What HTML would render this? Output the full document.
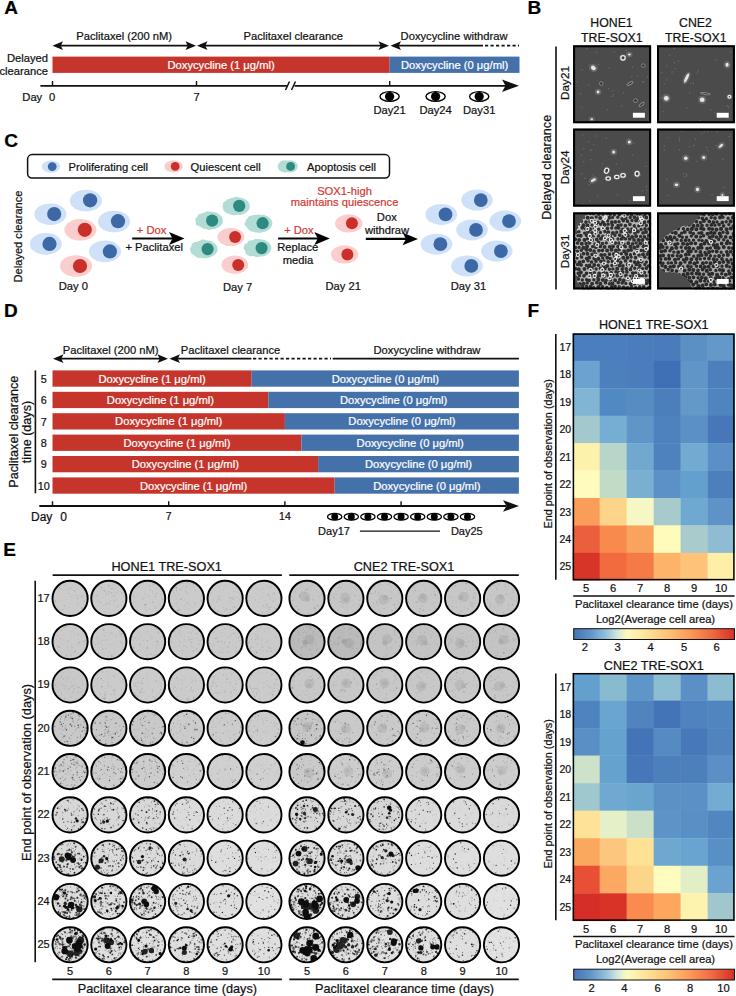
<!DOCTYPE html>
<html><head><meta charset="utf-8"><style>
html,body{margin:0;padding:0;background:#fff;}
svg{display:block;font-family:"Liberation Sans", sans-serif;}
</style></head><body>
<svg width="736" height="996" viewBox="0 0 736 996" font-family='"Liberation Sans", sans-serif'>
<rect width="736" height="996" fill="#fff"/>
<text x="4.30" y="13.60" font-size="19" text-anchor="start" fill="#000" stroke="#000" stroke-width="0.22" font-weight="bold">A</text>
<text x="527.40" y="13.90" font-size="19" text-anchor="start" fill="#000" stroke="#000" stroke-width="0.22" font-weight="bold">B</text>
<text x="4.20" y="146.60" font-size="19" text-anchor="start" fill="#000" stroke="#000" stroke-width="0.22" font-weight="bold">C</text>
<text x="4.10" y="317.00" font-size="19" text-anchor="start" fill="#000" stroke="#000" stroke-width="0.22" font-weight="bold">D</text>
<text x="3.30" y="555.70" font-size="19" text-anchor="start" fill="#000" stroke="#000" stroke-width="0.22" font-weight="bold">E</text>
<text x="527.40" y="317.20" font-size="19" text-anchor="start" fill="#000" stroke="#000" stroke-width="0.22" font-weight="bold">F</text>
<line x1="55.50" y1="45.70" x2="193.00" y2="45.70" stroke="#111" stroke-width="1.7"/>
<path d="M52.50,45.70 L63.00,41.30 L60.80,45.70 L63.00,50.10 Z" fill="#111"/>
<path d="M196.00,45.70 L185.50,41.30 L187.70,45.70 L185.50,50.10 Z" fill="#111"/>
<line x1="200.00" y1="45.70" x2="386.00" y2="45.70" stroke="#111" stroke-width="1.7"/>
<path d="M197.00,45.70 L207.50,41.30 L205.30,45.70 L207.50,50.10 Z" fill="#111"/>
<path d="M389.00,45.70 L378.50,41.30 L380.70,45.70 L378.50,50.10 Z" fill="#111"/>
<path d="M390.50,45.70 L401.00,41.30 L398.80,45.70 L401.00,50.10 Z" fill="#111"/>
<line x1="393.00" y1="45.70" x2="483.00" y2="45.70" stroke="#111" stroke-width="1.7"/>
<line x1="485.00" y1="45.70" x2="519.00" y2="45.70" stroke="#111" stroke-width="1.7" stroke-dasharray="3.2,2.3"/>
<text x="76.30" y="39.60" font-size="11.2" text-anchor="start" fill="#111" stroke="#111" stroke-width="0.22">Paclitaxel (200 nM)</text>
<text x="243.50" y="39.60" font-size="11.2" text-anchor="start" fill="#111" stroke="#111" stroke-width="0.22">Paclitaxel clearance</text>
<text x="400.60" y="39.60" font-size="11.2" text-anchor="start" fill="#111" stroke="#111" stroke-width="0.22">Doxycycline withdraw</text>
<rect x="52.50" y="56.60" width="337.20" height="16.30" fill="#c5352c"/>
<rect x="389.70" y="56.60" width="129.80" height="16.30" fill="#4571ab"/>
<text x="221.10" y="68.60" font-size="11.2" text-anchor="middle" fill="#fff" stroke="#fff" stroke-width="0.22">Doxycycline (1 μg/ml)</text>
<text x="454.60" y="68.60" font-size="11.2" text-anchor="middle" fill="#fff" stroke="#fff" stroke-width="0.22">Doxycycline (0 μg/ml)</text>
<text x="48.00" y="62.30" font-size="11.2" text-anchor="end" fill="#111" stroke="#111" stroke-width="0.22">Delayed</text>
<text x="48.00" y="74.80" font-size="11.2" text-anchor="end" fill="#111" stroke="#111" stroke-width="0.22">clearance</text>
<line x1="40.40" y1="85.80" x2="287.50" y2="85.80" stroke="#111" stroke-width="1.8"/>
<line x1="294.50" y1="85.80" x2="508.00" y2="85.80" stroke="#111" stroke-width="1.8"/>
<path d="M519,85.8 L502,79.6 L505.5,85.8 L502,92 Z" fill="#111"/>
<line x1="285.50" y1="90.00" x2="289.50" y2="81.50" stroke="#111" stroke-width="1.5"/>
<line x1="291.50" y1="90.00" x2="295.50" y2="81.50" stroke="#111" stroke-width="1.5"/>
<line x1="52.50" y1="81.00" x2="52.50" y2="85.80" stroke="#111" stroke-width="1.4"/>
<line x1="196.50" y1="81.00" x2="196.50" y2="85.80" stroke="#111" stroke-width="1.4"/>
<line x1="389.70" y1="81.00" x2="389.70" y2="85.80" stroke="#111" stroke-width="1.4"/>
<text x="22.30" y="100.60" font-size="11.2" text-anchor="start" fill="#111" stroke="#111" stroke-width="0.22">Day</text>
<text x="52.20" y="100.60" font-size="11.2" text-anchor="middle" fill="#111" stroke="#111" stroke-width="0.22">0</text>
<text x="196.50" y="100.60" font-size="11.2" text-anchor="middle" fill="#111" stroke="#111" stroke-width="0.22">7</text>
<ellipse cx="389.60" cy="96.50" rx="9.60" ry="4.90" fill="#fff" stroke="#000" stroke-width="1.4"/>
<circle cx="389.60" cy="96.50" r="4.60" fill="#000"/>
<text x="389.60" y="114.40" font-size="11.2" text-anchor="middle" fill="#111" stroke="#111" stroke-width="0.22">Day21</text>
<ellipse cx="435.60" cy="96.50" rx="9.60" ry="4.90" fill="#fff" stroke="#000" stroke-width="1.4"/>
<circle cx="435.60" cy="96.50" r="4.60" fill="#000"/>
<text x="435.60" y="114.40" font-size="11.2" text-anchor="middle" fill="#111" stroke="#111" stroke-width="0.22">Day24</text>
<ellipse cx="479.20" cy="96.50" rx="9.60" ry="4.90" fill="#fff" stroke="#000" stroke-width="1.4"/>
<circle cx="479.20" cy="96.50" r="4.60" fill="#000"/>
<text x="479.20" y="114.40" font-size="11.2" text-anchor="middle" fill="#111" stroke="#111" stroke-width="0.22">Day31</text>
<rect x="27.6" y="154.6" width="361.9" height="23.4" rx="4.5" fill="none" stroke="#111" stroke-width="1.5"/>
<ellipse cx="50.90" cy="166.60" rx="9.20" ry="6.10" fill="#cfe1f8"/>
<circle cx="52.20" cy="166.60" r="4.40" fill="#3c68a5"/>
<text x="68.50" y="170.70" font-size="11.2" text-anchor="start" fill="#111" stroke="#111" stroke-width="0.22">Proliferating cell</text>
<ellipse cx="173.60" cy="166.40" rx="9.20" ry="6.10" fill="#fbcdcd"/>
<circle cx="175.20" cy="166.40" r="4.40" fill="#c9302a"/>
<text x="190.50" y="170.70" font-size="11.2" text-anchor="start" fill="#111" stroke="#111" stroke-width="0.22">Quiescent cell</text>
<ellipse cx="285.2" cy="166.4" rx="7.5" ry="6.1" fill="#b2ddd5"/>
<ellipse cx="290.20" cy="166.40" rx="7.50" ry="6.10" fill="#b2ddd5"/>
<circle cx="290.60" cy="166.40" r="4.40" fill="#2e8a80"/>
<text x="307.00" y="170.70" font-size="11.2" text-anchor="start" fill="#111" stroke="#111" stroke-width="0.22">Apoptosis cell</text>
<text transform="translate(22.00,236.50) rotate(-90)" x="0" y="0" font-size="11.1" text-anchor="middle" fill="#111" stroke="#111" stroke-width="0.22">Delayed clearance</text>
<ellipse cx="85.90" cy="200.60" rx="16.00" ry="10.80" fill="#cfe1f8"/>
<circle cx="90.10" cy="200.30" r="7.10" fill="#3c68a5"/>
<ellipse cx="50.40" cy="214.20" rx="16.00" ry="10.80" fill="#cfe1f8"/>
<circle cx="54.20" cy="214.10" r="7.10" fill="#3c68a5"/>
<ellipse cx="114.00" cy="221.50" rx="16.00" ry="10.80" fill="#cfe1f8"/>
<circle cx="118.00" cy="221.20" r="7.10" fill="#3c68a5"/>
<ellipse cx="80.40" cy="229.80" rx="16.00" ry="10.80" fill="#fbcdcd"/>
<circle cx="84.80" cy="229.80" r="7.10" fill="#c9302a"/>
<ellipse cx="45.80" cy="243.90" rx="16.00" ry="10.80" fill="#cfe1f8"/>
<circle cx="49.50" cy="243.90" r="7.10" fill="#3c68a5"/>
<ellipse cx="105.00" cy="251.40" rx="16.00" ry="10.80" fill="#cfe1f8"/>
<circle cx="109.90" cy="251.40" r="7.10" fill="#3c68a5"/>
<ellipse cx="76.10" cy="266.00" rx="16.00" ry="10.80" fill="#fbcdcd"/>
<circle cx="80.00" cy="266.00" r="7.10" fill="#c9302a"/>
<text x="73.30" y="290.40" font-size="11.2" text-anchor="middle" fill="#111" stroke="#111" stroke-width="0.22">Day 0</text>
<path d="M249.8,206.3 L249.6,207.9 L249.0,209.4 L248.0,210.9 L246.6,212.2 L244.9,213.3 L242.9,214.3 L240.7,214.9 L238.3,214.8 L236.0,215.1 L233.5,215.6 L231.3,214.8 L229.3,214.0 L227.2,213.3 L225.2,212.3 L224.1,210.9 L223.2,209.4 L222.9,207.8 L222.5,206.3 L223.2,204.8 L222.8,203.1 L224.0,201.7 L226.0,200.7 L227.4,199.5 L229.4,198.7 L231.5,198.0 L233.7,197.5 L236.0,196.8 L238.4,197.2 L240.7,197.7 L242.9,198.3 L244.9,199.3 L246.6,200.4 L248.0,201.7 L249.0,203.2 L249.6,204.7Z" fill="#b2ddd5"/>
<circle cx="239.20" cy="205.90" r="6.10" fill="#2e8a80"/>
<path d="M222.9,220.6 L222.7,222.2 L222.1,223.7 L221.1,225.2 L219.7,226.5 L218.0,227.6 L216.0,228.6 L213.8,229.2 L211.4,229.2 L209.1,230.2 L206.8,229.3 L204.5,229.0 L202.5,228.2 L200.7,227.3 L199.2,226.2 L196.7,225.4 L195.8,223.8 L196.1,222.1 L195.2,220.6 L195.2,219.0 L196.5,217.5 L197.8,216.2 L198.1,214.4 L200.6,213.9 L202.6,213.1 L204.6,212.4 L206.6,211.2 L209.1,211.4 L211.4,211.8 L213.8,212.0 L216.0,212.6 L218.0,213.6 L219.7,214.7 L221.1,216.0 L222.1,217.5 L222.7,219.0Z" fill="#b2ddd5"/>
<circle cx="212.10" cy="220.60" r="6.10" fill="#2e8a80"/>
<path d="M272.4,223.4 L272.2,225.0 L271.6,226.5 L270.6,228.0 L269.2,229.3 L267.5,230.4 L265.5,231.4 L263.3,232.0 L261.1,232.7 L258.6,232.7 L256.2,232.6 L253.9,232.1 L251.6,231.4 L249.5,230.6 L248.3,229.2 L247.1,227.8 L246.3,226.4 L244.7,225.0 L244.4,223.4 L245.9,221.9 L245.5,220.2 L247.2,219.0 L247.8,217.4 L249.4,216.1 L251.7,215.4 L254.0,214.9 L256.3,214.8 L258.6,214.5 L260.9,214.9 L263.3,214.8 L265.5,215.4 L267.5,216.4 L269.2,217.5 L270.6,218.8 L271.6,220.3 L272.2,221.8Z" fill="#b2ddd5"/>
<circle cx="262.60" cy="223.20" r="6.10" fill="#2e8a80"/>
<ellipse cx="230.90" cy="236.90" rx="13.40" ry="9.20" fill="#fbcdcd"/>
<circle cx="235.10" cy="236.90" r="6.00" fill="#c9302a"/>
<path d="M217.6,249.1 L217.4,250.7 L216.8,252.2 L215.8,253.7 L214.4,255.0 L212.7,256.1 L210.7,257.1 L208.5,257.7 L206.2,258.2 L203.8,258.4 L201.5,257.7 L199.0,257.9 L196.8,257.2 L195.0,256.1 L193.5,254.8 L191.7,253.8 L190.8,252.3 L190.3,250.7 L189.9,249.1 L190.4,247.5 L191.6,246.1 L191.5,244.4 L192.9,243.0 L194.9,242.1 L197.4,241.7 L199.4,241.0 L201.3,239.7 L203.8,239.5 L206.1,240.3 L208.5,240.5 L210.7,241.1 L212.7,242.1 L214.4,243.2 L215.8,244.5 L216.8,246.0 L217.4,247.5Z" fill="#b2ddd5"/>
<circle cx="207.60" cy="249.10" r="6.10" fill="#2e8a80"/>
<path d="M271.4,248.0 L271.2,249.6 L270.6,251.1 L269.6,252.6 L268.2,253.9 L266.5,255.0 L264.5,256.0 L262.3,256.6 L259.9,256.6 L257.6,257.2 L255.3,256.7 L253.2,256.1 L250.5,256.2 L248.3,255.4 L246.6,254.2 L245.4,252.7 L245.3,251.0 L244.2,249.6 L243.5,248.0 L244.3,246.4 L244.1,244.7 L246.3,243.6 L247.7,242.5 L248.4,240.7 L251.1,240.4 L253.2,239.9 L255.2,239.0 L257.6,238.9 L259.9,239.3 L262.3,239.4 L264.5,240.0 L266.5,241.0 L268.2,242.1 L269.6,243.4 L270.6,244.9 L271.2,246.4Z" fill="#b2ddd5"/>
<circle cx="261.60" cy="248.10" r="6.10" fill="#2e8a80"/>
<ellipse cx="234.90" cy="264.80" rx="13.40" ry="9.20" fill="#fbcdcd"/>
<circle cx="238.20" cy="265.00" r="6.00" fill="#c9302a"/>
<text x="237.50" y="290.50" font-size="11.2" text-anchor="middle" fill="#111" stroke="#111" stroke-width="0.22">Day 7</text>
<line x1="132.20" y1="238.50" x2="174.50" y2="238.50" stroke="#000" stroke-width="2.2"/>
<path d="M184.50,238.50 L169.00,232.10 L172.50,238.50 L169.00,244.90 Z" fill="#000"/>
<text x="151.60" y="233.80" font-size="11.2" text-anchor="middle" fill="#d23b33" stroke="#d23b33" stroke-width="0.22">+ Dox</text>
<text x="154.20" y="251.10" font-size="11.2" text-anchor="middle" fill="#111" stroke="#111" stroke-width="0.22">+ Paclitaxel</text>
<line x1="278.10" y1="238.50" x2="319.80" y2="238.50" stroke="#000" stroke-width="2.2"/>
<path d="M329.80,238.50 L314.30,232.10 L317.80,238.50 L314.30,244.90 Z" fill="#000"/>
<text x="298.90" y="234.00" font-size="11.2" text-anchor="middle" fill="#d23b33" stroke="#d23b33" stroke-width="0.22">+ Dox</text>
<text x="297.70" y="251.30" font-size="11.2" text-anchor="middle" fill="#111" stroke="#111" stroke-width="0.22">Replace</text>
<text x="297.90" y="263.60" font-size="11.2" text-anchor="middle" fill="#111" stroke="#111" stroke-width="0.22">media</text>
<text x="344.50" y="195.30" font-size="11.2" text-anchor="middle" fill="#d23b33" stroke="#d23b33" stroke-width="0.22">SOX1-high</text>
<text x="344.60" y="206.10" font-size="11.2" text-anchor="middle" fill="#d23b33" stroke="#d23b33" stroke-width="0.22">maintains quiescence</text>
<ellipse cx="348.80" cy="223.40" rx="13.70" ry="9.20" fill="#fbcdcd"/>
<circle cx="351.90" cy="223.20" r="6.00" fill="#c9302a"/>
<ellipse cx="344.60" cy="254.40" rx="13.70" ry="9.20" fill="#fbcdcd"/>
<circle cx="347.40" cy="254.40" r="6.00" fill="#c9302a"/>
<text x="343.20" y="290.00" font-size="11.2" text-anchor="middle" fill="#111" stroke="#111" stroke-width="0.22">Day 21</text>
<line x1="365.80" y1="238.90" x2="408.00" y2="238.90" stroke="#000" stroke-width="2.2"/>
<path d="M418.00,238.90 L402.50,232.50 L406.00,238.90 L402.50,245.30 Z" fill="#000"/>
<text x="386.80" y="221.00" font-size="11.2" text-anchor="middle" fill="#111" stroke="#111" stroke-width="0.22">Dox</text>
<text x="387.00" y="233.60" font-size="11.2" text-anchor="middle" fill="#111" stroke="#111" stroke-width="0.22">withdraw</text>
<ellipse cx="477.00" cy="200.10" rx="15.80" ry="10.50" fill="#cfe1f8"/>
<circle cx="480.80" cy="200.10" r="6.90" fill="#3c68a5"/>
<ellipse cx="441.30" cy="214.40" rx="15.80" ry="10.50" fill="#cfe1f8"/>
<circle cx="445.50" cy="214.40" r="6.90" fill="#3c68a5"/>
<ellipse cx="505.30" cy="221.10" rx="15.80" ry="10.50" fill="#cfe1f8"/>
<circle cx="509.00" cy="221.10" r="6.90" fill="#3c68a5"/>
<ellipse cx="472.00" cy="229.90" rx="15.80" ry="10.50" fill="#cfe1f8"/>
<circle cx="476.00" cy="229.90" r="6.90" fill="#3c68a5"/>
<ellipse cx="436.50" cy="244.20" rx="15.80" ry="10.50" fill="#cfe1f8"/>
<circle cx="440.40" cy="244.20" r="6.90" fill="#3c68a5"/>
<ellipse cx="496.80" cy="251.10" rx="15.80" ry="10.50" fill="#cfe1f8"/>
<circle cx="500.90" cy="251.10" r="6.90" fill="#3c68a5"/>
<ellipse cx="467.00" cy="265.90" rx="15.80" ry="10.50" fill="#cfe1f8"/>
<circle cx="471.30" cy="265.90" r="6.90" fill="#3c68a5"/>
<text x="468.50" y="289.70" font-size="11.2" text-anchor="middle" fill="#111" stroke="#111" stroke-width="0.22">Day 31</text>
<line x1="56.00" y1="358.70" x2="165.00" y2="358.70" stroke="#111" stroke-width="1.7"/>
<path d="M53.00,358.70 L63.50,354.30 L61.30,358.70 L63.50,363.10 Z" fill="#111"/>
<path d="M168.00,358.70 L157.50,354.30 L159.70,358.70 L157.50,363.10 Z" fill="#111"/>
<path d="M169.50,358.70 L180.00,354.30 L177.80,358.70 L180.00,363.10 Z" fill="#111"/>
<line x1="172.00" y1="358.70" x2="251.40" y2="358.70" stroke="#111" stroke-width="1.7"/>
<line x1="253.00" y1="358.70" x2="331.00" y2="358.70" stroke="#111" stroke-width="1.7" stroke-dasharray="3.2,2.3"/>
<line x1="332.70" y1="358.70" x2="518.90" y2="358.70" stroke="#111" stroke-width="1.7"/>
<text x="62.80" y="354.10" font-size="11.2" text-anchor="start" fill="#111" stroke="#111" stroke-width="0.22">Paclitaxel (200 nM)</text>
<text x="180.80" y="353.90" font-size="11.2" text-anchor="start" fill="#111" stroke="#111" stroke-width="0.22">Paclitaxel clearance</text>
<text x="373.50" y="353.90" font-size="11.2" text-anchor="start" fill="#111" stroke="#111" stroke-width="0.22">Doxycycline withdraw</text>
<rect x="52.50" y="370.40" width="199.20" height="16.30" fill="#c5352c"/>
<rect x="251.70" y="370.40" width="267.20" height="16.30" fill="#4571ab"/>
<text x="152.10" y="382.50" font-size="11.2" text-anchor="middle" fill="#fff" stroke="#fff" stroke-width="0.22">Doxycycline (1 μg/ml)</text>
<text x="385.30" y="382.50" font-size="11.2" text-anchor="middle" fill="#fff" stroke="#fff" stroke-width="0.22">Doxycycline (0 μg/ml)</text>
<text x="43.70" y="382.80" font-size="10.8" text-anchor="middle" fill="#111" stroke="#111" stroke-width="0.22">5</text>
<rect x="52.50" y="391.80" width="215.80" height="16.30" fill="#c5352c"/>
<rect x="268.30" y="391.80" width="250.60" height="16.30" fill="#4571ab"/>
<text x="160.40" y="403.90" font-size="11.2" text-anchor="middle" fill="#fff" stroke="#fff" stroke-width="0.22">Doxycycline (1 μg/ml)</text>
<text x="393.60" y="403.90" font-size="11.2" text-anchor="middle" fill="#fff" stroke="#fff" stroke-width="0.22">Doxycycline (0 μg/ml)</text>
<text x="43.70" y="404.20" font-size="10.8" text-anchor="middle" fill="#111" stroke="#111" stroke-width="0.22">6</text>
<rect x="52.50" y="413.20" width="232.40" height="16.30" fill="#c5352c"/>
<rect x="284.90" y="413.20" width="234.00" height="16.30" fill="#4571ab"/>
<text x="168.70" y="425.30" font-size="11.2" text-anchor="middle" fill="#fff" stroke="#fff" stroke-width="0.22">Doxycycline (1 μg/ml)</text>
<text x="401.90" y="425.30" font-size="11.2" text-anchor="middle" fill="#fff" stroke="#fff" stroke-width="0.22">Doxycycline (0 μg/ml)</text>
<text x="43.70" y="425.60" font-size="10.8" text-anchor="middle" fill="#111" stroke="#111" stroke-width="0.22">7</text>
<rect x="52.50" y="434.60" width="249.00" height="16.30" fill="#c5352c"/>
<rect x="301.50" y="434.60" width="217.40" height="16.30" fill="#4571ab"/>
<text x="177.00" y="446.70" font-size="11.2" text-anchor="middle" fill="#fff" stroke="#fff" stroke-width="0.22">Doxycycline (1 μg/ml)</text>
<text x="410.20" y="446.70" font-size="11.2" text-anchor="middle" fill="#fff" stroke="#fff" stroke-width="0.22">Doxycycline (0 μg/ml)</text>
<text x="43.70" y="447.00" font-size="10.8" text-anchor="middle" fill="#111" stroke="#111" stroke-width="0.22">8</text>
<rect x="52.50" y="456.00" width="265.60" height="16.30" fill="#c5352c"/>
<rect x="318.10" y="456.00" width="200.80" height="16.30" fill="#4571ab"/>
<text x="185.30" y="468.10" font-size="11.2" text-anchor="middle" fill="#fff" stroke="#fff" stroke-width="0.22">Doxycycline (1 μg/ml)</text>
<text x="418.50" y="468.10" font-size="11.2" text-anchor="middle" fill="#fff" stroke="#fff" stroke-width="0.22">Doxycycline (0 μg/ml)</text>
<text x="43.70" y="468.40" font-size="10.8" text-anchor="middle" fill="#111" stroke="#111" stroke-width="0.22">9</text>
<rect x="52.50" y="477.40" width="282.20" height="16.30" fill="#c5352c"/>
<rect x="334.70" y="477.40" width="184.20" height="16.30" fill="#4571ab"/>
<text x="193.60" y="489.50" font-size="11.2" text-anchor="middle" fill="#fff" stroke="#fff" stroke-width="0.22">Doxycycline (1 μg/ml)</text>
<text x="426.80" y="489.50" font-size="11.2" text-anchor="middle" fill="#fff" stroke="#fff" stroke-width="0.22">Doxycycline (0 μg/ml)</text>
<text x="43.70" y="489.80" font-size="10.8" text-anchor="middle" fill="#111" stroke="#111" stroke-width="0.22">10</text>
<line x1="35.40" y1="370.40" x2="35.40" y2="493.30" stroke="#111" stroke-width="1.6"/>
<text transform="translate(18.20,431.70) rotate(-90)" x="0" y="0" font-size="12.6" text-anchor="middle" fill="#111" stroke="#111" stroke-width="0.22">Paclitaxel clearance</text>
<text transform="translate(30.90,432.00) rotate(-90)" x="0" y="0" font-size="12.6" text-anchor="middle" fill="#111" stroke="#111" stroke-width="0.22">time (days)</text>
<line x1="39.30" y1="506.00" x2="506.00" y2="506.00" stroke="#111" stroke-width="1.8"/>
<path d="M519,506 L503,500.3 L506.5,506 L503,511.7 Z" fill="#111"/>
<line x1="52.50" y1="501.20" x2="52.50" y2="506.00" stroke="#111" stroke-width="1.4"/>
<line x1="168.70" y1="501.20" x2="168.70" y2="506.00" stroke="#111" stroke-width="1.4"/>
<line x1="284.90" y1="501.20" x2="284.90" y2="506.00" stroke="#111" stroke-width="1.4"/>
<line x1="401.10" y1="501.20" x2="401.10" y2="506.00" stroke="#111" stroke-width="1.4"/>
<text x="31.00" y="521.30" font-size="12" text-anchor="start" fill="#111" stroke="#111" stroke-width="0.22">Day</text>
<text x="63.70" y="521.30" font-size="12" text-anchor="middle" fill="#111" stroke="#111" stroke-width="0.22">0</text>
<text x="168.70" y="520.40" font-size="10.5" text-anchor="middle" fill="#111" stroke="#111" stroke-width="0.22">7</text>
<text x="284.90" y="520.40" font-size="10.5" text-anchor="middle" fill="#111" stroke="#111" stroke-width="0.22">14</text>
<ellipse cx="334.70" cy="516.70" rx="7.15" ry="3.35" fill="#fff" stroke="#000" stroke-width="1.3"/>
<circle cx="334.70" cy="516.70" r="3.50" fill="#000"/>
<ellipse cx="351.30" cy="516.70" rx="7.15" ry="3.35" fill="#fff" stroke="#000" stroke-width="1.3"/>
<circle cx="351.30" cy="516.70" r="3.50" fill="#000"/>
<ellipse cx="367.90" cy="516.70" rx="7.15" ry="3.35" fill="#fff" stroke="#000" stroke-width="1.3"/>
<circle cx="367.90" cy="516.70" r="3.50" fill="#000"/>
<ellipse cx="384.50" cy="516.70" rx="7.15" ry="3.35" fill="#fff" stroke="#000" stroke-width="1.3"/>
<circle cx="384.50" cy="516.70" r="3.50" fill="#000"/>
<ellipse cx="401.10" cy="516.70" rx="7.15" ry="3.35" fill="#fff" stroke="#000" stroke-width="1.3"/>
<circle cx="401.10" cy="516.70" r="3.50" fill="#000"/>
<ellipse cx="417.70" cy="516.70" rx="7.15" ry="3.35" fill="#fff" stroke="#000" stroke-width="1.3"/>
<circle cx="417.70" cy="516.70" r="3.50" fill="#000"/>
<ellipse cx="434.30" cy="516.70" rx="7.15" ry="3.35" fill="#fff" stroke="#000" stroke-width="1.3"/>
<circle cx="434.30" cy="516.70" r="3.50" fill="#000"/>
<ellipse cx="450.90" cy="516.70" rx="7.15" ry="3.35" fill="#fff" stroke="#000" stroke-width="1.3"/>
<circle cx="450.90" cy="516.70" r="3.50" fill="#000"/>
<ellipse cx="467.50" cy="516.70" rx="7.15" ry="3.35" fill="#fff" stroke="#000" stroke-width="1.3"/>
<circle cx="467.50" cy="516.70" r="3.50" fill="#000"/>
<text x="334.00" y="534.80" font-size="11" text-anchor="middle" fill="#111" stroke="#111" stroke-width="0.22">Day17</text>
<text x="466.80" y="534.80" font-size="11" text-anchor="middle" fill="#111" stroke="#111" stroke-width="0.22">Day25</text>
<line x1="359.90" y1="531.10" x2="440.00" y2="531.10" stroke="#111" stroke-width="1.3"/>
<text x="611.50" y="27.40" font-size="12.3" text-anchor="middle" fill="#111" stroke="#111" stroke-width="0.22">HONE1</text>
<text x="611.80" y="41.50" font-size="12.3" text-anchor="middle" fill="#111" stroke="#111" stroke-width="0.22">TRE-SOX1</text>
<text x="695.50" y="27.40" font-size="12.3" text-anchor="middle" fill="#111" stroke="#111" stroke-width="0.22">CNE2</text>
<text x="695.80" y="41.50" font-size="12.3" text-anchor="middle" fill="#111" stroke="#111" stroke-width="0.22">TRE-SOX1</text>
<line x1="556.00" y1="46.40" x2="556.00" y2="289.40" stroke="#111" stroke-width="1.6"/>
<text transform="translate(550.60,167.30) rotate(-90)" x="0" y="0" font-size="12.7" text-anchor="middle" fill="#111" stroke="#111" stroke-width="0.22">Delayed clearance</text>
<text transform="translate(569.20,83.00) rotate(-90)" x="0" y="0" font-size="11.7" text-anchor="middle" fill="#111" stroke="#111" stroke-width="0.22">Day21</text>
<text transform="translate(569.20,167.30) rotate(-90)" x="0" y="0" font-size="11.7" text-anchor="middle" fill="#111" stroke="#111" stroke-width="0.22">Day24</text>
<text transform="translate(569.20,251.30) rotate(-90)" x="0" y="0" font-size="11.7" text-anchor="middle" fill="#111" stroke="#111" stroke-width="0.22">Day31</text>
<defs><filter id="soft" x="-5%" y="-5%" width="110%" height="110%"><feGaussianBlur stdDeviation="0.45"/></filter><filter id="soft2" x="-10%" y="-10%" width="120%" height="120%"><feGaussianBlur stdDeviation="0.3"/></filter></defs>
<g filter="url(#soft)">
<rect x="573.10" y="45.30" width="78.00" height="77.90" fill="#4b4b4b"/>
<path d="M608.6 88.7h0M643.5 81.7h0M612.7 90.7h0M588.8 85.1h0M621.7 105.9h0M582.1 69.7h0M581.8 107.1h0M626.4 50.4h0M647.8 118.6h0M623.5 92.8h0M586.8 48.4h0M614.2 51.7h0M589.2 65.2h0M577.3 81.6h0M607.7 109.6h0M613.5 94.6h0M612.1 96.3h0M608.9 67.9h0M648.9 120.9h0M637.3 99.6h0M598.4 64.3h0M596.5 52.5h0M631.8 76.9h0M637.7 75.9h0M646.0 109.9h0M575.1 62.8h0M642.5 82.0h0M647.6 76.7h0M580.5 93.8h0M632.7 67.2h0" stroke="#6e6e6e" stroke-width="1.4" stroke-linecap="round"/>
<ellipse cx="623.0" cy="57.8" rx="3.7" ry="3.7" transform="rotate(0 623.0 57.8)" fill="#6a6a6a" fill-opacity="0.6"/>
<ellipse cx="623.0" cy="57.8" rx="2.2" ry="2.2" transform="rotate(0 623.0 57.8)" fill="#3a3a3a" stroke="#eeeeee" stroke-width="1.3"/>
<ellipse cx="593.4" cy="67.9" rx="4.4" ry="3.8" transform="rotate(30 593.4 67.9)" fill="#787878" fill-opacity="0.6"/>
<ellipse cx="593.4" cy="67.9" rx="2.6" ry="2.0" transform="rotate(30 593.4 67.9)" fill="#e6e6e6"/>
<ellipse cx="630.0" cy="83.5" rx="3.2" ry="1.2" transform="rotate(-30 630.0 83.5)" fill="#333" stroke="#8a8a8a" stroke-width="1"/>
<ellipse cx="601.2" cy="83.5" rx="1.8" ry="1.8" transform="rotate(0 601.2 83.5)" fill="#333" stroke="#8a8a8a" stroke-width="1"/>
<ellipse cx="598.1" cy="92.0" rx="3.2" ry="3.2" transform="rotate(0 598.1 92.0)" fill="#787878" fill-opacity="0.6"/>
<ellipse cx="598.1" cy="92.0" rx="1.4" ry="1.4" transform="rotate(0 598.1 92.0)" fill="#e6e6e6"/>
<ellipse cx="635.5" cy="100.6" rx="2.0" ry="1.8" transform="rotate(0 635.5 100.6)" fill="#333" stroke="#8a8a8a" stroke-width="1"/>
<ellipse cx="641.7" cy="104.5" rx="3.0" ry="1.2" transform="rotate(-40 641.7 104.5)" fill="#333" stroke="#8a8a8a" stroke-width="1"/>
<ellipse cx="643.3" cy="65.6" rx="1.8" ry="1.8" transform="rotate(0 643.3 65.6)" fill="#333" stroke="#8a8a8a" stroke-width="1"/>
<ellipse cx="629.3" cy="54.6" rx="3.2" ry="2.8" transform="rotate(0 629.3 54.6)" fill="#787878" fill-opacity="0.6"/>
<ellipse cx="629.3" cy="54.6" rx="1.4" ry="1.0" transform="rotate(0 629.3 54.6)" fill="#e6e6e6"/>
<ellipse cx="591.8" cy="119.3" rx="3.0" ry="2.8" transform="rotate(0 591.8 119.3)" fill="#787878" fill-opacity="0.6"/>
<ellipse cx="591.8" cy="119.3" rx="1.2" ry="1.0" transform="rotate(0 591.8 119.3)" fill="#e6e6e6"/>
</g>
<rect x="574.10" y="46.30" width="76.00" height="75.90" fill="none" stroke="#000" stroke-width="2"/>
<rect x="632.90" y="112.80" width="12.0" height="4.9" fill="#fff"/>
<g filter="url(#soft)">
<rect x="573.10" y="128.60" width="78.00" height="78.00" fill="#4b4b4b"/>
<path d="M581.5 155.2h0M646.4 186.7h0M583.8 148.8h0M582.6 135.0h0M634.1 143.7h0M616.5 163.7h0M589.2 184.8h0M584.8 178.2h0M583.7 161.7h0M590.9 150.6h0M646.9 190.1h0M597.6 196.1h0M590.7 159.8h0M638.3 178.1h0M582.5 203.8h0M590.9 149.7h0M632.3 154.9h0M597.0 136.0h0M581.8 173.7h0M593.1 175.1h0M602.6 164.1h0M646.1 166.4h0M617.6 194.7h0M588.6 142.0h0M642.3 191.1h0M593.6 144.6h0M629.8 200.2h0M589.6 200.9h0M640.4 175.3h0M606.3 138.3h0" stroke="#6e6e6e" stroke-width="1.4" stroke-linecap="round"/>
<ellipse cx="613.7" cy="152.0" rx="3.3" ry="3.3" transform="rotate(0 613.7 152.0)" fill="#787878" fill-opacity="0.6"/>
<ellipse cx="613.7" cy="152.0" rx="1.5" ry="1.5" transform="rotate(0 613.7 152.0)" fill="#e6e6e6"/>
<ellipse cx="606.6" cy="170.7" rx="3.5" ry="4.1" transform="rotate(20 606.6 170.7)" fill="#6a6a6a" fill-opacity="0.6"/>
<ellipse cx="606.6" cy="170.7" rx="2.0" ry="2.6" transform="rotate(20 606.6 170.7)" fill="#3a3a3a" stroke="#eeeeee" stroke-width="1.3"/>
<ellipse cx="608.2" cy="178.5" rx="3.7" ry="3.1" transform="rotate(0 608.2 178.5)" fill="#6a6a6a" fill-opacity="0.6"/>
<ellipse cx="608.2" cy="178.5" rx="2.2" ry="1.6" transform="rotate(0 608.2 178.5)" fill="#3a3a3a" stroke="#eeeeee" stroke-width="1.3"/>
<ellipse cx="616.8" cy="177.0" rx="3.7" ry="3.1" transform="rotate(0 616.8 177.0)" fill="#6a6a6a" fill-opacity="0.6"/>
<ellipse cx="616.8" cy="177.0" rx="2.2" ry="1.6" transform="rotate(0 616.8 177.0)" fill="#3a3a3a" stroke="#eeeeee" stroke-width="1.3"/>
<ellipse cx="623.0" cy="175.4" rx="3.7" ry="3.3" transform="rotate(0 623.0 175.4)" fill="#6a6a6a" fill-opacity="0.6"/>
<ellipse cx="623.0" cy="175.4" rx="2.2" ry="1.8" transform="rotate(0 623.0 175.4)" fill="#3a3a3a" stroke="#eeeeee" stroke-width="1.3"/>
<ellipse cx="593.4" cy="180.1" rx="4.6" ry="3.2" transform="rotate(-30 593.4 180.1)" fill="#787878" fill-opacity="0.6"/>
<ellipse cx="593.4" cy="180.1" rx="2.8" ry="1.4" transform="rotate(-30 593.4 180.1)" fill="#e6e6e6"/>
<ellipse cx="637.1" cy="173.8" rx="3.5" ry="3.9" transform="rotate(0 637.1 173.8)" fill="#6a6a6a" fill-opacity="0.6"/>
<ellipse cx="637.1" cy="173.8" rx="2.0" ry="2.4" transform="rotate(0 637.1 173.8)" fill="#3a3a3a" stroke="#eeeeee" stroke-width="1.3"/>
<ellipse cx="629.3" cy="141.9" rx="3.3" ry="3.3" transform="rotate(0 629.3 141.9)" fill="#787878" fill-opacity="0.6"/>
<ellipse cx="629.3" cy="141.9" rx="1.5" ry="1.5" transform="rotate(0 629.3 141.9)" fill="#e6e6e6"/>
</g>
<rect x="574.10" y="129.60" width="76.00" height="76.00" fill="none" stroke="#000" stroke-width="2"/>
<rect x="632.90" y="196.20" width="12.0" height="4.9" fill="#fff"/>
<g filter="url(#soft)">
<rect x="573.10" y="212.40" width="78.00" height="77.00" fill="#4b4b4b"/>
<clipPath id="hcA"><path d="M587.1,212.4 L651.1,212.4 L651.1,289.4 L583.1,289.4 L577.1,281.7 L574.1,266.3 L574.1,239.35 L578.1,226.26 Z"/></clipPath>
<g clip-path="url(#hcA)"><rect x="573.1" y="212.4" width="78.0" height="77.0" fill="#b4b4b4"/>
<path d="M570.3 211.2h0M583.7 211.2h0M608.7 210.5h0M630.3 211.2h0M634.3 209.6h0M638.7 210.1h0M572.9 214.4h0M578.1 213.9h0M586.1 213.8h0M614.3 214.9h0M637.0 214.1h0M640.1 214.4h0M644.8 214.6h0M653.8 213.5h0M571.1 218.3h0M596.2 216.9h0M612.4 217.6h0M617.8 217.3h0M622.0 218.6h0M630.2 217.5h0M642.6 216.9h0M651.7 217.7h0M573.0 221.9h0M581.4 221.3h0M598.1 222.2h0M607.6 220.7h0M619.0 221.8h0M632.0 220.5h0M640.1 221.9h0M592.1 225.1h0M596.1 224.3h0M600.7 224.2h0M608.2 224.3h0M621.1 225.0h0M634.3 225.8h0M638.7 225.9h0M646.3 225.4h0M585.6 228.7h0M598.6 229.3h0M611.7 228.1h0M615.9 228.0h0M627.9 229.0h0M631.8 229.0h0M641.1 229.5h0M648.8 229.0h0M653.5 228.6h0M576.0 232.3h0M578.9 231.8h0M584.6 233.1h0M600.4 232.5h0M604.9 231.5h0M616.7 232.3h0M651.3 232.8h0M573.0 236.4h0M577.9 235.6h0M593.7 235.8h0M615.0 235.2h0M640.6 236.4h0M587.5 238.8h0M605.5 238.9h0M608.8 239.6h0M618.0 239.0h0M625.6 238.9h0M651.3 239.2h0M586.0 243.5h0M594.9 244.0h0M602.5 243.5h0M606.3 242.9h0M611.7 242.7h0M624.0 243.9h0M636.1 242.9h0M579.1 247.4h0M592.6 246.6h0M625.5 246.7h0M643.2 246.5h0M646.2 246.1h0M577.5 251.1h0M581.3 250.2h0M636.9 250.1h0M641.3 250.4h0M648.4 251.4h0M571.4 254.7h0M576.0 254.7h0M579.7 255.0h0M595.7 253.9h0M617.8 253.5h0M621.3 253.7h0M630.4 254.7h0M634.4 253.8h0M577.0 258.0h0M581.7 257.3h0M586.4 258.5h0M602.7 257.9h0M610.3 258.5h0M631.2 257.1h0M640.8 258.4h0M653.1 257.8h0M588.0 260.8h0M604.0 260.9h0M608.2 261.8h0M617.5 260.8h0M630.7 260.9h0M646.4 262.1h0M651.2 261.8h0M586.4 265.4h0M598.4 265.3h0M611.8 265.4h0M644.8 264.5h0M648.4 265.9h0M653.5 265.0h0M570.5 269.0h0M588.4 268.0h0M596.1 269.0h0M600.2 268.2h0M609.4 269.3h0M612.9 268.9h0M634.7 268.2h0M642.5 268.7h0M578.1 273.2h0M590.4 272.6h0M594.3 272.8h0M606.7 273.1h0M611.3 272.4h0M615.9 271.8h0M635.6 272.9h0M576.0 277.1h0M579.6 275.7h0M621.0 275.8h0M630.2 276.1h0M646.0 275.8h0M572.4 280.3h0M582.3 280.0h0M586.6 279.8h0M593.9 279.8h0M606.2 280.3h0M636.9 279.3h0M644.6 280.2h0M587.3 283.0h0M609.4 283.7h0M625.8 283.4h0M634.6 283.9h0M637.9 282.8h0M642.4 282.7h0M593.7 287.7h0M606.8 287.4h0M619.2 286.7h0M631.5 286.4h0M639.7 286.7h0M574.8 290.0h0M579.5 290.1h0M600.6 290.7h0M604.5 291.4h0M612.6 290.0h0M617.7 290.8h0M626.0 290.0h0M630.0 290.5h0M634.9 291.5h0" stroke="#2e2e2e" stroke-width="3.4" stroke-linecap="round"/>
<path d="M575.7 210.2h0M580.1 210.6h0M592.7 210.6h0M599.6 210.0h0M604.2 209.6h0M612.4 209.7h0M624.9 209.5h0M651.3 210.9h0M593.5 213.6h0M602.9 214.0h0M610.2 214.2h0M619.4 214.3h0M623.2 213.2h0M575.7 218.5h0M580.1 217.0h0M583.3 217.2h0M605.1 217.8h0M634.4 217.2h0M637.9 218.1h0M586.0 222.1h0M594.7 222.2h0M611.7 222.2h0M615.3 221.9h0M623.3 220.6h0M627.5 221.2h0M648.8 221.7h0M612.3 225.1h0M618.1 225.6h0M625.4 225.7h0M629.9 224.3h0M603.3 228.9h0M607.5 228.3h0M618.7 227.9h0M622.9 229.3h0M635.5 228.8h0M645.0 228.9h0M592.0 232.8h0M596.1 232.2h0M626.4 233.1h0M635.0 232.9h0M643.0 232.9h0M586.5 235.2h0M590.8 236.3h0M598.5 235.8h0M602.9 236.3h0M610.3 235.5h0M619.7 235.1h0M644.4 236.8h0M648.7 235.4h0M653.1 236.2h0M592.3 239.9h0M596.8 239.4h0M629.6 239.0h0M634.0 239.9h0M647.3 239.0h0M577.6 243.0h0M598.6 242.4h0M615.4 243.1h0M619.1 243.0h0M632.6 243.8h0M652.8 242.6h0M575.4 247.5h0M595.8 247.2h0M609.6 246.8h0M618.0 246.5h0M630.3 246.7h0M637.7 246.2h0M594.1 251.0h0M598.9 250.6h0M602.4 250.3h0M619.1 249.7h0M631.1 249.9h0M652.9 251.0h0M583.4 253.7h0M592.0 254.3h0M604.8 254.8h0M609.5 254.2h0M639.0 255.0h0M647.4 254.1h0M614.4 257.7h0M618.8 258.5h0M635.5 257.7h0M644.9 257.0h0M649.2 257.9h0M574.8 261.8h0M583.3 261.3h0M591.6 262.0h0M596.0 261.1h0M600.9 261.3h0M612.5 261.4h0M620.7 262.4h0M625.5 260.8h0M634.6 262.1h0M572.8 264.6h0M577.7 264.5h0M581.1 264.9h0M589.6 265.3h0M615.7 264.6h0M619.5 265.6h0M622.9 265.9h0M636.3 264.4h0M639.8 265.7h0M622.2 269.0h0M626.2 268.8h0M630.5 269.5h0M651.1 268.7h0M573.4 273.0h0M586.5 273.4h0M618.7 272.6h0M622.7 272.1h0M626.9 271.9h0M632.7 273.1h0M639.6 271.7h0M644.3 272.5h0M653.7 272.0h0M584.0 275.8h0M588.7 275.8h0M597.1 276.7h0M599.7 275.7h0M604.0 276.5h0M578.3 279.0h0M589.2 280.3h0M619.9 279.4h0M632.8 279.0h0M640.6 280.0h0M570.6 282.8h0M596.8 282.7h0M605.5 282.7h0M618.2 282.6h0M622.2 282.8h0M573.5 286.3h0M582.4 286.6h0M586.6 286.6h0M590.5 286.6h0M602.5 286.8h0M611.7 286.6h0M615.1 286.3h0M635.6 287.9h0M643.7 286.8h0M648.7 287.8h0M596.1 291.5h0M622.1 291.6h0M638.8 290.4h0M641.8 290.8h0M646.5 290.5h0M651.3 290.3h0" stroke="#2e2e2e" stroke-width="3.7" stroke-linecap="round"/>
<path d="M587.2 210.4h0M595.8 211.1h0M618.2 210.7h0M621.5 211.2h0M641.7 210.5h0M645.9 211.2h0M582.3 214.2h0M590.2 213.3h0M598.8 213.9h0M607.4 213.3h0M627.2 214.3h0M631.4 214.8h0M649.5 213.8h0M587.7 217.7h0M591.8 218.3h0M600.1 217.9h0M609.2 217.8h0M625.6 217.9h0M646.3 217.4h0M576.7 222.1h0M590.1 221.6h0M603.0 221.9h0M636.1 220.5h0M644.5 222.3h0M653.8 221.3h0M570.4 224.5h0M575.4 225.6h0M579.7 225.1h0M583.3 225.3h0M587.4 225.6h0M604.7 224.8h0M641.9 224.5h0M651.1 224.3h0M573.3 229.3h0M577.0 228.1h0M582.3 227.8h0M590.1 229.3h0M594.4 228.7h0M570.3 232.4h0M588.0 231.7h0M608.3 232.2h0M612.9 233.1h0M621.2 231.6h0M630.0 231.8h0M637.9 231.6h0M646.0 232.0h0M580.7 235.7h0M607.7 235.1h0M623.2 236.7h0M627.9 235.8h0M632.1 236.9h0M636.1 236.2h0M571.9 239.5h0M575.1 239.3h0M579.1 239.9h0M584.5 239.9h0M600.9 238.8h0M612.3 238.9h0M621.7 238.9h0M638.5 239.9h0M642.4 240.1h0M573.2 242.9h0M581.8 243.7h0M589.4 242.8h0M628.3 243.2h0M640.2 243.6h0M644.3 243.4h0M649.4 242.7h0M570.3 246.2h0M583.4 247.7h0M587.1 246.6h0M600.3 246.3h0M604.6 247.1h0M613.0 246.4h0M622.1 246.1h0M634.2 247.5h0M651.0 247.8h0M573.8 250.5h0M586.5 249.8h0M590.3 249.9h0M607.1 250.6h0M611.5 249.8h0M615.9 250.4h0M624.2 251.3h0M628.1 250.6h0M644.3 250.4h0M587.4 253.8h0M601.2 255.0h0M613.8 254.0h0M626.2 254.0h0M643.0 254.6h0M650.3 255.0h0M572.5 258.3h0M589.2 257.5h0M594.3 258.6h0M598.3 258.7h0M607.3 257.8h0M623.3 257.7h0M627.5 257.8h0M571.7 262.2h0M579.7 262.3h0M638.3 262.3h0M641.6 261.4h0M594.3 264.9h0M603.5 265.2h0M607.2 266.0h0M627.7 264.5h0M631.3 265.9h0M575.2 268.7h0M578.8 269.3h0M584.4 269.1h0M591.9 268.0h0M604.8 268.6h0M617.2 268.7h0M639.0 268.9h0M646.4 268.1h0M580.9 272.4h0M599.1 273.4h0M603.4 272.8h0M649.5 272.0h0M571.8 275.3h0M592.5 275.5h0M608.3 275.7h0M612.7 275.8h0M617.3 275.5h0M626.0 275.8h0M634.0 276.2h0M639.0 275.3h0M642.1 275.7h0M650.4 275.8h0M598.4 279.8h0M602.9 279.9h0M610.3 279.7h0M615.1 280.3h0M623.7 280.5h0M627.8 279.0h0M648.0 280.6h0M653.3 280.0h0M575.2 283.8h0M579.9 284.0h0M583.7 283.8h0M592.1 283.8h0M600.4 283.8h0M612.5 283.4h0M630.7 283.8h0M646.5 283.2h0M650.4 282.9h0M577.5 287.9h0M598.4 287.0h0M623.6 287.6h0M627.6 287.9h0M652.7 287.6h0M571.4 290.4h0M583.4 290.7h0M588.2 290.8h0M591.7 291.2h0M608.2 290.6h0" stroke="#2e2e2e" stroke-width="4.0" stroke-linecap="round"/>
<path d="M589.0 269.9a1.6 1.6 0 1 0 3.2 0a1.6 1.6 0 1 0 -3.2 0M639.8 272.5a1.6 1.6 0 1 0 3.2 0a1.6 1.6 0 1 0 -3.2 0M593.0 276.0a1.6 1.6 0 1 0 3.2 0a1.6 1.6 0 1 0 -3.2 0M640.3 279.5a1.6 1.6 0 1 0 3.2 0a1.6 1.6 0 1 0 -3.2 0M640.0 280.2a1.6 1.6 0 1 0 3.2 0a1.6 1.6 0 1 0 -3.2 0M601.7 275.5a1.6 1.6 0 1 0 3.2 0a1.6 1.6 0 1 0 -3.2 0M626.3 278.3a1.6 1.6 0 1 0 3.2 0a1.6 1.6 0 1 0 -3.2 0M620.7 242.7a1.6 1.6 0 1 0 3.2 0a1.6 1.6 0 1 0 -3.2 0M639.1 217.6a1.6 1.6 0 1 0 3.2 0a1.6 1.6 0 1 0 -3.2 0M590.1 220.8a1.6 1.6 0 1 0 3.2 0a1.6 1.6 0 1 0 -3.2 0M613.6 258.9a1.6 1.6 0 1 0 3.2 0a1.6 1.6 0 1 0 -3.2 0M644.1 242.7a1.6 1.6 0 1 0 3.2 0a1.6 1.6 0 1 0 -3.2 0M623.7 234.8a1.6 1.6 0 1 0 3.2 0a1.6 1.6 0 1 0 -3.2 0M593.9 233.7a1.6 1.6 0 1 0 3.2 0a1.6 1.6 0 1 0 -3.2 0M593.5 222.8a1.6 1.6 0 1 0 3.2 0a1.6 1.6 0 1 0 -3.2 0M632.5 230.2a1.6 1.6 0 1 0 3.2 0a1.6 1.6 0 1 0 -3.2 0M585.8 229.0a1.6 1.6 0 1 0 3.2 0a1.6 1.6 0 1 0 -3.2 0M595.6 244.9a1.6 1.6 0 1 0 3.2 0a1.6 1.6 0 1 0 -3.2 0M633.4 278.3a1.6 1.6 0 1 0 3.2 0a1.6 1.6 0 1 0 -3.2 0M635.6 251.8a1.6 1.6 0 1 0 3.2 0a1.6 1.6 0 1 0 -3.2 0M609.2 239.9a1.6 1.6 0 1 0 3.2 0a1.6 1.6 0 1 0 -3.2 0M627.7 264.7a1.6 1.6 0 1 0 3.2 0a1.6 1.6 0 1 0 -3.2 0M587.7 276.2a1.6 1.6 0 1 0 3.2 0a1.6 1.6 0 1 0 -3.2 0M593.9 226.8a1.6 1.6 0 1 0 3.2 0a1.6 1.6 0 1 0 -3.2 0M644.6 248.9a1.6 1.6 0 1 0 3.2 0a1.6 1.6 0 1 0 -3.2 0M631.4 281.3a1.6 1.6 0 1 0 3.2 0a1.6 1.6 0 1 0 -3.2 0M602.3 263.6a1.6 1.6 0 1 0 3.2 0a1.6 1.6 0 1 0 -3.2 0M634.5 276.1a1.6 1.6 0 1 0 3.2 0a1.6 1.6 0 1 0 -3.2 0M623.1 230.8a1.6 1.6 0 1 0 3.2 0a1.6 1.6 0 1 0 -3.2 0M594.0 255.8a1.6 1.6 0 1 0 3.2 0a1.6 1.6 0 1 0 -3.2 0M603.3 238.3a1.6 1.6 0 1 0 3.2 0a1.6 1.6 0 1 0 -3.2 0M622.8 215.7a1.6 1.6 0 1 0 3.2 0a1.6 1.6 0 1 0 -3.2 0M603.9 217.7a1.6 1.6 0 1 0 3.2 0a1.6 1.6 0 1 0 -3.2 0M614.8 255.0a1.6 1.6 0 1 0 3.2 0a1.6 1.6 0 1 0 -3.2 0M618.9 274.1a1.6 1.6 0 1 0 3.2 0a1.6 1.6 0 1 0 -3.2 0M588.1 236.0a1.6 1.6 0 1 0 3.2 0a1.6 1.6 0 1 0 -3.2 0M613.3 263.3a1.6 1.6 0 1 0 3.2 0a1.6 1.6 0 1 0 -3.2 0M576.2 254.9a1.6 1.6 0 1 0 3.2 0a1.6 1.6 0 1 0 -3.2 0M608.0 278.3a1.6 1.6 0 1 0 3.2 0a1.6 1.6 0 1 0 -3.2 0M600.7 269.8a1.6 1.6 0 1 0 3.2 0a1.6 1.6 0 1 0 -3.2 0M609.2 275.0a1.6 1.6 0 1 0 3.2 0a1.6 1.6 0 1 0 -3.2 0M639.2 259.7a1.6 1.6 0 1 0 3.2 0a1.6 1.6 0 1 0 -3.2 0M619.6 247.3a1.6 1.6 0 1 0 3.2 0a1.6 1.6 0 1 0 -3.2 0M593.6 230.6a1.6 1.6 0 1 0 3.2 0a1.6 1.6 0 1 0 -3.2 0M577.9 224.7a1.6 1.6 0 1 0 3.2 0a1.6 1.6 0 1 0 -3.2 0M589.3 240.1a1.6 1.6 0 1 0 3.2 0a1.6 1.6 0 1 0 -3.2 0M601.3 228.3a1.6 1.6 0 1 0 3.2 0a1.6 1.6 0 1 0 -3.2 0M603.3 219.1a1.6 1.6 0 1 0 3.2 0a1.6 1.6 0 1 0 -3.2 0M576.0 227.8a1.6 1.6 0 1 0 3.2 0a1.6 1.6 0 1 0 -3.2 0M616.9 256.5a1.6 1.6 0 1 0 3.2 0a1.6 1.6 0 1 0 -3.2 0M638.0 270.6a1.6 1.6 0 1 0 3.2 0a1.6 1.6 0 1 0 -3.2 0M640.1 219.3a1.6 1.6 0 1 0 3.2 0a1.6 1.6 0 1 0 -3.2 0M610.6 242.1a1.6 1.6 0 1 0 3.2 0a1.6 1.6 0 1 0 -3.2 0M607.0 235.6a1.6 1.6 0 1 0 3.2 0a1.6 1.6 0 1 0 -3.2 0M639.1 223.3a1.6 1.6 0 1 0 3.2 0a1.6 1.6 0 1 0 -3.2 0" fill="#3a3a3a" stroke="#f2f2f2" stroke-width="1.1"/>
</g>
</g>
<rect x="574.10" y="213.40" width="76.00" height="75.00" fill="none" stroke="#000" stroke-width="2"/>
<rect x="632.90" y="279.00" width="12.0" height="4.9" fill="#fff"/>
<g filter="url(#soft)">
<rect x="657.00" y="45.30" width="77.90" height="77.90" fill="#4b4b4b"/>
<path d="M727.3 105.7h0M669.5 55.8h0M666.7 65.9h0M678.3 61.0h0M661.8 72.6h0M697.3 73.1h0M674.3 48.4h0M690.5 83.4h0M730.1 64.9h0M666.9 79.9h0M714.9 112.1h0M664.3 84.0h0M663.1 111.6h0M730.9 52.2h0M728.6 107.3h0M672.2 72.0h0M727.6 117.9h0M675.2 68.6h0M689.7 92.7h0M661.3 97.7h0M693.4 83.4h0M665.5 95.3h0M698.3 70.7h0M729.7 119.0h0M700.4 120.8h0M687.0 107.6h0M710.7 109.7h0M728.9 95.9h0M674.4 62.8h0M715.6 60.0h0" stroke="#6e6e6e" stroke-width="1.4" stroke-linecap="round"/>
<ellipse cx="686.6" cy="78.0" rx="3.2" ry="6.8" transform="rotate(25 686.6 78.0)" fill="#787878" fill-opacity="0.6"/>
<ellipse cx="686.6" cy="78.0" rx="1.4" ry="5.0" transform="rotate(25 686.6 78.0)" fill="#e6e6e6"/>
<ellipse cx="727.1" cy="64.8" rx="3.4" ry="3.8" transform="rotate(0 727.1 64.8)" fill="#787878" fill-opacity="0.6"/>
<ellipse cx="727.1" cy="64.8" rx="1.6" ry="2.0" transform="rotate(0 727.1 64.8)" fill="#e6e6e6"/>
<ellipse cx="666.3" cy="98.3" rx="4.2" ry="4.2" transform="rotate(0 666.3 98.3)" fill="#787878" fill-opacity="0.6"/>
<ellipse cx="666.3" cy="98.3" rx="2.4" ry="2.4" transform="rotate(0 666.3 98.3)" fill="#e6e6e6"/>
<ellipse cx="702.2" cy="99.8" rx="4.2" ry="4.0" transform="rotate(0 702.2 99.8)" fill="#787878" fill-opacity="0.6"/>
<ellipse cx="702.2" cy="99.8" rx="2.4" ry="2.2" transform="rotate(0 702.2 99.8)" fill="#e6e6e6"/>
<ellipse cx="729.4" cy="96.7" rx="2.9" ry="2.9" transform="rotate(0 729.4 96.7)" fill="#6a6a6a" fill-opacity="0.6"/>
<ellipse cx="729.4" cy="96.7" rx="1.4" ry="1.4" transform="rotate(0 729.4 96.7)" fill="#3a3a3a" stroke="#eeeeee" stroke-width="1.3"/>
<ellipse cx="705.3" cy="93.6" rx="5.0" ry="0.8" transform="rotate(10 705.3 93.6)" fill="#333" stroke="#8a8a8a" stroke-width="1"/>
</g>
<rect x="658.00" y="46.30" width="75.90" height="75.90" fill="none" stroke="#000" stroke-width="2"/>
<rect x="716.70" y="112.80" width="12.0" height="4.9" fill="#fff"/>
<g filter="url(#soft)">
<rect x="657.00" y="128.60" width="77.90" height="78.00" fill="#4b4b4b"/>
<path d="M701.9 133.7h0M679.6 149.7h0M684.4 176.7h0M681.7 131.2h0M664.1 145.8h0M712.0 195.0h0M715.9 145.4h0M664.3 150.3h0M686.7 175.9h0M679.6 140.5h0M668.1 137.6h0M697.0 161.5h0M695.4 139.3h0M668.1 195.5h0M729.4 136.4h0M706.9 147.3h0M694.3 145.3h0M689.6 146.9h0M706.3 157.8h0M683.6 173.8h0M707.7 150.4h0M707.9 131.5h0M704.1 131.7h0M686.7 174.5h0M723.0 159.3h0M679.6 138.2h0M724.0 187.5h0M666.7 179.3h0M692.5 146.1h0M717.4 131.8h0" stroke="#6e6e6e" stroke-width="1.4" stroke-linecap="round"/>
<ellipse cx="720.9" cy="145.8" rx="3.0" ry="4.4" transform="rotate(50 720.9 145.8)" fill="#787878" fill-opacity="0.6"/>
<ellipse cx="720.9" cy="145.8" rx="1.2" ry="2.6" transform="rotate(50 720.9 145.8)" fill="#e6e6e6"/>
<ellipse cx="685.8" cy="158.2" rx="3.6" ry="3.6" transform="rotate(0 685.8 158.2)" fill="#787878" fill-opacity="0.6"/>
<ellipse cx="685.8" cy="158.2" rx="1.8" ry="1.8" transform="rotate(0 685.8 158.2)" fill="#e6e6e6"/>
<ellipse cx="703.7" cy="157.5" rx="3.3" ry="3.3" transform="rotate(0 703.7 157.5)" fill="#787878" fill-opacity="0.6"/>
<ellipse cx="703.7" cy="157.5" rx="1.5" ry="1.5" transform="rotate(0 703.7 157.5)" fill="#e6e6e6"/>
<ellipse cx="676.5" cy="184.8" rx="3.6" ry="3.2" transform="rotate(0 676.5 184.8)" fill="#787878" fill-opacity="0.6"/>
<ellipse cx="676.5" cy="184.8" rx="1.8" ry="1.4" transform="rotate(0 676.5 184.8)" fill="#e6e6e6"/>
<ellipse cx="697.5" cy="189.4" rx="3.4" ry="3.6" transform="rotate(0 697.5 189.4)" fill="#787878" fill-opacity="0.6"/>
<ellipse cx="697.5" cy="189.4" rx="1.6" ry="1.8" transform="rotate(0 697.5 189.4)" fill="#e6e6e6"/>
<ellipse cx="722.4" cy="194.9" rx="2.8" ry="2.8" transform="rotate(0 722.4 194.9)" fill="#787878" fill-opacity="0.6"/>
<ellipse cx="722.4" cy="194.9" rx="1.0" ry="1.0" transform="rotate(0 722.4 194.9)" fill="#e6e6e6"/>
</g>
<rect x="658.00" y="129.60" width="75.90" height="76.00" fill="none" stroke="#000" stroke-width="2"/>
<rect x="716.70" y="196.20" width="12.0" height="4.9" fill="#fff"/>
<g filter="url(#soft)">
<rect x="657.00" y="212.40" width="77.90" height="77.00" fill="#4b4b4b"/>
<clipPath id="hcB"><path d="M702.182,212.4 L734.9,212.4 L734.9,289.4 L692.8340000000001,289.4 L686.602,278.62 L675.696,272.46000000000004 L664.79,272.46000000000004 L658.0,267.84000000000003 L657.0,244.74 L666.348,235.5 L680.37,226.26 L692.0550000000001,224.72 Z"/></clipPath>
<g clip-path="url(#hcB)"><rect x="657.0" y="212.4" width="77.9" height="77.0" fill="#a8a8a8"/>
<path d="M654.2 210.6h0M680.7 209.9h0M690.3 210.7h0M694.5 210.4h0M705.7 211.2h0M731.7 210.2h0M660.7 213.7h0M669.8 213.7h0M696.1 215.0h0M716.6 213.8h0M734.2 214.1h0M663.4 217.5h0M698.0 217.4h0M720.1 217.4h0M733.0 217.4h0M687.5 220.8h0M703.9 220.9h0M730.6 221.4h0M668.7 224.8h0M673.0 225.4h0M693.5 225.9h0M661.5 228.5h0M678.1 228.6h0M691.9 228.9h0M696.4 229.3h0M709.1 228.7h0M716.5 229.6h0M721.0 228.9h0M726.6 229.3h0M730.8 228.5h0M734.9 229.3h0M663.5 232.6h0M675.7 232.9h0M684.7 232.0h0M701.5 233.0h0M707.5 233.7h0M711.0 232.7h0M719.7 233.6h0M727.3 232.8h0M670.2 237.1h0M679.4 235.8h0M696.2 236.6h0M720.8 236.4h0M658.7 240.6h0M711.6 240.4h0M656.6 243.4h0M661.0 244.7h0M675.2 244.5h0M683.1 243.7h0M687.3 244.2h0M691.1 243.3h0M701.0 244.9h0M726.8 243.2h0M659.8 247.8h0M671.9 248.4h0M676.3 247.8h0M698.3 248.0h0M715.6 247.5h0M723.8 247.1h0M736.3 247.9h0M661.4 251.5h0M665.1 250.7h0M678.2 252.3h0M690.9 251.2h0M709.1 252.1h0M716.7 251.5h0M680.9 256.1h0M685.9 254.8h0M698.3 255.8h0M706.2 254.7h0M719.1 256.1h0M727.8 254.9h0M669.2 258.8h0M675.0 259.7h0M686.6 258.9h0M691.4 259.3h0M660.2 262.8h0M680.6 263.2h0M690.0 262.7h0M694.4 263.5h0M702.9 263.2h0M710.5 263.3h0M714.8 262.2h0M728.3 262.0h0M737.0 263.1h0M665.4 266.9h0M673.8 266.2h0M679.1 266.6h0M704.6 267.1h0M708.6 266.7h0M717.5 266.1h0M726.8 265.9h0M734.1 266.6h0M655.8 269.9h0M684.7 270.6h0M689.2 269.7h0M693.3 270.0h0M706.8 270.9h0M723.0 270.4h0M661.3 274.6h0M669.6 273.5h0M683.5 274.7h0M687.7 273.9h0M699.4 274.0h0M709.2 274.3h0M712.2 273.7h0M717.1 274.9h0M725.8 274.7h0M729.7 273.6h0M654.9 277.4h0M675.9 277.0h0M680.8 277.4h0M685.6 277.6h0M705.8 278.3h0M715.9 278.3h0M691.0 281.4h0M696.4 282.4h0M700.4 280.6h0M725.2 280.6h0M735.0 282.2h0M663.8 285.4h0M681.1 284.4h0M684.7 286.0h0M688.6 284.8h0M693.2 284.8h0M698.4 286.1h0M702.6 285.6h0M710.9 285.0h0M723.6 286.0h0M728.8 284.6h0M731.5 285.5h0M657.1 288.1h0M683.7 288.5h0M712.9 288.7h0M734.2 288.6h0" stroke="#2c2c2c" stroke-width="4.1" stroke-linecap="round"/>
<path d="M659.0 211.1h0M663.9 209.8h0M672.2 210.7h0M685.5 211.3h0M697.5 210.2h0M702.3 209.7h0M728.9 211.1h0M736.8 209.7h0M656.8 214.2h0M674.2 213.3h0M678.8 213.5h0M682.9 214.8h0M687.8 214.1h0M701.0 214.0h0M704.0 214.7h0M709.2 214.5h0M721.9 214.8h0M725.8 213.8h0M655.9 218.0h0M659.4 217.9h0M668.1 217.4h0M676.8 217.6h0M680.0 218.5h0M689.2 217.4h0M706.4 218.7h0M711.2 217.6h0M723.0 217.3h0M728.1 218.3h0M657.4 221.4h0M661.1 221.9h0M669.7 221.3h0M674.9 221.9h0M692.0 221.8h0M700.5 222.5h0M717.0 222.0h0M726.2 221.7h0M735.4 221.7h0M654.3 225.0h0M680.1 225.8h0M685.6 225.0h0M707.0 225.2h0M714.9 225.2h0M728.8 224.6h0M736.5 224.7h0M674.9 228.4h0M683.4 228.8h0M672.3 232.6h0M681.6 233.1h0M693.4 233.5h0M698.8 233.1h0M723.1 232.2h0M733.2 233.6h0M656.6 236.2h0M662.3 237.4h0M666.4 237.4h0M682.3 237.3h0M686.6 237.3h0M691.4 236.0h0M700.6 236.9h0M703.6 235.8h0M676.9 239.8h0M681.3 240.4h0M688.9 240.2h0M693.5 240.1h0M698.9 240.1h0M702.2 240.6h0M714.4 241.2h0M718.7 239.5h0M723.7 239.7h0M727.6 241.0h0M733.2 240.0h0M736.1 240.7h0M665.7 243.8h0M670.8 243.4h0M677.8 243.7h0M730.1 243.3h0M733.7 243.9h0M667.0 247.5h0M681.2 247.2h0M693.4 248.6h0M710.4 248.0h0M669.9 250.8h0M673.9 252.1h0M682.2 251.3h0M695.9 251.3h0M705.0 252.4h0M712.6 251.2h0M721.2 252.3h0M735.3 251.8h0M668.8 255.5h0M677.2 255.8h0M689.1 254.4h0M693.7 256.2h0M710.5 255.8h0M714.9 256.1h0M723.4 255.2h0M733.3 254.5h0M660.9 259.2h0M678.5 258.9h0M683.5 259.8h0M700.3 258.9h0M704.5 258.5h0M716.9 259.6h0M726.8 259.8h0M731.1 259.7h0M655.4 262.7h0M663.1 263.3h0M668.2 263.0h0M671.5 262.9h0M675.7 262.7h0M685.0 262.1h0M697.3 262.4h0M706.4 262.6h0M662.1 265.7h0M682.7 266.9h0M691.1 266.7h0M696.5 266.2h0M722.0 266.3h0M729.9 266.9h0M668.2 269.5h0M680.7 269.4h0M710.4 269.7h0M715.9 270.5h0M728.7 270.9h0M736.4 270.9h0M657.8 274.4h0M679.2 274.7h0M703.6 274.3h0M721.7 273.8h0M733.9 274.3h0M658.4 277.3h0M672.4 277.3h0M698.1 277.8h0M723.1 277.7h0M728.8 278.6h0M662.3 280.7h0M678.8 281.6h0M704.7 281.0h0M708.3 281.1h0M713.9 281.6h0M718.2 280.9h0M722.2 281.9h0M729.6 280.9h0M736.8 284.7h0M662.1 288.1h0M674.8 288.2h0M678.0 288.4h0M687.0 288.2h0M690.9 288.7h0M696.0 288.5h0M699.6 288.3h0M703.7 289.0h0M721.3 289.8h0M725.4 288.7h0" stroke="#2c2c2c" stroke-width="3.4" stroke-linecap="round"/>
<path d="M667.7 210.3h0M677.3 211.3h0M711.1 210.8h0M715.5 211.2h0M720.0 209.7h0M723.2 210.2h0M665.0 214.2h0M692.4 214.2h0M712.7 214.4h0M729.8 213.4h0M672.1 217.8h0M684.5 217.7h0M694.1 217.0h0M702.3 218.3h0M715.0 218.1h0M736.3 218.4h0M665.6 221.1h0M679.5 221.6h0M683.2 221.7h0M696.4 221.6h0M709.2 221.4h0M713.4 222.2h0M722.3 222.4h0M659.9 224.7h0M663.6 224.5h0M677.0 225.4h0M689.1 224.8h0M697.8 225.5h0M702.0 225.5h0M711.3 224.9h0M719.1 224.6h0M723.6 225.8h0M733.3 226.1h0M657.6 228.4h0M665.5 228.5h0M669.7 228.5h0M687.7 229.3h0M701.0 228.4h0M703.6 229.2h0M712.4 229.1h0M654.6 232.0h0M659.6 232.9h0M667.4 233.1h0M690.2 232.3h0M714.6 232.9h0M736.0 232.5h0M674.5 237.3h0M709.6 237.2h0M712.8 236.1h0M716.5 237.1h0M725.7 236.9h0M730.5 237.4h0M734.0 236.0h0M654.9 239.8h0M663.2 240.4h0M668.0 239.5h0M671.7 240.0h0M685.4 240.3h0M706.3 240.9h0M695.4 243.3h0M704.5 243.5h0M709.0 243.4h0M713.6 244.9h0M717.1 245.0h0M721.6 243.5h0M655.8 247.0h0M662.8 247.0h0M685.8 248.0h0M689.3 248.0h0M701.7 247.8h0M707.1 248.6h0M718.8 248.1h0M728.9 247.8h0M732.7 248.1h0M657.3 250.8h0M688.1 251.5h0M700.4 251.9h0M726.8 251.8h0M730.8 251.7h0M655.9 254.7h0M660.2 256.0h0M663.2 255.5h0M672.6 255.6h0M701.7 255.2h0M737.4 255.4h0M657.6 259.1h0M665.6 258.8h0M696.6 259.0h0M709.0 258.5h0M713.6 259.2h0M722.0 259.0h0M734.6 258.1h0M719.4 262.7h0M723.3 261.9h0M732.4 263.5h0M658.0 267.0h0M670.3 266.8h0M687.9 266.2h0M700.6 266.4h0M713.4 266.2h0M659.8 270.2h0M663.2 270.8h0M672.1 270.3h0M676.6 271.1h0M698.0 270.3h0M702.6 269.6h0M719.9 269.8h0M732.6 270.0h0M665.4 274.0h0M674.0 274.3h0M691.9 273.5h0M696.5 273.5h0M663.1 277.4h0M667.0 277.5h0M689.4 277.6h0M693.5 277.3h0M701.9 277.4h0M710.8 277.8h0M719.4 277.5h0M731.6 277.3h0M736.8 277.8h0M656.3 281.1h0M664.9 280.8h0M670.4 281.9h0M674.5 282.3h0M683.1 280.9h0M687.7 281.0h0M655.8 284.9h0M660.0 285.7h0M667.1 285.3h0M672.9 285.5h0M676.9 284.7h0M706.3 284.3h0M714.8 284.5h0M720.4 285.0h0M665.5 288.5h0M670.3 289.4h0M708.2 289.0h0M717.4 288.8h0M730.1 289.5h0" stroke="#2c2c2c" stroke-width="3.8" stroke-linecap="round"/>
<path d="M667.9 242.6a1.6 1.6 0 1 0 3.2 0a1.6 1.6 0 1 0 -3.2 0M709.3 241.8a1.6 1.6 0 1 0 3.2 0a1.6 1.6 0 1 0 -3.2 0M709.2 279.9a1.6 1.6 0 1 0 3.2 0a1.6 1.6 0 1 0 -3.2 0M661.3 235.6a1.6 1.6 0 1 0 3.2 0a1.6 1.6 0 1 0 -3.2 0M679.5 268.7a1.6 1.6 0 1 0 3.2 0a1.6 1.6 0 1 0 -3.2 0M714.8 265.1a1.6 1.6 0 1 0 3.2 0a1.6 1.6 0 1 0 -3.2 0" fill="#3a3a3a" stroke="#f2f2f2" stroke-width="1.1"/>
</g>
</g>
<rect x="658.00" y="213.40" width="75.90" height="75.00" fill="none" stroke="#000" stroke-width="2"/>
<rect x="716.70" y="279.00" width="12.0" height="4.9" fill="#fff"/>
<text x="166.70" y="570.60" font-size="12.7" text-anchor="middle" fill="#111" stroke="#111" stroke-width="0.22">HONE1 TRE-SOX1</text>
<text x="404.00" y="570.60" font-size="12.7" text-anchor="middle" fill="#111" stroke="#111" stroke-width="0.22">CNE2 TRE-SOX1</text>
<line x1="52.60" y1="575.10" x2="281.90" y2="575.10" stroke="#111" stroke-width="1.6"/>
<line x1="289.30" y1="575.10" x2="518.80" y2="575.10" stroke="#111" stroke-width="1.6"/>
<line x1="52.20" y1="979.40" x2="281.90" y2="979.40" stroke="#111" stroke-width="1.6"/>
<line x1="289.30" y1="979.40" x2="518.80" y2="979.40" stroke="#111" stroke-width="1.6"/>
<text x="167.40" y="992.50" font-size="12.7" text-anchor="middle" fill="#111" stroke="#111" stroke-width="0.22">Paclitaxel clearance time (days)</text>
<text x="404.50" y="992.50" font-size="12.7" text-anchor="middle" fill="#111" stroke="#111" stroke-width="0.22">Paclitaxel clearance time (days)</text>
<line x1="35.20" y1="580.80" x2="35.20" y2="962.30" stroke="#111" stroke-width="1.6"/>
<text transform="translate(30.80,772.50) rotate(-90)" x="0" y="0" font-size="12.8" text-anchor="middle" fill="#111" stroke="#111" stroke-width="0.22">End point of observation (days)</text>
<defs><clipPath id="dc"><circle cx="0" cy="0" r="17.2"/></clipPath></defs>
<text x="43.60" y="601.80" font-size="11" text-anchor="middle" fill="#111" stroke="#111" stroke-width="0.22">17</text>
<g transform="translate(70.10,598.40)"><circle r="17.9" fill="rgb(203,203,203)"/><g clip-path="url(#dc)"><g filter="url(#soft2)"><path d="M8.0 -12.5h0M-3.9 3.7h0M0.5 0.5h0M2.4 -16.3h0M-3.0 9.6h0M4.6 10.6h0M-3.5 -12.8h0M15.9 3.7h0M-3.6 -8.6h0M-10.5 3.0h0M3.1 -9.2h0M8.7 6.9h0M9.4 -2.6h0" stroke="rgb(193,193,193)" stroke-width="1.0" stroke-linecap="round"/><path d="M-1.3 -10.7h0M8.1 12.6h0M6.9 15.0h0M-11.6 -8.0h0M-7.1 11.1h0M-2.3 13.9h0M12.5 -1.5h0" stroke="rgb(193,193,193)" stroke-width="1.4" stroke-linecap="round"/><path d="M4.6 -3.3h0M-11.0 10.8h0M-1.7 -9.2h0M5.1 -7.6h0M-9.0 1.2h0M-8.3 -8.5h0M13.8 5.8h0" stroke="rgb(185,185,185)" stroke-width="1.0" stroke-linecap="round"/><path d="M1.3 -1.9h0M0.6 -16.2h0M-15.8 -1.2h0M11.3 9.1h0M14.2 2.9h0M11.2 -1.7h0M-14.6 2.4h0" stroke="rgb(185,185,185)" stroke-width="1.4" stroke-linecap="round"/><path d="M-10.4 -10.1h0M-4.0 16.0h0M-0.8 9.6h0M11.6 9.9h0" stroke="rgb(177,177,177)" stroke-width="1.0" stroke-linecap="round"/><path d="M-5.7 7.3h0M-0.6 16.3h0M-0.9 -4.7h0M7.4 4.7h0M0.6 -10.1h0M4.4 -7.4h0M-14.8 3.5h0" stroke="rgb(177,177,177)" stroke-width="1.4" stroke-linecap="round"/><path d="M-7.9 11.1h0M6.2 -3.3h0M8.5 -14.1h0M-12.2 -11.0h0" stroke="rgb(170,170,170)" stroke-width="1.0" stroke-linecap="round"/><path d="M-5.2 -13.5h0" stroke="rgb(170,170,170)" stroke-width="0.7" stroke-linecap="round"/><path d="M-10.7 -10.5h0M7.5 -0.2h0" stroke="rgb(170,170,170)" stroke-width="1.4" stroke-linecap="round"/><path d="M11.8 -3.3h0" stroke="rgb(150,150,150)" stroke-width="0.7" stroke-linecap="round"/></g></g><circle r="17.6" fill="none" stroke="#000" stroke-width="1.9"/></g>
<g transform="translate(307.00,598.40)"><circle r="17.9" fill="rgb(199,199,199)"/><g clip-path="url(#dc)"><g filter="url(#soft2)"><path d="M8.0 13.7h0M-4.7 -11.5h0M-9.4 12.8h0M-8.8 -13.9h0M-12.5 1.6h0M-10.9 -9.4h0M9.5 -8.0h0M2.1 -3.8h0" stroke="rgb(189,189,189)" stroke-width="1.4" stroke-linecap="round"/><path d="M5.7 -2.7h0M7.3 3.4h0M14.7 4.7h0" stroke="rgb(189,189,189)" stroke-width="1.0" stroke-linecap="round"/><path d="M-2.6 -1.9h0" stroke="rgb(185,185,185)" stroke-width="10" stroke-linecap="round"/><path d="M-2.3 -2.5h0M-6.9 -4.4h0M-9.7 13.2h0M-14.0 1.8h0M6.0 1.5h0M1.7 -8.2h0M8.2 1.9h0M12.1 -2.1h0M7.7 10.6h0" stroke="rgb(181,181,181)" stroke-width="1.0" stroke-linecap="round"/><path d="M10.3 7.0h0M14.7 -3.9h0M5.2 -12.4h0M-15.0 7.1h0M-7.1 -4.8h0M-0.0 2.4h0M-1.6 -8.8h0M5.9 0.6h0M9.7 -12.0h0M-5.9 -13.0h0M-11.8 -6.7h0M-1.4 -6.0h0" stroke="rgb(181,181,181)" stroke-width="1.4" stroke-linecap="round"/><path d="M0.2 0.6h0" stroke="rgb(175,175,175)" stroke-width="5" stroke-linecap="round"/><path d="M-4.6 -6.4h0M11.4 -2.3h0M-8.6 5.0h0M15.9 -4.4h0M9.8 7.9h0M-15.5 -1.8h0M-8.1 11.2h0" stroke="rgb(173,173,173)" stroke-width="1.0" stroke-linecap="round"/><path d="M8.1 10.1h0M-7.2 14.0h0M1.9 -10.8h0M7.3 9.1h0M-1.4 -2.3h0M16.6 -2.2h0" stroke="rgb(173,173,173)" stroke-width="1.4" stroke-linecap="round"/><path d="M11.8 7.6h0" stroke="rgb(170,170,170)" stroke-width="1.0" stroke-linecap="round"/><path d="M-2.1 -6.2h0M1.4 15.4h0" stroke="rgb(170,170,170)" stroke-width="1.4" stroke-linecap="round"/><path d="M-0.3 -9.0h0M-7.6 -2.5h0" stroke="rgb(150,150,150)" stroke-width="1.4" stroke-linecap="round"/><path d="M-10.8 8.0h0" stroke="rgb(150,150,150)" stroke-width="1.0" stroke-linecap="round"/><path d="M-8.3 11.0h0" stroke="rgb(150,150,150)" stroke-width="0.7" stroke-linecap="round"/></g></g><circle r="17.6" fill="none" stroke="#000" stroke-width="1.9"/></g>
<g transform="translate(108.86,598.40)"><circle r="17.9" fill="rgb(203,203,203)"/><g clip-path="url(#dc)"><g filter="url(#soft2)"><path d="M-0.7 -10.5h0M-5.1 10.2h0M1.1 -6.9h0M-7.3 -9.3h0M11.6 -11.6h0M-4.5 -12.7h0M8.1 4.8h0M-6.0 -14.7h0" stroke="rgb(193,193,193)" stroke-width="1.0" stroke-linecap="round"/><path d="M7.4 1.6h0M0.0 -13.8h0M-16.1 2.9h0M13.2 -5.3h0M4.8 -6.1h0M-6.1 -0.9h0" stroke="rgb(193,193,193)" stroke-width="1.4" stroke-linecap="round"/><path d="M14.9 -2.4h0M1.1 15.7h0M-5.0 6.5h0M-9.0 -12.1h0M-2.6 -3.7h0M7.8 -6.0h0M-3.1 -6.5h0" stroke="rgb(185,185,185)" stroke-width="1.4" stroke-linecap="round"/><path d="M6.2 2.2h0M8.9 -7.5h0M4.9 6.9h0M15.3 6.8h0M-6.7 -8.7h0M-0.4 10.7h0" stroke="rgb(185,185,185)" stroke-width="1.0" stroke-linecap="round"/><path d="M-0.6 -7.1h0M-2.8 -4.1h0M-12.9 -1.4h0M-3.5 13.3h0M13.9 3.0h0M9.7 6.3h0M-15.6 -4.2h0" stroke="rgb(177,177,177)" stroke-width="1.0" stroke-linecap="round"/><path d="M5.0 3.2h0M9.5 7.7h0M-0.0 -4.9h0M2.7 -5.7h0M2.9 -9.9h0M-8.3 4.1h0M12.9 -5.3h0M-7.3 -11.0h0M-11.0 2.7h0M1.5 2.7h0M-11.4 -2.9h0" stroke="rgb(177,177,177)" stroke-width="1.4" stroke-linecap="round"/><path d="M7.6 9.0h0M0.1 14.3h0M3.4 -3.0h0" stroke="rgb(170,170,170)" stroke-width="1.0" stroke-linecap="round"/><path d="M0.2 4.9h0M-4.5 -7.7h0M0.2 -12.7h0" stroke="rgb(170,170,170)" stroke-width="1.4" stroke-linecap="round"/><path d="M-2.4 5.7h0M5.7 -2.3h0" stroke="rgb(150,150,150)" stroke-width="1.0" stroke-linecap="round"/></g></g><circle r="17.6" fill="none" stroke="#000" stroke-width="1.9"/></g>
<g transform="translate(345.90,598.40)"><circle r="17.9" fill="rgb(199,199,199)"/><g clip-path="url(#dc)"><g filter="url(#soft2)"><path d="M8.6 10.9h0M-9.6 0.1h0M-13.9 -3.8h0M-5.7 -4.0h0M-7.8 -7.2h0M5.8 -10.2h0M3.2 -9.8h0M-5.1 0.5h0M4.4 -14.3h0M9.6 5.0h0" stroke="rgb(189,189,189)" stroke-width="1.0" stroke-linecap="round"/><path d="M-4.0 8.4h0M7.0 6.4h0M1.9 8.6h0M-9.3 -3.8h0M-12.8 -0.9h0M0.1 -12.2h0" stroke="rgb(189,189,189)" stroke-width="1.4" stroke-linecap="round"/><path d="M-0.5 -0.9h0" stroke="rgb(185,185,185)" stroke-width="10" stroke-linecap="round"/><path d="M-2.6 -8.3h0M1.3 10.9h0M12.1 9.2h0M-14.6 -3.4h0M-5.7 15.2h0M13.5 -2.7h0" stroke="rgb(181,181,181)" stroke-width="1.0" stroke-linecap="round"/><path d="M11.9 11.4h0M-4.3 -4.7h0M-15.7 1.8h0M6.1 -4.4h0M-5.2 -11.0h0M4.4 2.3h0M-8.1 12.5h0M0.0 5.3h0" stroke="rgb(181,181,181)" stroke-width="1.4" stroke-linecap="round"/><path d="M0.1 1.6h0" stroke="rgb(175,175,175)" stroke-width="5" stroke-linecap="round"/><path d="M10.4 -12.6h0M-0.9 1.6h0M-0.8 -5.1h0M-16.2 -3.4h0M0.1 0.5h0M-5.0 6.7h0M-6.4 -14.2h0M-14.2 4.6h0M11.1 -8.4h0" stroke="rgb(173,173,173)" stroke-width="1.0" stroke-linecap="round"/><path d="M2.6 4.6h0M13.7 1.9h0M-11.9 -1.0h0M13.1 6.4h0M-4.2 3.6h0M-7.1 -10.5h0" stroke="rgb(173,173,173)" stroke-width="1.4" stroke-linecap="round"/><path d="M-2.9 8.5h0M-12.0 -4.3h0M-12.1 10.7h0" stroke="rgb(170,170,170)" stroke-width="0.7" stroke-linecap="round"/><path d="M-5.8 3.1h0M-2.5 4.8h0M9.2 -2.5h0" stroke="rgb(170,170,170)" stroke-width="1.4" stroke-linecap="round"/><path d="M14.7 7.6h0" stroke="rgb(150,150,150)" stroke-width="1.4" stroke-linecap="round"/></g></g><circle r="17.6" fill="none" stroke="#000" stroke-width="1.9"/></g>
<g transform="translate(147.62,598.40)"><circle r="17.9" fill="rgb(203,203,203)"/><g clip-path="url(#dc)"><g filter="url(#soft2)"><path d="M13.8 0.1h0M-1.3 -15.1h0M-10.0 11.3h0M-9.2 -11.5h0M15.1 -4.2h0" stroke="rgb(193,193,193)" stroke-width="1.0" stroke-linecap="round"/><path d="M-5.2 8.7h0M-2.8 9.3h0M10.4 3.4h0M-10.4 -3.6h0M3.3 3.5h0M15.1 1.4h0M-3.0 -5.1h0M12.3 6.5h0M5.6 -4.9h0M12.6 -3.2h0M15.1 1.4h0" stroke="rgb(193,193,193)" stroke-width="1.4" stroke-linecap="round"/><path d="M0.4 16.3h0M9.0 -5.1h0M5.1 -6.6h0M-4.8 0.9h0M-3.9 -0.2h0M5.8 -14.1h0M-1.1 5.3h0" stroke="rgb(185,185,185)" stroke-width="1.4" stroke-linecap="round"/><path d="M16.6 0.6h0M-4.8 -10.8h0M15.0 1.5h0M-2.3 -3.9h0M7.3 -1.3h0M8.9 11.9h0M7.8 -0.3h0M-1.5 11.4h0M9.2 10.0h0M14.7 0.8h0M-13.1 -0.3h0" stroke="rgb(185,185,185)" stroke-width="1.0" stroke-linecap="round"/><path d="M-3.1 6.2h0M10.4 -12.5h0M1.4 16.1h0M7.0 9.9h0M8.1 -1.8h0M7.8 8.7h0" stroke="rgb(177,177,177)" stroke-width="1.0" stroke-linecap="round"/><path d="M-16.2 1.0h0M0.9 -2.3h0M2.3 10.7h0M-5.3 15.1h0M-1.0 12.4h0" stroke="rgb(177,177,177)" stroke-width="1.4" stroke-linecap="round"/><path d="M2.8 -7.8h0M2.1 -12.5h0M-14.1 -2.7h0M8.3 -4.2h0" stroke="rgb(170,170,170)" stroke-width="1.0" stroke-linecap="round"/><path d="M4.8 3.6h0" stroke="rgb(170,170,170)" stroke-width="1.4" stroke-linecap="round"/><path d="M-13.8 4.6h0M6.5 7.7h0" stroke="rgb(170,170,170)" stroke-width="0.7" stroke-linecap="round"/><path d="M-2.2 6.6h0" stroke="rgb(150,150,150)" stroke-width="1.4" stroke-linecap="round"/></g></g><circle r="17.6" fill="none" stroke="#000" stroke-width="1.9"/></g>
<g transform="translate(384.80,598.40)"><circle r="17.9" fill="rgb(199,199,199)"/><g clip-path="url(#dc)"><g filter="url(#soft2)"><path d="M-6.2 -12.0h0M-6.5 1.4h0M5.3 15.2h0M-8.1 5.2h0M8.6 6.6h0M-9.9 9.0h0" stroke="rgb(189,189,189)" stroke-width="1.4" stroke-linecap="round"/><path d="M9.1 -3.9h0M4.7 -7.8h0M-14.1 1.2h0M-2.1 -5.2h0M8.5 3.5h0M-5.3 1.1h0M10.8 -1.9h0M10.4 -9.6h0" stroke="rgb(189,189,189)" stroke-width="1.0" stroke-linecap="round"/><path d="M-1.2 1.3h0" stroke="rgb(185,185,185)" stroke-width="10" stroke-linecap="round"/><path d="M-7.0 -3.1h0M4.6 1.8h0M6.3 -11.7h0M-14.6 -6.4h0M13.7 3.8h0M13.3 -3.7h0M-5.2 12.1h0M-11.2 4.6h0M15.8 5.1h0M-9.4 -10.8h0M12.4 2.1h0M-4.0 -8.7h0" stroke="rgb(181,181,181)" stroke-width="1.0" stroke-linecap="round"/><path d="M-6.9 7.0h0M3.0 -14.1h0M-5.7 -6.0h0M-7.7 5.2h0M-4.8 15.0h0M-12.9 -4.7h0M13.1 5.6h0" stroke="rgb(181,181,181)" stroke-width="1.4" stroke-linecap="round"/><path d="M0.6 -0.8h0" stroke="rgb(175,175,175)" stroke-width="5" stroke-linecap="round"/><path d="M13.2 -7.8h0M-6.0 -5.1h0M-3.9 -13.7h0M-11.5 5.1h0M6.2 -6.5h0" stroke="rgb(173,173,173)" stroke-width="1.0" stroke-linecap="round"/><path d="M3.5 0.2h0M10.6 9.6h0M9.8 13.6h0M-0.6 10.0h0M14.0 -5.2h0M-3.9 -3.4h0M-8.1 3.4h0" stroke="rgb(173,173,173)" stroke-width="1.4" stroke-linecap="round"/><path d="M-14.4 -5.0h0M6.8 11.6h0" stroke="rgb(170,170,170)" stroke-width="1.0" stroke-linecap="round"/><path d="M9.6 6.1h0" stroke="rgb(170,170,170)" stroke-width="1.4" stroke-linecap="round"/><path d="M-11.8 8.1h0" stroke="rgb(150,150,150)" stroke-width="0.7" stroke-linecap="round"/><path d="M-9.5 -6.5h0M7.4 12.1h0" stroke="rgb(150,150,150)" stroke-width="1.0" stroke-linecap="round"/><path d="M6.2 -0.1h0" stroke="rgb(150,150,150)" stroke-width="1.4" stroke-linecap="round"/></g></g><circle r="17.6" fill="none" stroke="#000" stroke-width="1.9"/></g>
<g transform="translate(186.38,598.40)"><circle r="17.9" fill="rgb(203,203,203)"/><g clip-path="url(#dc)"><g filter="url(#soft2)"><path d="M-12.1 -3.3h0M-3.1 -12.8h0M2.1 -15.2h0M-11.3 -2.6h0M6.7 -3.7h0M2.4 3.2h0M13.7 -2.8h0M-15.5 -3.4h0M-3.3 -15.3h0M5.3 -12.2h0M-13.6 -3.9h0" stroke="rgb(193,193,193)" stroke-width="1.0" stroke-linecap="round"/><path d="M-5.4 -9.2h0M-2.4 1.9h0M7.2 -14.9h0M-10.2 0.8h0" stroke="rgb(193,193,193)" stroke-width="1.4" stroke-linecap="round"/><path d="M-7.4 -4.1h0M-3.2 -2.5h0M-9.0 -1.4h0M3.1 -14.0h0M9.3 -6.8h0M6.0 14.5h0M0.8 -5.6h0M2.2 10.4h0M-2.3 1.5h0M-3.5 -10.9h0" stroke="rgb(185,185,185)" stroke-width="1.0" stroke-linecap="round"/><path d="M16.3 0.1h0M-0.5 -11.9h0M0.6 -5.4h0M1.3 -15.6h0M-9.5 -10.5h0" stroke="rgb(185,185,185)" stroke-width="1.4" stroke-linecap="round"/><path d="M-6.7 11.1h0M8.6 -8.6h0M-5.8 -9.3h0M-7.7 12.1h0M-12.0 -6.3h0M-13.6 7.7h0M0.9 5.1h0M14.8 2.3h0M-5.4 -14.6h0M7.1 -14.2h0M-0.8 -7.5h0" stroke="rgb(177,177,177)" stroke-width="1.4" stroke-linecap="round"/><path d="M-1.8 7.2h0M3.4 6.1h0M6.7 -11.3h0M15.7 2.0h0" stroke="rgb(177,177,177)" stroke-width="1.0" stroke-linecap="round"/><path d="M0.5 -11.7h0" stroke="rgb(170,170,170)" stroke-width="1.0" stroke-linecap="round"/><path d="M-4.9 0.5h0" stroke="rgb(170,170,170)" stroke-width="0.7" stroke-linecap="round"/><path d="M-9.7 -7.8h0M8.5 4.7h0M-8.8 12.0h0" stroke="rgb(150,150,150)" stroke-width="1.0" stroke-linecap="round"/><path d="M-10.1 5.0h0" stroke="rgb(150,150,150)" stroke-width="0.7" stroke-linecap="round"/><path d="M-5.6 0.7h0M-10.3 -10.9h0" stroke="rgb(150,150,150)" stroke-width="1.4" stroke-linecap="round"/></g></g><circle r="17.6" fill="none" stroke="#000" stroke-width="1.9"/></g>
<g transform="translate(423.70,598.40)"><circle r="17.9" fill="rgb(199,199,199)"/><g clip-path="url(#dc)"><g filter="url(#soft2)"><path d="M9.6 -10.1h0M-10.3 -7.8h0M-13.6 4.8h0M-11.9 -7.5h0M7.2 -11.1h0M10.4 -13.1h0M7.6 7.0h0M-7.0 11.2h0M5.7 1.2h0M9.3 -0.9h0" stroke="rgb(189,189,189)" stroke-width="1.0" stroke-linecap="round"/><path d="M-15.7 1.3h0M5.4 -2.4h0M-3.5 -0.6h0M1.7 -8.3h0M-3.6 9.9h0" stroke="rgb(189,189,189)" stroke-width="1.4" stroke-linecap="round"/><path d="M-0.7 -0.1h0" stroke="rgb(185,185,185)" stroke-width="10" stroke-linecap="round"/><path d="M9.2 4.6h0M7.1 11.2h0M15.6 -1.2h0M-1.2 6.9h0M9.7 -4.4h0M-4.5 -7.0h0M12.0 -8.6h0M1.9 -7.7h0M7.8 -12.5h0" stroke="rgb(181,181,181)" stroke-width="1.0" stroke-linecap="round"/><path d="M-5.1 1.3h0M-13.1 -8.9h0M-1.4 2.9h0M8.1 -4.3h0M-7.4 3.4h0M12.1 10.2h0M15.2 -5.7h0M-0.2 -14.3h0M11.4 3.3h0" stroke="rgb(181,181,181)" stroke-width="1.4" stroke-linecap="round"/><path d="M-0.9 -1.9h0" stroke="rgb(175,175,175)" stroke-width="5" stroke-linecap="round"/><path d="M-3.6 10.3h0M11.2 -10.4h0M-15.3 3.9h0M-5.1 -0.4h0M-6.4 3.9h0M-4.0 13.4h0M-8.1 -7.6h0M-9.8 -11.0h0" stroke="rgb(173,173,173)" stroke-width="1.4" stroke-linecap="round"/><path d="M-14.9 -7.3h0M16.1 3.6h0M-11.1 12.5h0M8.5 -11.6h0" stroke="rgb(173,173,173)" stroke-width="1.0" stroke-linecap="round"/><path d="M7.4 4.1h0" stroke="rgb(170,170,170)" stroke-width="0.7" stroke-linecap="round"/><path d="M11.6 -4.1h0M-0.9 7.8h0" stroke="rgb(170,170,170)" stroke-width="1.0" stroke-linecap="round"/><path d="M-0.7 11.5h0M11.4 -3.2h0" stroke="rgb(150,150,150)" stroke-width="1.4" stroke-linecap="round"/><path d="M0.9 1.3h0M10.8 -6.8h0" stroke="rgb(150,150,150)" stroke-width="0.7" stroke-linecap="round"/></g></g><circle r="17.6" fill="none" stroke="#000" stroke-width="1.9"/></g>
<g transform="translate(225.14,598.40)"><circle r="17.9" fill="rgb(203,203,203)"/><g clip-path="url(#dc)"><g filter="url(#soft2)"><path d="M-2.8 14.1h0M-6.0 -7.2h0M-6.7 2.6h0M-8.7 3.7h0M13.2 3.7h0" stroke="rgb(193,193,193)" stroke-width="1.0" stroke-linecap="round"/><path d="M15.7 -5.7h0M6.8 0.6h0M-0.7 -13.1h0M5.2 11.3h0M-15.4 2.0h0M14.5 -3.9h0M1.6 -12.8h0M1.1 10.8h0" stroke="rgb(193,193,193)" stroke-width="1.4" stroke-linecap="round"/><path d="M2.0 11.0h0M8.0 1.0h0M-8.0 3.0h0M4.5 14.1h0M-3.4 16.3h0M4.7 -1.3h0M-3.7 -16.1h0M-4.1 1.5h0" stroke="rgb(185,185,185)" stroke-width="1.4" stroke-linecap="round"/><path d="M6.4 3.5h0M-1.8 -8.7h0M3.9 -1.6h0M-7.0 -0.1h0M9.1 -13.0h0M-5.8 13.5h0" stroke="rgb(185,185,185)" stroke-width="1.0" stroke-linecap="round"/><path d="M0.9 10.4h0M7.5 8.4h0M12.6 -6.4h0M-13.6 -6.0h0M-11.7 1.4h0M9.5 -0.5h0M-14.5 -3.7h0M14.0 1.2h0M-1.6 9.0h0M-13.6 5.5h0" stroke="rgb(177,177,177)" stroke-width="1.0" stroke-linecap="round"/><path d="M9.5 8.8h0M-6.0 -12.0h0M-11.1 10.6h0M-6.5 0.6h0M-7.4 12.8h0M7.6 -0.5h0M5.4 -0.2h0M-0.2 12.2h0" stroke="rgb(177,177,177)" stroke-width="1.4" stroke-linecap="round"/><path d="M-1.0 16.9h0" stroke="rgb(170,170,170)" stroke-width="1.3" stroke-linecap="round"/><path d="M4.5 2.8h0M12.6 -1.0h0" stroke="rgb(170,170,170)" stroke-width="1.0" stroke-linecap="round"/><path d="M-6.8 15.1h0M-5.9 -2.3h0" stroke="rgb(150,150,150)" stroke-width="1.0" stroke-linecap="round"/><path d="M8.8 -6.8h0" stroke="rgb(150,150,150)" stroke-width="0.7" stroke-linecap="round"/></g></g><circle r="17.6" fill="none" stroke="#000" stroke-width="1.9"/></g>
<g transform="translate(462.60,598.40)"><circle r="17.9" fill="rgb(199,199,199)"/><g clip-path="url(#dc)"><g filter="url(#soft2)"><path d="M-5.3 13.9h0M2.1 7.9h0M11.6 -7.5h0M-10.3 10.8h0M0.2 -16.2h0M3.8 -3.5h0M-6.7 3.2h0M-6.9 0.3h0M4.9 -1.1h0M-5.8 3.3h0M-4.6 -14.0h0" stroke="rgb(189,189,189)" stroke-width="1.4" stroke-linecap="round"/><path d="M-10.1 -1.4h0M12.6 -5.3h0M3.5 -13.7h0M13.0 -4.9h0" stroke="rgb(189,189,189)" stroke-width="1.0" stroke-linecap="round"/><path d="M1.3 -1.4h0" stroke="rgb(185,185,185)" stroke-width="10" stroke-linecap="round"/><path d="M-9.0 2.7h0M13.1 2.0h0M12.8 -9.6h0M1.7 11.6h0M-14.0 -6.9h0M0.2 -13.2h0M2.4 2.1h0" stroke="rgb(181,181,181)" stroke-width="1.0" stroke-linecap="round"/><path d="M7.7 -8.7h0M-10.2 -1.0h0M-6.3 8.8h0M-2.3 4.4h0M-16.1 2.7h0M-1.6 -6.1h0M10.6 -0.2h0" stroke="rgb(181,181,181)" stroke-width="1.4" stroke-linecap="round"/><path d="M-1.9 -0.9h0" stroke="rgb(175,175,175)" stroke-width="5" stroke-linecap="round"/><path d="M9.5 5.4h0M11.1 -2.8h0M-13.7 6.9h0M8.5 -13.9h0M-13.9 8.6h0M-11.7 -0.2h0M12.0 -5.6h0" stroke="rgb(173,173,173)" stroke-width="1.0" stroke-linecap="round"/><path d="M9.9 8.2h0M-13.6 -2.0h0M-1.3 13.1h0M11.0 -0.9h0M4.7 10.2h0M10.3 5.0h0M8.0 3.9h0M-7.4 -12.6h0M-3.7 15.4h0" stroke="rgb(173,173,173)" stroke-width="1.4" stroke-linecap="round"/><path d="M11.9 -1.0h0M-10.2 1.9h0M13.5 -4.7h0" stroke="rgb(170,170,170)" stroke-width="0.7" stroke-linecap="round"/><path d="M-10.5 8.0h0M8.6 6.6h0" stroke="rgb(150,150,150)" stroke-width="1.0" stroke-linecap="round"/><path d="M3.3 -14.8h0M9.7 -13.9h0" stroke="rgb(150,150,150)" stroke-width="1.4" stroke-linecap="round"/></g></g><circle r="17.6" fill="none" stroke="#000" stroke-width="1.9"/></g>
<g transform="translate(263.90,598.40)"><circle r="17.9" fill="rgb(203,203,203)"/><g clip-path="url(#dc)"><g filter="url(#soft2)"><path d="M-9.1 -9.2h0M-4.6 4.0h0M-11.8 -0.3h0M9.8 9.8h0M2.5 12.9h0M11.1 0.8h0M-14.0 -5.9h0M-15.7 2.6h0M-4.0 4.0h0M-6.9 -4.3h0" stroke="rgb(193,193,193)" stroke-width="1.0" stroke-linecap="round"/><path d="M9.4 -6.0h0M-14.2 -8.8h0M2.0 2.3h0M-6.5 -9.8h0M0.3 -9.9h0M6.1 15.7h0M4.4 10.1h0M0.0 9.7h0M15.0 -0.4h0M5.8 -1.1h0M-0.7 -10.1h0" stroke="rgb(193,193,193)" stroke-width="1.4" stroke-linecap="round"/><path d="M3.6 -2.5h0M9.8 -0.6h0" stroke="rgb(185,185,185)" stroke-width="1.0" stroke-linecap="round"/><path d="M7.5 9.0h0M6.2 0.7h0M14.2 7.0h0M7.6 -11.6h0M-8.6 1.6h0M-1.5 -1.5h0M6.1 -2.7h0" stroke="rgb(185,185,185)" stroke-width="1.4" stroke-linecap="round"/><path d="M-0.1 -5.3h0M10.4 9.8h0M-4.5 0.2h0M-4.3 -8.4h0M3.1 -12.4h0M-12.0 -9.8h0" stroke="rgb(177,177,177)" stroke-width="1.0" stroke-linecap="round"/><path d="M4.8 8.8h0M4.9 -10.5h0M5.3 14.1h0M8.8 -3.8h0M-1.4 14.3h0M4.4 -4.0h0M2.2 7.6h0M5.7 10.9h0M-0.6 7.5h0" stroke="rgb(177,177,177)" stroke-width="1.4" stroke-linecap="round"/><path d="M3.1 6.1h0M12.3 10.3h0" stroke="rgb(170,170,170)" stroke-width="1.3" stroke-linecap="round"/><path d="M10.7 -9.5h0" stroke="rgb(170,170,170)" stroke-width="0.7" stroke-linecap="round"/><path d="M15.4 -5.5h0" stroke="rgb(150,150,150)" stroke-width="1.3" stroke-linecap="round"/><path d="M10.5 -5.0h0M9.5 2.8h0" stroke="rgb(150,150,150)" stroke-width="1.0" stroke-linecap="round"/></g></g><circle r="17.6" fill="none" stroke="#000" stroke-width="1.9"/></g>
<g transform="translate(501.50,598.40)"><circle r="17.9" fill="rgb(199,199,199)"/><g clip-path="url(#dc)"><g filter="url(#soft2)"><path d="M-11.3 9.5h0M6.3 -11.2h0M5.5 15.6h0M6.6 11.5h0M4.9 -9.2h0M11.8 1.3h0M9.1 0.1h0M-11.8 3.9h0" stroke="rgb(189,189,189)" stroke-width="1.4" stroke-linecap="round"/><path d="M16.4 -0.4h0M9.0 11.4h0M0.5 16.5h0M3.1 12.4h0M0.3 8.3h0M5.9 -2.6h0M-3.0 7.8h0" stroke="rgb(189,189,189)" stroke-width="1.0" stroke-linecap="round"/><path d="M-1.5 1.0h0" stroke="rgb(185,185,185)" stroke-width="10" stroke-linecap="round"/><path d="M14.9 -0.1h0M-7.1 8.4h0M-2.2 -14.2h0M6.6 6.1h0M-0.7 6.7h0M11.6 -8.3h0M-10.9 -11.9h0M-10.6 5.0h0M15.2 2.8h0" stroke="rgb(181,181,181)" stroke-width="1.4" stroke-linecap="round"/><path d="M-1.6 -4.4h0M11.9 10.3h0M-8.7 -3.0h0M-0.8 11.7h0M4.7 -5.2h0M2.9 -13.9h0M5.7 2.9h0M-4.5 -10.0h0" stroke="rgb(181,181,181)" stroke-width="1.0" stroke-linecap="round"/><path d="M-0.4 -1.3h0" stroke="rgb(175,175,175)" stroke-width="5" stroke-linecap="round"/><path d="M12.8 -10.3h0M13.4 2.4h0M10.7 -1.3h0M-11.8 -11.7h0M7.6 8.2h0M-2.5 -3.4h0M11.5 -6.3h0" stroke="rgb(173,173,173)" stroke-width="1.0" stroke-linecap="round"/><path d="M-7.6 -13.2h0M-3.9 7.2h0M-11.1 7.4h0M4.9 -4.2h0M1.6 14.6h0M10.8 6.3h0" stroke="rgb(173,173,173)" stroke-width="1.4" stroke-linecap="round"/><path d="M-13.9 0.7h0M-5.0 -9.2h0" stroke="rgb(170,170,170)" stroke-width="1.3" stroke-linecap="round"/><path d="M-12.1 -3.4h0M-10.8 12.9h0" stroke="rgb(170,170,170)" stroke-width="0.7" stroke-linecap="round"/><path d="M-16.3 -3.5h0" stroke="rgb(170,170,170)" stroke-width="1.0" stroke-linecap="round"/><path d="M4.2 -12.2h0" stroke="rgb(150,150,150)" stroke-width="0.7" stroke-linecap="round"/></g></g><circle r="17.6" fill="none" stroke="#000" stroke-width="1.9"/></g>
<text x="43.60" y="645.10" font-size="11" text-anchor="middle" fill="#111" stroke="#111" stroke-width="0.22">18</text>
<g transform="translate(70.10,641.70)"><circle r="17.9" fill="rgb(202,202,202)"/><g clip-path="url(#dc)"><g filter="url(#soft2)"><path d="M4.1 -8.2h0M-12.3 5.9h0M-10.4 -1.1h0M4.8 -5.1h0M-0.1 -14.6h0M-4.6 12.7h0M-2.2 -14.1h0M-8.7 0.5h0M-2.2 1.5h0" stroke="rgb(192,192,192)" stroke-width="1.0" stroke-linecap="round"/><path d="M-15.7 5.7h0M-12.0 -4.7h0" stroke="rgb(192,192,192)" stroke-width="1.4" stroke-linecap="round"/><path d="M-2.8 5.2h0M-7.7 -1.6h0M13.3 -0.5h0M8.2 3.1h0M-8.6 -11.2h0" stroke="rgb(184,184,184)" stroke-width="1.4" stroke-linecap="round"/><path d="M1.6 -9.6h0M0.3 9.3h0M-2.3 14.5h0M-4.3 -13.9h0M-1.9 9.2h0M-12.8 9.6h0M9.6 -13.1h0M14.8 -5.5h0M7.7 -2.5h0M2.8 10.7h0" stroke="rgb(184,184,184)" stroke-width="1.0" stroke-linecap="round"/><path d="M-13.4 -2.3h0M7.5 -8.0h0M-12.9 -6.3h0M3.0 -11.5h0M3.0 15.9h0M-3.0 -0.5h0M7.1 11.6h0M-8.1 2.1h0M0.5 -6.3h0" stroke="rgb(176,176,176)" stroke-width="1.0" stroke-linecap="round"/><path d="M5.3 -13.1h0M9.7 1.1h0M-12.9 3.9h0M5.2 9.0h0M1.9 6.0h0M0.7 13.4h0M14.8 -0.5h0M-5.8 -14.5h0M4.8 10.2h0M8.9 0.6h0" stroke="rgb(176,176,176)" stroke-width="1.4" stroke-linecap="round"/><path d="M-9.6 -2.9h0M-1.4 -0.4h0" stroke="rgb(170,170,170)" stroke-width="1.0" stroke-linecap="round"/><path d="M-8.1 10.5h0" stroke="rgb(170,170,170)" stroke-width="0.7" stroke-linecap="round"/><path d="M-3.9 13.9h0M0.8 3.5h0M-16.0 -0.4h0M8.6 -6.9h0" stroke="rgb(150,150,150)" stroke-width="0.7" stroke-linecap="round"/><path d="M16.6 2.3h0M-3.8 -15.2h0" stroke="rgb(150,150,150)" stroke-width="1.0" stroke-linecap="round"/><path d="M-10.9 5.2h0" stroke="rgb(150,150,150)" stroke-width="1.4" stroke-linecap="round"/></g></g><circle r="17.6" fill="none" stroke="#000" stroke-width="1.9"/></g>
<g transform="translate(307.00,641.70)"><circle r="17.9" fill="rgb(187,187,187)"/><g clip-path="url(#dc)"><g filter="url(#soft2)"><path d="M1.2 -14.9h0M6.2 -7.4h0M2.3 6.4h0M-1.8 -10.5h0M0.6 -4.2h0M-3.5 -3.4h0M9.9 7.9h0M11.6 -5.1h0" stroke="rgb(177,177,177)" stroke-width="1.4" stroke-linecap="round"/><path d="M10.1 7.1h0M-9.9 -0.4h0M-9.1 3.7h0M-14.1 -7.9h0M-14.1 3.7h0" stroke="rgb(177,177,177)" stroke-width="1.0" stroke-linecap="round"/><path d="M2.4 -2.1h0" stroke="rgb(173,173,173)" stroke-width="10" stroke-linecap="round"/><path d="M3.3 -0.5h0" stroke="rgb(170,170,170)" stroke-width="0.7" stroke-linecap="round"/><path d="M7.1 -7.2h0" stroke="rgb(170,170,170)" stroke-width="1.4" stroke-linecap="round"/><path d="M-14.4 -4.5h0M-3.8 -13.1h0M8.4 -12.5h0M11.4 9.6h0M6.8 -2.9h0M-9.6 9.0h0" stroke="rgb(169,169,169)" stroke-width="1.0" stroke-linecap="round"/><path d="M-8.5 -0.6h0M-7.9 -7.3h0M4.7 12.6h0M10.6 -7.3h0M-6.2 12.9h0M-1.0 -9.0h0M13.3 -5.2h0M4.8 3.9h0M3.7 8.0h0" stroke="rgb(169,169,169)" stroke-width="1.4" stroke-linecap="round"/><path d="M-1.7 0.8h0" stroke="rgb(163,163,163)" stroke-width="5" stroke-linecap="round"/><path d="M-8.2 -14.0h0M-15.1 -0.8h0M-8.6 -3.1h0M2.1 7.9h0M-3.4 -9.1h0M-13.5 -2.3h0M5.5 -9.5h0M9.6 8.5h0M2.0 -11.3h0" stroke="rgb(161,161,161)" stroke-width="1.0" stroke-linecap="round"/><path d="M-8.6 -9.7h0M3.5 -13.5h0M8.5 2.4h0M-2.6 -0.9h0M-0.3 -15.3h0M6.6 -10.1h0M-5.8 13.3h0M2.8 -14.4h0" stroke="rgb(161,161,161)" stroke-width="1.4" stroke-linecap="round"/><path d="M-1.4 4.5h0M-5.3 6.1h0" stroke="rgb(150,150,150)" stroke-width="1.4" stroke-linecap="round"/><path d="M-4.7 -0.8h0M-3.8 4.2h0" stroke="rgb(150,150,150)" stroke-width="1.0" stroke-linecap="round"/><path d="M-14.2 -8.3h0M2.3 -16.4h0" stroke="rgb(150,150,150)" stroke-width="0.7" stroke-linecap="round"/></g></g><circle r="17.6" fill="none" stroke="#000" stroke-width="1.9"/></g>
<g transform="translate(108.86,641.70)"><circle r="17.9" fill="rgb(202,202,202)"/><g clip-path="url(#dc)"><g filter="url(#soft2)"><path d="M3.2 3.6h0M0.8 -8.4h0M-11.6 -3.6h0M-13.9 7.8h0M2.0 -3.1h0M1.1 9.4h0M-1.2 16.7h0M-7.4 6.4h0" stroke="rgb(192,192,192)" stroke-width="1.4" stroke-linecap="round"/><path d="M-14.3 5.1h0M-2.5 2.1h0M-7.3 3.9h0M9.7 13.1h0M-0.4 14.2h0M10.3 5.8h0" stroke="rgb(192,192,192)" stroke-width="1.0" stroke-linecap="round"/><path d="M-4.4 -5.4h0M10.2 -7.1h0M3.0 15.2h0M6.8 -6.6h0M3.0 -9.2h0M-5.8 2.5h0" stroke="rgb(184,184,184)" stroke-width="1.0" stroke-linecap="round"/><path d="M-8.2 0.2h0M-1.0 15.0h0M11.5 -7.7h0M10.7 -10.2h0M-2.9 6.5h0M1.4 11.4h0" stroke="rgb(184,184,184)" stroke-width="1.4" stroke-linecap="round"/><path d="M-12.1 -4.3h0M-6.2 -1.3h0M-3.0 -9.3h0M1.7 2.9h0M5.4 11.8h0M16.3 1.7h0M13.0 5.0h0M3.0 -8.5h0M-6.4 -13.0h0M7.0 -4.9h0M-3.5 -1.6h0M-1.1 -1.8h0M12.6 -5.0h0" stroke="rgb(176,176,176)" stroke-width="1.0" stroke-linecap="round"/><path d="M11.4 -0.5h0M-10.5 11.3h0M12.9 -7.7h0M-5.2 -11.5h0M-6.1 7.5h0M-10.4 1.7h0" stroke="rgb(176,176,176)" stroke-width="1.4" stroke-linecap="round"/><path d="M-4.8 -12.2h0M8.2 4.4h0M-10.6 -1.5h0" stroke="rgb(170,170,170)" stroke-width="0.7" stroke-linecap="round"/><path d="M13.2 1.2h0M13.6 8.2h0" stroke="rgb(150,150,150)" stroke-width="1.0" stroke-linecap="round"/><path d="M-13.2 2.9h0M7.5 -14.1h0" stroke="rgb(150,150,150)" stroke-width="0.7" stroke-linecap="round"/><path d="M2.9 14.3h0" stroke="rgb(150,150,150)" stroke-width="1.4" stroke-linecap="round"/></g></g><circle r="17.6" fill="none" stroke="#000" stroke-width="1.9"/></g>
<g transform="translate(345.90,641.70)"><circle r="17.9" fill="rgb(187,187,187)"/><g clip-path="url(#dc)"><g filter="url(#soft2)"><path d="M8.9 9.7h0M-11.3 8.7h0M-13.1 -5.0h0M-2.2 -12.1h0M-2.6 -7.8h0M-5.6 -12.4h0M-11.6 3.0h0M12.9 -8.5h0" stroke="rgb(177,177,177)" stroke-width="1.4" stroke-linecap="round"/><path d="M1.1 -1.3h0M-1.8 0.1h0M15.1 4.5h0M4.6 6.3h0M-9.2 0.9h0" stroke="rgb(177,177,177)" stroke-width="1.0" stroke-linecap="round"/><path d="M2.9 1.4h0" stroke="rgb(173,173,173)" stroke-width="10" stroke-linecap="round"/><path d="M-10.2 -9.1h0" stroke="rgb(170,170,170)" stroke-width="0.7" stroke-linecap="round"/><path d="M-15.9 -0.6h0M12.6 10.0h0M14.5 3.6h0M15.1 -1.9h0M6.5 13.7h0" stroke="rgb(169,169,169)" stroke-width="1.4" stroke-linecap="round"/><path d="M-4.6 8.5h0M-8.4 1.8h0M-7.2 -11.0h0M-10.3 3.0h0M-2.2 -15.8h0M4.3 -7.3h0M4.6 8.8h0M-14.1 6.7h0M-7.5 0.1h0M5.1 -13.2h0" stroke="rgb(169,169,169)" stroke-width="1.0" stroke-linecap="round"/><path d="M-1.8 -0.3h0" stroke="rgb(163,163,163)" stroke-width="5" stroke-linecap="round"/><path d="M14.8 1.0h0M11.7 -5.2h0M-3.9 -9.6h0M2.8 -12.2h0M-5.6 -5.0h0M-6.9 -3.2h0M10.9 6.7h0M9.7 -6.8h0M6.3 6.6h0M15.1 2.9h0" stroke="rgb(161,161,161)" stroke-width="1.4" stroke-linecap="round"/><path d="M4.3 -8.4h0M7.7 7.4h0M16.2 -1.0h0M-8.6 -4.4h0M8.5 1.2h0M-14.1 3.1h0M-6.3 1.0h0" stroke="rgb(161,161,161)" stroke-width="1.0" stroke-linecap="round"/><path d="M8.4 12.1h0M3.7 3.2h0" stroke="rgb(150,150,150)" stroke-width="1.0" stroke-linecap="round"/><path d="M-1.5 -13.4h0M-15.0 -0.5h0M-11.0 0.9h0" stroke="rgb(150,150,150)" stroke-width="0.7" stroke-linecap="round"/><path d="M-7.9 2.8h0M4.7 -13.5h0" stroke="rgb(150,150,150)" stroke-width="1.4" stroke-linecap="round"/></g></g><circle r="17.6" fill="none" stroke="#000" stroke-width="1.9"/></g>
<g transform="translate(147.62,641.70)"><circle r="17.9" fill="rgb(202,202,202)"/><g clip-path="url(#dc)"><g filter="url(#soft2)"><path d="M-6.9 2.5h0M-4.0 -11.3h0M-6.6 -6.4h0M-0.2 16.3h0M4.4 -12.3h0M-5.3 6.3h0M-9.0 -9.1h0" stroke="rgb(192,192,192)" stroke-width="1.4" stroke-linecap="round"/><path d="M13.7 6.6h0M-1.1 3.3h0M-0.2 -13.0h0M-15.2 -4.5h0M10.8 2.4h0M5.3 -12.2h0M-10.5 -6.5h0M-5.8 -3.8h0M-0.8 10.6h0" stroke="rgb(192,192,192)" stroke-width="1.0" stroke-linecap="round"/><path d="M-9.7 8.8h0M-8.4 -2.0h0M14.4 -3.7h0M-2.0 9.5h0M9.9 1.5h0M-9.7 -13.4h0" stroke="rgb(184,184,184)" stroke-width="1.0" stroke-linecap="round"/><path d="M8.9 12.8h0M6.8 13.5h0M8.8 -0.1h0M3.8 12.6h0M2.2 11.9h0M15.6 3.1h0" stroke="rgb(184,184,184)" stroke-width="1.4" stroke-linecap="round"/><path d="M-0.6 15.8h0M11.1 3.2h0M8.7 -13.1h0M-7.6 3.1h0M7.4 -14.4h0M4.2 -4.0h0M-11.9 10.6h0M9.2 6.4h0" stroke="rgb(176,176,176)" stroke-width="1.4" stroke-linecap="round"/><path d="M8.1 4.2h0M-0.6 13.3h0M2.7 -6.4h0M7.7 9.5h0M10.3 -1.0h0M-12.2 -3.5h0M10.1 -10.5h0M-4.3 -1.1h0M-0.2 -10.1h0" stroke="rgb(176,176,176)" stroke-width="1.0" stroke-linecap="round"/><path d="M-6.3 9.0h0" stroke="rgb(170,170,170)" stroke-width="0.7" stroke-linecap="round"/><path d="M-0.4 6.2h0M-13.8 6.2h0" stroke="rgb(150,150,150)" stroke-width="1.4" stroke-linecap="round"/><path d="M10.9 -8.8h0M9.7 -0.1h0M15.6 -5.5h0M-0.2 -0.9h0" stroke="rgb(150,150,150)" stroke-width="1.0" stroke-linecap="round"/></g></g><circle r="17.6" fill="none" stroke="#000" stroke-width="1.9"/></g>
<g transform="translate(384.80,641.70)"><circle r="17.9" fill="rgb(196,196,196)"/><g clip-path="url(#dc)"><g filter="url(#soft2)"><path d="M14.2 -0.6h0M1.5 4.5h0M-15.2 7.2h0M7.4 -3.0h0M13.7 8.8h0M1.2 -8.2h0M11.1 -0.9h0" stroke="rgb(186,186,186)" stroke-width="1.4" stroke-linecap="round"/><path d="M3.5 -7.6h0M0.3 0.0h0M13.4 -4.2h0M-15.2 4.1h0M1.4 14.8h0M11.5 -6.1h0M-9.3 -10.8h0M9.4 -6.7h0M6.6 12.6h0M0.2 -12.2h0M-3.8 -6.0h0" stroke="rgb(186,186,186)" stroke-width="1.0" stroke-linecap="round"/><path d="M2.4 -2.4h0" stroke="rgb(182,182,182)" stroke-width="10" stroke-linecap="round"/><path d="M-12.6 0.8h0M-0.4 -2.9h0M1.2 4.6h0M-2.0 -12.3h0M-6.4 -3.1h0M-8.8 -11.1h0M1.9 -9.7h0" stroke="rgb(178,178,178)" stroke-width="1.0" stroke-linecap="round"/><path d="M9.6 -10.7h0M-10.2 -1.2h0M1.7 6.3h0M-1.0 15.2h0M1.3 12.3h0M11.1 0.6h0M3.6 14.4h0M1.4 13.4h0" stroke="rgb(178,178,178)" stroke-width="1.4" stroke-linecap="round"/><path d="M0.1 1.4h0" stroke="rgb(172,172,172)" stroke-width="5" stroke-linecap="round"/><path d="M9.8 -9.5h0M2.4 8.2h0M14.0 -4.1h0M-9.4 -8.1h0M1.4 -1.9h0M-12.4 -5.2h0M10.0 12.0h0M5.8 -0.1h0" stroke="rgb(170,170,170)" stroke-width="1.0" stroke-linecap="round"/><path d="M14.7 4.5h0M-15.6 -3.5h0M15.5 -5.4h0M10.2 -7.1h0M-13.8 -8.1h0M-5.9 -14.6h0" stroke="rgb(170,170,170)" stroke-width="1.4" stroke-linecap="round"/><path d="M15.6 5.3h0" stroke="rgb(170,170,170)" stroke-width="0.7" stroke-linecap="round"/><path d="M6.2 6.2h0" stroke="rgb(150,150,150)" stroke-width="1.0" stroke-linecap="round"/><path d="M9.7 -11.0h0M-3.9 -15.3h0M-1.0 -3.1h0" stroke="rgb(150,150,150)" stroke-width="0.7" stroke-linecap="round"/></g></g><circle r="17.6" fill="none" stroke="#000" stroke-width="1.9"/></g>
<g transform="translate(186.38,641.70)"><circle r="17.9" fill="rgb(202,202,202)"/><g clip-path="url(#dc)"><g filter="url(#soft2)"><path d="M-2.0 -5.7h0M-11.3 -10.5h0M0.7 16.1h0M6.1 -10.4h0" stroke="rgb(192,192,192)" stroke-width="1.4" stroke-linecap="round"/><path d="M-16.5 -0.4h0M-7.3 -7.3h0M-5.1 15.7h0M-15.4 2.5h0M6.0 -0.2h0M2.0 7.9h0M11.5 9.8h0" stroke="rgb(192,192,192)" stroke-width="1.0" stroke-linecap="round"/><path d="M14.0 -1.3h0M4.9 12.2h0M2.3 -9.1h0M7.0 5.8h0M-3.2 4.0h0M-0.5 3.9h0" stroke="rgb(184,184,184)" stroke-width="1.0" stroke-linecap="round"/><path d="M0.4 5.6h0M-5.7 -7.3h0M13.4 9.3h0M8.1 -13.7h0M10.4 -4.0h0M-7.8 -8.8h0M11.6 -1.0h0M5.5 4.7h0" stroke="rgb(184,184,184)" stroke-width="1.4" stroke-linecap="round"/><path d="M-4.7 -5.7h0M-4.7 -14.2h0M-2.1 -1.9h0M-6.8 3.4h0M2.5 -4.1h0M-7.0 -0.6h0M0.0 14.8h0M-2.3 4.3h0M-5.8 0.8h0M-15.0 -5.7h0" stroke="rgb(176,176,176)" stroke-width="1.0" stroke-linecap="round"/><path d="M4.8 0.8h0M12.5 2.2h0M9.9 7.1h0M13.0 -10.4h0M5.1 -8.5h0M2.8 -1.9h0M-15.2 -5.1h0M10.6 -8.2h0M5.5 -2.2h0M-14.7 0.3h0" stroke="rgb(176,176,176)" stroke-width="1.4" stroke-linecap="round"/><path d="M-4.0 9.0h0" stroke="rgb(170,170,170)" stroke-width="1.3" stroke-linecap="round"/><path d="M-0.2 -14.3h0M-7.2 -11.2h0" stroke="rgb(170,170,170)" stroke-width="1.0" stroke-linecap="round"/><path d="M-3.6 -9.7h0" stroke="rgb(170,170,170)" stroke-width="0.7" stroke-linecap="round"/><path d="M-15.7 -4.3h0" stroke="rgb(150,150,150)" stroke-width="0.7" stroke-linecap="round"/><path d="M6.7 9.2h0" stroke="rgb(150,150,150)" stroke-width="1.0" stroke-linecap="round"/></g></g><circle r="17.6" fill="none" stroke="#000" stroke-width="1.9"/></g>
<g transform="translate(423.70,641.70)"><circle r="17.9" fill="rgb(196,196,196)"/><g clip-path="url(#dc)"><g filter="url(#soft2)"><path d="M-16.2 -3.4h0M1.0 16.0h0M-13.1 -4.9h0M13.2 1.8h0M0.2 -14.0h0M5.7 -7.5h0M-14.0 -7.5h0" stroke="rgb(186,186,186)" stroke-width="1.4" stroke-linecap="round"/><path d="M-6.4 6.1h0M11.7 9.0h0M-12.2 2.9h0M-2.7 -9.2h0M8.3 -4.6h0M5.2 -11.2h0M-5.8 2.9h0M-3.3 -11.7h0M-0.9 -10.9h0" stroke="rgb(186,186,186)" stroke-width="1.0" stroke-linecap="round"/><path d="M-1.5 -1.9h0" stroke="rgb(182,182,182)" stroke-width="10" stroke-linecap="round"/><path d="M-5.8 -4.9h0M-3.9 11.8h0M-6.5 1.7h0M-4.1 -13.7h0M-11.0 1.6h0M2.2 -1.8h0M-13.0 8.2h0M4.6 6.6h0M-7.5 2.7h0" stroke="rgb(178,178,178)" stroke-width="1.4" stroke-linecap="round"/><path d="M-5.6 -13.0h0M-13.3 -0.1h0M-7.4 -0.8h0M14.7 -6.9h0M6.0 9.4h0M9.2 13.7h0M-15.0 -1.9h0M-9.6 -4.5h0M8.6 -9.9h0M7.7 -6.8h0" stroke="rgb(178,178,178)" stroke-width="1.0" stroke-linecap="round"/><path d="M1.6 1.2h0" stroke="rgb(172,172,172)" stroke-width="5" stroke-linecap="round"/><path d="M-7.8 -12.5h0M2.8 -13.0h0M6.0 3.0h0M1.0 15.3h0M-3.4 -9.4h0M3.6 14.3h0M1.0 -16.0h0M-9.8 -6.8h0M-11.2 -9.4h0" stroke="rgb(170,170,170)" stroke-width="1.0" stroke-linecap="round"/><path d="M0.9 -9.4h0M-9.0 -0.8h0M-1.9 3.6h0" stroke="rgb(170,170,170)" stroke-width="1.4" stroke-linecap="round"/><path d="M-12.0 -4.2h0M-7.3 3.3h0" stroke="rgb(170,170,170)" stroke-width="0.7" stroke-linecap="round"/><path d="M-7.5 0.4h0M-1.7 -1.1h0" stroke="rgb(150,150,150)" stroke-width="0.7" stroke-linecap="round"/><path d="M7.2 -4.9h0" stroke="rgb(150,150,150)" stroke-width="1.0" stroke-linecap="round"/></g></g><circle r="17.6" fill="none" stroke="#000" stroke-width="1.9"/></g>
<g transform="translate(225.14,641.70)"><circle r="17.9" fill="rgb(202,202,202)"/><g clip-path="url(#dc)"><g filter="url(#soft2)"><path d="M0.5 -12.5h0M11.7 -9.7h0M-0.9 2.5h0M3.5 3.6h0" stroke="rgb(192,192,192)" stroke-width="1.4" stroke-linecap="round"/><path d="M-12.5 3.8h0M12.3 -7.7h0" stroke="rgb(192,192,192)" stroke-width="1.0" stroke-linecap="round"/><path d="M9.9 10.0h0M-3.2 8.6h0M-4.6 6.0h0M-1.4 8.3h0M12.2 -4.6h0M-0.3 -13.0h0M4.3 10.9h0M-13.5 7.8h0M7.8 3.5h0M-3.4 -0.3h0" stroke="rgb(184,184,184)" stroke-width="1.0" stroke-linecap="round"/><path d="M1.9 5.2h0M-10.8 -10.3h0M2.8 -4.5h0M-12.6 5.1h0M-12.9 8.6h0" stroke="rgb(184,184,184)" stroke-width="1.4" stroke-linecap="round"/><path d="M-3.3 -9.1h0M-11.1 2.7h0M13.4 -3.4h0M-9.4 10.0h0M11.2 9.5h0M-6.0 -0.0h0M-11.8 -9.3h0M-11.2 3.7h0M9.8 -8.3h0M-12.6 9.7h0M6.4 -6.0h0M-7.6 0.5h0" stroke="rgb(176,176,176)" stroke-width="1.0" stroke-linecap="round"/><path d="M8.3 -8.5h0M5.4 -14.8h0M-5.1 10.7h0M-2.4 11.0h0M-16.1 4.5h0M-8.3 -3.7h0M4.5 0.8h0M3.3 5.2h0M-14.9 1.9h0M-0.7 0.7h0M6.1 -15.0h0M-6.9 -0.3h0" stroke="rgb(176,176,176)" stroke-width="1.4" stroke-linecap="round"/><path d="M-9.5 -3.1h0M10.8 5.3h0M14.5 -0.9h0" stroke="rgb(170,170,170)" stroke-width="1.0" stroke-linecap="round"/><path d="M-3.7 -0.7h0" stroke="rgb(170,170,170)" stroke-width="0.7" stroke-linecap="round"/><path d="M15.0 -5.0h0" stroke="rgb(170,170,170)" stroke-width="1.3" stroke-linecap="round"/><path d="M2.4 9.9h0" stroke="rgb(150,150,150)" stroke-width="0.7" stroke-linecap="round"/></g></g><circle r="17.6" fill="none" stroke="#000" stroke-width="1.9"/></g>
<g transform="translate(462.60,641.70)"><circle r="17.9" fill="rgb(196,196,196)"/><g clip-path="url(#dc)"><g filter="url(#soft2)"><path d="M3.3 0.2h0M-9.7 -11.5h0M-5.5 4.1h0M-11.2 -12.2h0M1.1 8.2h0M4.6 1.2h0M3.8 -6.6h0" stroke="rgb(186,186,186)" stroke-width="1.0" stroke-linecap="round"/><path d="M-3.6 5.6h0M-3.8 -4.9h0M-4.4 -3.1h0M-5.9 2.9h0M-10.5 -1.9h0M-13.9 -3.3h0" stroke="rgb(186,186,186)" stroke-width="1.4" stroke-linecap="round"/><path d="M-2.6 1.5h0" stroke="rgb(182,182,182)" stroke-width="10" stroke-linecap="round"/><path d="M-4.6 -14.6h0M-14.7 -7.5h0M-15.8 -4.8h0M8.3 -5.1h0M14.1 -1.0h0M14.4 -7.9h0M13.4 5.5h0M9.8 -0.4h0" stroke="rgb(178,178,178)" stroke-width="1.4" stroke-linecap="round"/><path d="M13.4 5.6h0M5.7 11.0h0M11.0 7.1h0M4.8 1.0h0M4.8 -14.3h0M14.7 1.5h0" stroke="rgb(178,178,178)" stroke-width="1.0" stroke-linecap="round"/><path d="M-0.8 1.3h0" stroke="rgb(172,172,172)" stroke-width="5" stroke-linecap="round"/><path d="M10.7 -12.3h0M-6.3 6.8h0M10.4 3.3h0M-11.7 -2.9h0M-7.4 8.2h0M1.1 -4.6h0M16.1 2.3h0M13.3 7.6h0M-1.1 2.6h0M-6.2 -3.8h0M4.5 -3.3h0M-12.0 -2.8h0M-3.3 -2.5h0" stroke="rgb(170,170,170)" stroke-width="1.0" stroke-linecap="round"/><path d="M-11.7 0.4h0M-2.5 6.1h0M-13.8 2.1h0M6.0 -0.3h0M3.0 15.8h0M2.5 16.7h0" stroke="rgb(170,170,170)" stroke-width="1.4" stroke-linecap="round"/><path d="M-0.4 5.0h0M6.8 -11.1h0" stroke="rgb(170,170,170)" stroke-width="0.7" stroke-linecap="round"/><path d="M-11.6 -0.6h0" stroke="rgb(150,150,150)" stroke-width="0.7" stroke-linecap="round"/><path d="M-0.3 -8.2h0" stroke="rgb(150,150,150)" stroke-width="1.0" stroke-linecap="round"/><path d="M-6.6 15.3h0M3.9 4.5h0" stroke="rgb(150,150,150)" stroke-width="1.4" stroke-linecap="round"/></g></g><circle r="17.6" fill="none" stroke="#000" stroke-width="1.9"/></g>
<g transform="translate(263.90,641.70)"><circle r="17.9" fill="rgb(202,202,202)"/><g clip-path="url(#dc)"><g filter="url(#soft2)"><path d="M-0.9 10.0h0M-7.2 -2.2h0M-12.6 -2.6h0M-1.0 14.7h0M11.5 9.2h0M-10.9 -0.0h0M6.9 12.4h0" stroke="rgb(192,192,192)" stroke-width="1.0" stroke-linecap="round"/><path d="M-10.4 6.0h0M11.8 -4.8h0M-5.9 -13.4h0" stroke="rgb(192,192,192)" stroke-width="1.4" stroke-linecap="round"/><path d="M-12.5 -2.2h0M-7.0 2.5h0M3.9 5.0h0M-8.5 -2.0h0M-9.2 12.5h0M-2.6 2.1h0M-5.7 -6.5h0M2.4 0.7h0M-7.1 -4.8h0M4.0 -0.4h0" stroke="rgb(184,184,184)" stroke-width="1.4" stroke-linecap="round"/><path d="M5.5 -9.2h0M-14.8 -7.2h0M-14.0 -8.8h0M-13.5 5.5h0M-8.0 9.7h0M7.0 -1.8h0M1.5 14.9h0M-0.2 8.6h0M9.8 10.4h0M-3.7 -13.8h0" stroke="rgb(184,184,184)" stroke-width="1.0" stroke-linecap="round"/><path d="M-12.8 5.0h0M-14.6 0.5h0M6.7 6.4h0M-2.3 -1.8h0M-14.2 7.2h0" stroke="rgb(176,176,176)" stroke-width="1.4" stroke-linecap="round"/><path d="M5.9 6.9h0M-7.1 -14.2h0M-16.2 4.2h0M-3.6 7.8h0M5.0 5.7h0M-13.3 9.3h0M1.0 -10.1h0M-8.1 -7.1h0M5.1 -13.1h0M-13.5 6.5h0" stroke="rgb(176,176,176)" stroke-width="1.0" stroke-linecap="round"/><path d="M-15.3 1.7h0" stroke="rgb(170,170,170)" stroke-width="0.7" stroke-linecap="round"/><path d="M3.2 9.3h0M-5.9 -3.3h0M7.3 9.7h0" stroke="rgb(170,170,170)" stroke-width="1.3" stroke-linecap="round"/><path d="M-7.4 10.8h0" stroke="rgb(150,150,150)" stroke-width="1.3" stroke-linecap="round"/><path d="M-1.4 5.3h0" stroke="rgb(150,150,150)" stroke-width="1.0" stroke-linecap="round"/></g></g><circle r="17.6" fill="none" stroke="#000" stroke-width="1.9"/></g>
<g transform="translate(501.50,641.70)"><circle r="17.9" fill="rgb(196,196,196)"/><g clip-path="url(#dc)"><g filter="url(#soft2)"><path d="M-9.7 -4.3h0M-10.2 -7.6h0M-1.3 -7.5h0M-2.2 -6.6h0M-7.7 -8.9h0M-14.1 7.9h0M-10.8 6.2h0M3.6 6.5h0M2.5 -10.4h0M1.6 6.8h0" stroke="rgb(186,186,186)" stroke-width="1.4" stroke-linecap="round"/><path d="M-6.9 -6.4h0M14.2 -2.6h0M12.8 -0.3h0M7.4 15.1h0M13.9 -7.6h0" stroke="rgb(186,186,186)" stroke-width="1.0" stroke-linecap="round"/><path d="M2.2 -1.9h0" stroke="rgb(182,182,182)" stroke-width="10" stroke-linecap="round"/><path d="M-8.0 5.0h0M-9.1 -0.6h0M-11.9 0.1h0M13.2 -1.5h0M-8.7 0.2h0" stroke="rgb(178,178,178)" stroke-width="1.0" stroke-linecap="round"/><path d="M14.8 -2.7h0M-4.9 -8.7h0M-14.5 7.3h0M12.2 -1.4h0M7.0 -0.5h0M11.5 -3.1h0" stroke="rgb(178,178,178)" stroke-width="1.4" stroke-linecap="round"/><path d="M-0.6 -0.5h0" stroke="rgb(172,172,172)" stroke-width="5" stroke-linecap="round"/><path d="M5.4 -8.4h0M1.9 11.2h0M-11.8 -9.2h0M-5.5 13.9h0M-3.7 10.7h0M1.6 -12.3h0M6.2 15.3h0M8.0 8.9h0M-7.0 -14.1h0M9.8 13.6h0M4.2 -4.4h0M-2.4 16.4h0M-4.0 13.4h0M-5.7 -3.3h0M-0.8 2.5h0" stroke="rgb(170,170,170)" stroke-width="1.0" stroke-linecap="round"/><path d="M6.2 -5.3h0M11.2 7.2h0M-0.9 14.7h0M9.9 11.2h0M1.6 -13.4h0M-16.6 -0.1h0M-6.0 -10.9h0M3.1 11.3h0" stroke="rgb(170,170,170)" stroke-width="1.4" stroke-linecap="round"/><path d="M5.6 9.3h0" stroke="rgb(170,170,170)" stroke-width="0.7" stroke-linecap="round"/><path d="M2.1 11.1h0" stroke="rgb(150,150,150)" stroke-width="1.4" stroke-linecap="round"/><path d="M-10.2 10.4h0" stroke="rgb(150,150,150)" stroke-width="0.7" stroke-linecap="round"/></g></g><circle r="17.6" fill="none" stroke="#000" stroke-width="1.9"/></g>
<text x="43.60" y="688.40" font-size="11" text-anchor="middle" fill="#111" stroke="#111" stroke-width="0.22">19</text>
<g transform="translate(70.10,685.00)"><circle r="17.9" fill="rgb(200,200,200)"/><g clip-path="url(#dc)"><g filter="url(#soft2)"><path d="M-7.2 -14.2h0M-7.4 -14.5h0M11.9 9.9h0M-2.6 -5.6h0M-10.5 10.6h0M1.0 11.5h0M11.5 -10.0h0M4.4 -2.4h0" stroke="rgb(190,190,190)" stroke-width="1.0" stroke-linecap="round"/><path d="M1.3 -2.5h0M-15.6 -4.0h0M-13.3 2.8h0M-15.3 3.8h0M-5.7 14.8h0M-8.6 -8.8h0" stroke="rgb(190,190,190)" stroke-width="1.4" stroke-linecap="round"/><path d="M6.4 8.9h0M16.2 -1.5h0M-3.6 2.7h0M12.3 -4.1h0M8.1 -14.4h0" stroke="rgb(182,182,182)" stroke-width="1.0" stroke-linecap="round"/><path d="M-2.2 -7.7h0M-5.1 3.8h0M12.2 4.7h0M-7.7 -0.8h0M8.2 7.9h0M-11.3 -2.4h0M10.9 7.5h0M6.2 13.8h0" stroke="rgb(182,182,182)" stroke-width="1.4" stroke-linecap="round"/><path d="M12.1 9.9h0M-4.9 -15.8h0M-14.2 7.9h0M2.1 1.0h0M-9.2 13.3h0M3.0 6.8h0M-1.4 3.7h0M4.1 4.0h0" stroke="rgb(174,174,174)" stroke-width="1.4" stroke-linecap="round"/><path d="M-8.2 0.3h0M3.9 0.5h0M7.2 1.9h0M-8.6 9.0h0M-12.0 5.2h0M10.7 3.6h0M-5.6 13.3h0M14.5 6.9h0M3.7 -5.4h0M-3.4 -3.9h0" stroke="rgb(174,174,174)" stroke-width="1.0" stroke-linecap="round"/><path d="M-8.5 -10.3h0M8.3 6.3h0M-4.4 -6.8h0" stroke="rgb(170,170,170)" stroke-width="0.7" stroke-linecap="round"/><path d="M8.7 2.4h0M-14.4 0.1h0" stroke="rgb(170,170,170)" stroke-width="1.5" stroke-linecap="round"/><path d="M-8.8 -7.8h0M0.4 12.3h0M12.8 -0.8h0M1.1 1.8h0" stroke="rgb(170,170,170)" stroke-width="1.0" stroke-linecap="round"/><path d="M15.7 6.1h0" stroke="rgb(150,150,150)" stroke-width="1.5" stroke-linecap="round"/><path d="M-6.7 -5.8h0" stroke="rgb(150,150,150)" stroke-width="0.7" stroke-linecap="round"/><path d="M-6.0 1.0h0" stroke="rgb(150,150,150)" stroke-width="1.0" stroke-linecap="round"/></g></g><circle r="17.6" fill="none" stroke="#000" stroke-width="1.9"/></g>
<g transform="translate(307.00,685.00)"><circle r="17.9" fill="rgb(200,200,200)"/><g clip-path="url(#dc)"><g filter="url(#soft2)"><path d="M-4.3 -0.3h0M-13.2 -3.5h0M1.0 -9.4h0M-16.1 -3.2h0M1.6 1.4h0M0.2 0.2h0M12.5 8.3h0" stroke="rgb(190,190,190)" stroke-width="1.0" stroke-linecap="round"/><path d="M0.6 -1.3h0M11.3 -6.6h0M1.0 -7.4h0M3.7 13.0h0M8.9 9.0h0M-13.0 -4.1h0M-5.3 12.3h0M1.2 6.6h0" stroke="rgb(190,190,190)" stroke-width="1.4" stroke-linecap="round"/><path d="M2.2 -1.3h0" stroke="rgb(186,186,186)" stroke-width="10" stroke-linecap="round"/><path d="M4.0 -15.6h0M-13.0 -6.1h0M-4.5 6.3h0M12.2 -11.5h0M-15.4 2.7h0M5.9 -4.3h0M-7.6 -10.7h0M-7.7 -11.1h0M-0.4 10.6h0" stroke="rgb(182,182,182)" stroke-width="1.0" stroke-linecap="round"/><path d="M-15.2 3.5h0M-0.8 5.8h0M-9.2 11.5h0M-14.8 -3.4h0M6.1 4.1h0M-0.9 1.6h0M7.6 -3.9h0M6.2 15.0h0" stroke="rgb(182,182,182)" stroke-width="1.4" stroke-linecap="round"/><path d="M1.8 0.4h0" stroke="rgb(176,176,176)" stroke-width="5" stroke-linecap="round"/><path d="M7.5 8.6h0M12.9 -8.4h0M-14.8 -5.2h0M13.6 2.1h0M-1.9 9.9h0M2.0 12.5h0M-7.7 10.2h0M-13.5 0.3h0M-7.3 0.3h0" stroke="rgb(174,174,174)" stroke-width="1.0" stroke-linecap="round"/><path d="M-8.2 -10.9h0M11.2 -6.6h0M7.3 13.6h0M-5.0 -14.3h0" stroke="rgb(174,174,174)" stroke-width="1.4" stroke-linecap="round"/><path d="M4.0 -8.6h0M16.9 0.5h0" stroke="rgb(170,170,170)" stroke-width="1.4" stroke-linecap="round"/><path d="M-14.4 2.7h0M-13.0 -9.0h0" stroke="rgb(150,150,150)" stroke-width="1.4" stroke-linecap="round"/><path d="M11.8 -11.2h0" stroke="rgb(150,150,150)" stroke-width="0.7" stroke-linecap="round"/><path d="M5.5 -5.8h0M3.9 -4.6h0" stroke="rgb(150,150,150)" stroke-width="1.0" stroke-linecap="round"/></g></g><circle r="17.6" fill="none" stroke="#000" stroke-width="1.9"/></g>
<g transform="translate(108.86,685.00)"><circle r="17.9" fill="rgb(203,203,203)"/><g clip-path="url(#dc)"><g filter="url(#soft2)"><path d="M10.4 2.8h0M-11.4 0.1h0M-12.0 -1.0h0M2.5 -3.6h0M5.3 -1.8h0M-0.2 16.5h0M4.4 7.8h0M12.5 4.3h0M4.9 -0.7h0" stroke="rgb(193,193,193)" stroke-width="1.0" stroke-linecap="round"/><path d="M-11.5 -6.0h0M-11.9 -10.3h0M-2.0 -13.9h0M-8.9 -14.1h0M-0.8 -7.5h0M-8.4 14.4h0" stroke="rgb(193,193,193)" stroke-width="1.4" stroke-linecap="round"/><path d="M-6.3 12.0h0M-12.0 11.4h0M-4.1 7.6h0M0.8 15.3h0M-5.7 -13.3h0M-10.6 -6.7h0M14.7 -3.0h0M4.1 6.1h0M2.2 1.7h0" stroke="rgb(185,185,185)" stroke-width="1.4" stroke-linecap="round"/><path d="M13.0 5.8h0M-1.7 -3.0h0M5.0 4.0h0M11.1 -11.2h0M6.3 -10.2h0" stroke="rgb(185,185,185)" stroke-width="1.0" stroke-linecap="round"/><path d="M-0.6 -10.7h0M-5.7 13.6h0M12.6 -3.9h0M-13.9 7.1h0M0.1 -2.2h0M-8.5 9.3h0M-3.2 3.6h0M13.5 -6.0h0M6.9 5.5h0M7.0 13.2h0" stroke="rgb(177,177,177)" stroke-width="1.0" stroke-linecap="round"/><path d="M5.8 9.2h0M-3.5 12.7h0M12.7 4.1h0M-4.3 10.9h0M13.5 -5.4h0M5.0 -8.9h0" stroke="rgb(177,177,177)" stroke-width="1.4" stroke-linecap="round"/><path d="M-10.3 12.9h0M2.4 9.4h0" stroke="rgb(170,170,170)" stroke-width="1.0" stroke-linecap="round"/><path d="M5.8 4.2h0" stroke="rgb(170,170,170)" stroke-width="0.7" stroke-linecap="round"/><path d="M-3.4 9.2h0M-0.8 0.8h0" stroke="rgb(170,170,170)" stroke-width="1.4" stroke-linecap="round"/><path d="M-7.0 1.8h0M-4.6 13.8h0M-7.7 -6.3h0" stroke="rgb(150,150,150)" stroke-width="1.4" stroke-linecap="round"/><path d="M-5.5 -4.3h0M5.0 5.5h0" stroke="rgb(150,150,150)" stroke-width="0.7" stroke-linecap="round"/></g></g><circle r="17.6" fill="none" stroke="#000" stroke-width="1.9"/></g>
<g transform="translate(345.90,685.00)"><circle r="17.9" fill="rgb(200,200,200)"/><g clip-path="url(#dc)"><g filter="url(#soft2)"><path d="M2.1 16.5h0M-8.7 -4.8h0M3.3 -3.9h0M-2.8 11.2h0M-4.9 -13.2h0M-12.0 -10.0h0" stroke="rgb(190,190,190)" stroke-width="1.4" stroke-linecap="round"/><path d="M-2.2 5.2h0M9.6 -11.4h0M-5.1 -0.2h0M5.7 11.0h0M-7.9 5.7h0M-15.7 -1.5h0M2.5 -11.2h0M5.9 1.7h0M-6.8 7.3h0" stroke="rgb(190,190,190)" stroke-width="1.0" stroke-linecap="round"/><path d="M0.3 -1.7h0" stroke="rgb(186,186,186)" stroke-width="10" stroke-linecap="round"/><path d="M8.6 11.1h0M-5.0 4.6h0M15.4 -6.6h0M-11.6 -3.3h0M-10.2 -12.5h0M8.2 -13.3h0M-12.3 0.9h0" stroke="rgb(182,182,182)" stroke-width="1.4" stroke-linecap="round"/><path d="M5.2 -3.1h0M-3.9 2.9h0M-7.0 -6.1h0M-4.0 -0.1h0M-0.5 16.7h0M3.5 10.5h0" stroke="rgb(182,182,182)" stroke-width="1.0" stroke-linecap="round"/><path d="M-0.3 -2.0h0" stroke="rgb(176,176,176)" stroke-width="5" stroke-linecap="round"/><path d="M-0.3 -4.6h0M8.5 -6.0h0M4.0 1.9h0M4.4 -14.7h0M-2.3 4.6h0M-5.4 14.7h0M-3.1 5.1h0M-5.4 5.2h0" stroke="rgb(174,174,174)" stroke-width="1.4" stroke-linecap="round"/><path d="M-12.4 -7.4h0M-1.5 4.7h0M1.4 -9.4h0M-6.0 7.4h0M5.0 -2.8h0M-12.3 -0.3h0M-8.5 -8.5h0M10.9 -3.8h0M11.0 0.5h0" stroke="rgb(174,174,174)" stroke-width="1.0" stroke-linecap="round"/><path d="M12.1 -1.7h0M-10.0 -0.1h0M-0.8 5.9h0" stroke="rgb(170,170,170)" stroke-width="1.4" stroke-linecap="round"/><path d="M-0.7 6.3h0M-4.5 5.7h0" stroke="rgb(150,150,150)" stroke-width="1.0" stroke-linecap="round"/><path d="M5.5 -15.5h0" stroke="rgb(150,150,150)" stroke-width="0.7" stroke-linecap="round"/><path d="M5.5 -2.4h0" stroke="rgb(150,150,150)" stroke-width="1.4" stroke-linecap="round"/></g></g><circle r="17.6" fill="none" stroke="#000" stroke-width="1.9"/></g>
<g transform="translate(147.62,685.00)"><circle r="17.9" fill="rgb(203,203,203)"/><g clip-path="url(#dc)"><g filter="url(#soft2)"><path d="M11.6 7.0h0M-1.4 -4.5h0M9.5 10.8h0M-10.9 10.9h0M-10.3 13.1h0M7.6 -8.3h0M-14.0 4.4h0M-12.0 9.8h0M12.8 -3.0h0" stroke="rgb(193,193,193)" stroke-width="1.0" stroke-linecap="round"/><path d="M11.5 -1.2h0M1.2 0.9h0M13.7 2.0h0M9.5 -3.2h0" stroke="rgb(193,193,193)" stroke-width="1.4" stroke-linecap="round"/><path d="M-7.4 4.2h0M-12.7 9.6h0M5.0 4.1h0M-1.0 -5.0h0M-8.0 11.7h0" stroke="rgb(185,185,185)" stroke-width="1.0" stroke-linecap="round"/><path d="M-5.8 3.2h0M14.8 -5.2h0M14.0 -7.9h0M-0.6 -9.5h0M14.4 -6.7h0M-15.6 2.3h0M1.0 11.1h0M-5.2 4.2h0M-12.2 8.4h0M-6.1 -4.4h0M-14.2 -1.1h0M-13.7 7.5h0" stroke="rgb(185,185,185)" stroke-width="1.4" stroke-linecap="round"/><path d="M9.7 13.7h0M-9.8 4.7h0M-1.2 14.2h0M-10.8 1.8h0M11.4 8.9h0M9.3 12.2h0" stroke="rgb(177,177,177)" stroke-width="1.0" stroke-linecap="round"/><path d="M-4.4 -6.5h0M12.9 4.6h0M-8.1 8.3h0M-6.0 -2.0h0M-12.5 10.8h0M4.9 6.2h0M5.4 11.5h0M-11.8 -1.7h0M-7.1 14.7h0" stroke="rgb(177,177,177)" stroke-width="1.4" stroke-linecap="round"/><path d="M-3.6 7.6h0M-5.2 -1.4h0M8.5 -4.1h0M-12.6 0.7h0" stroke="rgb(170,170,170)" stroke-width="1.4" stroke-linecap="round"/><path d="M-9.0 -2.5h0M7.2 13.0h0M-9.8 11.1h0" stroke="rgb(150,150,150)" stroke-width="1.0" stroke-linecap="round"/><path d="M-6.6 6.8h0" stroke="rgb(150,150,150)" stroke-width="1.4" stroke-linecap="round"/></g></g><circle r="17.6" fill="none" stroke="#000" stroke-width="1.9"/></g>
<g transform="translate(384.80,685.00)"><circle r="17.9" fill="rgb(200,200,200)"/><g clip-path="url(#dc)"><g filter="url(#soft2)"><path d="M7.7 -1.2h0M-5.7 -7.9h0M7.1 13.0h0M9.1 10.6h0M8.4 1.0h0M-12.8 -5.9h0M-2.6 -1.2h0M-8.5 -1.5h0M-15.9 -2.5h0" stroke="rgb(190,190,190)" stroke-width="1.0" stroke-linecap="round"/><path d="M12.3 -6.1h0M10.4 -12.9h0M-4.2 6.4h0M5.6 -2.3h0M-4.9 -15.2h0M-6.4 8.3h0M-11.1 -0.3h0M14.9 4.9h0M-3.7 -0.6h0" stroke="rgb(190,190,190)" stroke-width="1.4" stroke-linecap="round"/><path d="M-0.3 -1.9h0" stroke="rgb(186,186,186)" stroke-width="10" stroke-linecap="round"/><path d="M9.1 -4.0h0M-7.9 -11.9h0M-10.1 -9.2h0M10.9 -6.2h0M11.8 2.5h0M1.7 13.5h0M-12.8 -9.8h0" stroke="rgb(182,182,182)" stroke-width="1.4" stroke-linecap="round"/><path d="M-6.8 12.5h0M9.8 -0.8h0M12.2 -10.3h0M-3.3 -8.7h0M10.6 8.7h0M8.9 -2.2h0M-8.0 -9.8h0M3.3 15.5h0" stroke="rgb(182,182,182)" stroke-width="1.0" stroke-linecap="round"/><path d="M0.1 -1.8h0" stroke="rgb(176,176,176)" stroke-width="5" stroke-linecap="round"/><path d="M6.6 -14.0h0M1.4 9.5h0M-4.0 -3.7h0M-1.6 3.3h0" stroke="rgb(174,174,174)" stroke-width="1.4" stroke-linecap="round"/><path d="M-11.0 -9.8h0M5.9 5.0h0M-0.7 13.4h0M-11.0 -6.3h0M-6.2 4.2h0M10.1 -11.3h0M-7.6 3.5h0M9.5 12.8h0" stroke="rgb(174,174,174)" stroke-width="1.0" stroke-linecap="round"/><path d="M-2.4 -13.8h0M9.2 5.6h0" stroke="rgb(170,170,170)" stroke-width="1.4" stroke-linecap="round"/><path d="M0.1 2.9h0" stroke="rgb(170,170,170)" stroke-width="0.7" stroke-linecap="round"/><path d="M-16.3 2.8h0" stroke="rgb(170,170,170)" stroke-width="1.0" stroke-linecap="round"/><path d="M11.7 3.3h0M-8.0 -0.7h0" stroke="rgb(150,150,150)" stroke-width="1.4" stroke-linecap="round"/><path d="M10.2 -8.7h0" stroke="rgb(150,150,150)" stroke-width="1.0" stroke-linecap="round"/></g></g><circle r="17.6" fill="none" stroke="#000" stroke-width="1.9"/></g>
<g transform="translate(186.38,685.00)"><circle r="17.9" fill="rgb(203,203,203)"/><g clip-path="url(#dc)"><g filter="url(#soft2)"><path d="M-14.6 -5.1h0M5.7 -6.8h0M2.8 6.3h0M-8.8 -0.9h0M-2.4 -8.2h0M0.3 16.5h0M-2.1 -5.3h0M4.7 -7.6h0M0.2 15.1h0M-13.5 -7.0h0M-10.2 12.6h0M4.1 5.7h0M12.3 -10.5h0" stroke="rgb(193,193,193)" stroke-width="1.4" stroke-linecap="round"/><path d="M2.6 0.1h0M-1.5 4.7h0M6.5 6.7h0M9.2 -5.4h0M9.4 12.5h0M0.2 -14.8h0M-3.7 -5.5h0M-4.6 14.9h0" stroke="rgb(193,193,193)" stroke-width="1.0" stroke-linecap="round"/><path d="M-4.8 14.3h0M-5.7 4.0h0M16.3 -1.8h0M-12.3 11.2h0M-13.2 3.3h0M2.6 14.2h0" stroke="rgb(185,185,185)" stroke-width="1.4" stroke-linecap="round"/><path d="M-14.6 -0.9h0M-1.7 10.0h0M10.8 4.1h0M-8.8 11.5h0" stroke="rgb(185,185,185)" stroke-width="1.0" stroke-linecap="round"/><path d="M-4.7 -4.1h0M13.6 -3.6h0M-6.2 -5.8h0M0.3 2.2h0M-3.9 -0.8h0M6.9 6.0h0" stroke="rgb(177,177,177)" stroke-width="1.0" stroke-linecap="round"/><path d="M0.3 13.7h0M10.0 -4.4h0M1.7 14.6h0M7.4 12.7h0M4.7 4.2h0M1.7 15.5h0M5.3 -2.9h0M7.3 14.3h0" stroke="rgb(177,177,177)" stroke-width="1.4" stroke-linecap="round"/><path d="M-9.4 4.2h0M-11.8 -6.5h0" stroke="rgb(170,170,170)" stroke-width="0.7" stroke-linecap="round"/><path d="M5.1 2.3h0" stroke="rgb(170,170,170)" stroke-width="1.0" stroke-linecap="round"/><path d="M7.6 12.1h0" stroke="rgb(170,170,170)" stroke-width="1.4" stroke-linecap="round"/><path d="M-11.2 2.1h0M-9.6 -7.1h0" stroke="rgb(150,150,150)" stroke-width="1.0" stroke-linecap="round"/><path d="M6.6 -4.2h0" stroke="rgb(150,150,150)" stroke-width="0.7" stroke-linecap="round"/></g></g><circle r="17.6" fill="none" stroke="#000" stroke-width="1.9"/></g>
<g transform="translate(423.70,685.00)"><circle r="17.9" fill="rgb(200,200,200)"/><g clip-path="url(#dc)"><g filter="url(#soft2)"><path d="M4.4 -6.7h0M-3.2 13.8h0M-0.6 15.6h0M-16.3 2.5h0M8.0 13.0h0M-15.4 0.3h0M0.7 -10.8h0M-7.6 4.0h0M15.9 4.4h0M-2.4 -5.3h0" stroke="rgb(190,190,190)" stroke-width="1.4" stroke-linecap="round"/><path d="M8.2 -5.9h0M-1.0 -4.6h0M8.6 -11.0h0" stroke="rgb(190,190,190)" stroke-width="1.0" stroke-linecap="round"/><path d="M-2.3 1.2h0" stroke="rgb(186,186,186)" stroke-width="10" stroke-linecap="round"/><path d="M7.5 -9.9h0M-2.0 0.4h0M3.2 5.3h0M-0.2 12.5h0M-3.3 -6.9h0M-1.7 9.0h0M-13.1 -3.8h0M-13.5 -6.3h0M-3.3 -12.7h0M-2.6 1.4h0M4.0 -8.2h0" stroke="rgb(182,182,182)" stroke-width="1.0" stroke-linecap="round"/><path d="M9.4 1.2h0M-4.5 6.7h0M5.9 -13.9h0M-8.5 13.1h0M2.2 -0.9h0M2.2 15.9h0M-4.7 -7.2h0" stroke="rgb(182,182,182)" stroke-width="1.4" stroke-linecap="round"/><path d="M-1.0 0.9h0" stroke="rgb(176,176,176)" stroke-width="5" stroke-linecap="round"/><path d="M4.0 -1.6h0M14.5 7.9h0M-5.4 7.6h0M10.8 6.8h0M10.2 -4.9h0M6.2 2.2h0M-4.5 4.5h0M-11.3 0.1h0" stroke="rgb(174,174,174)" stroke-width="1.0" stroke-linecap="round"/><path d="M8.4 13.4h0M-3.2 5.9h0M16.1 1.6h0M-6.5 -9.1h0M-2.1 -13.2h0M3.2 -11.6h0" stroke="rgb(174,174,174)" stroke-width="1.4" stroke-linecap="round"/><path d="M-6.0 14.4h0M-11.8 -5.3h0" stroke="rgb(170,170,170)" stroke-width="0.7" stroke-linecap="round"/><path d="M16.4 -2.7h0M4.1 -14.9h0" stroke="rgb(170,170,170)" stroke-width="1.0" stroke-linecap="round"/><path d="M-7.1 8.3h0M-7.2 1.1h0M0.9 -15.1h0" stroke="rgb(150,150,150)" stroke-width="0.7" stroke-linecap="round"/></g></g><circle r="17.6" fill="none" stroke="#000" stroke-width="1.9"/></g>
<g transform="translate(225.14,685.00)"><circle r="17.9" fill="rgb(203,203,203)"/><g clip-path="url(#dc)"><g filter="url(#soft2)"><path d="M-12.1 -2.8h0M8.9 2.2h0M-13.8 -8.7h0M-2.7 -2.4h0M0.4 8.2h0" stroke="rgb(193,193,193)" stroke-width="1.0" stroke-linecap="round"/><path d="M-3.8 -15.5h0M6.8 -9.8h0M5.9 -11.3h0M0.7 -3.6h0M-0.6 5.3h0M-11.5 -0.9h0M-4.5 2.6h0" stroke="rgb(193,193,193)" stroke-width="1.4" stroke-linecap="round"/><path d="M10.8 5.6h0M-5.1 -13.0h0M-8.3 0.7h0" stroke="rgb(185,185,185)" stroke-width="1.0" stroke-linecap="round"/><path d="M5.1 -2.7h0M-9.5 -1.9h0M-9.1 13.7h0M-13.8 4.3h0M6.2 7.3h0M1.8 -15.6h0M11.1 -4.2h0" stroke="rgb(185,185,185)" stroke-width="1.4" stroke-linecap="round"/><path d="M-10.7 -6.0h0M8.0 -12.4h0M-12.6 -1.5h0M5.0 -0.1h0M-11.3 8.5h0M1.8 -2.5h0M-12.7 -1.9h0M7.6 1.8h0M6.1 11.7h0M-10.0 -9.0h0M-7.5 -6.3h0M1.6 -9.8h0M2.5 -6.0h0M12.1 9.7h0" stroke="rgb(177,177,177)" stroke-width="1.0" stroke-linecap="round"/><path d="M-12.0 -3.5h0M-1.5 -10.2h0M9.3 4.4h0M-0.2 6.5h0M-11.5 -8.2h0M-8.1 7.8h0M-8.3 1.4h0M11.0 -1.3h0M14.1 -6.0h0" stroke="rgb(177,177,177)" stroke-width="1.4" stroke-linecap="round"/><path d="M-14.1 1.4h0" stroke="rgb(170,170,170)" stroke-width="1.3" stroke-linecap="round"/><path d="M6.1 6.8h0" stroke="rgb(170,170,170)" stroke-width="0.7" stroke-linecap="round"/><path d="M1.7 -5.8h0M-5.8 7.8h0M-0.9 15.8h0" stroke="rgb(150,150,150)" stroke-width="1.0" stroke-linecap="round"/><path d="M-0.7 -16.0h0" stroke="rgb(150,150,150)" stroke-width="1.3" stroke-linecap="round"/></g></g><circle r="17.6" fill="none" stroke="#000" stroke-width="1.9"/></g>
<g transform="translate(462.60,685.00)"><circle r="17.9" fill="rgb(200,200,200)"/><g clip-path="url(#dc)"><g filter="url(#soft2)"><path d="M4.3 7.1h0M9.0 3.4h0M-9.4 8.4h0M-2.7 -2.0h0M10.3 -7.8h0M-7.3 -0.8h0M-8.6 4.9h0" stroke="rgb(190,190,190)" stroke-width="1.0" stroke-linecap="round"/><path d="M14.6 0.8h0M-14.3 6.2h0M0.4 -11.3h0M4.7 4.2h0M-3.6 0.7h0M4.0 -0.3h0M9.8 0.4h0M-8.6 -2.1h0M6.7 -11.9h0" stroke="rgb(190,190,190)" stroke-width="1.4" stroke-linecap="round"/><path d="M-2.7 -0.3h0" stroke="rgb(186,186,186)" stroke-width="10" stroke-linecap="round"/><path d="M3.2 2.4h0M11.9 -7.8h0M2.8 -14.7h0M-0.5 -3.0h0M-10.0 5.7h0M-5.6 3.9h0M-5.4 -8.4h0M-11.5 -5.3h0M-9.3 12.3h0" stroke="rgb(182,182,182)" stroke-width="1.4" stroke-linecap="round"/><path d="M-15.5 -4.7h0M6.6 1.2h0M2.7 15.4h0M-5.5 12.9h0M14.9 7.5h0M-7.4 4.5h0M-8.7 7.2h0" stroke="rgb(182,182,182)" stroke-width="1.0" stroke-linecap="round"/><path d="M0.9 0.8h0" stroke="rgb(176,176,176)" stroke-width="5" stroke-linecap="round"/><path d="M-6.7 -0.4h0M14.8 0.6h0M-6.7 -5.9h0M6.9 -2.4h0M-5.6 -15.3h0M-12.6 6.0h0M-2.4 -6.7h0" stroke="rgb(174,174,174)" stroke-width="1.4" stroke-linecap="round"/><path d="M11.2 -4.3h0M2.5 7.0h0M-11.6 -5.4h0M-15.3 -2.3h0M1.9 6.9h0M13.7 2.5h0" stroke="rgb(174,174,174)" stroke-width="1.0" stroke-linecap="round"/><path d="M1.1 -13.1h0M7.4 8.4h0M-7.3 11.8h0" stroke="rgb(170,170,170)" stroke-width="1.0" stroke-linecap="round"/><path d="M4.3 -1.3h0M-3.5 4.8h0M-5.7 -12.3h0" stroke="rgb(150,150,150)" stroke-width="1.4" stroke-linecap="round"/><path d="M1.1 6.8h0" stroke="rgb(150,150,150)" stroke-width="1.0" stroke-linecap="round"/></g></g><circle r="17.6" fill="none" stroke="#000" stroke-width="1.9"/></g>
<g transform="translate(263.90,685.00)"><circle r="17.9" fill="rgb(203,203,203)"/><g clip-path="url(#dc)"><g filter="url(#soft2)"><path d="M9.2 3.5h0M2.4 -4.3h0M-5.9 -12.9h0M14.3 -8.6h0M-1.0 -11.0h0M-7.8 10.4h0" stroke="rgb(193,193,193)" stroke-width="1.0" stroke-linecap="round"/><path d="M6.1 1.6h0M12.0 -1.4h0M14.4 0.8h0M12.0 -4.6h0" stroke="rgb(193,193,193)" stroke-width="1.4" stroke-linecap="round"/><path d="M-12.0 -10.6h0M10.6 -0.1h0M-7.9 3.4h0M12.2 -5.9h0M-4.3 6.8h0M-9.8 3.1h0M-11.8 -9.4h0" stroke="rgb(185,185,185)" stroke-width="1.4" stroke-linecap="round"/><path d="M4.1 -4.9h0M4.1 1.9h0M-10.5 10.7h0M7.2 -9.0h0" stroke="rgb(185,185,185)" stroke-width="1.0" stroke-linecap="round"/><path d="M-5.1 -2.4h0M3.8 8.8h0M-6.8 3.2h0M-2.5 -12.2h0M-13.2 2.8h0M-6.7 0.5h0M-0.1 2.9h0M1.0 16.5h0M2.7 -12.7h0" stroke="rgb(177,177,177)" stroke-width="1.0" stroke-linecap="round"/><path d="M13.1 -5.5h0M10.5 -1.2h0M-6.0 4.2h0M-11.7 3.5h0M-13.8 0.9h0M-8.1 14.6h0M6.2 2.7h0M-9.2 11.6h0M-10.8 6.6h0M11.0 3.3h0M-4.3 13.8h0M-4.2 16.2h0M7.0 8.2h0M9.2 6.3h0M7.9 -10.3h0" stroke="rgb(177,177,177)" stroke-width="1.4" stroke-linecap="round"/><path d="M2.9 0.0h0M-8.8 3.7h0M0.1 -2.0h0" stroke="rgb(170,170,170)" stroke-width="0.7" stroke-linecap="round"/><path d="M14.5 5.3h0" stroke="rgb(150,150,150)" stroke-width="0.7" stroke-linecap="round"/><path d="M-7.5 8.4h0" stroke="rgb(150,150,150)" stroke-width="1.0" stroke-linecap="round"/><path d="M8.8 9.7h0" stroke="rgb(150,150,150)" stroke-width="1.3" stroke-linecap="round"/></g></g><circle r="17.6" fill="none" stroke="#000" stroke-width="1.9"/></g>
<g transform="translate(501.50,685.00)"><circle r="17.9" fill="rgb(200,200,200)"/><g clip-path="url(#dc)"><g filter="url(#soft2)"><path d="M-1.1 5.0h0M-5.7 -5.0h0M2.6 -15.5h0M3.2 5.6h0M-0.0 -12.6h0M-9.3 -0.2h0M-3.1 10.0h0M8.7 14.0h0" stroke="rgb(190,190,190)" stroke-width="1.4" stroke-linecap="round"/><path d="M-1.5 9.5h0M13.6 -9.1h0M0.7 6.6h0" stroke="rgb(190,190,190)" stroke-width="1.0" stroke-linecap="round"/><path d="M-2.7 1.3h0" stroke="rgb(186,186,186)" stroke-width="10" stroke-linecap="round"/><path d="M-8.1 3.3h0M-2.8 -8.9h0M14.4 -1.7h0M5.6 4.4h0M9.7 0.9h0M1.9 10.7h0M-10.5 -7.0h0M5.6 9.8h0" stroke="rgb(182,182,182)" stroke-width="1.4" stroke-linecap="round"/><path d="M-13.4 -2.3h0M-11.5 2.4h0M6.1 10.8h0M-9.6 -8.4h0M4.9 9.4h0" stroke="rgb(182,182,182)" stroke-width="1.0" stroke-linecap="round"/><path d="M1.2 0.2h0" stroke="rgb(176,176,176)" stroke-width="5" stroke-linecap="round"/><path d="M9.7 8.4h0M-3.6 -14.3h0M12.0 -6.7h0M11.8 2.1h0M-0.3 1.5h0M-5.3 -7.5h0M1.6 3.7h0M8.5 10.7h0M13.8 -8.5h0M-7.6 3.5h0M-13.2 -5.6h0" stroke="rgb(174,174,174)" stroke-width="1.0" stroke-linecap="round"/><path d="M4.9 2.4h0M-5.7 5.0h0M-7.0 11.9h0M-9.5 4.6h0M15.5 -4.2h0M-6.8 -5.6h0M1.4 -2.8h0M-10.8 -9.0h0M-6.2 10.4h0M-10.5 -4.2h0" stroke="rgb(174,174,174)" stroke-width="1.4" stroke-linecap="round"/><path d="M0.5 14.9h0M7.2 10.1h0" stroke="rgb(170,170,170)" stroke-width="0.7" stroke-linecap="round"/><path d="M15.9 3.8h0" stroke="rgb(150,150,150)" stroke-width="0.7" stroke-linecap="round"/><path d="M-1.6 -15.5h0M-6.4 12.9h0M-10.7 12.3h0" stroke="rgb(150,150,150)" stroke-width="1.3" stroke-linecap="round"/></g></g><circle r="17.6" fill="none" stroke="#000" stroke-width="1.9"/></g>
<text x="43.60" y="731.70" font-size="11" text-anchor="middle" fill="#111" stroke="#111" stroke-width="0.22">20</text>
<g transform="translate(70.10,728.30)"><circle r="17.9" fill="rgb(201,201,201)"/><g clip-path="url(#dc)"><g filter="url(#soft2)"><path d="M16.2 2.5h0M-1.3 6.5h0M-0.2 -15.4h0M-3.4 -7.6h0M7.5 -8.1h0M-0.1 -3.1h0M14.1 -3.7h0M2.0 4.7h0" stroke="rgb(191,191,191)" stroke-width="1.0" stroke-linecap="round"/><path d="M7.7 11.8h0M-9.2 -0.4h0M8.1 -3.5h0M-8.9 1.9h0M-10.4 -8.2h0M5.9 2.0h0M3.1 -14.3h0M-7.8 10.4h0M1.3 10.9h0M-10.0 6.1h0" stroke="rgb(191,191,191)" stroke-width="1.4" stroke-linecap="round"/><path d="M-7.6 -0.4h0M-6.1 15.6h0M6.7 -13.1h0M-10.6 -4.1h0" stroke="rgb(183,183,183)" stroke-width="1.0" stroke-linecap="round"/><path d="M8.4 -8.9h0M-15.4 2.6h0M3.5 -5.4h0M-10.6 0.2h0M-1.5 -9.2h0M0.8 15.5h0M6.8 0.5h0" stroke="rgb(183,183,183)" stroke-width="1.4" stroke-linecap="round"/><path d="M3.1 5.0h0M-5.2 -9.8h0M5.9 0.9h0M-8.7 5.3h0M-10.3 -6.1h0M6.8 -6.2h0M-3.7 -12.9h0" stroke="rgb(175,175,175)" stroke-width="1.4" stroke-linecap="round"/><path d="M-8.6 12.0h0M4.9 -5.0h0M6.1 8.8h0M15.0 6.4h0M9.2 3.4h0M-16.6 1.4h0M-0.5 1.1h0M-3.3 5.4h0M9.7 -8.7h0" stroke="rgb(175,175,175)" stroke-width="1.0" stroke-linecap="round"/><path d="M10.5 8.7h0M-2.5 13.2h0M4.7 -2.1h0M1.7 -9.8h0M-15.3 -2.1h0M7.5 9.2h0M14.0 -6.6h0M-5.1 7.4h0M-7.6 -2.0h0M-5.5 13.4h0M-0.7 9.8h0M2.9 -6.9h0" stroke="rgb(150,150,150)" stroke-width="1.6" stroke-linecap="round"/><path d="M11.1 -3.2h0M-5.4 -8.2h0M14.3 1.7h0M15.2 4.8h0M-4.2 -2.4h0M0.3 13.2h0M6.7 14.2h0" stroke="rgb(150,150,150)" stroke-width="1.0" stroke-linecap="round"/><path d="M-16.3 -1.1h0M1.8 -12.0h0M5.4 2.9h0M8.6 -9.2h0M7.1 12.9h0" stroke="rgb(150,150,150)" stroke-width="0.7" stroke-linecap="round"/><path d="M9.4 -11.6h0M-9.5 -9.3h0M0.3 -14.5h0M10.2 6.7h0M-1.8 -12.7h0M-8.5 -11.5h0" stroke="rgb(120,120,120)" stroke-width="1.0" stroke-linecap="round"/><path d="M-3.1 13.3h0M-9.7 -6.3h0M12.1 3.0h0M15.6 5.9h0" stroke="rgb(120,120,120)" stroke-width="1.6" stroke-linecap="round"/><path d="M-6.9 1.9h0M-4.3 -13.4h0M7.9 -7.9h0M1.6 -14.2h0" stroke="rgb(120,120,120)" stroke-width="0.7" stroke-linecap="round"/><path d="M1.0 7.1h0M9.7 13.6h0M8.0 -0.8h0M-7.4 9.3h0M15.0 2.5h0M10.1 -3.3h0M-1.8 16.0h0" stroke="rgb(90,90,90)" stroke-width="0.7" stroke-linecap="round"/><path d="M0.3 -3.9h0M3.1 -15.7h0M-8.8 -3.8h0M-4.3 -11.3h0M16.2 -0.2h0M-6.1 7.9h0M-3.7 1.6h0M8.8 -13.6h0M1.6 -2.3h0M13.4 -1.0h0M2.4 -9.7h0M8.1 -2.9h0" stroke="rgb(90,90,90)" stroke-width="1.6" stroke-linecap="round"/><path d="M-6.9 -4.8h0M8.7 -0.5h0M-1.7 -13.3h0M0.6 -10.9h0M15.4 5.3h0M-4.9 -0.1h0" stroke="rgb(90,90,90)" stroke-width="1.0" stroke-linecap="round"/></g></g><circle r="17.6" fill="none" stroke="#000" stroke-width="1.9"/></g>
<g transform="translate(307.00,728.30)"><circle r="17.9" fill="rgb(199,199,199)"/><g clip-path="url(#dc)"><g filter="url(#soft2)"><path d="M-11.0 -1.6h0M10.0 0.8h0M9.9 8.9h0M6.5 -2.0h0M-14.1 -1.8h0M8.3 9.2h0M5.4 -12.5h0M-1.3 -8.2h0M2.9 9.9h0M13.6 -9.8h0M3.1 4.4h0M7.7 -14.7h0M9.1 -6.7h0" stroke="rgb(189,189,189)" stroke-width="1.0" stroke-linecap="round"/><path d="M13.3 6.6h0M4.0 -10.1h0" stroke="rgb(189,189,189)" stroke-width="1.4" stroke-linecap="round"/><path d="M0.2 -1.2h0" stroke="rgb(185,185,185)" stroke-width="10" stroke-linecap="round"/><path d="M2.4 15.4h0M-8.1 6.0h0M-0.6 -8.9h0M15.0 -7.1h0" stroke="rgb(181,181,181)" stroke-width="1.0" stroke-linecap="round"/><path d="M-5.0 15.0h0M-3.5 3.8h0M-4.6 -7.2h0M1.4 12.4h0M1.0 15.3h0M-4.0 14.1h0M-8.7 5.0h0" stroke="rgb(181,181,181)" stroke-width="1.4" stroke-linecap="round"/><path d="M0.5 -1.6h0" stroke="rgb(175,175,175)" stroke-width="5" stroke-linecap="round"/><path d="M-2.2 12.6h0M-8.6 -3.9h0M11.4 -7.0h0M8.6 -3.6h0M3.6 -5.8h0M11.2 1.5h0M5.8 -5.3h0" stroke="rgb(173,173,173)" stroke-width="1.4" stroke-linecap="round"/><path d="M9.2 -8.8h0M-4.2 7.4h0M13.7 -6.8h0M11.2 -8.4h0M-1.2 7.7h0M7.7 6.6h0M12.2 -11.4h0M13.5 7.2h0M-15.0 0.8h0M-1.9 -8.5h0M2.5 13.9h0M0.8 9.7h0" stroke="rgb(173,173,173)" stroke-width="1.0" stroke-linecap="round"/><path d="M-3.7 -2.9h0M-13.0 -7.5h0M-0.4 13.0h0M-1.7 10.1h0M-10.7 -3.8h0" stroke="rgb(150,150,150)" stroke-width="1.5" stroke-linecap="round"/><path d="M5.1 -5.2h0M-7.9 5.2h0M-7.7 11.5h0M-9.4 -13.7h0M14.7 0.5h0" stroke="rgb(150,150,150)" stroke-width="1.0" stroke-linecap="round"/><path d="M-8.7 10.4h0M-0.7 2.1h0M-2.9 -2.8h0M-5.6 -6.4h0M-4.7 4.7h0M1.2 -10.2h0M5.4 -14.5h0" stroke="rgb(150,150,150)" stroke-width="0.7" stroke-linecap="round"/><path d="M-1.2 6.6h0M-5.3 -8.5h0M-16.3 -3.8h0M-13.4 -4.3h0M-11.9 8.9h0M-2.2 -2.6h0M4.6 -3.6h0M-3.4 -16.5h0M-7.7 8.2h0M-7.9 2.3h0" stroke="rgb(120,120,120)" stroke-width="0.7" stroke-linecap="round"/><path d="M-5.8 -4.4h0M-1.1 -9.7h0M0.6 -14.1h0" stroke="rgb(120,120,120)" stroke-width="1.5" stroke-linecap="round"/><path d="M8.3 10.6h0M3.2 -1.8h0M12.8 -10.9h0M5.9 -8.7h0" stroke="rgb(120,120,120)" stroke-width="1.0" stroke-linecap="round"/><path d="M-1.2 15.5h0M-9.2 -9.5h0M-9.9 10.4h0M9.7 -3.5h0M9.5 0.4h0M4.4 6.6h0M13.1 7.7h0M-16.9 0.2h0" stroke="rgb(90,90,90)" stroke-width="1.5" stroke-linecap="round"/><path d="M0.5 2.6h0M2.4 0.3h0M7.1 14.9h0M7.9 2.5h0M-11.5 -7.0h0M16.7 -0.2h0M10.0 9.6h0M4.3 7.5h0" stroke="rgb(90,90,90)" stroke-width="0.7" stroke-linecap="round"/><path d="M-4.4 10.3h0M10.6 -3.6h0M-6.2 12.8h0M-9.4 7.2h0M-9.0 -14.3h0" stroke="rgb(90,90,90)" stroke-width="1.0" stroke-linecap="round"/><path d="M-4.5 14.3h0" stroke="rgb(10,10,10)" stroke-width="4.6" stroke-linecap="round"/></g></g><circle r="17.6" fill="none" stroke="#000" stroke-width="1.9"/></g>
<g transform="translate(108.86,728.30)"><circle r="17.9" fill="rgb(201,201,201)"/><g clip-path="url(#dc)"><g filter="url(#soft2)"><path d="M3.7 -11.9h0M-10.6 9.9h0M-10.3 -0.8h0M-11.7 2.4h0M-5.2 14.4h0M6.5 14.8h0" stroke="rgb(191,191,191)" stroke-width="1.0" stroke-linecap="round"/><path d="M-9.7 2.2h0M-7.6 -7.1h0M12.6 8.8h0M-3.8 1.3h0M-0.9 3.5h0M-3.1 -9.3h0M-0.8 10.2h0" stroke="rgb(191,191,191)" stroke-width="1.4" stroke-linecap="round"/><path d="M-6.8 -1.8h0M2.8 10.6h0M-3.5 -7.9h0M13.6 -2.5h0M-3.4 -10.3h0M4.1 -15.3h0M6.8 -0.7h0M2.2 16.2h0M-3.2 12.6h0M10.3 -2.4h0M5.3 3.5h0M2.3 13.7h0M-8.0 6.6h0" stroke="rgb(183,183,183)" stroke-width="1.4" stroke-linecap="round"/><path d="M6.8 8.4h0M-8.9 11.4h0M1.3 -4.5h0M2.6 11.8h0M1.7 -14.6h0M2.1 6.6h0M-9.1 -5.7h0M6.0 10.8h0M3.9 11.3h0M4.4 8.5h0" stroke="rgb(183,183,183)" stroke-width="1.0" stroke-linecap="round"/><path d="M-4.1 2.8h0M-9.1 6.4h0M-10.5 11.3h0M-10.6 -11.4h0" stroke="rgb(175,175,175)" stroke-width="1.0" stroke-linecap="round"/><path d="M-2.9 -0.6h0M-8.8 -12.5h0M11.5 -9.8h0M-1.3 -8.1h0M-4.2 4.7h0" stroke="rgb(175,175,175)" stroke-width="1.4" stroke-linecap="round"/><path d="M11.6 5.7h0M1.4 3.6h0M-1.1 -11.4h0M9.7 8.2h0M0.1 7.4h0M2.7 10.7h0M10.5 7.7h0" stroke="rgb(150,150,150)" stroke-width="1.0" stroke-linecap="round"/><path d="M10.0 11.8h0M1.4 6.3h0M-2.3 -8.1h0M8.2 1.9h0M13.0 0.7h0M10.9 -2.3h0M-13.2 7.0h0M-11.8 6.3h0" stroke="rgb(150,150,150)" stroke-width="0.7" stroke-linecap="round"/><path d="M8.2 4.0h0M-3.8 5.2h0" stroke="rgb(150,150,150)" stroke-width="1.5" stroke-linecap="round"/><path d="M-5.0 8.4h0M4.5 9.5h0M11.8 2.1h0M3.3 14.3h0M9.0 14.2h0M-0.5 1.8h0M-3.5 15.5h0M-3.2 1.3h0" stroke="rgb(120,120,120)" stroke-width="1.0" stroke-linecap="round"/><path d="M4.2 -10.1h0M-4.0 -16.4h0M4.3 5.3h0" stroke="rgb(120,120,120)" stroke-width="0.7" stroke-linecap="round"/><path d="M-2.8 -11.5h0M-16.7 1.0h0M-8.7 -5.0h0M-3.8 -5.6h0" stroke="rgb(120,120,120)" stroke-width="1.5" stroke-linecap="round"/><path d="M-3.0 15.2h0M-12.7 8.5h0M6.3 6.2h0M-3.4 -4.6h0M-2.7 -1.8h0M-9.7 7.2h0M2.2 -8.6h0M15.4 -4.8h0M-3.9 7.4h0" stroke="rgb(90,90,90)" stroke-width="0.7" stroke-linecap="round"/><path d="M2.8 8.9h0M14.9 -1.6h0M-1.0 4.7h0M-3.5 -2.1h0M-0.0 -1.5h0M-0.8 3.1h0M-12.5 1.5h0" stroke="rgb(90,90,90)" stroke-width="1.0" stroke-linecap="round"/><path d="M-7.3 6.3h0M-2.1 -1.0h0M-8.9 12.0h0M-13.8 -5.3h0M3.7 9.2h0M6.5 5.2h0M7.1 -5.0h0" stroke="rgb(90,90,90)" stroke-width="1.5" stroke-linecap="round"/></g></g><circle r="17.6" fill="none" stroke="#000" stroke-width="1.9"/></g>
<g transform="translate(345.90,728.30)"><circle r="17.9" fill="rgb(202,202,202)"/><g clip-path="url(#dc)"><g filter="url(#soft2)"><path d="M2.4 2.3h0M2.9 -1.2h0M6.4 4.4h0M11.5 -10.7h0M-9.5 -8.4h0M-12.2 -6.8h0M-7.1 -13.1h0M5.6 1.0h0M11.9 -9.9h0M3.5 -9.8h0M4.1 11.7h0" stroke="rgb(192,192,192)" stroke-width="1.4" stroke-linecap="round"/><path d="M-8.5 13.9h0M12.4 0.3h0M-8.6 10.2h0M-7.8 -10.8h0M0.5 3.7h0M-8.9 5.9h0M9.7 7.8h0" stroke="rgb(192,192,192)" stroke-width="1.0" stroke-linecap="round"/><path d="M0.1 0.2h0" stroke="rgb(188,188,188)" stroke-width="10" stroke-linecap="round"/><path d="M-3.2 13.6h0M11.2 11.6h0M-15.4 1.8h0M10.5 -3.4h0M10.1 -7.4h0M-6.8 9.5h0M4.7 12.1h0M-4.2 -0.0h0" stroke="rgb(184,184,184)" stroke-width="1.4" stroke-linecap="round"/><path d="M-11.6 1.8h0M-8.9 -8.8h0M-0.4 13.7h0M-8.8 5.5h0M3.8 3.3h0" stroke="rgb(184,184,184)" stroke-width="1.0" stroke-linecap="round"/><path d="M-1.8 1.4h0" stroke="rgb(178,178,178)" stroke-width="5" stroke-linecap="round"/><path d="M-1.9 5.5h0M-7.7 -8.3h0M7.3 -2.9h0M-12.4 -6.5h0M3.8 5.5h0M-9.2 11.0h0M0.0 16.2h0M-5.0 10.9h0M-9.7 -11.7h0M-10.3 2.9h0" stroke="rgb(176,176,176)" stroke-width="1.0" stroke-linecap="round"/><path d="M-1.2 11.5h0M-15.9 -5.0h0M-7.4 3.1h0M5.6 13.1h0" stroke="rgb(176,176,176)" stroke-width="1.4" stroke-linecap="round"/><path d="M-10.5 -6.6h0M15.9 -5.0h0" stroke="rgb(150,150,150)" stroke-width="1.4" stroke-linecap="round"/><path d="M-3.3 12.8h0M-7.0 12.1h0M0.2 10.1h0M-1.8 3.4h0M-0.7 -2.9h0" stroke="rgb(150,150,150)" stroke-width="1.0" stroke-linecap="round"/><path d="M-1.5 -5.3h0" stroke="rgb(150,150,150)" stroke-width="0.7" stroke-linecap="round"/><path d="M-0.6 -5.0h0M3.2 13.7h0M-5.1 5.3h0" stroke="rgb(120,120,120)" stroke-width="1.4" stroke-linecap="round"/><path d="M-8.4 11.9h0M-13.1 9.8h0M1.3 9.6h0M6.7 4.3h0M-5.0 -5.3h0M2.8 16.7h0" stroke="rgb(120,120,120)" stroke-width="0.7" stroke-linecap="round"/><path d="M2.8 -3.9h0" stroke="rgb(120,120,120)" stroke-width="1.0" stroke-linecap="round"/><path d="M-3.0 16.1h0" stroke="rgb(90,90,90)" stroke-width="1.0" stroke-linecap="round"/><path d="M-0.9 -0.7h0M3.8 10.4h0" stroke="rgb(90,90,90)" stroke-width="0.7" stroke-linecap="round"/></g></g><circle r="17.6" fill="none" stroke="#000" stroke-width="1.9"/></g>
<g transform="translate(147.62,728.30)"><circle r="17.9" fill="rgb(201,201,201)"/><g clip-path="url(#dc)"><g filter="url(#soft2)"><path d="M-2.0 7.2h0M-9.7 1.8h0M-6.6 -2.5h0M10.6 2.4h0M-12.2 7.7h0M-12.2 10.0h0M-7.7 0.1h0M12.6 -6.4h0M9.6 -12.3h0" stroke="rgb(191,191,191)" stroke-width="1.0" stroke-linecap="round"/><path d="M5.1 -14.1h0M5.9 -4.8h0M4.6 0.7h0M4.2 -0.7h0M-7.1 -5.5h0" stroke="rgb(191,191,191)" stroke-width="1.4" stroke-linecap="round"/><path d="M-0.0 7.9h0M-10.5 9.4h0M-10.5 0.9h0M-6.1 -10.5h0M1.8 14.8h0M14.1 -1.3h0M-14.0 -7.0h0M-13.5 3.3h0" stroke="rgb(183,183,183)" stroke-width="1.0" stroke-linecap="round"/><path d="M8.2 -4.4h0M1.7 7.4h0M-9.4 -13.2h0M5.2 15.5h0M-1.7 3.4h0M-6.2 -4.2h0M8.6 13.9h0" stroke="rgb(183,183,183)" stroke-width="1.4" stroke-linecap="round"/><path d="M-0.5 -15.4h0M0.3 5.0h0M-10.5 11.4h0M12.0 -1.3h0M1.4 1.4h0M-2.5 13.2h0M-7.3 -7.5h0" stroke="rgb(175,175,175)" stroke-width="1.0" stroke-linecap="round"/><path d="M6.3 10.3h0M-16.3 3.6h0M0.9 -16.0h0M-7.2 -5.2h0M-3.5 15.5h0M-3.6 -2.9h0M-8.3 12.1h0M-6.0 9.9h0M1.3 -7.9h0" stroke="rgb(175,175,175)" stroke-width="1.4" stroke-linecap="round"/><path d="M12.0 5.5h0M-14.3 -6.7h0M0.4 2.7h0" stroke="rgb(150,150,150)" stroke-width="1.0" stroke-linecap="round"/><path d="M14.5 -0.9h0M-0.2 8.8h0M13.1 4.7h0M-13.0 1.3h0M-5.3 -13.5h0M-9.6 -13.3h0" stroke="rgb(150,150,150)" stroke-width="0.7" stroke-linecap="round"/><path d="M-7.1 -8.7h0M4.8 13.8h0M-5.0 13.8h0" stroke="rgb(150,150,150)" stroke-width="1.5" stroke-linecap="round"/><path d="M4.6 5.2h0M-5.2 -2.7h0M-14.6 -6.7h0M-15.0 -3.6h0" stroke="rgb(120,120,120)" stroke-width="1.5" stroke-linecap="round"/><path d="M6.2 0.1h0M6.3 9.7h0M0.6 -5.5h0M-1.7 0.8h0M-2.7 -6.9h0" stroke="rgb(120,120,120)" stroke-width="1.0" stroke-linecap="round"/><path d="M-6.6 10.0h0M-9.8 11.7h0M-2.5 8.6h0M8.1 -14.1h0" stroke="rgb(120,120,120)" stroke-width="0.7" stroke-linecap="round"/><path d="M1.7 -5.7h0M-4.0 -9.9h0M-13.5 10.1h0M-2.6 -11.5h0M2.7 14.6h0" stroke="rgb(90,90,90)" stroke-width="1.0" stroke-linecap="round"/><path d="M15.5 -1.9h0M13.4 4.3h0M-5.4 5.0h0M-6.0 12.0h0M14.1 5.7h0" stroke="rgb(90,90,90)" stroke-width="1.5" stroke-linecap="round"/><path d="M-3.5 5.7h0M7.0 -13.3h0M-13.6 8.3h0" stroke="rgb(90,90,90)" stroke-width="0.7" stroke-linecap="round"/></g></g><circle r="17.6" fill="none" stroke="#000" stroke-width="1.9"/></g>
<g transform="translate(384.80,728.30)"><circle r="17.9" fill="rgb(202,202,202)"/><g clip-path="url(#dc)"><g filter="url(#soft2)"><path d="M5.2 8.7h0M13.5 -0.3h0M-7.2 -5.5h0M7.4 -11.1h0M-8.5 9.4h0M6.1 1.3h0M-10.5 -2.8h0M10.9 -4.9h0M-4.9 13.4h0" stroke="rgb(192,192,192)" stroke-width="1.0" stroke-linecap="round"/><path d="M-11.6 -12.0h0M5.0 -15.8h0M-4.9 -8.7h0M9.6 -13.5h0M-12.7 0.1h0" stroke="rgb(192,192,192)" stroke-width="1.4" stroke-linecap="round"/><path d="M-2.4 -0.1h0" stroke="rgb(188,188,188)" stroke-width="10" stroke-linecap="round"/><path d="M-2.0 -1.7h0M-16.7 -2.1h0M-9.7 4.2h0M-4.9 9.7h0" stroke="rgb(184,184,184)" stroke-width="1.4" stroke-linecap="round"/><path d="M-13.2 -2.9h0M16.1 -4.3h0M-0.3 -6.4h0M-8.6 -9.2h0M-13.4 -9.6h0M5.3 -6.0h0M-3.8 -7.2h0M8.8 -11.8h0M-8.1 6.9h0M4.1 10.5h0M-2.1 11.7h0" stroke="rgb(184,184,184)" stroke-width="1.0" stroke-linecap="round"/><path d="M-0.5 -1.3h0" stroke="rgb(178,178,178)" stroke-width="5" stroke-linecap="round"/><path d="M-14.9 -2.4h0M6.2 13.0h0M-12.9 -1.3h0M2.4 -10.9h0M2.1 11.0h0M7.5 6.9h0M3.5 -12.7h0M5.5 1.9h0M-11.0 11.4h0M14.1 -6.1h0" stroke="rgb(176,176,176)" stroke-width="1.4" stroke-linecap="round"/><path d="M6.8 -0.4h0M8.0 8.5h0M-4.5 7.5h0M14.0 -7.4h0M8.7 -5.0h0M0.2 -5.1h0" stroke="rgb(176,176,176)" stroke-width="1.0" stroke-linecap="round"/><path d="M2.3 -7.6h0M-10.1 -6.7h0M7.9 12.6h0M-8.3 6.4h0M3.0 15.7h0M6.6 -13.8h0" stroke="rgb(150,150,150)" stroke-width="1.4" stroke-linecap="round"/><path d="M-5.3 15.7h0M-2.8 -12.5h0" stroke="rgb(150,150,150)" stroke-width="1.0" stroke-linecap="round"/><path d="M13.3 3.0h0M14.7 4.9h0M-3.1 -3.2h0" stroke="rgb(120,120,120)" stroke-width="1.0" stroke-linecap="round"/><path d="M13.5 -6.9h0M12.6 3.2h0M-4.7 2.8h0M-3.1 -12.1h0" stroke="rgb(120,120,120)" stroke-width="0.7" stroke-linecap="round"/><path d="M-10.3 -3.8h0" stroke="rgb(120,120,120)" stroke-width="1.4" stroke-linecap="round"/><path d="M-9.4 -6.1h0M11.1 7.7h0" stroke="rgb(90,90,90)" stroke-width="1.0" stroke-linecap="round"/><path d="M-5.7 -15.7h0M7.8 0.6h0M9.1 6.9h0" stroke="rgb(90,90,90)" stroke-width="1.4" stroke-linecap="round"/></g></g><circle r="17.6" fill="none" stroke="#000" stroke-width="1.9"/></g>
<g transform="translate(186.38,728.30)"><circle r="17.9" fill="rgb(204,204,204)"/><g clip-path="url(#dc)"><g filter="url(#soft2)"><path d="M-4.5 15.3h0M-5.6 7.0h0M0.6 15.3h0M-0.8 16.6h0M-2.5 -13.1h0M6.4 0.1h0M3.0 -15.3h0" stroke="rgb(194,194,194)" stroke-width="1.0" stroke-linecap="round"/><path d="M4.0 -9.9h0M-7.5 8.9h0M8.2 8.8h0M-10.1 4.9h0" stroke="rgb(194,194,194)" stroke-width="1.4" stroke-linecap="round"/><path d="M-9.1 -6.3h0M-4.5 0.2h0M-0.1 -3.6h0M1.1 10.1h0M-5.8 -3.0h0M-0.5 8.1h0M-10.4 3.6h0M-12.4 7.6h0" stroke="rgb(186,186,186)" stroke-width="1.0" stroke-linecap="round"/><path d="M-9.3 -12.7h0M-6.3 -0.8h0M-2.1 15.6h0M3.5 -2.7h0M-6.7 3.3h0M-6.0 14.8h0M1.3 2.1h0M-0.6 0.5h0" stroke="rgb(186,186,186)" stroke-width="1.4" stroke-linecap="round"/><path d="M7.8 -1.3h0M-2.9 6.8h0M-8.8 -4.8h0M-0.9 -4.0h0M-12.8 -0.4h0M1.4 -1.3h0M-7.3 -7.9h0M0.0 -14.8h0M-8.5 5.6h0M-9.5 4.4h0" stroke="rgb(178,178,178)" stroke-width="1.0" stroke-linecap="round"/><path d="M5.6 8.1h0M1.6 -10.7h0M-3.1 -2.4h0M1.4 -15.2h0M4.6 9.4h0M-12.8 6.3h0M13.9 3.2h0M7.1 3.2h0" stroke="rgb(178,178,178)" stroke-width="1.4" stroke-linecap="round"/><path d="M-14.9 1.6h0M-2.2 -12.4h0M7.0 -7.6h0M7.3 13.0h0" stroke="rgb(150,150,150)" stroke-width="1.4" stroke-linecap="round"/><path d="M-8.6 -12.4h0M-3.9 12.2h0M-11.9 -2.2h0" stroke="rgb(150,150,150)" stroke-width="0.7" stroke-linecap="round"/><path d="M0.4 -5.0h0M0.2 13.1h0M-5.7 -3.9h0" stroke="rgb(150,150,150)" stroke-width="1.0" stroke-linecap="round"/><path d="M8.6 0.7h0M-13.0 -4.9h0" stroke="rgb(120,120,120)" stroke-width="1.0" stroke-linecap="round"/><path d="M0.8 14.2h0M9.6 1.6h0M2.7 -4.4h0M8.4 1.4h0" stroke="rgb(120,120,120)" stroke-width="1.4" stroke-linecap="round"/><path d="M-6.0 2.5h0M-11.0 -12.6h0" stroke="rgb(120,120,120)" stroke-width="0.7" stroke-linecap="round"/><path d="M0.3 -13.9h0M9.0 -5.5h0M-1.5 0.0h0M10.7 1.2h0M2.4 -3.7h0M7.4 -14.4h0M7.4 10.2h0" stroke="rgb(90,90,90)" stroke-width="1.4" stroke-linecap="round"/><path d="M5.2 9.2h0M-4.2 14.5h0M-1.4 -1.6h0" stroke="rgb(90,90,90)" stroke-width="1.0" stroke-linecap="round"/><path d="M9.1 -4.5h0" stroke="rgb(90,90,90)" stroke-width="0.7" stroke-linecap="round"/></g></g><circle r="17.6" fill="none" stroke="#000" stroke-width="1.9"/></g>
<g transform="translate(423.70,728.30)"><circle r="17.9" fill="rgb(202,202,202)"/><g clip-path="url(#dc)"><g filter="url(#soft2)"><path d="M-14.5 -4.1h0M-15.1 -6.9h0M-6.4 -7.2h0M-5.5 -15.1h0M-3.7 0.1h0" stroke="rgb(192,192,192)" stroke-width="1.4" stroke-linecap="round"/><path d="M5.5 -10.3h0M-16.0 -0.7h0M-1.4 -1.3h0M-0.6 4.3h0M-8.7 -0.2h0M-9.9 -10.9h0" stroke="rgb(192,192,192)" stroke-width="1.0" stroke-linecap="round"/><path d="M0.9 -0.8h0" stroke="rgb(188,188,188)" stroke-width="10" stroke-linecap="round"/><path d="M8.8 9.5h0M-7.8 -1.8h0M-15.6 -4.4h0M-5.3 -8.5h0M8.1 -14.2h0M12.6 8.8h0M-5.0 -0.9h0" stroke="rgb(184,184,184)" stroke-width="1.0" stroke-linecap="round"/><path d="M-9.9 1.0h0M-11.6 -9.3h0M1.6 3.6h0M9.9 -9.1h0" stroke="rgb(184,184,184)" stroke-width="1.4" stroke-linecap="round"/><path d="M-1.7 1.4h0" stroke="rgb(178,178,178)" stroke-width="5" stroke-linecap="round"/><path d="M2.8 -0.5h0M-3.8 -15.8h0M-4.4 3.4h0M7.5 0.6h0M13.6 -2.1h0M2.5 -13.9h0M-6.6 -7.5h0M-6.2 9.7h0M4.7 -2.6h0M7.2 3.3h0M-0.7 -6.1h0" stroke="rgb(176,176,176)" stroke-width="1.4" stroke-linecap="round"/><path d="M10.7 5.9h0M3.1 -11.9h0M-4.8 -7.9h0M10.9 -5.2h0M9.9 -6.5h0M1.1 9.0h0M4.4 -14.2h0M-3.8 5.1h0M-5.7 -7.2h0M-3.8 11.5h0M-10.9 6.0h0M7.2 10.3h0" stroke="rgb(176,176,176)" stroke-width="1.0" stroke-linecap="round"/><path d="M10.5 5.2h0M12.3 -4.6h0M3.8 0.5h0M6.9 15.3h0M0.9 -6.8h0" stroke="rgb(150,150,150)" stroke-width="1.0" stroke-linecap="round"/><path d="M-2.3 15.2h0M-8.4 11.0h0" stroke="rgb(150,150,150)" stroke-width="0.7" stroke-linecap="round"/><path d="M-4.9 -15.1h0" stroke="rgb(150,150,150)" stroke-width="1.4" stroke-linecap="round"/><path d="M14.0 0.0h0" stroke="rgb(120,120,120)" stroke-width="1.0" stroke-linecap="round"/><path d="M-3.7 -0.1h0" stroke="rgb(120,120,120)" stroke-width="0.7" stroke-linecap="round"/><path d="M-6.7 -1.9h0M12.4 0.1h0M13.4 -8.8h0" stroke="rgb(120,120,120)" stroke-width="1.4" stroke-linecap="round"/><path d="M-7.5 9.4h0" stroke="rgb(90,90,90)" stroke-width="0.7" stroke-linecap="round"/><path d="M-6.1 5.8h0M9.0 -14.3h0M-3.6 -7.5h0M-10.6 -4.9h0M2.8 -13.1h0" stroke="rgb(90,90,90)" stroke-width="1.4" stroke-linecap="round"/><path d="M-2.9 12.4h0M8.9 -0.2h0" stroke="rgb(90,90,90)" stroke-width="1.0" stroke-linecap="round"/></g></g><circle r="17.6" fill="none" stroke="#000" stroke-width="1.9"/></g>
<g transform="translate(225.14,728.30)"><circle r="17.9" fill="rgb(204,204,204)"/><g clip-path="url(#dc)"><g filter="url(#soft2)"><path d="M4.8 2.1h0M-8.4 8.9h0M-5.5 4.5h0M9.8 13.4h0M1.1 5.2h0M-12.3 -8.3h0M-10.7 -4.2h0M-8.2 -3.0h0M3.6 -6.0h0" stroke="rgb(194,194,194)" stroke-width="1.0" stroke-linecap="round"/><path d="M-6.8 -13.6h0M14.0 3.9h0M15.3 -1.7h0M-1.1 -15.7h0M3.3 2.9h0M13.5 -5.3h0M3.4 -4.5h0M5.8 13.5h0" stroke="rgb(194,194,194)" stroke-width="1.4" stroke-linecap="round"/><path d="M-1.6 -2.1h0M1.7 2.2h0M-10.1 11.4h0M9.2 1.9h0M8.1 -13.5h0M2.9 -15.1h0M1.3 -2.4h0M6.2 -8.0h0" stroke="rgb(186,186,186)" stroke-width="1.0" stroke-linecap="round"/><path d="M7.4 -3.4h0M5.5 13.0h0M5.1 10.1h0M-9.3 -1.1h0M-4.4 11.4h0M-13.2 -6.5h0M14.5 3.4h0M-14.8 1.1h0M6.5 -11.5h0" stroke="rgb(186,186,186)" stroke-width="1.4" stroke-linecap="round"/><path d="M3.1 -15.0h0M-6.4 -5.4h0M2.3 -6.0h0M14.7 2.7h0M-8.1 -9.7h0" stroke="rgb(178,178,178)" stroke-width="1.4" stroke-linecap="round"/><path d="M-3.6 -3.6h0M-4.7 -7.6h0M9.4 6.9h0M4.4 9.8h0M11.5 5.1h0M-12.1 -0.6h0" stroke="rgb(178,178,178)" stroke-width="1.0" stroke-linecap="round"/><path d="M0.5 -15.0h0" stroke="rgb(150,150,150)" stroke-width="1.4" stroke-linecap="round"/><path d="M9.3 11.5h0M15.6 -1.0h0M-15.8 -5.5h0" stroke="rgb(150,150,150)" stroke-width="1.0" stroke-linecap="round"/><path d="M8.8 6.0h0M9.2 -7.3h0M-4.0 13.2h0" stroke="rgb(150,150,150)" stroke-width="0.7" stroke-linecap="round"/><path d="M-3.4 -10.5h0M-12.0 6.9h0M14.4 4.3h0" stroke="rgb(120,120,120)" stroke-width="1.0" stroke-linecap="round"/><path d="M-2.1 5.0h0" stroke="rgb(120,120,120)" stroke-width="0.7" stroke-linecap="round"/><path d="M-12.0 6.1h0M7.1 -4.2h0" stroke="rgb(90,90,90)" stroke-width="1.0" stroke-linecap="round"/><path d="M10.3 -7.7h0M-0.9 -3.5h0" stroke="rgb(90,90,90)" stroke-width="1.4" stroke-linecap="round"/><path d="M-2.5 -16.3h0M-9.1 4.1h0" stroke="rgb(90,90,90)" stroke-width="0.7" stroke-linecap="round"/></g></g><circle r="17.6" fill="none" stroke="#000" stroke-width="1.9"/></g>
<g transform="translate(462.60,728.30)"><circle r="17.9" fill="rgb(202,202,202)"/><g clip-path="url(#dc)"><g filter="url(#soft2)"><path d="M15.3 3.1h0M-5.1 -8.3h0M-4.2 13.2h0M0.6 -7.8h0M-3.5 -7.5h0M-7.9 -14.5h0M16.1 -3.0h0M-4.2 -13.4h0M2.9 1.7h0" stroke="rgb(192,192,192)" stroke-width="1.0" stroke-linecap="round"/><path d="M12.5 9.6h0M4.0 4.5h0M5.6 -8.3h0M-3.6 -7.8h0M10.1 0.6h0M-13.4 -7.4h0M7.9 -12.8h0M-7.5 -0.3h0M-6.8 15.0h0" stroke="rgb(192,192,192)" stroke-width="1.4" stroke-linecap="round"/><path d="M-2.7 1.0h0" stroke="rgb(188,188,188)" stroke-width="10" stroke-linecap="round"/><path d="M0.7 11.8h0M-5.9 5.2h0M7.6 -5.8h0M-0.2 16.7h0M8.9 -12.4h0M-5.3 9.3h0M2.6 -6.2h0M5.8 14.4h0M3.8 -3.1h0" stroke="rgb(184,184,184)" stroke-width="1.0" stroke-linecap="round"/><path d="M1.1 10.3h0M-8.0 -4.1h0M5.9 -2.7h0M-3.7 9.8h0M6.7 7.8h0" stroke="rgb(184,184,184)" stroke-width="1.4" stroke-linecap="round"/><path d="M0.4 -0.8h0" stroke="rgb(178,178,178)" stroke-width="5" stroke-linecap="round"/><path d="M3.5 -6.1h0M4.2 -10.1h0M12.7 10.5h0M-1.5 4.7h0M7.7 -9.4h0M-14.0 8.4h0M11.0 -8.0h0M-6.5 -10.6h0" stroke="rgb(176,176,176)" stroke-width="1.4" stroke-linecap="round"/><path d="M-2.7 -12.1h0M5.2 -12.9h0M6.5 6.3h0M-12.4 7.5h0M-3.5 -13.3h0" stroke="rgb(176,176,176)" stroke-width="1.0" stroke-linecap="round"/><path d="M13.1 10.6h0M-5.8 1.2h0M12.1 11.1h0M-4.0 11.8h0" stroke="rgb(150,150,150)" stroke-width="1.4" stroke-linecap="round"/><path d="M-7.1 -4.0h0" stroke="rgb(150,150,150)" stroke-width="0.7" stroke-linecap="round"/><path d="M-14.2 3.2h0M8.5 -10.7h0" stroke="rgb(150,150,150)" stroke-width="1.0" stroke-linecap="round"/><path d="M1.2 -12.9h0M-5.1 6.2h0M-7.1 12.2h0M-1.2 -10.8h0" stroke="rgb(120,120,120)" stroke-width="1.0" stroke-linecap="round"/><path d="M4.4 8.1h0M-6.0 -0.9h0M-12.6 8.5h0" stroke="rgb(120,120,120)" stroke-width="0.7" stroke-linecap="round"/><path d="M0.9 9.5h0M-5.5 -9.0h0M-6.1 -5.0h0M0.4 8.0h0M4.4 2.7h0" stroke="rgb(90,90,90)" stroke-width="1.0" stroke-linecap="round"/><path d="M-8.5 11.8h0" stroke="rgb(90,90,90)" stroke-width="1.4" stroke-linecap="round"/><path d="M-5.4 14.8h0" stroke="rgb(90,90,90)" stroke-width="0.7" stroke-linecap="round"/></g></g><circle r="17.6" fill="none" stroke="#000" stroke-width="1.9"/></g>
<g transform="translate(263.90,728.30)"><circle r="17.9" fill="rgb(204,204,204)"/><g clip-path="url(#dc)"><g filter="url(#soft2)"><path d="M-7.2 -6.8h0M-11.6 3.2h0" stroke="rgb(194,194,194)" stroke-width="1.0" stroke-linecap="round"/><path d="M2.8 12.2h0M4.2 14.4h0M-2.2 10.4h0M-0.2 -4.4h0" stroke="rgb(194,194,194)" stroke-width="1.4" stroke-linecap="round"/><path d="M-6.4 -15.1h0M-7.6 12.2h0M6.9 -5.3h0M-7.0 7.0h0M4.2 4.8h0M-15.7 -1.1h0M5.3 -2.0h0M12.6 -4.8h0M11.0 -9.5h0" stroke="rgb(186,186,186)" stroke-width="1.0" stroke-linecap="round"/><path d="M6.7 -13.9h0M8.0 -11.3h0M-13.9 0.7h0M-0.4 -4.8h0M-5.8 -9.1h0M-13.1 -8.3h0M-0.7 -7.0h0M13.6 7.8h0M-14.9 7.1h0M4.6 -15.7h0M8.6 12.8h0" stroke="rgb(186,186,186)" stroke-width="1.4" stroke-linecap="round"/><path d="M0.1 3.7h0M-12.5 7.6h0M13.4 5.4h0M-15.9 -1.5h0M-15.1 2.7h0M-8.1 2.4h0M11.0 -2.3h0M-8.3 -13.8h0M12.8 -4.6h0M14.6 4.7h0M6.1 -14.7h0M10.0 -5.1h0M-12.9 -7.4h0" stroke="rgb(178,178,178)" stroke-width="1.4" stroke-linecap="round"/><path d="M1.9 -10.9h0M3.3 -7.8h0M-15.0 3.3h0M7.1 -6.0h0M-3.7 12.3h0M-1.3 -9.5h0" stroke="rgb(178,178,178)" stroke-width="1.0" stroke-linecap="round"/><path d="M-12.1 9.7h0M2.5 -7.9h0M7.7 12.2h0" stroke="rgb(150,150,150)" stroke-width="0.7" stroke-linecap="round"/><path d="M-6.5 1.4h0" stroke="rgb(150,150,150)" stroke-width="1.3" stroke-linecap="round"/><path d="M-8.7 -11.1h0" stroke="rgb(150,150,150)" stroke-width="1.0" stroke-linecap="round"/><path d="M-10.0 3.9h0M14.3 1.0h0M-9.7 -1.7h0" stroke="rgb(120,120,120)" stroke-width="0.7" stroke-linecap="round"/><path d="M-6.4 2.9h0" stroke="rgb(120,120,120)" stroke-width="1.0" stroke-linecap="round"/><path d="M11.5 8.1h0" stroke="rgb(120,120,120)" stroke-width="1.3" stroke-linecap="round"/><path d="M-11.3 -11.8h0M-5.3 -12.8h0" stroke="rgb(90,90,90)" stroke-width="0.7" stroke-linecap="round"/></g></g><circle r="17.6" fill="none" stroke="#000" stroke-width="1.9"/></g>
<g transform="translate(501.50,728.30)"><circle r="17.9" fill="rgb(202,202,202)"/><g clip-path="url(#dc)"><g filter="url(#soft2)"><path d="M-13.5 2.4h0M-1.2 -5.2h0M4.5 -14.7h0M-7.2 -12.0h0M-1.0 -9.6h0M-8.6 -1.4h0" stroke="rgb(192,192,192)" stroke-width="1.4" stroke-linecap="round"/><path d="M-9.8 7.1h0M-2.1 -7.9h0M3.5 14.7h0M4.9 -5.0h0M-11.3 -8.9h0M-6.5 -3.1h0" stroke="rgb(192,192,192)" stroke-width="1.0" stroke-linecap="round"/><path d="M-0.8 -0.1h0" stroke="rgb(188,188,188)" stroke-width="10" stroke-linecap="round"/><path d="M-5.8 12.7h0M-6.0 3.5h0M7.0 -0.1h0M-11.1 -12.2h0M-1.1 3.3h0M-9.7 6.9h0M-6.9 -13.3h0M-2.1 8.4h0M10.3 2.7h0" stroke="rgb(184,184,184)" stroke-width="1.0" stroke-linecap="round"/><path d="M6.0 10.0h0M-7.0 -13.5h0" stroke="rgb(184,184,184)" stroke-width="1.4" stroke-linecap="round"/><path d="M-0.5 -0.1h0" stroke="rgb(178,178,178)" stroke-width="5" stroke-linecap="round"/><path d="M-4.9 -6.9h0M1.1 9.4h0M10.0 -12.9h0M-0.0 3.0h0M-4.0 5.8h0M-2.2 -2.7h0M6.9 -8.3h0M-7.1 -5.8h0M12.1 -5.2h0M-13.4 -9.5h0M10.3 -8.4h0M-1.2 8.4h0M13.3 9.7h0" stroke="rgb(176,176,176)" stroke-width="1.4" stroke-linecap="round"/><path d="M-14.3 -0.4h0M-11.9 -2.6h0M6.4 -9.1h0M6.9 10.8h0M-2.7 -7.8h0M-5.4 -7.5h0M-1.3 6.8h0M-12.0 9.1h0M-0.5 9.9h0" stroke="rgb(176,176,176)" stroke-width="1.0" stroke-linecap="round"/><path d="M3.3 15.2h0M14.1 6.8h0M-14.8 -7.2h0" stroke="rgb(150,150,150)" stroke-width="1.0" stroke-linecap="round"/><path d="M3.6 -10.6h0M-4.6 -12.2h0" stroke="rgb(150,150,150)" stroke-width="1.4" stroke-linecap="round"/><path d="M8.0 -3.8h0M-2.7 -1.2h0" stroke="rgb(120,120,120)" stroke-width="1.0" stroke-linecap="round"/><path d="M7.6 4.4h0M6.0 5.7h0M1.9 3.8h0" stroke="rgb(120,120,120)" stroke-width="1.4" stroke-linecap="round"/><path d="M-10.4 2.8h0" stroke="rgb(90,90,90)" stroke-width="1.0" stroke-linecap="round"/><path d="M12.5 8.0h0M-2.7 11.9h0M-14.0 0.2h0" stroke="rgb(90,90,90)" stroke-width="0.7" stroke-linecap="round"/><path d="M-6.8 15.2h0M6.2 -11.9h0M-10.8 1.3h0" stroke="rgb(90,90,90)" stroke-width="1.4" stroke-linecap="round"/></g></g><circle r="17.6" fill="none" stroke="#000" stroke-width="1.9"/></g>
<text x="43.60" y="775.00" font-size="11" text-anchor="middle" fill="#111" stroke="#111" stroke-width="0.22">21</text>
<g transform="translate(70.10,771.60)"><circle r="17.9" fill="rgb(205,205,205)"/><g clip-path="url(#dc)"><g filter="url(#soft2)"><path d="M8.4 -9.6h0M7.7 -0.9h0M-0.4 6.6h0M8.2 8.7h0M-1.0 13.3h0M7.4 -3.9h0M6.2 -8.8h0M-0.2 -16.4h0M4.9 -12.5h0" stroke="rgb(195,195,195)" stroke-width="1.0" stroke-linecap="round"/><path d="M9.6 4.8h0M14.5 -3.9h0M-7.8 -6.3h0M3.2 -8.9h0M0.4 14.2h0M11.4 -2.3h0M-11.3 6.5h0" stroke="rgb(195,195,195)" stroke-width="1.4" stroke-linecap="round"/><path d="M6.2 -2.0h0M5.4 -2.9h0M-9.1 -6.0h0M3.7 -14.4h0M4.6 -10.0h0M-5.8 -2.2h0" stroke="rgb(187,187,187)" stroke-width="1.4" stroke-linecap="round"/><path d="M-8.9 0.2h0M-11.8 -7.7h0M15.4 -1.1h0M-6.4 4.4h0M4.0 -6.6h0M-13.8 -3.9h0M-6.9 12.1h0M-2.4 -0.7h0M-14.7 -6.0h0" stroke="rgb(187,187,187)" stroke-width="1.0" stroke-linecap="round"/><path d="M1.9 14.7h0M3.0 -6.8h0M-8.8 9.8h0M14.0 -8.5h0M4.2 8.7h0M4.6 -10.3h0M-14.0 0.8h0M0.8 -13.6h0" stroke="rgb(179,179,179)" stroke-width="1.0" stroke-linecap="round"/><path d="M3.4 6.0h0M6.9 10.6h0M-2.4 -6.1h0M2.3 15.5h0M12.7 -6.4h0M4.0 -9.2h0" stroke="rgb(179,179,179)" stroke-width="1.4" stroke-linecap="round"/><path d="M-7.0 8.9h0M0.5 -4.2h0M10.6 9.0h0M-11.4 0.7h0M12.0 1.1h0M-1.5 0.6h0M3.2 2.8h0" stroke="rgb(150,150,150)" stroke-width="1.0" stroke-linecap="round"/><path d="M12.1 -4.9h0M6.2 -8.9h0M-7.0 -9.6h0M15.4 -3.4h0M4.5 13.6h0M0.1 -4.7h0M2.8 7.8h0M12.6 -11.1h0" stroke="rgb(150,150,150)" stroke-width="1.7" stroke-linecap="round"/><path d="M-1.0 3.1h0M-10.6 -5.0h0M-12.2 -7.0h0M-8.6 12.0h0M2.5 3.6h0M-8.1 -5.4h0M-9.8 6.9h0" stroke="rgb(150,150,150)" stroke-width="0.7" stroke-linecap="round"/><path d="M4.8 -6.8h0M-9.9 -0.3h0M-3.0 13.7h0M13.4 -0.5h0M9.8 -6.0h0M1.7 13.3h0M-4.8 7.3h0M7.0 -9.1h0" stroke="rgb(120,120,120)" stroke-width="1.0" stroke-linecap="round"/><path d="M-14.9 -3.3h0M3.0 15.8h0M5.8 -14.9h0M0.7 -11.1h0M-2.1 -3.0h0M7.2 0.8h0M-9.7 11.8h0M-15.7 0.0h0M-9.0 -6.8h0" stroke="rgb(120,120,120)" stroke-width="1.7" stroke-linecap="round"/><path d="M-14.9 4.4h0M-3.4 -14.9h0M4.7 9.0h0M-15.2 -1.1h0M0.9 -1.0h0M7.1 -10.5h0M-13.1 -0.0h0M6.3 -4.2h0M-12.6 -10.1h0M-5.4 8.1h0M-10.9 -5.5h0M2.4 15.8h0M7.9 -6.2h0M13.3 -0.2h0" stroke="rgb(120,120,120)" stroke-width="0.7" stroke-linecap="round"/><path d="M10.1 8.5h0M7.0 3.3h0M1.4 -7.9h0M-9.9 6.8h0M-6.0 -12.0h0M-10.1 -1.6h0M-6.2 -8.4h0M11.7 4.9h0M-14.9 -4.2h0M7.7 -7.9h0M9.1 5.8h0M3.1 -7.4h0M-3.1 -14.0h0" stroke="rgb(90,90,90)" stroke-width="1.0" stroke-linecap="round"/><path d="M2.2 -16.8h0M-4.1 2.5h0M4.1 -12.2h0M-5.2 -1.8h0M-13.9 9.3h0M-13.9 3.2h0M-7.9 5.4h0M-6.3 -5.5h0M4.5 -6.7h0M3.3 3.5h0" stroke="rgb(90,90,90)" stroke-width="0.7" stroke-linecap="round"/><path d="M3.0 -12.0h0M-6.7 -0.6h0M2.2 6.0h0M14.7 0.7h0" stroke="rgb(90,90,90)" stroke-width="1.7" stroke-linecap="round"/></g></g><circle r="17.6" fill="none" stroke="#000" stroke-width="1.9"/></g>
<g transform="translate(307.00,771.60)"><circle r="17.9" fill="rgb(202,202,202)"/><g clip-path="url(#dc)"><g filter="url(#soft2)"><path d="M-5.5 14.3h0M8.0 -13.4h0M-10.3 6.6h0M-10.3 -9.5h0M2.8 0.3h0M4.1 -11.2h0M-9.4 -13.9h0" stroke="rgb(192,192,192)" stroke-width="1.4" stroke-linecap="round"/><path d="M14.0 -4.4h0M2.7 1.2h0M-6.6 15.1h0M-5.6 9.9h0M-11.5 0.3h0M1.8 11.0h0" stroke="rgb(192,192,192)" stroke-width="1.0" stroke-linecap="round"/><path d="M2.1 1.4h0" stroke="rgb(188,188,188)" stroke-width="10" stroke-linecap="round"/><path d="M3.6 13.5h0M7.3 2.6h0M-2.0 -11.9h0M-10.2 3.4h0M-12.9 -8.2h0M4.1 3.0h0M11.1 4.4h0M2.9 4.3h0M-13.1 -8.5h0M-3.7 -9.8h0" stroke="rgb(184,184,184)" stroke-width="1.0" stroke-linecap="round"/><path d="M-14.2 -6.1h0M-6.5 -9.8h0M11.6 11.3h0M11.9 -5.3h0M-5.2 -2.3h0" stroke="rgb(184,184,184)" stroke-width="1.4" stroke-linecap="round"/><path d="M-0.4 -0.3h0" stroke="rgb(178,178,178)" stroke-width="5" stroke-linecap="round"/><path d="M10.9 0.1h0M-6.6 -1.5h0M-9.9 7.9h0M11.0 0.8h0M3.2 -0.2h0M-5.2 -13.3h0M1.9 -11.3h0M1.2 2.2h0M-12.9 -9.2h0M11.1 -11.1h0" stroke="rgb(176,176,176)" stroke-width="1.0" stroke-linecap="round"/><path d="M4.0 -14.8h0M0.8 10.9h0M2.7 -7.7h0M9.4 -13.2h0M0.3 -2.0h0M6.9 -4.7h0M9.7 2.7h0" stroke="rgb(176,176,176)" stroke-width="1.4" stroke-linecap="round"/><path d="M1.1 -0.3h0M-10.4 -2.0h0M-15.0 -7.6h0M13.5 -7.6h0M-9.3 2.8h0M-3.5 -6.6h0" stroke="rgb(150,150,150)" stroke-width="1.5" stroke-linecap="round"/><path d="M-2.1 8.5h0M6.5 -2.9h0" stroke="rgb(150,150,150)" stroke-width="0.7" stroke-linecap="round"/><path d="M3.9 6.8h0M-1.0 -15.5h0M13.2 6.4h0M3.8 9.0h0M14.8 -3.2h0M0.6 10.1h0" stroke="rgb(150,150,150)" stroke-width="1.0" stroke-linecap="round"/><path d="M-5.8 8.8h0M0.2 -0.3h0M-7.7 -5.5h0M-3.4 16.1h0M6.4 2.8h0" stroke="rgb(120,120,120)" stroke-width="1.0" stroke-linecap="round"/><path d="M9.0 2.2h0" stroke="rgb(120,120,120)" stroke-width="0.7" stroke-linecap="round"/><path d="M-13.2 9.9h0M-9.9 -6.8h0M6.2 -1.0h0M-2.2 4.4h0M-8.6 -3.3h0" stroke="rgb(120,120,120)" stroke-width="1.5" stroke-linecap="round"/><path d="M2.1 5.2h0M16.4 -0.7h0M-5.3 -4.4h0M10.8 8.1h0" stroke="rgb(90,90,90)" stroke-width="0.7" stroke-linecap="round"/><path d="M-8.2 11.6h0M-9.4 -13.9h0M-13.5 6.1h0M-6.1 -14.7h0M-5.2 -12.1h0M6.0 15.8h0" stroke="rgb(90,90,90)" stroke-width="1.0" stroke-linecap="round"/><path d="M12.3 -9.2h0M11.0 7.5h0M9.7 1.6h0" stroke="rgb(90,90,90)" stroke-width="1.5" stroke-linecap="round"/></g></g><circle r="17.6" fill="none" stroke="#000" stroke-width="1.9"/></g>
<g transform="translate(108.86,771.60)"><circle r="17.9" fill="rgb(205,205,205)"/><g clip-path="url(#dc)"><g filter="url(#soft2)"><path d="M9.1 8.0h0M1.1 3.1h0M12.2 -1.0h0M13.0 4.8h0" stroke="rgb(195,195,195)" stroke-width="1.4" stroke-linecap="round"/><path d="M-7.1 -6.5h0M-0.7 15.1h0M4.2 -2.8h0M14.5 3.8h0M-3.2 6.1h0M-10.5 -7.7h0M7.7 2.5h0M11.3 -8.7h0" stroke="rgb(195,195,195)" stroke-width="1.0" stroke-linecap="round"/><path d="M13.8 -4.2h0M-8.3 14.4h0M-16.6 -2.4h0M7.4 2.1h0M2.9 -2.9h0M-4.9 -0.6h0M2.6 -10.9h0M3.7 -5.1h0M-12.9 8.0h0M-4.8 -5.9h0" stroke="rgb(187,187,187)" stroke-width="1.4" stroke-linecap="round"/><path d="M10.7 -0.4h0M5.1 1.7h0M-4.6 14.4h0M-13.0 2.8h0M0.2 10.2h0M-8.3 -2.7h0M14.0 -9.0h0M-2.1 -13.1h0" stroke="rgb(187,187,187)" stroke-width="1.0" stroke-linecap="round"/><path d="M-2.1 3.5h0M14.3 7.9h0M-0.2 -4.8h0M13.4 -6.7h0M-13.1 -7.4h0M-9.8 4.2h0M-0.9 -1.4h0M0.6 7.1h0" stroke="rgb(179,179,179)" stroke-width="1.4" stroke-linecap="round"/><path d="M13.1 4.4h0M15.1 -4.9h0M-9.8 4.4h0M-3.7 6.2h0M14.6 6.2h0M-6.1 6.9h0M5.7 15.4h0" stroke="rgb(179,179,179)" stroke-width="1.0" stroke-linecap="round"/><path d="M-4.8 -10.2h0M-14.5 -3.5h0M4.2 13.2h0M13.0 -2.0h0M-9.5 7.1h0M9.2 -2.1h0M4.7 4.5h0M0.6 -0.9h0" stroke="rgb(150,150,150)" stroke-width="0.7" stroke-linecap="round"/><path d="M14.8 -4.9h0M13.8 6.6h0M-9.3 7.2h0M-6.6 -14.5h0M3.9 -7.3h0" stroke="rgb(150,150,150)" stroke-width="1.0" stroke-linecap="round"/><path d="M-9.4 8.0h0M5.3 -4.8h0M9.4 -2.5h0M14.2 5.8h0M4.9 -2.4h0M-10.0 -10.1h0" stroke="rgb(150,150,150)" stroke-width="1.5" stroke-linecap="round"/><path d="M-8.2 -1.1h0M3.1 -13.8h0M-6.4 2.8h0M-4.4 1.6h0" stroke="rgb(120,120,120)" stroke-width="0.7" stroke-linecap="round"/><path d="M-16.9 -1.1h0M-3.7 15.4h0M5.2 13.8h0M11.8 0.5h0M-0.6 -16.8h0M-9.9 13.1h0M5.0 0.8h0M8.4 -11.9h0" stroke="rgb(120,120,120)" stroke-width="1.5" stroke-linecap="round"/><path d="M-11.1 6.6h0M-15.1 -6.3h0M13.7 0.9h0M-8.9 6.7h0" stroke="rgb(120,120,120)" stroke-width="1.0" stroke-linecap="round"/><path d="M-12.5 -5.6h0M-8.4 -8.6h0M-15.2 1.4h0M-4.3 -5.9h0M1.1 4.9h0M-1.2 -4.7h0M2.6 -3.5h0" stroke="rgb(90,90,90)" stroke-width="0.7" stroke-linecap="round"/><path d="M11.9 10.3h0M4.0 -16.0h0M0.6 8.8h0M11.3 -11.6h0M12.0 6.9h0M-1.4 -1.8h0" stroke="rgb(90,90,90)" stroke-width="1.5" stroke-linecap="round"/><path d="M-0.3 -4.2h0M6.5 2.1h0M11.1 7.5h0M-7.5 -2.1h0M-12.8 1.3h0M12.7 -3.0h0M-4.3 -14.2h0" stroke="rgb(90,90,90)" stroke-width="1.0" stroke-linecap="round"/></g></g><circle r="17.6" fill="none" stroke="#000" stroke-width="1.9"/></g>
<g transform="translate(345.90,771.60)"><circle r="17.9" fill="rgb(205,205,205)"/><g clip-path="url(#dc)"><g filter="url(#soft2)"><path d="M-2.2 12.6h0M6.8 -14.8h0M8.0 -8.1h0M13.3 -3.0h0M15.6 1.9h0M-15.2 4.2h0M15.6 1.2h0M11.3 5.1h0M-0.1 -3.6h0" stroke="rgb(195,195,195)" stroke-width="1.0" stroke-linecap="round"/><path d="M-3.8 -12.8h0M12.7 -8.2h0M-1.0 -2.1h0M-5.5 -11.4h0M-15.5 1.0h0M9.3 -11.8h0M-2.4 7.4h0M4.5 9.5h0M-1.2 3.2h0M-13.4 -1.8h0M-6.1 3.0h0M-3.0 -7.8h0" stroke="rgb(195,195,195)" stroke-width="1.4" stroke-linecap="round"/><path d="M2.3 -0.1h0" stroke="rgb(191,191,191)" stroke-width="10" stroke-linecap="round"/><path d="M-9.2 5.8h0M3.0 -5.6h0M-7.2 2.7h0M-4.9 -13.6h0M-9.1 12.0h0M-4.6 12.8h0M-9.7 -10.8h0" stroke="rgb(187,187,187)" stroke-width="1.0" stroke-linecap="round"/><path d="M7.0 15.2h0M12.1 5.7h0M5.2 9.4h0M-3.2 13.0h0M-9.4 -5.3h0M-3.3 4.2h0M-3.7 -5.2h0" stroke="rgb(187,187,187)" stroke-width="1.4" stroke-linecap="round"/><path d="M1.2 -0.8h0" stroke="rgb(181,181,181)" stroke-width="5" stroke-linecap="round"/><path d="M6.6 -12.8h0M3.3 -5.5h0M-2.5 -12.8h0M-0.1 11.0h0" stroke="rgb(179,179,179)" stroke-width="1.0" stroke-linecap="round"/><path d="M12.4 -7.8h0M5.8 -14.5h0M1.8 -8.1h0M-4.9 12.9h0M9.1 -0.5h0M-7.3 11.6h0" stroke="rgb(179,179,179)" stroke-width="1.4" stroke-linecap="round"/><path d="M4.2 15.8h0M-4.6 0.4h0M12.7 -9.6h0" stroke="rgb(150,150,150)" stroke-width="1.4" stroke-linecap="round"/><path d="M15.9 -3.3h0M-11.4 2.7h0M-8.3 2.8h0" stroke="rgb(150,150,150)" stroke-width="0.7" stroke-linecap="round"/><path d="M9.4 9.9h0M-16.8 1.8h0M3.8 -5.5h0M6.0 -2.8h0" stroke="rgb(150,150,150)" stroke-width="1.0" stroke-linecap="round"/><path d="M-3.5 -7.3h0M-3.0 12.5h0M6.1 5.2h0M-5.7 -15.5h0" stroke="rgb(120,120,120)" stroke-width="1.4" stroke-linecap="round"/><path d="M6.1 -15.6h0M-7.6 7.1h0" stroke="rgb(120,120,120)" stroke-width="0.7" stroke-linecap="round"/><path d="M-4.7 -9.3h0M8.9 -11.5h0M2.0 13.4h0M12.6 3.2h0M11.9 -3.0h0" stroke="rgb(120,120,120)" stroke-width="1.0" stroke-linecap="round"/><path d="M2.2 13.3h0M14.1 2.6h0M0.6 4.4h0M16.1 4.2h0" stroke="rgb(90,90,90)" stroke-width="0.7" stroke-linecap="round"/><path d="M-5.8 6.4h0M4.8 -15.2h0" stroke="rgb(90,90,90)" stroke-width="1.0" stroke-linecap="round"/><path d="M-10.8 4.7h0M3.8 -11.9h0" stroke="rgb(90,90,90)" stroke-width="1.4" stroke-linecap="round"/></g></g><circle r="17.6" fill="none" stroke="#000" stroke-width="1.9"/></g>
<g transform="translate(147.62,771.60)"><circle r="17.9" fill="rgb(205,205,205)"/><g clip-path="url(#dc)"><g filter="url(#soft2)"><path d="M8.1 -5.9h0M-3.4 -13.8h0M-7.3 -6.2h0M-3.2 -12.6h0M5.4 -2.3h0M-2.1 -4.0h0" stroke="rgb(195,195,195)" stroke-width="1.0" stroke-linecap="round"/><path d="M-1.6 -15.1h0M-3.8 12.8h0M-8.3 2.8h0M-16.0 4.6h0M-2.1 4.7h0M-16.2 4.1h0M-9.6 1.8h0M-15.2 -2.7h0" stroke="rgb(195,195,195)" stroke-width="1.4" stroke-linecap="round"/><path d="M-9.1 -10.1h0M-4.9 14.2h0M3.0 14.3h0M2.1 6.9h0M8.9 -0.6h0M8.4 9.5h0M1.7 -2.8h0M11.0 5.7h0M-3.3 -8.4h0" stroke="rgb(187,187,187)" stroke-width="1.0" stroke-linecap="round"/><path d="M3.4 -5.3h0M-10.8 -10.7h0M-2.8 0.7h0M-4.2 -6.8h0M-2.5 -3.5h0M2.5 -2.8h0M15.8 3.1h0" stroke="rgb(187,187,187)" stroke-width="1.4" stroke-linecap="round"/><path d="M10.3 13.1h0M8.5 11.0h0M12.0 -9.1h0M-4.3 -6.2h0M-15.4 0.9h0M-4.4 -15.2h0" stroke="rgb(179,179,179)" stroke-width="1.0" stroke-linecap="round"/><path d="M8.1 -1.5h0M15.2 -3.1h0M-2.6 -2.1h0M-10.7 4.4h0M-6.1 -2.7h0M5.5 -14.6h0M-11.8 -11.2h0M6.8 -12.4h0M-2.5 -0.0h0" stroke="rgb(179,179,179)" stroke-width="1.4" stroke-linecap="round"/><path d="M0.4 15.2h0M-1.2 2.2h0M-10.0 -9.3h0M3.0 -10.5h0" stroke="rgb(150,150,150)" stroke-width="1.0" stroke-linecap="round"/><path d="M7.6 -10.4h0M9.1 -8.8h0M9.5 -5.5h0M-11.4 0.5h0M12.3 -1.7h0" stroke="rgb(150,150,150)" stroke-width="1.5" stroke-linecap="round"/><path d="M2.0 -6.5h0M15.9 -1.0h0" stroke="rgb(150,150,150)" stroke-width="0.7" stroke-linecap="round"/><path d="M10.2 11.9h0M15.0 2.2h0M9.7 0.2h0M15.2 -5.8h0" stroke="rgb(120,120,120)" stroke-width="1.0" stroke-linecap="round"/><path d="M4.0 -3.5h0M2.9 1.9h0M7.0 3.5h0" stroke="rgb(120,120,120)" stroke-width="0.7" stroke-linecap="round"/><path d="M-3.9 -10.0h0M10.3 0.6h0M6.6 10.8h0M3.3 1.5h0M-13.2 -8.6h0M-11.8 7.4h0M-10.9 -8.6h0" stroke="rgb(120,120,120)" stroke-width="1.5" stroke-linecap="round"/><path d="M1.8 5.1h0M-5.4 -3.1h0M-9.0 4.4h0M10.0 -3.3h0M2.0 -11.7h0M11.6 -5.0h0M-15.3 -2.0h0" stroke="rgb(90,90,90)" stroke-width="1.5" stroke-linecap="round"/><path d="M-10.9 12.7h0M-2.3 6.2h0" stroke="rgb(90,90,90)" stroke-width="0.7" stroke-linecap="round"/><path d="M4.4 -10.3h0M-3.7 -4.2h0M-3.1 8.4h0M-15.6 0.6h0" stroke="rgb(90,90,90)" stroke-width="1.0" stroke-linecap="round"/></g></g><circle r="17.6" fill="none" stroke="#000" stroke-width="1.9"/></g>
<g transform="translate(384.80,771.60)"><circle r="17.9" fill="rgb(205,205,205)"/><g clip-path="url(#dc)"><g filter="url(#soft2)"><path d="M-5.8 10.0h0M8.6 1.7h0M-5.9 -4.7h0" stroke="rgb(195,195,195)" stroke-width="1.0" stroke-linecap="round"/><path d="M-4.1 -12.3h0M3.2 -2.5h0M6.9 -4.5h0M6.7 -13.9h0M7.3 -4.9h0M5.9 12.2h0M7.3 -0.8h0M-1.2 -2.5h0M-7.9 2.8h0" stroke="rgb(195,195,195)" stroke-width="1.4" stroke-linecap="round"/><path d="M2.3 1.9h0" stroke="rgb(191,191,191)" stroke-width="10" stroke-linecap="round"/><path d="M-1.4 -3.6h0M-4.0 10.9h0M-2.0 -3.0h0M5.5 -13.4h0M1.8 -6.1h0M-9.0 -6.7h0M-0.4 2.4h0" stroke="rgb(187,187,187)" stroke-width="1.0" stroke-linecap="round"/><path d="M-13.6 2.5h0M-0.8 -3.2h0M-2.0 7.3h0M-7.5 -2.0h0M-9.2 -4.5h0M-9.2 -6.4h0M-2.5 7.2h0M3.3 -6.0h0M-5.7 8.4h0" stroke="rgb(187,187,187)" stroke-width="1.4" stroke-linecap="round"/><path d="M0.6 0.2h0" stroke="rgb(181,181,181)" stroke-width="5" stroke-linecap="round"/><path d="M0.6 -7.2h0M4.5 10.3h0M1.9 5.8h0M-10.7 4.0h0M-2.4 2.0h0M-2.9 8.6h0M8.1 9.7h0M13.5 -3.8h0M5.4 2.8h0M-4.5 12.2h0" stroke="rgb(179,179,179)" stroke-width="1.4" stroke-linecap="round"/><path d="M2.8 -9.0h0M-4.9 -7.1h0M-8.9 -6.1h0M-0.3 -4.6h0M12.8 7.6h0M3.9 14.6h0M-0.3 -11.8h0" stroke="rgb(179,179,179)" stroke-width="1.0" stroke-linecap="round"/><path d="M-1.4 -3.1h0M-9.1 -13.1h0M6.1 4.7h0M3.3 -1.6h0" stroke="rgb(150,150,150)" stroke-width="0.7" stroke-linecap="round"/><path d="M6.2 -11.2h0M-8.3 -11.5h0" stroke="rgb(150,150,150)" stroke-width="1.0" stroke-linecap="round"/><path d="M4.6 -10.4h0M-9.7 3.8h0M-5.8 -2.0h0" stroke="rgb(150,150,150)" stroke-width="1.4" stroke-linecap="round"/><path d="M-0.8 -6.8h0M-10.4 1.5h0M-2.2 13.2h0M-5.9 0.1h0M-3.2 -9.3h0" stroke="rgb(120,120,120)" stroke-width="1.4" stroke-linecap="round"/><path d="M-7.6 -8.0h0M-1.4 10.7h0M0.5 5.7h0M-7.6 -8.9h0" stroke="rgb(120,120,120)" stroke-width="0.7" stroke-linecap="round"/><path d="M8.7 -0.4h0" stroke="rgb(120,120,120)" stroke-width="1.0" stroke-linecap="round"/><path d="M-8.3 11.2h0M-3.4 9.4h0M-13.8 -1.0h0" stroke="rgb(90,90,90)" stroke-width="0.7" stroke-linecap="round"/><path d="M2.4 4.3h0M-7.7 1.4h0M-0.7 -1.7h0M-10.9 2.9h0" stroke="rgb(90,90,90)" stroke-width="1.4" stroke-linecap="round"/><path d="M-7.6 0.8h0M3.8 -3.1h0M-5.5 3.4h0" stroke="rgb(90,90,90)" stroke-width="1.0" stroke-linecap="round"/></g></g><circle r="17.6" fill="none" stroke="#000" stroke-width="1.9"/></g>
<g transform="translate(186.38,771.60)"><circle r="17.9" fill="rgb(208,208,208)"/><g clip-path="url(#dc)"><g filter="url(#soft2)"><path d="M-12.2 4.6h0M-14.1 -9.0h0M10.0 -8.3h0M-3.9 -5.3h0M14.9 5.5h0M-5.4 -2.0h0M-5.2 10.9h0M3.4 0.7h0M4.8 5.5h0M4.6 0.7h0" stroke="rgb(198,198,198)" stroke-width="1.0" stroke-linecap="round"/><path d="M-12.2 -5.3h0M6.6 -0.4h0M-4.4 -13.4h0M-4.9 15.7h0M1.2 10.9h0M9.9 -1.3h0M15.2 2.1h0" stroke="rgb(198,198,198)" stroke-width="1.4" stroke-linecap="round"/><path d="M-11.3 -11.1h0M9.8 4.7h0M11.8 -6.4h0M1.5 -15.0h0M-1.9 -1.1h0M3.9 -12.9h0M13.2 7.3h0M1.7 -10.0h0M14.5 -0.3h0M-13.1 1.7h0M8.1 2.8h0" stroke="rgb(190,190,190)" stroke-width="1.4" stroke-linecap="round"/><path d="M-2.3 12.2h0M2.7 15.3h0M-0.2 -6.8h0M-8.1 -1.0h0M5.1 11.9h0" stroke="rgb(190,190,190)" stroke-width="1.0" stroke-linecap="round"/><path d="M-1.6 11.5h0M9.4 -5.5h0M9.9 7.5h0M-0.0 6.3h0M-1.5 5.7h0" stroke="rgb(182,182,182)" stroke-width="1.0" stroke-linecap="round"/><path d="M0.9 -4.7h0M3.1 3.6h0M6.7 2.5h0M7.1 -2.3h0M16.3 -1.6h0M-9.8 10.9h0M14.8 7.4h0" stroke="rgb(182,182,182)" stroke-width="1.4" stroke-linecap="round"/><path d="M12.8 3.0h0M1.1 10.3h0M8.7 -10.5h0" stroke="rgb(150,150,150)" stroke-width="0.7" stroke-linecap="round"/><path d="M-8.9 -9.9h0M-13.6 -6.2h0M-9.5 -12.6h0M9.9 7.8h0" stroke="rgb(150,150,150)" stroke-width="1.4" stroke-linecap="round"/><path d="M3.5 -10.0h0" stroke="rgb(150,150,150)" stroke-width="1.0" stroke-linecap="round"/><path d="M1.3 10.3h0M13.5 9.2h0" stroke="rgb(120,120,120)" stroke-width="1.0" stroke-linecap="round"/><path d="M10.1 12.1h0M-16.2 3.5h0M1.4 -1.9h0" stroke="rgb(120,120,120)" stroke-width="0.7" stroke-linecap="round"/><path d="M-5.6 5.2h0M-4.6 -10.7h0" stroke="rgb(120,120,120)" stroke-width="1.4" stroke-linecap="round"/><path d="M13.8 -0.8h0M-13.5 5.8h0M-3.6 -8.2h0M-4.1 6.1h0" stroke="rgb(90,90,90)" stroke-width="1.4" stroke-linecap="round"/><path d="M12.8 -7.6h0M-2.6 -3.2h0" stroke="rgb(90,90,90)" stroke-width="1.0" stroke-linecap="round"/></g></g><circle r="17.6" fill="none" stroke="#000" stroke-width="1.9"/></g>
<g transform="translate(423.70,771.60)"><circle r="17.9" fill="rgb(205,205,205)"/><g clip-path="url(#dc)"><g filter="url(#soft2)"><path d="M5.7 5.2h0M-2.0 -13.2h0M8.5 13.5h0M7.8 -1.6h0M4.7 -1.7h0M-11.7 7.9h0M-4.4 -11.0h0M8.9 -13.5h0M-5.2 -5.5h0M0.8 -14.2h0" stroke="rgb(195,195,195)" stroke-width="1.4" stroke-linecap="round"/><path d="M10.9 -10.0h0M10.1 -10.2h0M-4.1 10.9h0M-5.3 13.1h0" stroke="rgb(195,195,195)" stroke-width="1.0" stroke-linecap="round"/><path d="M1.1 -0.3h0" stroke="rgb(191,191,191)" stroke-width="10" stroke-linecap="round"/><path d="M-6.4 -12.1h0M15.2 2.1h0M8.8 3.6h0M-8.5 11.1h0M1.2 -6.7h0M-9.6 -7.2h0M13.0 -4.2h0M0.7 -2.5h0M3.2 -1.4h0M4.6 -8.2h0" stroke="rgb(187,187,187)" stroke-width="1.4" stroke-linecap="round"/><path d="M-4.0 10.5h0M-4.0 -14.9h0M-12.4 3.8h0M1.7 -7.7h0M-12.9 -6.9h0M12.6 7.6h0M-0.5 -10.1h0M16.0 1.0h0M3.9 -8.9h0" stroke="rgb(187,187,187)" stroke-width="1.0" stroke-linecap="round"/><path d="M1.2 -0.6h0" stroke="rgb(181,181,181)" stroke-width="5" stroke-linecap="round"/><path d="M6.8 14.6h0M-5.6 0.3h0M7.4 -8.6h0M-10.2 -7.8h0M6.2 -8.1h0M14.1 4.1h0M6.8 10.2h0M0.8 4.4h0" stroke="rgb(179,179,179)" stroke-width="1.4" stroke-linecap="round"/><path d="M1.1 -15.6h0M8.5 6.8h0M-2.5 -4.1h0M4.7 0.8h0" stroke="rgb(179,179,179)" stroke-width="1.0" stroke-linecap="round"/><path d="M-7.5 5.1h0M13.1 4.6h0M-7.1 1.4h0M-6.7 -11.1h0M14.2 3.1h0" stroke="rgb(150,150,150)" stroke-width="0.7" stroke-linecap="round"/><path d="M-12.0 9.7h0M16.3 0.0h0M8.8 -9.8h0" stroke="rgb(150,150,150)" stroke-width="1.0" stroke-linecap="round"/><path d="M7.5 -15.2h0" stroke="rgb(150,150,150)" stroke-width="1.4" stroke-linecap="round"/><path d="M-2.6 7.3h0M-11.1 4.2h0" stroke="rgb(120,120,120)" stroke-width="0.7" stroke-linecap="round"/><path d="M2.4 -16.6h0M-11.4 -4.5h0M7.0 -11.7h0" stroke="rgb(120,120,120)" stroke-width="1.4" stroke-linecap="round"/><path d="M14.2 -4.3h0M12.7 2.4h0" stroke="rgb(90,90,90)" stroke-width="0.7" stroke-linecap="round"/><path d="M3.8 4.2h0M2.3 15.7h0M-9.3 13.7h0M-0.9 8.9h0" stroke="rgb(90,90,90)" stroke-width="1.0" stroke-linecap="round"/><path d="M7.5 -10.7h0" stroke="rgb(90,90,90)" stroke-width="1.4" stroke-linecap="round"/></g></g><circle r="17.6" fill="none" stroke="#000" stroke-width="1.9"/></g>
<g transform="translate(225.14,771.60)"><circle r="17.9" fill="rgb(208,208,208)"/><g clip-path="url(#dc)"><g filter="url(#soft2)"><path d="M-14.3 -6.6h0M-13.8 3.8h0M-6.8 -1.7h0M-12.6 -3.0h0M7.6 -2.2h0M2.0 15.3h0M3.8 -4.6h0" stroke="rgb(198,198,198)" stroke-width="1.4" stroke-linecap="round"/><path d="M-12.9 2.1h0M9.8 -12.2h0M-15.5 0.4h0M2.9 2.2h0M-1.7 10.8h0M3.0 12.4h0M8.3 -0.0h0" stroke="rgb(198,198,198)" stroke-width="1.0" stroke-linecap="round"/><path d="M-15.1 3.6h0M-10.0 -4.8h0M7.9 -1.3h0M-7.1 2.4h0M-6.1 7.9h0M6.9 14.7h0M-1.6 7.8h0M-7.9 13.4h0M1.8 0.1h0M6.1 15.6h0M-6.8 7.9h0M2.4 -6.0h0M7.2 2.7h0M15.2 -2.5h0M4.6 -11.3h0M4.0 -16.0h0M-13.6 -2.1h0M7.9 -5.6h0M-15.8 3.3h0" stroke="rgb(190,190,190)" stroke-width="1.0" stroke-linecap="round"/><path d="M13.8 1.6h0M5.6 7.2h0M-5.4 -2.0h0" stroke="rgb(190,190,190)" stroke-width="1.4" stroke-linecap="round"/><path d="M-3.8 6.1h0M3.8 4.4h0M-8.9 -6.4h0M3.5 -11.5h0M-5.1 0.1h0" stroke="rgb(182,182,182)" stroke-width="1.0" stroke-linecap="round"/><path d="M0.0 -3.0h0M0.8 -2.5h0M-7.6 7.0h0M2.5 15.7h0" stroke="rgb(182,182,182)" stroke-width="1.4" stroke-linecap="round"/><path d="M6.8 8.9h0" stroke="rgb(150,150,150)" stroke-width="1.0" stroke-linecap="round"/><path d="M-7.8 2.0h0" stroke="rgb(150,150,150)" stroke-width="1.3" stroke-linecap="round"/><path d="M4.6 -13.7h0M7.5 10.9h0M8.7 9.9h0" stroke="rgb(120,120,120)" stroke-width="1.0" stroke-linecap="round"/><path d="M11.7 -4.4h0" stroke="rgb(120,120,120)" stroke-width="0.7" stroke-linecap="round"/><path d="M7.5 15.1h0M5.5 -2.6h0" stroke="rgb(90,90,90)" stroke-width="1.3" stroke-linecap="round"/><path d="M10.1 8.5h0M-2.6 -15.7h0M-5.9 15.2h0" stroke="rgb(90,90,90)" stroke-width="1.0" stroke-linecap="round"/><path d="M-0.3 -1.7h0" stroke="rgb(90,90,90)" stroke-width="0.7" stroke-linecap="round"/></g></g><circle r="17.6" fill="none" stroke="#000" stroke-width="1.9"/></g>
<g transform="translate(462.60,771.60)"><circle r="17.9" fill="rgb(205,205,205)"/><g clip-path="url(#dc)"><g filter="url(#soft2)"><path d="M9.2 8.0h0M10.3 -2.6h0M9.3 -2.3h0M-4.3 8.6h0M-0.6 8.4h0M-8.9 12.1h0" stroke="rgb(195,195,195)" stroke-width="1.0" stroke-linecap="round"/><path d="M-7.8 -5.0h0M9.6 -3.5h0M-16.7 -1.1h0M9.8 -12.7h0M7.6 14.6h0M-8.9 -3.8h0" stroke="rgb(195,195,195)" stroke-width="1.4" stroke-linecap="round"/><path d="M-2.5 -2.3h0" stroke="rgb(191,191,191)" stroke-width="10" stroke-linecap="round"/><path d="M14.5 -3.8h0M-13.0 -1.6h0M2.2 1.1h0M-0.8 -16.4h0M-14.2 5.5h0M-8.6 -6.5h0M3.4 6.3h0M-6.2 3.5h0M1.7 5.7h0M-8.2 10.7h0" stroke="rgb(187,187,187)" stroke-width="1.0" stroke-linecap="round"/><path d="M-10.6 -6.3h0M11.7 -9.4h0M3.6 -3.8h0M11.6 -3.4h0M3.6 -14.5h0M-8.2 -3.1h0M-0.7 4.5h0M7.8 1.0h0M-7.8 8.9h0M-5.6 -8.6h0M-8.0 -9.3h0" stroke="rgb(187,187,187)" stroke-width="1.4" stroke-linecap="round"/><path d="M-0.5 -1.6h0" stroke="rgb(181,181,181)" stroke-width="5" stroke-linecap="round"/><path d="M-2.7 -16.4h0M-2.0 5.1h0M13.7 -9.0h0M5.7 -10.5h0" stroke="rgb(179,179,179)" stroke-width="1.4" stroke-linecap="round"/><path d="M-15.1 3.9h0M-10.6 -6.7h0M11.1 1.5h0M3.3 -6.6h0M-2.7 -3.8h0M4.6 -12.9h0M-11.8 -9.4h0M4.3 -9.5h0" stroke="rgb(179,179,179)" stroke-width="1.0" stroke-linecap="round"/><path d="M-4.5 16.1h0M-3.6 -8.3h0" stroke="rgb(150,150,150)" stroke-width="1.3" stroke-linecap="round"/><path d="M-8.5 -10.5h0" stroke="rgb(150,150,150)" stroke-width="0.7" stroke-linecap="round"/><path d="M-4.6 -3.8h0M-3.6 -0.8h0M15.4 6.6h0" stroke="rgb(120,120,120)" stroke-width="1.0" stroke-linecap="round"/><path d="M-12.4 6.6h0M-10.3 -5.7h0" stroke="rgb(120,120,120)" stroke-width="1.3" stroke-linecap="round"/><path d="M9.9 2.8h0" stroke="rgb(120,120,120)" stroke-width="0.7" stroke-linecap="round"/><path d="M-0.9 -13.3h0M-16.4 4.3h0" stroke="rgb(90,90,90)" stroke-width="1.0" stroke-linecap="round"/><path d="M1.6 5.2h0" stroke="rgb(90,90,90)" stroke-width="1.3" stroke-linecap="round"/></g></g><circle r="17.6" fill="none" stroke="#000" stroke-width="1.9"/></g>
<g transform="translate(263.90,771.60)"><circle r="17.9" fill="rgb(208,208,208)"/><g clip-path="url(#dc)"><g filter="url(#soft2)"><path d="M-5.7 14.0h0M-9.0 -3.6h0M-0.1 -13.3h0M2.3 -5.8h0" stroke="rgb(198,198,198)" stroke-width="1.0" stroke-linecap="round"/><path d="M-11.1 0.8h0M-13.4 1.2h0M10.1 8.5h0M6.3 -12.1h0M14.9 2.4h0M10.2 -7.8h0M-0.4 0.3h0" stroke="rgb(198,198,198)" stroke-width="1.4" stroke-linecap="round"/><path d="M15.3 3.4h0M7.2 -7.2h0M-13.3 9.8h0M12.0 1.1h0M-0.4 -8.5h0M-12.2 7.4h0M-11.1 10.9h0M1.5 -2.0h0M-0.5 0.7h0" stroke="rgb(190,190,190)" stroke-width="1.4" stroke-linecap="round"/><path d="M4.8 -2.7h0M-1.5 -6.0h0M-5.6 -6.1h0M-2.4 -6.1h0M-2.1 -3.2h0M3.5 6.7h0M14.5 -1.9h0M2.5 -10.4h0" stroke="rgb(190,190,190)" stroke-width="1.0" stroke-linecap="round"/><path d="M2.9 -3.5h0M14.9 5.6h0M12.8 -10.5h0M-7.7 -6.2h0M13.5 -1.2h0M-4.4 -8.3h0M5.8 -2.8h0M16.5 3.2h0M-2.5 6.9h0M-7.8 2.7h0M10.9 4.4h0M4.3 13.6h0M7.1 -2.4h0" stroke="rgb(182,182,182)" stroke-width="1.0" stroke-linecap="round"/><path d="M-3.3 -16.4h0M-6.6 2.4h0M11.4 -8.3h0M7.7 -6.2h0" stroke="rgb(182,182,182)" stroke-width="1.4" stroke-linecap="round"/><path d="M3.5 2.1h0" stroke="rgb(150,150,150)" stroke-width="0.7" stroke-linecap="round"/><path d="M0.5 -1.0h0" stroke="rgb(150,150,150)" stroke-width="1.0" stroke-linecap="round"/><path d="M-13.6 -1.5h0" stroke="rgb(150,150,150)" stroke-width="1.3" stroke-linecap="round"/><path d="M-11.7 11.0h0M-5.1 14.5h0" stroke="rgb(120,120,120)" stroke-width="1.0" stroke-linecap="round"/><path d="M-12.4 7.1h0" stroke="rgb(120,120,120)" stroke-width="0.7" stroke-linecap="round"/><path d="M-6.8 2.5h0" stroke="rgb(120,120,120)" stroke-width="1.3" stroke-linecap="round"/><path d="M-0.7 6.9h0" stroke="rgb(90,90,90)" stroke-width="0.7" stroke-linecap="round"/><path d="M-3.5 7.9h0" stroke="rgb(90,90,90)" stroke-width="1.0" stroke-linecap="round"/></g></g><circle r="17.6" fill="none" stroke="#000" stroke-width="1.9"/></g>
<g transform="translate(501.50,771.60)"><circle r="17.9" fill="rgb(205,205,205)"/><g clip-path="url(#dc)"><g filter="url(#soft2)"><path d="M-6.7 -1.8h0M-9.1 -3.3h0M-4.9 -6.2h0M11.3 7.9h0M1.8 -2.4h0M-14.2 -4.1h0" stroke="rgb(195,195,195)" stroke-width="1.4" stroke-linecap="round"/><path d="M-11.3 10.5h0M-1.7 9.1h0M3.3 16.4h0" stroke="rgb(195,195,195)" stroke-width="1.0" stroke-linecap="round"/><path d="M0.4 -1.1h0" stroke="rgb(191,191,191)" stroke-width="10" stroke-linecap="round"/><path d="M3.2 -9.4h0M12.4 3.3h0M-1.2 3.5h0M15.5 4.9h0M-11.5 -5.6h0M-1.5 13.4h0M5.1 -4.2h0M8.7 -5.4h0M3.0 11.2h0M-11.6 6.7h0M5.7 -10.1h0" stroke="rgb(187,187,187)" stroke-width="1.4" stroke-linecap="round"/><path d="M-14.4 -0.9h0M-2.4 9.2h0M10.6 10.8h0M-1.4 -0.4h0M-2.2 14.1h0M-12.5 -9.0h0M2.4 10.2h0" stroke="rgb(187,187,187)" stroke-width="1.0" stroke-linecap="round"/><path d="M-0.6 0.2h0" stroke="rgb(181,181,181)" stroke-width="5" stroke-linecap="round"/><path d="M5.5 -8.8h0M-1.5 11.7h0M1.7 -11.0h0M-12.7 -1.5h0M7.2 13.2h0M6.4 -3.7h0M12.5 -9.8h0" stroke="rgb(179,179,179)" stroke-width="1.4" stroke-linecap="round"/><path d="M9.7 -8.7h0M-4.4 -10.5h0M-9.5 0.8h0M-2.1 -16.0h0M10.0 -0.1h0M-9.8 11.0h0M0.9 -10.1h0M-8.6 -0.1h0M-14.1 -1.4h0M-10.9 -2.7h0M2.7 -8.0h0" stroke="rgb(179,179,179)" stroke-width="1.0" stroke-linecap="round"/><path d="M-4.1 -4.2h0M5.2 -5.8h0M13.2 -9.9h0" stroke="rgb(150,150,150)" stroke-width="1.0" stroke-linecap="round"/><path d="M6.6 -13.7h0" stroke="rgb(150,150,150)" stroke-width="1.3" stroke-linecap="round"/><path d="M7.9 12.9h0" stroke="rgb(150,150,150)" stroke-width="0.7" stroke-linecap="round"/><path d="M-7.2 4.4h0" stroke="rgb(120,120,120)" stroke-width="1.3" stroke-linecap="round"/><path d="M-13.8 8.2h0" stroke="rgb(120,120,120)" stroke-width="1.0" stroke-linecap="round"/><path d="M-5.5 -5.3h0M9.9 -11.2h0" stroke="rgb(120,120,120)" stroke-width="0.7" stroke-linecap="round"/><path d="M-7.8 -11.4h0M-8.9 -1.6h0M-1.2 13.2h0" stroke="rgb(90,90,90)" stroke-width="1.0" stroke-linecap="round"/></g></g><circle r="17.6" fill="none" stroke="#000" stroke-width="1.9"/></g>
<text x="43.60" y="818.30" font-size="11" text-anchor="middle" fill="#111" stroke="#111" stroke-width="0.22">22</text>
<g transform="translate(70.10,814.90)"><circle r="17.9" fill="rgb(216,216,216)"/><g clip-path="url(#dc)"><g filter="url(#soft2)"><path d="M14.9 7.0h0M-8.3 -3.8h0M3.5 15.8h0M4.0 6.4h0M3.5 14.7h0M8.1 10.6h0M-6.3 -5.2h0M12.9 5.0h0" stroke="rgb(206,206,206)" stroke-width="1.0" stroke-linecap="round"/><path d="M2.1 -10.0h0M11.8 -0.0h0M-5.9 -2.8h0M-13.6 -3.4h0M-13.1 7.6h0M5.9 0.6h0M-4.7 -6.2h0" stroke="rgb(206,206,206)" stroke-width="1.4" stroke-linecap="round"/><path d="M8.0 -5.3h0M-12.3 -11.1h0M-10.0 2.9h0M8.6 -2.7h0M-0.9 -5.7h0M3.3 10.5h0" stroke="rgb(198,198,198)" stroke-width="1.4" stroke-linecap="round"/><path d="M12.0 -7.5h0M12.1 -10.8h0M-6.6 1.4h0M7.7 -6.6h0M-10.7 9.8h0M10.5 3.1h0M10.8 12.0h0M12.8 3.3h0" stroke="rgb(198,198,198)" stroke-width="1.0" stroke-linecap="round"/><path d="M-1.2 -16.6h0M4.1 15.2h0M12.2 0.8h0M-2.4 -3.3h0M4.4 7.1h0M8.0 -9.0h0M11.5 -6.5h0M6.9 -6.4h0M10.0 10.0h0" stroke="rgb(190,190,190)" stroke-width="1.0" stroke-linecap="round"/><path d="M1.3 5.6h0M-14.9 0.5h0M-7.9 0.3h0M3.7 -7.8h0M-9.9 -6.8h0M13.9 -1.2h0M-5.5 7.3h0" stroke="rgb(190,190,190)" stroke-width="1.4" stroke-linecap="round"/><path d="M9.5 -8.6h0M-6.5 4.1h0M-12.0 -7.8h0M-1.8 -6.7h0M14.3 8.2h0M-1.7 -14.5h0M7.8 -14.7h0" stroke="rgb(110,110,110)" stroke-width="1.0" stroke-linecap="round"/><path d="M7.8 -6.9h0M-2.3 6.5h0M-1.3 15.4h0M7.9 -9.9h0M12.8 7.9h0" stroke="rgb(110,110,110)" stroke-width="0.7" stroke-linecap="round"/><path d="M11.7 4.6h0M-16.9 0.1h0M-4.5 -3.9h0M4.1 10.9h0M1.2 -1.6h0M1.3 7.5h0M10.5 11.9h0" stroke="rgb(110,110,110)" stroke-width="1.6" stroke-linecap="round"/><path d="M2.2 12.1h0M-11.0 -6.1h0M-4.7 11.1h0M8.2 0.9h0M12.5 7.7h0M6.6 -5.0h0M-3.5 14.7h0M0.6 -12.0h0M-2.1 -14.3h0M-2.2 13.2h0M-8.9 -8.6h0M-4.8 -3.5h0" stroke="rgb(70,70,70)" stroke-width="0.7" stroke-linecap="round"/><path d="M10.7 -12.9h0M3.1 -15.1h0M13.0 -4.6h0M-13.0 -1.7h0M11.2 7.9h0M3.0 0.0h0M-2.1 6.7h0M-7.7 4.4h0M0.8 -16.3h0M-2.6 13.5h0M13.6 2.9h0" stroke="rgb(70,70,70)" stroke-width="1.0" stroke-linecap="round"/><path d="M4.2 7.4h0M13.1 -4.5h0M-14.1 -0.0h0M-13.1 -2.4h0M-2.7 -14.4h0M-3.0 -4.6h0M1.4 0.1h0M12.8 7.0h0M8.4 13.8h0" stroke="rgb(70,70,70)" stroke-width="1.6" stroke-linecap="round"/><path d="M-1.6 -13.1h0M-7.6 3.7h0M11.2 6.1h0M-7.4 -2.3h0" stroke="rgb(40,40,40)" stroke-width="0.7" stroke-linecap="round"/><path d="M1.5 15.0h0M11.8 -6.2h0M16.1 3.7h0M13.2 7.4h0M-12.5 -6.7h0" stroke="rgb(40,40,40)" stroke-width="1.6" stroke-linecap="round"/><path d="M-6.4 7.4h0M3.9 -3.0h0M9.4 -4.1h0" stroke="rgb(40,40,40)" stroke-width="1.0" stroke-linecap="round"/><path d="M5.9 3.6h0" stroke="rgb(35,35,35)" stroke-width="2.5" stroke-linecap="round"/><path d="M-5.2 -5.2h0" stroke="rgb(35,35,35)" stroke-width="1.8" stroke-linecap="round"/><path d="M7.1 5.9h0" stroke="rgb(15,15,15)" stroke-width="3.2" stroke-linecap="round"/></g></g><circle r="17.6" fill="none" stroke="#000" stroke-width="1.9"/></g>
<g transform="translate(307.00,814.90)"><circle r="17.9" fill="rgb(215,215,215)"/><g clip-path="url(#dc)"><g filter="url(#soft2)"><path d="M-11.5 4.5h0M-3.7 12.4h0M-4.3 1.7h0M11.2 -0.5h0M-9.9 6.5h0" stroke="rgb(205,205,205)" stroke-width="1.4" stroke-linecap="round"/><path d="M-1.6 5.3h0M-4.5 -0.3h0M11.5 7.4h0M16.2 4.0h0M-4.2 -10.9h0M10.0 -3.3h0M4.0 3.5h0M2.4 -10.8h0" stroke="rgb(205,205,205)" stroke-width="1.0" stroke-linecap="round"/><path d="M4.9 5.2h0M-4.8 -4.1h0M13.4 -3.4h0M8.0 8.5h0M-2.4 -0.1h0M5.0 2.6h0M10.8 11.3h0M-10.9 -10.9h0M-0.7 0.1h0" stroke="rgb(197,197,197)" stroke-width="1.4" stroke-linecap="round"/><path d="M2.7 -7.3h0M-3.5 -4.4h0M-10.4 -7.6h0M13.3 1.7h0M-4.0 -5.5h0M5.2 6.5h0M0.3 -1.1h0M12.9 -1.2h0" stroke="rgb(197,197,197)" stroke-width="1.0" stroke-linecap="round"/><path d="M8.4 2.2h0M7.0 -7.2h0M14.7 -5.7h0M2.1 13.3h0M-1.1 -0.7h0M0.5 -1.3h0M-13.3 -10.0h0" stroke="rgb(189,189,189)" stroke-width="1.0" stroke-linecap="round"/><path d="M9.4 -7.1h0M-0.6 -2.7h0M7.0 15.1h0M-9.3 13.3h0M-3.3 6.6h0M-4.5 2.8h0M-5.5 9.3h0M-10.4 11.1h0" stroke="rgb(189,189,189)" stroke-width="1.4" stroke-linecap="round"/><path d="M-10.3 -0.2h0M4.6 -12.9h0M10.6 -4.1h0M-6.7 -10.6h0M6.5 -6.6h0M12.1 -2.8h0M-0.7 15.2h0M-3.0 3.3h0M-2.1 2.4h0M-9.2 14.1h0" stroke="rgb(110,110,110)" stroke-width="0.7" stroke-linecap="round"/><path d="M3.7 -5.4h0M1.0 1.8h0M-11.1 7.8h0M-9.9 2.6h0M-5.7 -7.5h0M-3.5 6.6h0M-1.2 2.5h0M11.2 -3.9h0M12.6 -1.1h0M-11.7 4.8h0" stroke="rgb(110,110,110)" stroke-width="1.7" stroke-linecap="round"/><path d="M12.6 -10.9h0M3.9 -14.2h0M-2.4 7.2h0M-1.8 -4.5h0" stroke="rgb(110,110,110)" stroke-width="1.0" stroke-linecap="round"/><path d="M-7.9 10.9h0M-9.8 -1.9h0M-3.1 -6.3h0M5.0 -6.7h0M-1.4 -5.8h0M9.7 3.6h0M-2.0 6.2h0M-2.2 -3.0h0M6.0 -13.5h0M-2.7 13.5h0" stroke="rgb(70,70,70)" stroke-width="1.0" stroke-linecap="round"/><path d="M-3.9 -13.7h0M5.7 -7.2h0M-5.2 1.1h0M-1.7 0.0h0M15.8 -1.2h0M-10.2 0.7h0M9.4 13.3h0M9.9 -1.6h0M-5.1 -2.0h0" stroke="rgb(70,70,70)" stroke-width="1.7" stroke-linecap="round"/><path d="M-10.4 -1.2h0M-4.5 -3.4h0M11.3 -7.0h0M11.4 -9.9h0M8.1 11.2h0M-15.1 -6.5h0M-5.5 0.7h0M12.9 0.8h0M7.3 5.3h0M-6.8 13.4h0M1.1 -8.3h0M16.3 -2.8h0" stroke="rgb(70,70,70)" stroke-width="0.7" stroke-linecap="round"/><path d="M7.5 -2.7h0M-2.5 -11.3h0M4.0 -3.1h0M8.8 2.8h0M-1.0 6.3h0M-10.6 5.7h0M-6.7 5.5h0M16.7 -2.0h0M-9.1 -12.1h0M13.4 8.3h0M8.5 -2.5h0M3.6 -16.1h0M-3.9 15.6h0M-6.7 0.4h0" stroke="rgb(40,40,40)" stroke-width="0.7" stroke-linecap="round"/><path d="M-11.0 -7.1h0M-0.7 -14.7h0M-14.4 3.7h0M-9.5 -5.6h0M0.4 -9.3h0M0.4 13.0h0M-9.4 -9.5h0M-10.9 -1.2h0" stroke="rgb(40,40,40)" stroke-width="1.7" stroke-linecap="round"/><path d="M-11.6 -6.7h0M11.8 12.2h0M-4.2 -6.5h0M-10.2 3.7h0M6.8 -1.5h0M-5.2 -5.2h0M-2.8 3.1h0M-2.2 12.6h0M10.6 6.8h0M3.9 2.2h0M16.6 0.5h0M5.6 -9.2h0" stroke="rgb(40,40,40)" stroke-width="1.0" stroke-linecap="round"/><path d="M-6.8 4.1h0M-3.0 -8.9h0" stroke="rgb(35,35,35)" stroke-width="2.5" stroke-linecap="round"/><path d="M-2.6 -1.5h0" stroke="rgb(35,35,35)" stroke-width="3.2" stroke-linecap="round"/><path d="M8.3 -5.3h0" stroke="rgb(35,35,35)" stroke-width="5.0" stroke-linecap="round"/><path d="M-1.9 3.4h0" stroke="rgb(15,15,15)" stroke-width="1.8" stroke-linecap="round"/><path d="M-10.4 -0.6h0" stroke="rgb(15,15,15)" stroke-width="3.2" stroke-linecap="round"/></g></g><circle r="17.6" fill="none" stroke="#000" stroke-width="1.9"/></g>
<g transform="translate(108.86,814.90)"><circle r="17.9" fill="rgb(216,216,216)"/><g clip-path="url(#dc)"><g filter="url(#soft2)"><path d="M14.3 0.1h0M10.3 -6.5h0M-5.4 -13.3h0M-11.0 11.1h0M-16.2 3.7h0M13.6 5.3h0M-14.8 -3.6h0M-10.5 -12.7h0M5.8 -8.3h0M-5.5 3.1h0M6.2 1.9h0M-13.9 4.5h0" stroke="rgb(206,206,206)" stroke-width="1.0" stroke-linecap="round"/><path d="M5.0 -1.0h0M8.1 2.2h0M10.3 3.0h0M-9.7 0.0h0M10.3 -3.7h0M-14.0 1.2h0M-15.5 6.5h0M-6.3 7.5h0M-13.3 -7.5h0" stroke="rgb(206,206,206)" stroke-width="1.4" stroke-linecap="round"/><path d="M9.2 2.5h0M-8.2 -10.5h0M9.4 13.0h0M-4.6 -3.9h0M-6.8 9.4h0M-5.9 7.2h0" stroke="rgb(198,198,198)" stroke-width="1.0" stroke-linecap="round"/><path d="M3.9 -12.3h0M4.2 11.5h0M-6.4 14.0h0M4.4 12.7h0M1.4 -8.6h0M8.4 -5.8h0M-1.7 -6.7h0" stroke="rgb(198,198,198)" stroke-width="1.4" stroke-linecap="round"/><path d="M8.7 -7.4h0M0.5 -8.4h0M-9.3 -5.1h0M1.9 -16.1h0M-12.2 -10.1h0M-8.4 -0.9h0M8.8 10.5h0M13.7 -5.2h0" stroke="rgb(190,190,190)" stroke-width="1.0" stroke-linecap="round"/><path d="M-0.5 -11.2h0M0.1 -9.2h0M8.9 2.5h0" stroke="rgb(190,190,190)" stroke-width="1.4" stroke-linecap="round"/><path d="M5.4 -13.3h0M0.4 4.8h0M-3.9 -5.3h0M7.1 -14.8h0M-5.8 0.7h0M7.0 -13.5h0M9.4 2.0h0M4.9 -11.3h0" stroke="rgb(110,110,110)" stroke-width="0.7" stroke-linecap="round"/><path d="M1.4 -6.8h0M9.3 -0.9h0M-3.8 13.6h0M-9.6 -6.5h0M8.1 5.0h0M7.9 -5.1h0M-12.5 4.4h0M9.7 9.9h0M8.6 -6.9h0M-4.7 -9.5h0" stroke="rgb(110,110,110)" stroke-width="1.0" stroke-linecap="round"/><path d="M3.1 -5.1h0M-2.9 -14.5h0M14.5 -6.5h0M4.5 -10.6h0M-13.8 3.2h0M-7.7 -6.7h0M15.9 -2.5h0M10.4 1.3h0" stroke="rgb(110,110,110)" stroke-width="1.6" stroke-linecap="round"/><path d="M-4.9 -8.2h0M8.4 -2.6h0M12.9 -7.1h0M0.3 9.2h0M-2.8 -8.4h0" stroke="rgb(70,70,70)" stroke-width="0.7" stroke-linecap="round"/><path d="M-14.6 -5.9h0M14.2 5.6h0M-10.3 -3.9h0M-6.9 13.7h0M-5.7 5.3h0M-0.8 5.2h0M-4.9 -0.3h0M-9.6 -5.1h0" stroke="rgb(70,70,70)" stroke-width="1.6" stroke-linecap="round"/><path d="M-4.2 14.0h0M-8.4 5.4h0M1.8 -12.4h0M-4.4 4.1h0M-8.0 7.3h0M-10.3 -5.0h0M-1.9 2.6h0" stroke="rgb(70,70,70)" stroke-width="1.0" stroke-linecap="round"/><path d="M9.8 2.8h0M10.1 3.1h0M-16.4 -2.8h0M0.9 4.3h0M-14.9 -0.5h0" stroke="rgb(40,40,40)" stroke-width="1.0" stroke-linecap="round"/><path d="M-10.6 -0.6h0M2.1 -11.3h0M-7.9 8.6h0M-3.9 -8.6h0M2.2 12.7h0" stroke="rgb(40,40,40)" stroke-width="1.6" stroke-linecap="round"/><path d="M-6.7 -11.0h0M-7.6 -11.9h0M9.5 9.2h0M-1.5 -3.7h0M4.3 10.5h0M16.1 -4.6h0M-1.6 3.8h0" stroke="rgb(40,40,40)" stroke-width="0.7" stroke-linecap="round"/><path d="M4.6 -5.2h0" stroke="rgb(35,35,35)" stroke-width="1.8" stroke-linecap="round"/><path d="M-5.2 7.2h0" stroke="rgb(35,35,35)" stroke-width="3.2" stroke-linecap="round"/><path d="M-1.6 6.3h0" stroke="rgb(15,15,15)" stroke-width="3.2" stroke-linecap="round"/></g></g><circle r="17.6" fill="none" stroke="#000" stroke-width="1.9"/></g>
<g transform="translate(345.90,814.90)"><circle r="17.9" fill="rgb(215,215,215)"/><g clip-path="url(#dc)"><g filter="url(#soft2)"><path d="M13.6 -1.8h0M-4.3 1.7h0M-13.0 -4.3h0M-15.0 -5.3h0M4.2 8.0h0M10.0 -6.0h0M4.4 4.5h0M2.3 -1.1h0M-12.9 -6.0h0" stroke="rgb(205,205,205)" stroke-width="1.4" stroke-linecap="round"/><path d="M2.1 -7.9h0M-5.5 6.1h0M2.2 -0.8h0M-12.1 10.0h0M2.8 -9.5h0M13.6 -0.7h0M5.4 -1.0h0M-2.3 14.2h0" stroke="rgb(205,205,205)" stroke-width="1.0" stroke-linecap="round"/><path d="M-4.9 -8.6h0M0.7 -3.2h0M-1.1 -15.2h0M11.6 8.0h0M-9.7 -6.0h0M0.7 -9.3h0M13.5 -5.9h0M9.2 5.5h0" stroke="rgb(197,197,197)" stroke-width="1.4" stroke-linecap="round"/><path d="M3.5 -12.5h0M-15.2 -3.5h0M11.2 6.8h0M5.9 -12.2h0M9.0 7.4h0M4.7 -4.0h0M1.4 -1.9h0M-13.4 4.2h0M-12.0 11.0h0" stroke="rgb(197,197,197)" stroke-width="1.0" stroke-linecap="round"/><path d="M1.7 0.4h0M7.8 2.7h0M6.0 -0.8h0M8.5 -2.1h0M-6.8 9.0h0M-11.6 9.5h0" stroke="rgb(189,189,189)" stroke-width="1.0" stroke-linecap="round"/><path d="M-11.3 12.0h0M7.5 -0.2h0M-2.5 12.8h0M-8.0 4.6h0M-11.4 -4.7h0" stroke="rgb(189,189,189)" stroke-width="1.4" stroke-linecap="round"/><path d="M-5.7 -3.8h0M14.6 3.3h0M9.1 9.0h0M-0.7 15.5h0M0.4 3.6h0M-5.3 -13.3h0M4.7 -9.4h0M0.6 10.5h0M-5.9 -2.1h0" stroke="rgb(110,110,110)" stroke-width="0.7" stroke-linecap="round"/><path d="M-4.0 -13.5h0M3.9 -13.7h0M5.0 8.5h0M4.8 10.3h0M-1.6 11.7h0M-4.9 -7.0h0M-8.7 4.5h0" stroke="rgb(110,110,110)" stroke-width="1.0" stroke-linecap="round"/><path d="M-6.4 15.1h0M-16.4 1.9h0M6.4 -4.1h0M5.6 -6.4h0M-0.5 12.5h0M0.1 -5.4h0M-0.3 -14.0h0" stroke="rgb(110,110,110)" stroke-width="1.6" stroke-linecap="round"/><path d="M0.6 12.2h0M-5.6 3.9h0M-15.9 -0.6h0M-12.7 -0.4h0M1.1 4.7h0M-13.3 5.6h0M5.6 -1.0h0M1.1 -12.9h0M10.1 7.4h0M-12.1 -2.6h0M7.3 -12.6h0" stroke="rgb(70,70,70)" stroke-width="0.7" stroke-linecap="round"/><path d="M14.0 1.7h0M-7.0 -6.7h0M-0.4 -10.9h0M-1.1 -14.2h0M14.5 4.7h0M3.1 -5.8h0M12.0 3.0h0M-1.7 -16.2h0" stroke="rgb(70,70,70)" stroke-width="1.6" stroke-linecap="round"/><path d="M2.9 -0.5h0M-15.8 -0.8h0M12.2 11.7h0M3.4 -15.3h0M-2.9 -13.3h0M-14.8 -2.8h0" stroke="rgb(70,70,70)" stroke-width="1.0" stroke-linecap="round"/><path d="M-1.8 -15.9h0M1.0 -3.5h0M13.0 -9.2h0M-11.7 -6.6h0M-10.8 -6.5h0M-12.2 6.2h0M-15.4 -3.9h0M2.6 -0.5h0M-14.2 -6.4h0" stroke="rgb(40,40,40)" stroke-width="1.6" stroke-linecap="round"/><path d="M-4.0 -8.4h0M-7.2 2.3h0M-4.2 11.5h0M9.9 -8.3h0M1.5 6.5h0M10.7 8.2h0M13.2 10.7h0M3.6 5.0h0" stroke="rgb(40,40,40)" stroke-width="0.7" stroke-linecap="round"/><path d="M1.9 -4.2h0M3.1 8.1h0M14.4 -8.1h0M-7.1 -4.4h0M-2.6 1.4h0M13.1 7.1h0M-1.4 -13.5h0" stroke="rgb(40,40,40)" stroke-width="1.0" stroke-linecap="round"/><path d="M-6.5 13.8h0" stroke="rgb(35,35,35)" stroke-width="2.5" stroke-linecap="round"/><path d="M6.8 -0.4h0" stroke="rgb(35,35,35)" stroke-width="3.2" stroke-linecap="round"/><path d="M9.2 -8.9h0" stroke="rgb(15,15,15)" stroke-width="1.8" stroke-linecap="round"/><path d="M0.2 -2.6h0" stroke="rgb(15,15,15)" stroke-width="2.5" stroke-linecap="round"/></g></g><circle r="17.6" fill="none" stroke="#000" stroke-width="1.9"/></g>
<g transform="translate(147.62,814.90)"><circle r="17.9" fill="rgb(216,216,216)"/><g clip-path="url(#dc)"><g filter="url(#soft2)"><path d="M5.1 3.8h0M4.1 -8.1h0M8.8 -2.8h0M-8.2 -4.1h0M-5.2 -3.3h0M-11.5 2.7h0M-13.9 -1.3h0M-13.6 -1.0h0M6.0 -0.3h0M-1.1 -15.5h0" stroke="rgb(206,206,206)" stroke-width="1.4" stroke-linecap="round"/><path d="M-7.3 8.5h0M-6.0 -3.7h0M8.8 8.0h0M4.0 -10.4h0M13.5 6.6h0M13.9 -7.8h0M-13.3 3.4h0M14.0 -6.8h0M-0.6 -4.2h0M7.1 14.9h0" stroke="rgb(206,206,206)" stroke-width="1.0" stroke-linecap="round"/><path d="M5.0 -14.0h0M5.7 -13.1h0M-1.3 9.5h0M-11.4 3.5h0M15.9 -2.0h0M-15.5 2.1h0" stroke="rgb(198,198,198)" stroke-width="1.4" stroke-linecap="round"/><path d="M9.0 -9.4h0M-1.9 -10.1h0M8.4 3.3h0M-0.8 -6.9h0M6.2 -8.0h0" stroke="rgb(198,198,198)" stroke-width="1.0" stroke-linecap="round"/><path d="M10.0 -4.8h0M-13.7 5.0h0M1.9 3.3h0M-14.7 0.9h0M-2.2 -10.7h0M-12.8 8.5h0M2.4 3.1h0" stroke="rgb(190,190,190)" stroke-width="1.0" stroke-linecap="round"/><path d="M7.2 8.3h0M6.1 12.8h0M4.3 12.4h0M6.1 5.4h0M7.8 8.1h0M-1.9 3.9h0M-8.4 6.6h0" stroke="rgb(190,190,190)" stroke-width="1.4" stroke-linecap="round"/><path d="M-3.3 -14.2h0M-6.3 2.7h0M0.1 -16.5h0M4.0 -12.6h0M8.9 -0.7h0" stroke="rgb(110,110,110)" stroke-width="1.0" stroke-linecap="round"/><path d="M3.9 14.8h0M-11.9 -1.1h0M10.3 3.1h0M-4.6 -15.2h0" stroke="rgb(110,110,110)" stroke-width="1.5" stroke-linecap="round"/><path d="M8.8 13.4h0M-9.1 -4.0h0M-3.1 -7.8h0M0.3 -9.6h0M-10.1 -8.4h0M4.7 -1.8h0" stroke="rgb(110,110,110)" stroke-width="0.7" stroke-linecap="round"/><path d="M8.2 -8.0h0M4.8 -4.9h0M12.4 -0.7h0M-9.6 5.1h0M0.5 15.7h0M5.2 3.9h0" stroke="rgb(70,70,70)" stroke-width="0.7" stroke-linecap="round"/><path d="M0.6 3.1h0M6.2 3.4h0M7.8 -10.3h0M-0.5 8.9h0M12.6 -2.8h0M-0.7 8.5h0M10.5 -10.6h0M-9.6 0.1h0" stroke="rgb(70,70,70)" stroke-width="1.5" stroke-linecap="round"/><path d="M1.6 1.7h0M-15.6 4.9h0M4.9 -6.2h0M7.3 -3.8h0M9.1 1.4h0M-0.9 -2.5h0" stroke="rgb(70,70,70)" stroke-width="1.0" stroke-linecap="round"/><path d="M-8.5 -12.6h0M-4.9 13.1h0M9.0 -3.8h0M-1.3 14.5h0M1.4 -4.8h0M-14.0 4.0h0M-8.9 7.8h0M-1.0 7.5h0M-5.8 -4.3h0" stroke="rgb(40,40,40)" stroke-width="1.5" stroke-linecap="round"/><path d="M9.6 -11.9h0M10.5 -13.0h0M1.2 -16.5h0M-16.4 -4.2h0M2.4 13.7h0M6.3 13.3h0" stroke="rgb(40,40,40)" stroke-width="1.0" stroke-linecap="round"/><path d="M-2.1 2.4h0M-2.8 5.3h0M-8.9 7.4h0M2.1 -8.8h0M12.2 8.9h0" stroke="rgb(40,40,40)" stroke-width="0.7" stroke-linecap="round"/><path d="M6.9 -13.8h0" stroke="rgb(35,35,35)" stroke-width="1.8" stroke-linecap="round"/><path d="M-1.1 -2.8h0" stroke="rgb(15,15,15)" stroke-width="1.8" stroke-linecap="round"/></g></g><circle r="17.6" fill="none" stroke="#000" stroke-width="1.9"/></g>
<g transform="translate(384.80,814.90)"><circle r="17.9" fill="rgb(215,215,215)"/><g clip-path="url(#dc)"><g filter="url(#soft2)"><path d="M-11.4 -4.4h0M-3.7 5.4h0M7.3 -5.9h0M4.1 -5.5h0M-0.6 11.5h0M-1.2 3.0h0M4.4 9.1h0M-16.0 4.5h0" stroke="rgb(205,205,205)" stroke-width="1.4" stroke-linecap="round"/><path d="M4.6 1.5h0M9.1 -0.1h0M-0.2 -13.1h0M16.2 3.3h0M-10.3 11.0h0" stroke="rgb(205,205,205)" stroke-width="1.0" stroke-linecap="round"/><path d="M-5.6 -1.5h0M-4.3 4.5h0M9.4 -6.3h0M-14.5 5.8h0M6.0 13.2h0M0.4 6.3h0M-7.7 0.5h0M-12.7 6.4h0M12.0 -9.5h0M8.7 -3.1h0M-12.7 6.7h0M0.3 -8.2h0" stroke="rgb(197,197,197)" stroke-width="1.4" stroke-linecap="round"/><path d="M-1.9 8.3h0M4.1 -15.4h0M-1.3 13.9h0M-6.1 -11.9h0M-0.2 3.7h0M-6.1 -9.0h0M-13.5 0.4h0" stroke="rgb(197,197,197)" stroke-width="1.0" stroke-linecap="round"/><path d="M3.5 -8.8h0M9.5 7.4h0M10.0 8.6h0M13.0 6.6h0M-13.2 -6.9h0M-6.5 -2.6h0M-2.9 2.5h0" stroke="rgb(189,189,189)" stroke-width="1.0" stroke-linecap="round"/><path d="M5.7 -12.5h0M-11.5 -11.9h0M6.1 5.6h0M2.6 -13.1h0M0.2 1.5h0M6.8 -13.9h0" stroke="rgb(189,189,189)" stroke-width="1.4" stroke-linecap="round"/><path d="M-7.5 -14.3h0M7.1 3.0h0M0.4 14.6h0M-0.4 -13.8h0M12.8 -1.9h0M-6.3 -6.1h0M5.4 -11.8h0M-8.9 4.7h0M-3.3 -3.1h0M6.9 13.4h0M-11.6 -2.8h0" stroke="rgb(110,110,110)" stroke-width="0.7" stroke-linecap="round"/><path d="M-1.0 14.9h0M4.7 4.0h0M12.5 -0.8h0M13.0 -3.4h0M-4.7 11.3h0M-3.7 15.1h0M14.7 -5.3h0M-2.9 7.8h0M13.8 -6.7h0M-3.6 -13.4h0" stroke="rgb(110,110,110)" stroke-width="1.0" stroke-linecap="round"/><path d="M-1.8 9.9h0M-14.7 6.6h0M-11.1 -5.9h0M5.8 -10.8h0M-5.5 1.8h0M11.1 4.0h0M4.1 1.3h0M-1.8 14.1h0M13.8 -2.6h0M-16.6 -1.6h0M-10.3 -12.7h0" stroke="rgb(110,110,110)" stroke-width="1.6" stroke-linecap="round"/><path d="M-14.9 4.9h0M-2.5 -0.5h0M-9.6 -5.9h0M-4.3 8.4h0M-9.2 -6.9h0M15.0 7.9h0M-5.5 14.3h0" stroke="rgb(70,70,70)" stroke-width="1.6" stroke-linecap="round"/><path d="M1.5 -10.4h0M9.2 12.1h0M-6.5 -13.3h0M1.8 13.0h0M-7.6 -12.1h0M-6.4 -1.5h0M6.9 14.4h0M5.8 -1.3h0M6.3 12.9h0" stroke="rgb(70,70,70)" stroke-width="1.0" stroke-linecap="round"/><path d="M5.0 15.7h0M5.9 -5.2h0M11.4 -8.3h0M7.1 7.6h0M1.9 8.6h0M14.6 -0.1h0M-11.6 0.3h0" stroke="rgb(70,70,70)" stroke-width="0.7" stroke-linecap="round"/><path d="M13.2 -7.6h0M3.0 10.8h0M-13.8 -1.0h0M-5.5 8.9h0M-5.6 11.1h0M1.7 9.6h0" stroke="rgb(40,40,40)" stroke-width="1.0" stroke-linecap="round"/><path d="M5.3 1.6h0M14.0 2.6h0M9.5 5.5h0M-0.7 -15.5h0M-0.7 11.2h0M-0.7 -8.0h0M-12.0 1.4h0M-13.7 -0.7h0" stroke="rgb(40,40,40)" stroke-width="1.6" stroke-linecap="round"/><path d="M-13.6 -4.8h0M-12.0 2.1h0M9.1 -3.7h0" stroke="rgb(40,40,40)" stroke-width="0.7" stroke-linecap="round"/><path d="M2.3 2.8h0" stroke="rgb(35,35,35)" stroke-width="2.5" stroke-linecap="round"/><path d="M4.4 -1.7h0" stroke="rgb(15,15,15)" stroke-width="2.5" stroke-linecap="round"/><path d="M5.7 -4.7h0" stroke="rgb(15,15,15)" stroke-width="3.2" stroke-linecap="round"/><path d="M4.4 -7.1h0" stroke="rgb(15,15,15)" stroke-width="4.6" stroke-linecap="round"/></g></g><circle r="17.6" fill="none" stroke="#000" stroke-width="1.9"/></g>
<g transform="translate(186.38,814.90)"><circle r="17.9" fill="rgb(219,219,219)"/><g clip-path="url(#dc)"><g filter="url(#soft2)"><path d="M-7.5 5.4h0M2.5 -0.8h0M13.5 4.5h0M15.8 -3.2h0M-0.5 -4.6h0M6.0 -11.7h0M-12.2 -4.6h0M-0.5 -10.9h0M-4.6 -3.0h0M3.7 -14.6h0M11.2 1.7h0" stroke="rgb(209,209,209)" stroke-width="1.4" stroke-linecap="round"/><path d="M10.6 5.3h0M10.5 11.3h0M-0.6 -13.8h0M12.4 4.0h0M7.4 -3.1h0" stroke="rgb(209,209,209)" stroke-width="1.0" stroke-linecap="round"/><path d="M14.0 -7.5h0M5.6 11.3h0M-15.0 -5.7h0M-1.1 4.3h0M14.8 -1.1h0M3.6 -8.2h0M-0.3 5.8h0M-12.7 -6.2h0M-9.2 9.7h0M0.7 -3.9h0M-9.7 3.0h0M-14.4 -5.1h0" stroke="rgb(201,201,201)" stroke-width="1.4" stroke-linecap="round"/><path d="M-12.3 5.2h0M-9.6 4.3h0M-1.2 -16.7h0M1.1 15.0h0M-7.7 2.1h0" stroke="rgb(201,201,201)" stroke-width="1.0" stroke-linecap="round"/><path d="M-6.4 5.8h0M-5.9 -2.4h0M-6.5 -14.2h0M6.4 11.0h0" stroke="rgb(193,193,193)" stroke-width="1.0" stroke-linecap="round"/><path d="M3.2 -9.5h0M12.7 6.6h0M13.8 0.5h0M9.6 -2.5h0M5.1 -6.7h0M-1.6 -5.5h0M6.4 10.9h0M-13.3 -0.9h0" stroke="rgb(193,193,193)" stroke-width="1.4" stroke-linecap="round"/><path d="M1.6 10.2h0M-8.8 -4.9h0M-2.9 13.1h0" stroke="rgb(110,110,110)" stroke-width="1.0" stroke-linecap="round"/><path d="M3.9 -14.9h0M-4.6 11.4h0M0.5 2.3h0" stroke="rgb(110,110,110)" stroke-width="0.7" stroke-linecap="round"/><path d="M-9.4 -11.4h0M0.4 -11.7h0M-12.8 -2.9h0" stroke="rgb(110,110,110)" stroke-width="1.4" stroke-linecap="round"/><path d="M-12.9 -0.7h0" stroke="rgb(70,70,70)" stroke-width="1.0" stroke-linecap="round"/><path d="M0.1 -14.8h0M1.7 -13.0h0M-3.9 -10.7h0M5.7 13.7h0" stroke="rgb(70,70,70)" stroke-width="1.4" stroke-linecap="round"/><path d="M3.0 -7.4h0M7.5 -1.8h0" stroke="rgb(70,70,70)" stroke-width="0.7" stroke-linecap="round"/><path d="M-9.9 -13.3h0M0.4 2.5h0M1.9 -2.4h0M-1.5 -15.8h0" stroke="rgb(40,40,40)" stroke-width="0.7" stroke-linecap="round"/><path d="M10.9 -2.4h0M-16.2 -4.9h0M-14.1 -0.8h0M2.6 -0.0h0M-11.0 -9.7h0M7.6 0.6h0" stroke="rgb(40,40,40)" stroke-width="1.0" stroke-linecap="round"/><path d="M9.8 -3.0h0M-11.7 3.2h0M3.5 4.9h0" stroke="rgb(40,40,40)" stroke-width="1.4" stroke-linecap="round"/></g></g><circle r="17.6" fill="none" stroke="#000" stroke-width="1.9"/></g>
<g transform="translate(423.70,814.90)"><circle r="17.9" fill="rgb(218,218,218)"/><g clip-path="url(#dc)"><g filter="url(#soft2)"><path d="M-4.8 10.4h0M-10.0 9.7h0M-1.7 14.2h0M0.5 4.1h0M-6.7 14.9h0" stroke="rgb(208,208,208)" stroke-width="1.4" stroke-linecap="round"/><path d="M-7.0 13.8h0M13.3 7.2h0M13.2 2.0h0M15.1 -4.2h0M9.8 -3.8h0M-6.4 6.5h0M-8.8 2.2h0M-14.9 -0.4h0M11.6 -4.4h0M-4.6 15.8h0M13.1 -0.9h0M-10.8 6.1h0" stroke="rgb(208,208,208)" stroke-width="1.0" stroke-linecap="round"/><path d="M-1.6 13.5h0M-16.3 1.5h0M-1.1 8.3h0M6.5 -7.9h0M15.4 -4.0h0M-11.0 -3.7h0M-7.6 3.7h0" stroke="rgb(200,200,200)" stroke-width="1.0" stroke-linecap="round"/><path d="M9.0 0.6h0M1.8 -2.9h0M16.4 -2.7h0M8.9 -6.0h0M-5.3 -8.5h0M-8.1 0.5h0M3.3 7.1h0M-0.6 6.4h0M3.7 -15.9h0M-5.0 7.7h0" stroke="rgb(200,200,200)" stroke-width="1.4" stroke-linecap="round"/><path d="M-11.1 -3.1h0M5.4 -6.7h0M-1.5 -13.9h0M10.4 -8.1h0M10.4 5.8h0" stroke="rgb(192,192,192)" stroke-width="1.0" stroke-linecap="round"/><path d="M-7.4 -9.6h0M8.3 -4.7h0M-15.8 -4.0h0M-2.2 8.7h0M3.1 -10.0h0M11.3 -0.6h0" stroke="rgb(192,192,192)" stroke-width="1.4" stroke-linecap="round"/><path d="M-6.3 -11.8h0M-14.6 5.2h0M-0.3 -16.5h0" stroke="rgb(110,110,110)" stroke-width="0.7" stroke-linecap="round"/><path d="M-4.3 -14.2h0M1.6 14.0h0M4.0 -3.3h0M2.8 -12.3h0" stroke="rgb(110,110,110)" stroke-width="1.0" stroke-linecap="round"/><path d="M4.9 -10.7h0" stroke="rgb(110,110,110)" stroke-width="1.4" stroke-linecap="round"/><path d="M4.0 -3.2h0M6.4 -3.0h0M-4.8 -14.2h0M-0.5 -4.6h0" stroke="rgb(70,70,70)" stroke-width="1.4" stroke-linecap="round"/><path d="M-7.8 4.0h0M-8.6 -5.1h0M-8.2 8.1h0" stroke="rgb(70,70,70)" stroke-width="1.0" stroke-linecap="round"/><path d="M11.2 11.5h0M-5.5 -0.2h0M10.1 -12.2h0M-2.9 -9.3h0M-12.2 -3.6h0M1.6 8.4h0" stroke="rgb(70,70,70)" stroke-width="0.7" stroke-linecap="round"/><path d="M-3.1 -12.6h0M2.2 15.6h0M-11.8 4.8h0" stroke="rgb(40,40,40)" stroke-width="0.7" stroke-linecap="round"/><path d="M-3.7 11.3h0M-12.5 6.8h0" stroke="rgb(40,40,40)" stroke-width="1.4" stroke-linecap="round"/><path d="M4.5 -12.5h0M-4.3 -0.8h0M-15.5 4.4h0" stroke="rgb(40,40,40)" stroke-width="1.0" stroke-linecap="round"/></g></g><circle r="17.6" fill="none" stroke="#000" stroke-width="1.9"/></g>
<g transform="translate(225.14,814.90)"><circle r="17.9" fill="rgb(219,219,219)"/><g clip-path="url(#dc)"><g filter="url(#soft2)"><path d="M12.9 -6.2h0M-9.9 11.9h0M7.8 -11.3h0M-12.4 -6.6h0M-13.8 2.9h0M-8.3 1.8h0M-0.3 8.6h0M8.0 3.0h0" stroke="rgb(209,209,209)" stroke-width="1.0" stroke-linecap="round"/><path d="M14.7 -5.3h0M2.6 4.3h0M16.7 0.4h0M-7.7 -11.9h0M-10.8 -12.8h0M2.3 3.2h0M8.4 -12.6h0M6.7 11.8h0M0.3 -10.1h0" stroke="rgb(209,209,209)" stroke-width="1.4" stroke-linecap="round"/><path d="M3.1 -3.1h0M6.8 2.7h0M-8.0 12.5h0M-9.5 -11.5h0M-6.3 14.4h0M-1.2 15.6h0M-5.5 1.8h0" stroke="rgb(201,201,201)" stroke-width="1.0" stroke-linecap="round"/><path d="M-5.3 14.5h0M3.5 -10.3h0M13.1 7.1h0M-4.6 0.1h0M-3.6 -0.4h0M-6.2 14.7h0M13.7 -4.3h0" stroke="rgb(201,201,201)" stroke-width="1.4" stroke-linecap="round"/><path d="M12.4 -2.0h0M9.5 11.2h0M-11.3 -9.7h0M5.6 13.7h0M-0.0 6.3h0M-11.0 -1.8h0M-2.6 11.4h0" stroke="rgb(193,193,193)" stroke-width="1.0" stroke-linecap="round"/><path d="M7.1 -5.3h0M9.1 13.2h0M-6.9 10.0h0M-1.5 -13.7h0M1.0 7.8h0M2.6 -11.4h0M2.9 12.7h0" stroke="rgb(193,193,193)" stroke-width="1.4" stroke-linecap="round"/><path d="M-8.9 -8.4h0M8.0 8.7h0M-1.6 9.4h0" stroke="rgb(110,110,110)" stroke-width="0.7" stroke-linecap="round"/><path d="M10.7 9.8h0" stroke="rgb(110,110,110)" stroke-width="1.4" stroke-linecap="round"/><path d="M-0.7 -1.4h0M7.1 0.4h0M5.0 3.9h0" stroke="rgb(110,110,110)" stroke-width="1.0" stroke-linecap="round"/><path d="M0.9 -16.8h0M4.7 -7.3h0M2.7 -4.5h0M7.1 -5.0h0M14.5 -6.6h0M2.3 3.1h0" stroke="rgb(70,70,70)" stroke-width="1.4" stroke-linecap="round"/><path d="M-6.7 3.4h0M2.8 5.8h0" stroke="rgb(70,70,70)" stroke-width="1.0" stroke-linecap="round"/><path d="M-6.8 3.8h0M-2.7 14.1h0M-5.5 -8.7h0M-12.5 4.8h0" stroke="rgb(70,70,70)" stroke-width="0.7" stroke-linecap="round"/><path d="M7.6 -13.1h0M3.0 16.0h0" stroke="rgb(40,40,40)" stroke-width="1.0" stroke-linecap="round"/><path d="M-1.0 -6.8h0M-15.1 1.6h0" stroke="rgb(40,40,40)" stroke-width="1.4" stroke-linecap="round"/><path d="M-16.0 -3.4h0" stroke="rgb(40,40,40)" stroke-width="0.7" stroke-linecap="round"/></g></g><circle r="17.6" fill="none" stroke="#000" stroke-width="1.9"/></g>
<g transform="translate(462.60,814.90)"><circle r="17.9" fill="rgb(218,218,218)"/><g clip-path="url(#dc)"><g filter="url(#soft2)"><path d="M-7.4 2.9h0M7.3 12.9h0M8.8 0.6h0M7.5 6.6h0M1.4 15.3h0M2.1 4.7h0M-5.7 5.1h0M16.7 -0.0h0" stroke="rgb(208,208,208)" stroke-width="1.0" stroke-linecap="round"/><path d="M9.6 13.8h0M-15.8 -3.6h0M-3.9 -4.2h0M-10.7 -6.7h0M-8.4 -7.1h0M-9.9 0.9h0M2.4 -12.1h0" stroke="rgb(208,208,208)" stroke-width="1.4" stroke-linecap="round"/><path d="M-2.8 7.8h0M-2.8 11.7h0M4.4 3.7h0M10.2 -2.5h0M2.5 -10.4h0M-7.2 -4.4h0M-16.1 -2.6h0M-9.5 -6.0h0" stroke="rgb(200,200,200)" stroke-width="1.4" stroke-linecap="round"/><path d="M-7.7 0.4h0M-2.1 -8.6h0M-8.3 0.1h0M3.8 1.0h0M14.1 -5.9h0M-7.8 -1.9h0M-1.5 -11.0h0M6.9 15.2h0M-11.7 -11.8h0" stroke="rgb(200,200,200)" stroke-width="1.0" stroke-linecap="round"/><path d="M6.3 2.1h0M6.5 -5.1h0M-2.3 -6.2h0M11.8 -5.5h0" stroke="rgb(192,192,192)" stroke-width="1.0" stroke-linecap="round"/><path d="M13.4 8.8h0M13.5 -9.0h0M1.8 11.2h0M11.6 -9.2h0M9.7 7.4h0M-3.4 6.6h0M6.0 -7.7h0M2.9 -11.5h0M8.1 -1.7h0" stroke="rgb(192,192,192)" stroke-width="1.4" stroke-linecap="round"/><path d="M-0.3 8.8h0M-8.9 -12.8h0" stroke="rgb(110,110,110)" stroke-width="1.4" stroke-linecap="round"/><path d="M-0.5 9.2h0" stroke="rgb(110,110,110)" stroke-width="0.7" stroke-linecap="round"/><path d="M13.0 8.8h0M-3.3 7.3h0" stroke="rgb(110,110,110)" stroke-width="1.0" stroke-linecap="round"/><path d="M5.9 15.1h0M10.2 8.5h0M15.3 -6.3h0M2.6 0.1h0M8.1 -9.5h0" stroke="rgb(70,70,70)" stroke-width="0.7" stroke-linecap="round"/><path d="M-3.6 3.5h0M-7.8 -1.6h0M6.7 -6.2h0" stroke="rgb(70,70,70)" stroke-width="1.4" stroke-linecap="round"/><path d="M1.4 -13.8h0" stroke="rgb(70,70,70)" stroke-width="1.0" stroke-linecap="round"/><path d="M4.0 -10.6h0M4.3 9.2h0M-0.2 11.5h0M-16.7 0.3h0M3.0 -12.9h0" stroke="rgb(40,40,40)" stroke-width="1.0" stroke-linecap="round"/><path d="M-9.2 -13.3h0" stroke="rgb(40,40,40)" stroke-width="0.7" stroke-linecap="round"/><path d="M-12.8 8.4h0" stroke="rgb(40,40,40)" stroke-width="1.4" stroke-linecap="round"/></g></g><circle r="17.6" fill="none" stroke="#000" stroke-width="1.9"/></g>
<g transform="translate(263.90,814.90)"><circle r="17.9" fill="rgb(219,219,219)"/><g clip-path="url(#dc)"><g filter="url(#soft2)"><path d="M4.6 -8.9h0M13.8 -9.5h0M3.7 -15.9h0M-10.0 6.9h0M2.6 4.0h0M-3.0 -2.2h0M-11.1 -3.0h0M14.7 5.8h0" stroke="rgb(209,209,209)" stroke-width="1.0" stroke-linecap="round"/><path d="M-8.8 7.9h0M-1.0 1.9h0M-9.6 -3.5h0M-9.6 4.6h0" stroke="rgb(209,209,209)" stroke-width="1.4" stroke-linecap="round"/><path d="M-0.8 -11.3h0M-2.9 -0.6h0M12.8 7.1h0M-12.7 -9.3h0M-6.4 -15.2h0M12.4 -8.0h0M-4.3 -12.8h0M-2.3 10.5h0M11.6 0.3h0M-2.5 7.7h0M13.8 -0.7h0M-7.2 -5.4h0" stroke="rgb(201,201,201)" stroke-width="1.4" stroke-linecap="round"/><path d="M5.2 0.5h0M-7.3 -4.6h0M-8.3 11.8h0M-3.7 -11.4h0M-8.7 -2.4h0" stroke="rgb(201,201,201)" stroke-width="1.0" stroke-linecap="round"/><path d="M-13.4 -3.5h0M-5.6 -15.1h0M-11.2 12.3h0M-2.8 -6.9h0M-8.7 3.6h0M-3.6 -6.3h0M-0.4 -4.7h0" stroke="rgb(193,193,193)" stroke-width="1.4" stroke-linecap="round"/><path d="M3.8 10.7h0M2.9 -2.2h0M-3.8 -14.6h0M4.9 -11.5h0M3.4 11.1h0M4.8 10.1h0M-9.3 4.8h0M-10.8 10.0h0M6.2 6.0h0" stroke="rgb(193,193,193)" stroke-width="1.0" stroke-linecap="round"/><path d="M7.1 5.2h0M-1.7 8.4h0M-0.1 -16.3h0M-3.8 -11.8h0" stroke="rgb(110,110,110)" stroke-width="1.0" stroke-linecap="round"/><path d="M-0.4 6.6h0" stroke="rgb(110,110,110)" stroke-width="1.3" stroke-linecap="round"/><path d="M-6.9 8.8h0" stroke="rgb(110,110,110)" stroke-width="0.7" stroke-linecap="round"/><path d="M-7.7 8.3h0" stroke="rgb(70,70,70)" stroke-width="1.0" stroke-linecap="round"/><path d="M-8.9 -8.9h0M-16.2 -0.1h0" stroke="rgb(70,70,70)" stroke-width="0.7" stroke-linecap="round"/><path d="M-7.7 8.9h0" stroke="rgb(40,40,40)" stroke-width="0.7" stroke-linecap="round"/><path d="M4.4 -8.0h0M-6.9 -13.5h0" stroke="rgb(40,40,40)" stroke-width="1.0" stroke-linecap="round"/></g></g><circle r="17.6" fill="none" stroke="#000" stroke-width="1.9"/></g>
<g transform="translate(501.50,814.90)"><circle r="17.9" fill="rgb(218,218,218)"/><g clip-path="url(#dc)"><g filter="url(#soft2)"><path d="M-0.2 -0.6h0M5.3 15.8h0M0.0 10.8h0M1.6 -0.8h0M-13.0 0.5h0M2.7 15.0h0M-8.4 -0.9h0M0.8 11.9h0" stroke="rgb(208,208,208)" stroke-width="1.4" stroke-linecap="round"/><path d="M-1.2 -12.6h0M-9.3 -8.3h0M8.3 14.6h0M-7.5 6.7h0" stroke="rgb(208,208,208)" stroke-width="1.0" stroke-linecap="round"/><path d="M9.1 11.3h0M3.3 -8.8h0M-12.8 -5.5h0M3.4 -1.9h0M-8.7 10.1h0M6.7 8.7h0M-3.7 8.7h0M-2.2 0.9h0M3.0 0.8h0M-3.7 -3.4h0" stroke="rgb(200,200,200)" stroke-width="1.4" stroke-linecap="round"/><path d="M-2.6 3.1h0M0.7 -5.7h0M-4.3 15.0h0M5.9 -3.6h0M10.4 -8.5h0" stroke="rgb(200,200,200)" stroke-width="1.0" stroke-linecap="round"/><path d="M6.8 9.6h0M8.9 14.2h0M-12.2 11.0h0M-10.5 9.2h0M8.5 6.8h0M-4.5 12.4h0M1.6 0.3h0M-4.1 15.4h0M-1.7 -4.5h0M-1.9 -15.1h0M4.5 -13.6h0" stroke="rgb(192,192,192)" stroke-width="1.0" stroke-linecap="round"/><path d="M10.7 -8.3h0M-5.3 -14.8h0M16.1 3.0h0M0.5 -9.1h0M-13.4 -6.1h0M8.6 9.5h0M11.4 -6.5h0" stroke="rgb(192,192,192)" stroke-width="1.4" stroke-linecap="round"/><path d="M7.0 -10.0h0M-10.6 -0.2h0" stroke="rgb(110,110,110)" stroke-width="1.0" stroke-linecap="round"/><path d="M-1.9 -1.5h0" stroke="rgb(110,110,110)" stroke-width="1.3" stroke-linecap="round"/><path d="M-6.0 15.6h0" stroke="rgb(70,70,70)" stroke-width="0.7" stroke-linecap="round"/><path d="M-3.4 11.6h0" stroke="rgb(70,70,70)" stroke-width="1.0" stroke-linecap="round"/><path d="M-15.3 -0.3h0M-8.4 -11.2h0" stroke="rgb(70,70,70)" stroke-width="1.3" stroke-linecap="round"/><path d="M-2.9 -15.3h0M4.6 -6.0h0" stroke="rgb(40,40,40)" stroke-width="1.3" stroke-linecap="round"/><path d="M-8.8 -1.9h0M11.9 10.2h0" stroke="rgb(40,40,40)" stroke-width="1.0" stroke-linecap="round"/><path d="M6.3 -0.6h0" stroke="rgb(40,40,40)" stroke-width="0.7" stroke-linecap="round"/></g></g><circle r="17.6" fill="none" stroke="#000" stroke-width="1.9"/></g>
<text x="43.60" y="861.60" font-size="11" text-anchor="middle" fill="#111" stroke="#111" stroke-width="0.22">23</text>
<g transform="translate(70.10,858.20)"><circle r="17.9" fill="rgb(219,219,219)"/><g clip-path="url(#dc)"><g filter="url(#soft2)"><path d="M-0.0 4.8h0M-13.6 9.2h0M-7.2 -4.2h0M-7.3 -8.1h0M-10.1 0.5h0M6.3 -12.7h0M-0.0 -11.6h0" stroke="rgb(209,209,209)" stroke-width="1.4" stroke-linecap="round"/><path d="M-5.3 13.0h0M-0.9 -9.1h0M-2.7 8.0h0" stroke="rgb(209,209,209)" stroke-width="1.0" stroke-linecap="round"/><path d="M11.4 -11.5h0M-1.6 -1.7h0M16.5 -2.8h0M-6.6 12.9h0M-9.3 -0.5h0M-14.7 -0.4h0M5.1 10.1h0M-3.4 14.0h0M-3.5 -13.1h0M11.7 -11.6h0M13.8 -0.3h0M11.7 11.9h0M3.1 -12.4h0" stroke="rgb(201,201,201)" stroke-width="1.4" stroke-linecap="round"/><path d="M-15.6 -5.3h0M-14.1 -2.6h0M12.8 -1.6h0M-5.0 -0.8h0M14.1 8.2h0" stroke="rgb(201,201,201)" stroke-width="1.0" stroke-linecap="round"/><path d="M2.9 -3.2h0M-9.0 -1.9h0M10.9 -3.7h0M-14.0 -2.0h0M13.1 -10.4h0M12.1 4.1h0" stroke="rgb(193,193,193)" stroke-width="1.0" stroke-linecap="round"/><path d="M-0.8 -1.8h0M10.2 1.1h0M12.2 8.6h0M-1.1 -9.8h0M7.6 1.4h0M-8.8 -2.4h0M4.0 11.1h0M6.7 11.7h0M-10.7 -1.8h0M-2.6 -13.3h0M8.8 1.5h0" stroke="rgb(193,193,193)" stroke-width="1.4" stroke-linecap="round"/><path d="M6.6 8.1h0M-9.7 7.0h0M2.0 -6.2h0M-7.4 -4.3h0M-6.0 2.0h0M4.4 -0.4h0M-0.4 -3.3h0M5.5 -8.7h0M-0.3 -3.8h0M-2.1 -5.1h0M-3.8 -0.2h0M0.5 13.3h0" stroke="rgb(110,110,110)" stroke-width="1.0" stroke-linecap="round"/><path d="M12.4 9.6h0M5.2 -2.9h0M0.1 10.5h0M-2.0 -7.9h0M-15.6 0.9h0M-7.5 -14.0h0M-4.2 -1.4h0M-9.2 -13.4h0M-5.4 1.0h0M-9.1 11.2h0M-10.6 13.1h0M-10.8 -4.1h0M-14.0 -8.8h0M-16.1 1.1h0" stroke="rgb(110,110,110)" stroke-width="1.9" stroke-linecap="round"/><path d="M0.2 13.6h0M-0.7 -0.5h0M-2.9 -12.2h0M9.1 -6.3h0M-5.4 15.3h0M-15.8 -2.8h0M15.5 -2.7h0M1.6 7.7h0M-1.7 -14.5h0M-10.6 3.4h0M3.4 1.2h0M1.5 -10.1h0M-2.1 -13.4h0" stroke="rgb(110,110,110)" stroke-width="0.7" stroke-linecap="round"/><path d="M0.3 -14.2h0M6.0 8.1h0M5.1 -5.0h0M9.5 -0.0h0M6.2 5.1h0M-5.4 11.9h0M5.5 9.2h0M-4.0 -16.5h0M-6.3 7.7h0M11.1 -2.8h0M-10.6 -0.6h0M-2.8 1.8h0M-11.8 1.9h0M2.3 -2.7h0M-12.3 9.3h0M-5.0 -3.1h0M-2.4 -1.2h0M13.5 -7.5h0" stroke="rgb(70,70,70)" stroke-width="0.7" stroke-linecap="round"/><path d="M-11.4 -4.4h0M-13.8 4.0h0M-2.2 5.7h0M-12.7 9.6h0M7.8 -4.6h0M10.7 7.8h0M-8.6 -3.4h0M5.5 -11.4h0M-8.3 13.3h0M-3.1 16.2h0M8.9 6.0h0M-1.5 16.0h0M-3.8 2.3h0M9.3 -4.4h0M13.0 -10.2h0M-3.1 8.8h0" stroke="rgb(70,70,70)" stroke-width="1.9" stroke-linecap="round"/><path d="M-8.3 9.5h0M4.7 -3.9h0M4.8 -1.2h0M-3.6 -7.4h0M11.2 7.4h0M11.1 0.0h0M-3.3 -2.3h0" stroke="rgb(70,70,70)" stroke-width="1.0" stroke-linecap="round"/><path d="M-12.5 -3.9h0M4.0 -15.0h0M0.0 -2.4h0M1.8 -5.7h0M13.7 -1.6h0M4.4 14.5h0M-16.3 -1.0h0M2.8 10.9h0M-0.5 -8.5h0M9.3 9.1h0M-6.1 8.4h0M-9.9 8.9h0M8.0 4.9h0M4.9 1.5h0M2.6 -1.4h0M15.6 4.6h0M-2.7 6.3h0M-12.0 6.4h0M11.5 10.4h0" stroke="rgb(40,40,40)" stroke-width="1.9" stroke-linecap="round"/><path d="M13.3 -1.8h0M-8.4 0.1h0M-3.0 -0.4h0M12.1 1.1h0M4.8 1.8h0M4.4 6.0h0M3.9 -7.0h0M-0.8 -16.8h0" stroke="rgb(40,40,40)" stroke-width="1.0" stroke-linecap="round"/><path d="M-15.2 1.0h0M1.1 -6.6h0M-12.4 9.6h0M0.7 -1.3h0M-3.9 -4.1h0M1.1 -7.7h0M8.0 7.9h0M12.7 -8.4h0M2.9 -9.8h0M13.3 4.4h0M10.5 5.1h0M-15.7 -1.5h0M15.1 -6.5h0M1.4 -8.1h0M-8.6 -9.5h0" stroke="rgb(40,40,40)" stroke-width="0.7" stroke-linecap="round"/><path d="M5.0 1.2h0M-7.6 3.5h0M3.7 -1.5h0" stroke="rgb(35,35,35)" stroke-width="1.8" stroke-linecap="round"/><path d="M1.6 0.6h0" stroke="rgb(35,35,35)" stroke-width="3.2" stroke-linecap="round"/><path d="M-3.6 -2.3h0" stroke="rgb(35,35,35)" stroke-width="2.5" stroke-linecap="round"/><path d="M-8.4 0.9h0" stroke="rgb(35,35,35)" stroke-width="5.7" stroke-linecap="round"/><path d="M-10.4 7.3h0M11.4 1.8h0" stroke="rgb(15,15,15)" stroke-width="1.8" stroke-linecap="round"/><path d="M2.9 1.9h0M-1.3 -0.8h0M-2.6 -2.8h0" stroke="rgb(15,15,15)" stroke-width="5.7" stroke-linecap="round"/><path d="M0.2 -3.4h0" stroke="rgb(15,15,15)" stroke-width="3.2" stroke-linecap="round"/></g></g><circle r="17.6" fill="none" stroke="#000" stroke-width="1.9"/></g>
<g transform="translate(307.00,858.20)"><circle r="17.9" fill="rgb(219,219,219)"/><g clip-path="url(#dc)"><g filter="url(#soft2)"><path d="M-3.3 -12.6h0M2.9 -13.5h0M-11.3 7.6h0M-0.4 2.6h0M10.7 -10.5h0M6.0 6.8h0M-11.9 2.8h0M5.6 -13.5h0M9.7 4.6h0" stroke="rgb(209,209,209)" stroke-width="1.0" stroke-linecap="round"/><path d="M16.5 0.6h0M13.3 5.3h0M-3.4 -2.5h0M-11.8 11.3h0M-6.5 -3.2h0M-0.1 -10.7h0M-1.1 -12.3h0M-12.2 -0.8h0M12.5 -11.3h0M3.3 9.4h0" stroke="rgb(209,209,209)" stroke-width="1.4" stroke-linecap="round"/><path d="M-8.6 8.8h0M0.3 -2.9h0M-7.3 2.6h0M-9.5 0.8h0M2.4 3.6h0M-4.6 -8.0h0M-7.6 13.1h0M-12.6 2.2h0" stroke="rgb(201,201,201)" stroke-width="1.4" stroke-linecap="round"/><path d="M6.8 10.6h0M11.9 3.8h0M-6.3 -11.7h0M-8.0 10.2h0M3.5 -13.4h0M13.9 -2.1h0" stroke="rgb(201,201,201)" stroke-width="1.0" stroke-linecap="round"/><path d="M-8.2 6.8h0M-7.5 -14.9h0M-11.6 -2.3h0M-1.3 -0.1h0M-3.5 4.5h0" stroke="rgb(193,193,193)" stroke-width="1.0" stroke-linecap="round"/><path d="M-12.4 7.6h0M-5.5 -13.5h0M-10.0 -11.1h0M5.1 0.8h0M5.6 -14.8h0M-1.6 13.9h0M-0.4 3.4h0" stroke="rgb(193,193,193)" stroke-width="1.4" stroke-linecap="round"/><path d="M4.2 -2.1h0M2.6 2.2h0M-13.9 7.2h0M-8.3 -0.0h0M0.1 -6.6h0M-5.8 1.2h0M-10.7 2.4h0M-0.2 -16.2h0M15.5 3.8h0M10.1 -12.8h0M-1.8 -8.9h0M2.9 -1.3h0M-4.8 -1.9h0" stroke="rgb(110,110,110)" stroke-width="0.7" stroke-linecap="round"/><path d="M-9.0 2.4h0M10.7 -2.5h0M10.3 2.8h0M-9.8 12.7h0M10.1 3.2h0M-12.5 -4.2h0M3.9 4.8h0M-4.1 7.2h0M0.7 -10.4h0M8.7 -2.8h0M3.2 13.6h0M10.2 -5.4h0M3.4 -4.9h0M-1.8 1.6h0M13.6 -4.1h0M-9.0 1.4h0" stroke="rgb(110,110,110)" stroke-width="1.0" stroke-linecap="round"/><path d="M9.5 -9.5h0M-10.1 4.6h0M-7.2 -5.0h0M0.8 11.5h0M-7.9 8.6h0M-10.0 11.1h0M2.1 -5.0h0M11.0 -9.6h0M-8.8 13.5h0M0.9 14.8h0" stroke="rgb(110,110,110)" stroke-width="1.9" stroke-linecap="round"/><path d="M3.9 -6.8h0M10.9 -7.2h0M1.8 -6.6h0M7.5 3.1h0M9.4 -1.1h0M-1.8 -8.5h0M1.8 10.7h0M10.8 13.0h0M-1.1 2.6h0M-4.1 13.6h0M-2.4 -13.7h0M-8.1 13.4h0M10.4 8.6h0M-11.3 -7.3h0" stroke="rgb(70,70,70)" stroke-width="0.7" stroke-linecap="round"/><path d="M-9.5 -13.7h0M6.5 12.7h0M9.1 -9.0h0M-13.9 9.4h0M9.0 -12.7h0M10.3 8.2h0M-0.6 -12.1h0M-0.7 -3.3h0M7.0 14.6h0M8.5 0.6h0M14.5 -6.7h0M-8.0 5.0h0M3.8 -2.0h0M2.0 7.1h0M-1.9 -2.5h0M6.1 2.6h0M1.7 13.7h0M-1.7 9.0h0M-2.8 -2.8h0M-3.1 -10.0h0" stroke="rgb(70,70,70)" stroke-width="1.0" stroke-linecap="round"/><path d="M0.8 5.1h0M0.3 12.7h0M4.8 -6.1h0M0.4 -2.3h0M-1.7 7.1h0M14.7 -6.2h0M-6.5 -5.1h0M-1.6 6.4h0M-7.6 -3.0h0M-7.8 1.4h0M3.2 13.2h0M7.2 -10.2h0M-0.1 3.8h0M-3.8 0.2h0M11.7 8.9h0" stroke="rgb(70,70,70)" stroke-width="1.9" stroke-linecap="round"/><path d="M-2.3 16.3h0M-8.2 -14.8h0M-3.5 1.3h0M-7.7 -9.3h0M10.9 7.0h0M-15.0 5.0h0M-8.0 4.6h0M-16.1 -1.7h0M-14.8 -1.9h0M-1.8 -9.5h0M-11.1 12.6h0M-12.7 -1.1h0" stroke="rgb(40,40,40)" stroke-width="1.0" stroke-linecap="round"/><path d="M4.1 7.9h0M-5.2 1.8h0M-11.1 -8.4h0M7.7 11.4h0M7.5 13.1h0M-13.8 -2.9h0M-7.5 14.5h0M-1.8 6.5h0M-6.0 -12.0h0M7.6 4.8h0M-2.7 15.2h0" stroke="rgb(40,40,40)" stroke-width="1.9" stroke-linecap="round"/><path d="M10.6 11.0h0M12.6 3.3h0M7.2 -10.6h0M-9.2 -5.5h0M-2.6 3.7h0M-8.1 12.9h0M10.3 -13.1h0M-6.2 -15.3h0M1.6 3.8h0M-1.1 1.4h0M8.8 0.2h0" stroke="rgb(40,40,40)" stroke-width="0.7" stroke-linecap="round"/><path d="M1.4 -10.6h0M3.2 -4.9h0M2.9 4.0h0" stroke="rgb(35,35,35)" stroke-width="1.8" stroke-linecap="round"/><path d="M-2.4 -9.3h0M-11.4 5.4h0M3.0 3.0h0" stroke="rgb(35,35,35)" stroke-width="5.7" stroke-linecap="round"/><path d="M0.2 0.9h0" stroke="rgb(35,35,35)" stroke-width="3.2" stroke-linecap="round"/><path d="M14.3 -4.0h0M8.7 4.1h0M-4.1 -9.3h0" stroke="rgb(15,15,15)" stroke-width="3.2" stroke-linecap="round"/><path d="M-8.5 -4.7h0" stroke="rgb(15,15,15)" stroke-width="5.7" stroke-linecap="round"/><path d="M8.1 8.8h0" stroke="rgb(15,15,15)" stroke-width="2.5" stroke-linecap="round"/></g></g><circle r="17.6" fill="none" stroke="#000" stroke-width="1.9"/></g>
<g transform="translate(108.86,858.20)"><circle r="17.9" fill="rgb(219,219,219)"/><g clip-path="url(#dc)"><g filter="url(#soft2)"><path d="M-4.1 11.4h0M8.5 5.6h0M2.4 10.2h0M1.9 3.5h0M-14.7 3.6h0M0.8 -8.1h0M6.7 -3.3h0M11.0 10.7h0" stroke="rgb(209,209,209)" stroke-width="1.4" stroke-linecap="round"/><path d="M13.8 1.5h0M8.0 1.2h0M7.6 9.4h0M7.6 10.1h0M-1.6 -11.8h0M-3.7 -10.3h0" stroke="rgb(209,209,209)" stroke-width="1.0" stroke-linecap="round"/><path d="M-13.0 5.1h0M9.5 -11.6h0M-1.4 -9.8h0M4.2 12.4h0M3.8 -7.5h0M0.8 -5.2h0M-13.6 3.6h0M11.4 -6.5h0M0.4 -5.4h0M-5.0 2.8h0M6.7 -13.8h0M-4.4 -7.4h0" stroke="rgb(201,201,201)" stroke-width="1.0" stroke-linecap="round"/><path d="M7.1 12.4h0M-2.0 16.4h0M4.9 4.9h0M12.6 6.4h0M15.6 -2.1h0M-7.5 12.9h0M-3.3 13.8h0M-7.9 8.7h0" stroke="rgb(201,201,201)" stroke-width="1.4" stroke-linecap="round"/><path d="M-10.4 12.4h0M-5.9 13.6h0M8.1 6.4h0M8.9 0.0h0M-9.4 -2.3h0M8.1 9.9h0M-12.2 -2.7h0M2.5 -0.4h0" stroke="rgb(193,193,193)" stroke-width="1.0" stroke-linecap="round"/><path d="M10.9 -0.5h0M-4.8 -8.6h0M-2.0 3.3h0" stroke="rgb(193,193,193)" stroke-width="1.4" stroke-linecap="round"/><path d="M14.2 -6.7h0M-0.9 2.4h0M-16.4 -2.1h0M7.8 -3.4h0M5.3 3.1h0M-14.4 -5.3h0M3.8 -8.3h0M-0.3 7.8h0M3.8 7.7h0M9.8 -9.5h0M-11.3 -9.0h0M3.1 12.5h0M-6.6 -13.2h0M-5.5 1.5h0" stroke="rgb(110,110,110)" stroke-width="1.7" stroke-linecap="round"/><path d="M-16.4 0.4h0M-0.4 -9.7h0M-11.4 9.1h0M-1.9 4.5h0M-1.5 11.6h0" stroke="rgb(110,110,110)" stroke-width="0.7" stroke-linecap="round"/><path d="M-4.3 -6.1h0M5.8 -3.0h0M-2.7 16.0h0M-16.1 4.6h0M6.7 5.8h0M-14.1 -1.3h0M-5.3 12.1h0M2.3 -8.6h0M-14.3 -7.6h0M13.3 7.2h0" stroke="rgb(110,110,110)" stroke-width="1.0" stroke-linecap="round"/><path d="M-6.9 -0.4h0M9.5 4.9h0M5.2 -12.6h0M11.9 1.9h0M-7.8 9.8h0M9.8 8.3h0M1.3 7.6h0" stroke="rgb(70,70,70)" stroke-width="1.7" stroke-linecap="round"/><path d="M-0.4 14.1h0M-4.9 -11.4h0M4.7 -5.0h0M-2.1 12.1h0M-0.2 16.4h0M-0.1 3.7h0M-9.6 8.6h0M8.0 11.6h0M10.5 4.8h0M3.5 2.9h0M11.8 -3.4h0M-4.3 14.1h0M-0.4 -1.4h0" stroke="rgb(70,70,70)" stroke-width="0.7" stroke-linecap="round"/><path d="M12.9 6.3h0M3.5 -11.8h0M0.7 -7.8h0M-1.0 3.6h0M-11.1 -12.4h0M-9.3 3.1h0M-6.1 -8.5h0M4.0 8.6h0M9.4 5.5h0M-5.4 -6.6h0M5.6 -10.5h0" stroke="rgb(70,70,70)" stroke-width="1.0" stroke-linecap="round"/><path d="M13.5 -2.1h0M14.6 0.5h0M-1.8 15.9h0M7.7 2.4h0M-7.7 12.9h0M-2.1 1.0h0M-1.6 15.5h0M3.6 -6.2h0M-6.6 -6.9h0M-13.8 -6.0h0M14.7 -2.9h0" stroke="rgb(40,40,40)" stroke-width="1.0" stroke-linecap="round"/><path d="M-3.6 4.8h0M7.8 -8.9h0M-9.5 4.2h0M13.1 -7.2h0M0.7 -14.2h0M-5.6 -13.1h0M12.5 -10.1h0" stroke="rgb(40,40,40)" stroke-width="1.7" stroke-linecap="round"/><path d="M-6.7 14.6h0M4.0 8.0h0M-6.0 -15.5h0M-0.5 -3.3h0M-14.3 7.6h0M10.5 -11.9h0M4.0 -14.0h0M3.8 11.5h0M-7.0 15.2h0M13.0 -0.2h0M13.5 -1.0h0" stroke="rgb(40,40,40)" stroke-width="0.7" stroke-linecap="round"/><path d="M-2.4 -0.2h0" stroke="rgb(35,35,35)" stroke-width="1.8" stroke-linecap="round"/><path d="M-11.9 7.8h0" stroke="rgb(35,35,35)" stroke-width="3.2" stroke-linecap="round"/><path d="M-4.8 -1.9h0" stroke="rgb(35,35,35)" stroke-width="2.5" stroke-linecap="round"/><path d="M-11.3 9.0h0M-7.8 2.6h0" stroke="rgb(35,35,35)" stroke-width="5.0" stroke-linecap="round"/><path d="M-2.1 0.5h0" stroke="rgb(15,15,15)" stroke-width="3.2" stroke-linecap="round"/></g></g><circle r="17.6" fill="none" stroke="#000" stroke-width="1.9"/></g>
<g transform="translate(345.90,858.20)"><circle r="17.9" fill="rgb(219,219,219)"/><g clip-path="url(#dc)"><g filter="url(#soft2)"><path d="M4.6 -0.5h0M12.1 -11.4h0M0.3 -0.4h0M-4.9 0.0h0" stroke="rgb(209,209,209)" stroke-width="1.0" stroke-linecap="round"/><path d="M-0.5 15.1h0M-2.5 16.6h0M8.6 3.3h0M-4.0 -9.0h0M15.6 0.8h0M11.6 -6.9h0M-1.9 -4.8h0M15.8 -2.8h0M15.2 -2.2h0M-12.5 1.2h0M-6.7 -4.7h0" stroke="rgb(209,209,209)" stroke-width="1.4" stroke-linecap="round"/><path d="M10.9 -7.2h0M7.2 -5.2h0M-7.2 5.8h0M-1.1 4.0h0M9.6 -4.5h0M14.2 -7.7h0M4.7 5.8h0M13.3 3.7h0M3.4 1.8h0M-5.3 -6.4h0" stroke="rgb(201,201,201)" stroke-width="1.0" stroke-linecap="round"/><path d="M-9.8 8.1h0M3.3 10.8h0M4.2 11.3h0M-11.9 -6.6h0M-9.8 -8.2h0" stroke="rgb(201,201,201)" stroke-width="1.4" stroke-linecap="round"/><path d="M-4.7 14.6h0M-0.9 -14.1h0M0.1 -9.9h0M-6.6 -6.4h0M-1.1 14.6h0M-8.6 0.5h0M9.4 -4.3h0" stroke="rgb(193,193,193)" stroke-width="1.4" stroke-linecap="round"/><path d="M10.4 2.0h0M-8.9 11.5h0M-12.1 -8.5h0M-0.2 -12.9h0M-2.8 -4.4h0M-1.3 -15.9h0M-8.3 3.2h0M-14.6 -6.7h0" stroke="rgb(193,193,193)" stroke-width="1.0" stroke-linecap="round"/><path d="M7.1 12.7h0M1.8 -13.9h0M6.0 2.5h0M14.8 3.1h0M-0.3 1.6h0M11.2 11.2h0M-1.1 -6.9h0M-9.9 3.5h0M-4.5 1.8h0M-4.3 7.6h0M11.0 8.8h0M-16.7 2.4h0" stroke="rgb(110,110,110)" stroke-width="1.0" stroke-linecap="round"/><path d="M8.7 -7.2h0M3.9 -10.2h0M-13.7 4.7h0M4.1 3.8h0M-15.0 0.4h0M-7.1 -9.8h0M0.4 -2.6h0M-1.3 5.9h0M-0.5 -1.6h0M-6.6 2.4h0M-2.4 8.6h0M-5.6 12.2h0" stroke="rgb(110,110,110)" stroke-width="1.8" stroke-linecap="round"/><path d="M-5.9 14.4h0M-8.0 -5.6h0M10.5 1.6h0M-1.5 9.8h0M3.7 -2.6h0M-1.0 -0.9h0M-4.9 -6.1h0M-8.2 -2.9h0M-2.8 0.6h0" stroke="rgb(110,110,110)" stroke-width="0.7" stroke-linecap="round"/><path d="M4.9 1.8h0M8.4 11.6h0M5.9 -7.7h0M-1.1 0.4h0M-15.4 1.6h0M2.3 11.9h0M-7.0 -11.8h0M10.6 -9.6h0M11.2 -5.7h0M-3.6 -13.1h0M0.5 -7.0h0M-10.3 6.9h0" stroke="rgb(70,70,70)" stroke-width="1.8" stroke-linecap="round"/><path d="M1.1 -11.9h0M3.8 15.6h0M-0.6 0.1h0M-6.0 -7.4h0M-5.7 -5.4h0M8.5 5.8h0M3.5 10.1h0M10.8 3.5h0M6.9 3.2h0M-13.6 4.3h0M3.2 10.0h0M4.2 0.7h0M-4.5 3.0h0M3.1 -14.4h0M-12.4 1.2h0" stroke="rgb(70,70,70)" stroke-width="0.7" stroke-linecap="round"/><path d="M14.0 2.1h0M-12.2 6.0h0M-3.1 -11.1h0M0.2 3.0h0M10.7 -10.0h0M-1.7 3.0h0M-1.9 -4.9h0M6.5 11.0h0M0.8 14.2h0M6.3 3.9h0M0.7 4.5h0M-0.1 -8.1h0" stroke="rgb(70,70,70)" stroke-width="1.0" stroke-linecap="round"/><path d="M-8.4 6.5h0M-1.3 14.4h0M-9.9 9.8h0M-5.4 14.8h0M-2.3 11.2h0M-6.6 -9.2h0M5.4 -0.5h0M-6.0 3.8h0M5.9 13.0h0M-9.6 7.2h0" stroke="rgb(40,40,40)" stroke-width="0.7" stroke-linecap="round"/><path d="M14.8 2.0h0M-8.1 -5.2h0M-11.0 -8.7h0M-9.9 13.4h0M-12.1 -9.8h0M1.3 -16.9h0M14.4 -3.4h0M4.5 -2.3h0M0.3 9.8h0M1.2 2.2h0M-0.4 4.1h0M2.2 -1.7h0M10.2 8.8h0" stroke="rgb(40,40,40)" stroke-width="1.0" stroke-linecap="round"/><path d="M11.4 -11.2h0M2.5 3.8h0M1.0 1.9h0M-9.3 -11.5h0M8.7 -13.7h0M-1.8 9.0h0M3.5 10.3h0M-5.6 -11.7h0M-4.5 4.6h0M-4.5 9.8h0M-7.6 3.0h0" stroke="rgb(40,40,40)" stroke-width="1.8" stroke-linecap="round"/><path d="M3.3 2.6h0" stroke="rgb(35,35,35)" stroke-width="5.3" stroke-linecap="round"/><path d="M5.3 5.3h0" stroke="rgb(35,35,35)" stroke-width="3.2" stroke-linecap="round"/><path d="M-5.9 0.4h0M-14.5 2.0h0" stroke="rgb(35,35,35)" stroke-width="1.8" stroke-linecap="round"/><path d="M-4.3 2.8h0" stroke="rgb(15,15,15)" stroke-width="3.2" stroke-linecap="round"/><path d="M-13.4 -1.9h0" stroke="rgb(15,15,15)" stroke-width="2.5" stroke-linecap="round"/><path d="M4.5 -7.4h0M5.0 2.5h0" stroke="rgb(15,15,15)" stroke-width="1.8" stroke-linecap="round"/><path d="M12.1 9.7h0" stroke="rgb(15,15,15)" stroke-width="5.3" stroke-linecap="round"/></g></g><circle r="17.6" fill="none" stroke="#000" stroke-width="1.9"/></g>
<g transform="translate(147.62,858.20)"><circle r="17.9" fill="rgb(219,219,219)"/><g clip-path="url(#dc)"><g filter="url(#soft2)"><path d="M6.9 -3.1h0M8.0 -8.1h0M5.6 -15.7h0M12.2 5.2h0M-0.4 8.6h0M-4.1 -10.7h0M-10.2 -10.6h0M-3.1 1.8h0M9.4 -4.2h0M14.0 -4.9h0" stroke="rgb(209,209,209)" stroke-width="1.0" stroke-linecap="round"/><path d="M3.3 2.0h0M5.5 -14.4h0M-1.2 15.5h0M1.6 8.9h0" stroke="rgb(209,209,209)" stroke-width="1.4" stroke-linecap="round"/><path d="M-2.4 4.0h0M-12.9 -3.1h0M8.4 -4.7h0M-10.5 -10.3h0M8.0 13.7h0M-1.0 6.0h0M-10.8 8.7h0M-5.3 -6.2h0" stroke="rgb(201,201,201)" stroke-width="1.4" stroke-linecap="round"/><path d="M6.7 3.1h0M14.6 -4.9h0M8.8 3.3h0M-7.3 9.7h0M2.3 7.6h0M-2.0 -6.7h0" stroke="rgb(201,201,201)" stroke-width="1.0" stroke-linecap="round"/><path d="M-1.1 -13.9h0M-12.1 -3.3h0M12.1 -10.6h0M3.7 -4.0h0M-13.3 -9.2h0M9.4 10.5h0M-0.5 -12.2h0M3.2 -0.2h0" stroke="rgb(193,193,193)" stroke-width="1.0" stroke-linecap="round"/><path d="M12.0 -10.9h0M9.0 -12.9h0M16.4 -1.5h0M-11.5 9.8h0M-3.0 11.6h0M-1.0 -16.3h0M-1.5 15.5h0M9.7 3.8h0M-7.7 -6.9h0" stroke="rgb(193,193,193)" stroke-width="1.4" stroke-linecap="round"/><path d="M7.9 6.6h0M-6.9 -7.7h0M14.9 4.0h0M7.5 12.4h0M2.9 -5.3h0M3.5 4.7h0M-14.3 7.2h0" stroke="rgb(110,110,110)" stroke-width="0.7" stroke-linecap="round"/><path d="M9.1 8.1h0M3.7 9.6h0M-3.5 -10.5h0M-1.5 15.3h0M-1.5 -7.7h0M0.3 -9.0h0" stroke="rgb(110,110,110)" stroke-width="1.6" stroke-linecap="round"/><path d="M-13.3 -7.4h0M3.7 7.6h0M14.5 3.1h0M9.1 -7.5h0M5.9 2.1h0M9.2 -5.4h0M3.0 16.0h0M0.7 4.1h0M11.0 -11.1h0M-11.1 8.5h0" stroke="rgb(110,110,110)" stroke-width="1.0" stroke-linecap="round"/><path d="M5.6 0.8h0M-1.9 6.6h0M-10.0 13.6h0M15.1 5.5h0M11.4 -11.3h0" stroke="rgb(70,70,70)" stroke-width="0.7" stroke-linecap="round"/><path d="M-2.7 9.8h0M-5.2 15.6h0M7.6 -0.4h0M-0.8 3.5h0M-9.2 -9.3h0M-0.8 -14.6h0M-5.8 -15.0h0M9.7 7.0h0M-7.7 -11.9h0" stroke="rgb(70,70,70)" stroke-width="1.0" stroke-linecap="round"/><path d="M-0.1 4.6h0M11.0 -9.4h0M4.7 -10.0h0M4.1 2.7h0M-4.1 9.4h0M1.9 -8.6h0M-4.4 1.7h0" stroke="rgb(70,70,70)" stroke-width="1.6" stroke-linecap="round"/><path d="M-11.8 -8.7h0M-13.4 -7.2h0M-11.2 2.4h0M1.4 -0.7h0M-14.3 3.7h0M3.6 -7.7h0M-0.5 -4.1h0M-9.5 9.2h0M-0.3 14.5h0" stroke="rgb(40,40,40)" stroke-width="1.0" stroke-linecap="round"/><path d="M-9.0 -10.1h0M12.8 9.0h0M-15.2 -0.4h0M10.1 -4.2h0M10.7 3.3h0M6.1 7.7h0M15.2 5.2h0M8.3 9.8h0M-4.4 12.1h0M2.7 -14.1h0M-6.7 8.8h0M-3.4 16.5h0" stroke="rgb(40,40,40)" stroke-width="1.6" stroke-linecap="round"/><path d="M-13.9 3.7h0M-16.1 -1.7h0M14.7 -3.0h0M9.7 -11.2h0M11.8 -2.6h0M13.6 -2.4h0M-13.8 2.9h0" stroke="rgb(40,40,40)" stroke-width="0.7" stroke-linecap="round"/><path d="M2.4 -10.3h0" stroke="rgb(35,35,35)" stroke-width="3.2" stroke-linecap="round"/><path d="M-8.5 3.8h0" stroke="rgb(35,35,35)" stroke-width="4.6" stroke-linecap="round"/><path d="M-5.2 -1.6h0" stroke="rgb(15,15,15)" stroke-width="3.2" stroke-linecap="round"/><path d="M-5.4 2.4h0" stroke="rgb(15,15,15)" stroke-width="1.8" stroke-linecap="round"/></g></g><circle r="17.6" fill="none" stroke="#000" stroke-width="1.9"/></g>
<g transform="translate(384.80,858.20)"><circle r="17.9" fill="rgb(219,219,219)"/><g clip-path="url(#dc)"><g filter="url(#soft2)"><path d="M-11.6 -6.4h0M-8.8 -1.1h0M-8.4 -10.9h0M4.6 10.4h0M-0.0 12.3h0M-15.9 -3.2h0M-8.9 -11.2h0M-2.5 8.9h0M1.7 0.1h0" stroke="rgb(209,209,209)" stroke-width="1.4" stroke-linecap="round"/><path d="M-3.7 -6.0h0M-10.1 8.9h0M6.8 -6.5h0M11.1 6.0h0M-2.4 -1.7h0" stroke="rgb(209,209,209)" stroke-width="1.0" stroke-linecap="round"/><path d="M-0.4 5.1h0M5.8 -14.3h0M-12.5 6.8h0M8.3 1.2h0M10.3 -7.9h0M-12.9 -10.2h0M-11.9 2.5h0" stroke="rgb(201,201,201)" stroke-width="1.4" stroke-linecap="round"/><path d="M-4.8 7.6h0M3.6 13.7h0M5.1 -6.0h0M-4.7 -2.9h0M14.8 -0.9h0" stroke="rgb(201,201,201)" stroke-width="1.0" stroke-linecap="round"/><path d="M3.4 15.3h0M13.0 8.3h0M-6.0 -11.5h0M-12.6 -9.4h0M5.2 -1.7h0M-6.4 14.5h0M-11.5 8.8h0M7.9 3.4h0M-10.4 -4.4h0M-14.4 -1.7h0M1.6 -10.3h0" stroke="rgb(193,193,193)" stroke-width="1.4" stroke-linecap="round"/><path d="M6.9 15.0h0M-9.9 -5.7h0M2.8 -15.1h0M-6.4 -11.0h0M3.9 2.2h0M-0.0 -6.2h0M-2.3 15.1h0M-6.5 -7.9h0" stroke="rgb(193,193,193)" stroke-width="1.0" stroke-linecap="round"/><path d="M-4.7 15.8h0M-8.3 -12.1h0M1.0 0.7h0M10.8 3.9h0M3.6 -1.9h0M11.1 -3.0h0M-4.7 -3.1h0M-11.8 2.7h0M-6.2 -2.9h0M-1.4 0.3h0M13.9 2.1h0" stroke="rgb(110,110,110)" stroke-width="1.7" stroke-linecap="round"/><path d="M14.7 -2.8h0M6.9 1.7h0M-10.1 -9.6h0M-11.2 8.4h0M-4.1 -16.0h0M0.4 -7.4h0M-9.0 -11.0h0M14.4 6.9h0" stroke="rgb(110,110,110)" stroke-width="0.7" stroke-linecap="round"/><path d="M-1.7 -15.0h0M-13.7 9.8h0M-12.0 6.1h0M-0.8 3.0h0M-3.1 -11.7h0M-10.8 -9.5h0M-11.0 -9.8h0M15.2 1.0h0M-3.5 14.7h0M10.3 1.6h0M-2.7 2.8h0M8.3 -13.1h0" stroke="rgb(110,110,110)" stroke-width="1.0" stroke-linecap="round"/><path d="M11.5 4.8h0M2.9 -3.2h0M3.7 -14.3h0M-4.0 -12.9h0M0.4 -7.6h0M13.5 -10.0h0M-12.5 7.0h0M7.3 -13.0h0M-10.0 12.8h0M-4.1 5.6h0M-13.3 6.9h0M0.9 -7.1h0" stroke="rgb(70,70,70)" stroke-width="1.7" stroke-linecap="round"/><path d="M5.9 4.3h0M-6.1 -0.8h0M-12.8 -10.9h0M2.0 4.6h0M-11.5 -2.1h0M-2.7 -14.7h0M7.2 -11.9h0M15.8 -2.9h0M10.5 1.3h0M8.1 8.7h0M4.4 -10.0h0M-7.5 13.5h0M16.3 3.7h0M-1.3 4.9h0" stroke="rgb(70,70,70)" stroke-width="0.7" stroke-linecap="round"/><path d="M9.5 -2.3h0M-11.5 -10.5h0M-13.4 5.5h0M14.6 2.6h0M-4.4 -1.8h0M-7.7 1.7h0" stroke="rgb(70,70,70)" stroke-width="1.0" stroke-linecap="round"/><path d="M14.1 -4.7h0M-8.0 1.0h0M8.0 3.7h0M3.1 16.2h0M6.8 -14.1h0M-8.5 -8.5h0M2.6 -2.3h0M-8.6 5.3h0" stroke="rgb(40,40,40)" stroke-width="1.7" stroke-linecap="round"/><path d="M-11.5 8.7h0M5.4 13.6h0M5.5 -1.5h0M-6.9 -11.3h0M-12.7 1.5h0M12.7 -3.7h0M-11.6 -12.1h0M9.0 11.9h0" stroke="rgb(40,40,40)" stroke-width="1.0" stroke-linecap="round"/><path d="M4.5 14.2h0M-14.0 3.3h0M9.7 7.7h0M7.5 4.1h0M-1.5 5.7h0M-12.1 10.7h0M-2.4 -6.9h0M12.0 -5.6h0M-14.3 8.2h0M-15.5 6.5h0" stroke="rgb(40,40,40)" stroke-width="0.7" stroke-linecap="round"/><path d="M8.2 -2.6h0M-2.6 -0.6h0M1.1 -7.4h0" stroke="rgb(35,35,35)" stroke-width="3.2" stroke-linecap="round"/><path d="M-1.0 -8.6h0" stroke="rgb(35,35,35)" stroke-width="1.8" stroke-linecap="round"/><path d="M6.1 -4.2h0" stroke="rgb(15,15,15)" stroke-width="5.0" stroke-linecap="round"/><path d="M-2.0 -13.2h0" stroke="rgb(15,15,15)" stroke-width="1.8" stroke-linecap="round"/></g></g><circle r="17.6" fill="none" stroke="#000" stroke-width="1.9"/></g>
<g transform="translate(186.38,858.20)"><circle r="17.9" fill="rgb(219,219,219)"/><g clip-path="url(#dc)"><g filter="url(#soft2)"><path d="M14.8 -7.5h0M-10.7 1.4h0M12.7 -7.5h0M-10.7 -11.6h0" stroke="rgb(209,209,209)" stroke-width="1.0" stroke-linecap="round"/><path d="M-0.2 -11.5h0M7.7 -0.1h0M-1.4 13.7h0M-8.8 -3.1h0M-8.5 13.0h0" stroke="rgb(209,209,209)" stroke-width="1.4" stroke-linecap="round"/><path d="M2.0 -0.3h0M-11.0 3.7h0M0.8 11.3h0M-7.4 14.7h0M4.1 -1.0h0M3.9 -0.8h0M-8.1 4.5h0" stroke="rgb(201,201,201)" stroke-width="1.4" stroke-linecap="round"/><path d="M-9.5 -8.6h0M-1.5 0.5h0M-3.7 -7.9h0M-7.7 10.9h0M-5.1 4.7h0M-10.0 5.3h0M1.2 -11.0h0M-11.6 -10.7h0M-12.3 6.6h0M-14.1 5.2h0" stroke="rgb(201,201,201)" stroke-width="1.0" stroke-linecap="round"/><path d="M10.9 -7.2h0M4.5 -13.0h0M9.8 11.1h0M-4.5 8.2h0M13.8 8.1h0M-2.5 -13.7h0M-11.0 0.4h0M-3.2 -2.3h0M-5.0 10.8h0M-11.3 7.1h0M-0.9 -8.2h0" stroke="rgb(193,193,193)" stroke-width="1.4" stroke-linecap="round"/><path d="M4.1 13.4h0M0.7 12.9h0M-16.3 -3.5h0M7.4 4.1h0M11.7 9.4h0M0.2 -8.2h0M-13.0 5.5h0M7.7 12.3h0" stroke="rgb(193,193,193)" stroke-width="1.0" stroke-linecap="round"/><path d="M-13.2 4.9h0M10.2 12.5h0M-14.3 -4.3h0M10.1 -7.1h0M7.4 7.4h0M13.5 -9.9h0M10.1 -9.0h0" stroke="rgb(110,110,110)" stroke-width="1.0" stroke-linecap="round"/><path d="M14.8 -7.7h0M-11.1 7.2h0M3.5 1.0h0" stroke="rgb(110,110,110)" stroke-width="1.5" stroke-linecap="round"/><path d="M4.2 7.4h0M-5.7 -12.5h0M13.8 -1.9h0M2.4 -4.3h0M-7.6 -14.1h0M7.8 13.6h0M-2.7 9.5h0M8.3 11.3h0M9.1 -3.3h0M-4.4 -6.2h0" stroke="rgb(110,110,110)" stroke-width="0.7" stroke-linecap="round"/><path d="M6.7 14.9h0M3.0 -5.0h0M-3.4 -3.7h0M-2.3 8.7h0M-10.9 -3.1h0M1.3 -6.7h0M-6.3 -13.5h0M14.2 -7.2h0" stroke="rgb(70,70,70)" stroke-width="1.5" stroke-linecap="round"/><path d="M-16.9 -1.4h0M-12.7 -7.7h0M-4.6 -6.1h0M-0.2 2.8h0M1.2 12.9h0M2.7 14.1h0M-7.0 -14.2h0" stroke="rgb(70,70,70)" stroke-width="1.0" stroke-linecap="round"/><path d="M-4.6 6.2h0M-1.7 -11.8h0M5.8 -5.8h0M6.1 12.3h0M-8.4 -9.4h0" stroke="rgb(70,70,70)" stroke-width="0.7" stroke-linecap="round"/><path d="M15.4 -4.2h0M-7.2 7.4h0M-13.1 -5.5h0M8.6 10.6h0M-7.6 5.9h0M-2.7 9.7h0M0.8 10.8h0" stroke="rgb(40,40,40)" stroke-width="1.0" stroke-linecap="round"/><path d="M-3.5 13.6h0M-0.7 4.8h0M-1.8 14.9h0M0.7 -5.4h0" stroke="rgb(40,40,40)" stroke-width="0.7" stroke-linecap="round"/><path d="M-3.5 15.1h0M1.9 -4.4h0M-14.9 5.0h0M-14.5 8.7h0" stroke="rgb(40,40,40)" stroke-width="1.5" stroke-linecap="round"/><path d="M-6.2 -2.6h0" stroke="rgb(35,35,35)" stroke-width="1.8" stroke-linecap="round"/><path d="M-1.8 1.3h0" stroke="rgb(35,35,35)" stroke-width="4.2" stroke-linecap="round"/></g></g><circle r="17.6" fill="none" stroke="#000" stroke-width="1.9"/></g>
<g transform="translate(423.70,858.20)"><circle r="17.9" fill="rgb(222,222,222)"/><g clip-path="url(#dc)"><g filter="url(#soft2)"><path d="M-4.8 -9.5h0M1.3 4.5h0M-2.8 -10.6h0M5.6 4.5h0M9.2 3.4h0M11.0 -3.8h0M12.3 -2.5h0M-1.9 8.3h0M5.7 3.4h0M6.0 6.3h0" stroke="rgb(212,212,212)" stroke-width="1.4" stroke-linecap="round"/><path d="M-2.9 -0.4h0M10.2 5.1h0M7.3 0.7h0M9.8 -3.5h0M-1.3 14.6h0" stroke="rgb(212,212,212)" stroke-width="1.0" stroke-linecap="round"/><path d="M-15.9 5.2h0M4.1 -0.8h0M-8.3 -3.3h0M-5.9 8.8h0M10.9 9.6h0M-10.0 2.2h0" stroke="rgb(204,204,204)" stroke-width="1.4" stroke-linecap="round"/><path d="M-10.8 11.1h0M-0.8 -15.3h0M6.2 -7.4h0M-9.4 5.7h0M4.0 -4.8h0M3.8 -3.4h0M-1.7 6.1h0M0.4 -8.1h0M-0.0 4.6h0M-13.0 -6.9h0" stroke="rgb(204,204,204)" stroke-width="1.0" stroke-linecap="round"/><path d="M3.4 -8.0h0M10.4 -1.9h0M-12.3 -3.9h0M-0.3 -8.7h0M2.5 -11.0h0M3.0 2.4h0M-8.0 -4.3h0" stroke="rgb(196,196,196)" stroke-width="1.4" stroke-linecap="round"/><path d="M-9.7 -3.4h0M0.7 -8.0h0M0.4 -0.3h0M7.2 9.8h0M7.0 12.8h0M6.8 7.1h0M-4.4 0.1h0" stroke="rgb(196,196,196)" stroke-width="1.0" stroke-linecap="round"/><path d="M2.9 11.0h0M6.1 9.6h0M-1.4 -0.9h0M6.9 -7.2h0" stroke="rgb(110,110,110)" stroke-width="1.0" stroke-linecap="round"/><path d="M-3.2 5.0h0M-5.2 -4.8h0M1.2 -5.5h0" stroke="rgb(110,110,110)" stroke-width="1.4" stroke-linecap="round"/><path d="M-8.0 6.1h0" stroke="rgb(110,110,110)" stroke-width="0.7" stroke-linecap="round"/><path d="M13.2 -1.5h0M1.1 -6.5h0M5.3 -10.7h0" stroke="rgb(70,70,70)" stroke-width="0.7" stroke-linecap="round"/><path d="M4.2 -1.7h0M5.4 -1.7h0M9.0 10.5h0" stroke="rgb(70,70,70)" stroke-width="1.0" stroke-linecap="round"/><path d="M-14.2 -5.2h0M-12.3 6.4h0M-12.2 -2.7h0M8.4 -0.5h0" stroke="rgb(40,40,40)" stroke-width="1.4" stroke-linecap="round"/><path d="M9.7 5.0h0M-4.8 -12.7h0" stroke="rgb(40,40,40)" stroke-width="1.0" stroke-linecap="round"/><path d="M7.1 -12.1h0" stroke="rgb(40,40,40)" stroke-width="0.7" stroke-linecap="round"/></g></g><circle r="17.6" fill="none" stroke="#000" stroke-width="1.9"/></g>
<g transform="translate(225.14,858.20)"><circle r="17.9" fill="rgb(222,222,222)"/><g clip-path="url(#dc)"><g filter="url(#soft2)"><path d="M11.2 -4.5h0M9.7 -0.3h0M16.4 2.8h0M11.2 4.3h0M0.4 -10.1h0M8.4 7.3h0M5.8 13.1h0M12.9 9.2h0M-1.6 16.2h0M2.8 2.8h0M5.7 3.0h0" stroke="rgb(212,212,212)" stroke-width="1.0" stroke-linecap="round"/><path d="M12.7 -4.0h0M12.5 -7.0h0M3.4 9.7h0M-0.3 -13.8h0M13.9 8.6h0M-3.7 -4.1h0M-0.9 -3.4h0M-14.9 0.4h0M11.5 -5.7h0" stroke="rgb(212,212,212)" stroke-width="1.4" stroke-linecap="round"/><path d="M-0.6 -3.1h0M12.2 -10.5h0M0.4 -7.8h0M1.3 -15.3h0" stroke="rgb(204,204,204)" stroke-width="1.0" stroke-linecap="round"/><path d="M3.0 -10.4h0M0.2 -4.6h0M4.6 4.4h0M-13.8 -1.0h0M14.8 6.7h0" stroke="rgb(204,204,204)" stroke-width="1.4" stroke-linecap="round"/><path d="M-12.9 -2.3h0M2.2 -15.7h0M-5.4 -0.5h0M10.8 7.1h0M-9.0 3.0h0M2.2 -9.8h0M3.2 11.1h0M4.7 9.4h0M16.1 -2.5h0M11.3 3.4h0" stroke="rgb(196,196,196)" stroke-width="1.4" stroke-linecap="round"/><path d="M-0.2 16.1h0M-1.7 -11.7h0M-14.1 -2.1h0M-10.1 -12.8h0M8.6 8.5h0M-6.5 3.0h0" stroke="rgb(196,196,196)" stroke-width="1.0" stroke-linecap="round"/><path d="M7.5 -5.3h0M2.3 -9.7h0M7.6 -1.5h0M4.9 16.2h0" stroke="rgb(110,110,110)" stroke-width="1.0" stroke-linecap="round"/><path d="M10.8 -5.2h0M12.3 -8.1h0M15.1 1.2h0M1.4 7.7h0" stroke="rgb(110,110,110)" stroke-width="0.7" stroke-linecap="round"/><path d="M-3.8 -8.3h0M-0.2 12.2h0M4.9 9.8h0" stroke="rgb(110,110,110)" stroke-width="1.4" stroke-linecap="round"/><path d="M-2.1 13.1h0M13.7 2.2h0" stroke="rgb(70,70,70)" stroke-width="1.0" stroke-linecap="round"/><path d="M-13.5 2.2h0M-11.7 12.3h0" stroke="rgb(70,70,70)" stroke-width="1.4" stroke-linecap="round"/><path d="M9.4 0.2h0M4.7 13.3h0M-9.4 4.0h0M13.4 -8.1h0" stroke="rgb(40,40,40)" stroke-width="1.4" stroke-linecap="round"/><path d="M5.4 -10.9h0M-2.3 3.0h0M3.2 -12.7h0M2.7 15.7h0M10.3 11.2h0" stroke="rgb(40,40,40)" stroke-width="0.7" stroke-linecap="round"/><path d="M14.2 -1.5h0M0.8 12.6h0M3.1 0.2h0M-4.2 -6.5h0M15.8 4.0h0" stroke="rgb(40,40,40)" stroke-width="1.0" stroke-linecap="round"/></g></g><circle r="17.6" fill="none" stroke="#000" stroke-width="1.9"/></g>
<g transform="translate(462.60,858.20)"><circle r="17.9" fill="rgb(222,222,222)"/><g clip-path="url(#dc)"><g filter="url(#soft2)"><path d="M4.6 5.1h0M-12.3 -8.9h0M-8.0 -4.2h0M-1.4 -3.4h0M-9.0 -10.6h0M10.3 6.0h0M4.8 -5.6h0" stroke="rgb(212,212,212)" stroke-width="1.0" stroke-linecap="round"/><path d="M-1.7 6.4h0M-0.5 8.0h0M1.0 16.6h0M-9.3 -2.3h0M-0.9 -11.5h0M-4.4 8.8h0M1.5 -13.5h0M-14.0 -1.0h0M8.7 8.2h0" stroke="rgb(212,212,212)" stroke-width="1.4" stroke-linecap="round"/><path d="M-1.8 7.8h0M6.9 -7.3h0M1.9 -7.9h0M14.7 6.7h0" stroke="rgb(204,204,204)" stroke-width="1.0" stroke-linecap="round"/><path d="M-11.2 3.8h0M1.5 -8.9h0M-9.3 6.5h0M9.3 11.5h0M-6.9 8.3h0M4.0 -9.8h0M-2.4 -7.1h0M12.0 1.0h0M-9.7 13.7h0M12.8 -10.5h0M4.3 5.6h0M-5.2 -15.4h0" stroke="rgb(204,204,204)" stroke-width="1.4" stroke-linecap="round"/><path d="M2.0 -5.9h0M3.5 -6.7h0M9.6 -10.8h0M6.6 10.3h0M-7.7 4.9h0M13.5 9.1h0M-14.5 -0.1h0M-9.2 -12.3h0M0.3 -8.5h0M0.5 -7.1h0" stroke="rgb(196,196,196)" stroke-width="1.4" stroke-linecap="round"/><path d="M-1.8 4.0h0M-16.0 -4.4h0M-15.9 -3.8h0" stroke="rgb(196,196,196)" stroke-width="1.0" stroke-linecap="round"/><path d="M-12.4 -11.4h0" stroke="rgb(110,110,110)" stroke-width="1.0" stroke-linecap="round"/><path d="M1.1 10.6h0" stroke="rgb(110,110,110)" stroke-width="0.7" stroke-linecap="round"/><path d="M7.1 12.3h0M-14.6 -2.1h0M0.1 -11.4h0M-9.5 10.0h0" stroke="rgb(70,70,70)" stroke-width="0.7" stroke-linecap="round"/><path d="M-6.6 4.3h0M-9.1 0.8h0M6.2 6.9h0M-1.9 -15.4h0" stroke="rgb(70,70,70)" stroke-width="1.4" stroke-linecap="round"/><path d="M7.3 9.1h0M-12.6 8.6h0M11.5 5.4h0" stroke="rgb(40,40,40)" stroke-width="0.7" stroke-linecap="round"/><path d="M1.9 -9.6h0" stroke="rgb(40,40,40)" stroke-width="1.0" stroke-linecap="round"/><path d="M-5.4 9.8h0M-7.3 -4.2h0M5.7 -8.9h0" stroke="rgb(40,40,40)" stroke-width="1.4" stroke-linecap="round"/></g></g><circle r="17.6" fill="none" stroke="#000" stroke-width="1.9"/></g>
<g transform="translate(263.90,858.20)"><circle r="17.9" fill="rgb(222,222,222)"/><g clip-path="url(#dc)"><g filter="url(#soft2)"><path d="M15.7 1.7h0M-11.0 7.0h0M9.8 -6.5h0M4.5 2.8h0M-12.7 -8.1h0M2.9 11.1h0M-1.7 15.7h0" stroke="rgb(212,212,212)" stroke-width="1.4" stroke-linecap="round"/><path d="M-12.6 -5.1h0M-2.7 2.2h0M3.3 -3.9h0M0.4 1.1h0M13.2 8.1h0M7.7 13.8h0" stroke="rgb(212,212,212)" stroke-width="1.0" stroke-linecap="round"/><path d="M-14.5 4.6h0M-4.9 -15.6h0M-2.2 12.8h0M-7.3 -1.4h0M2.9 -1.9h0M-9.8 -9.5h0M1.5 7.4h0M-11.5 1.4h0M12.5 -4.1h0" stroke="rgb(204,204,204)" stroke-width="1.0" stroke-linecap="round"/><path d="M-7.3 -8.0h0M-11.6 -8.2h0M-0.4 -16.4h0M14.7 -5.7h0M-12.7 -3.9h0M-2.0 -3.8h0M-14.5 4.3h0M-5.5 -11.1h0M1.6 -9.8h0M-8.5 -1.8h0" stroke="rgb(204,204,204)" stroke-width="1.4" stroke-linecap="round"/><path d="M11.0 3.3h0M8.6 -4.0h0M-13.6 6.9h0M-3.2 12.8h0M4.0 0.7h0M-0.1 -8.9h0M-9.8 -9.6h0" stroke="rgb(196,196,196)" stroke-width="1.0" stroke-linecap="round"/><path d="M-5.9 -1.4h0M13.1 2.9h0M5.1 16.0h0M-5.8 12.4h0M0.4 -0.0h0M8.6 3.9h0" stroke="rgb(196,196,196)" stroke-width="1.4" stroke-linecap="round"/><path d="M8.0 11.4h0M9.2 -0.3h0M4.3 -15.5h0M10.1 -13.3h0M1.9 -1.6h0M10.5 -11.2h0" stroke="rgb(110,110,110)" stroke-width="1.0" stroke-linecap="round"/><path d="M-5.1 -5.9h0M4.0 13.0h0M-5.6 1.1h0M13.5 10.1h0" stroke="rgb(110,110,110)" stroke-width="0.7" stroke-linecap="round"/><path d="M-2.0 10.6h0M12.7 -7.7h0" stroke="rgb(110,110,110)" stroke-width="1.4" stroke-linecap="round"/><path d="M-2.6 2.8h0M11.3 -6.1h0" stroke="rgb(70,70,70)" stroke-width="0.7" stroke-linecap="round"/><path d="M11.8 -0.9h0M-9.4 -9.7h0M-16.0 0.2h0" stroke="rgb(70,70,70)" stroke-width="1.0" stroke-linecap="round"/><path d="M-12.6 9.3h0" stroke="rgb(70,70,70)" stroke-width="1.4" stroke-linecap="round"/><path d="M-8.5 -5.7h0" stroke="rgb(40,40,40)" stroke-width="1.4" stroke-linecap="round"/><path d="M-3.0 -1.1h0M4.6 -8.6h0" stroke="rgb(40,40,40)" stroke-width="0.7" stroke-linecap="round"/></g></g><circle r="17.6" fill="none" stroke="#000" stroke-width="1.9"/></g>
<g transform="translate(501.50,858.20)"><circle r="17.9" fill="rgb(222,222,222)"/><g clip-path="url(#dc)"><g filter="url(#soft2)"><path d="M-11.3 3.3h0M2.0 -2.1h0M-3.9 -0.8h0M-10.9 12.8h0M11.8 -4.5h0M-6.4 7.1h0" stroke="rgb(212,212,212)" stroke-width="1.4" stroke-linecap="round"/><path d="M15.0 0.7h0M-11.1 10.1h0M-4.0 2.6h0M-1.3 12.4h0M9.6 12.5h0M-1.7 10.7h0M6.8 14.8h0M1.6 -5.5h0M-1.9 15.8h0" stroke="rgb(212,212,212)" stroke-width="1.0" stroke-linecap="round"/><path d="M-8.4 8.6h0M5.3 -4.9h0M15.0 0.9h0M2.9 0.6h0M-1.3 -7.5h0M2.9 2.8h0M-0.7 5.6h0M4.0 -6.6h0M11.1 1.7h0" stroke="rgb(204,204,204)" stroke-width="1.4" stroke-linecap="round"/><path d="M5.1 -8.6h0M-6.6 10.4h0M11.0 9.1h0M10.0 -3.9h0M15.1 -0.4h0M11.0 -11.3h0M3.4 -1.4h0M-7.2 7.9h0M6.2 -14.9h0" stroke="rgb(204,204,204)" stroke-width="1.0" stroke-linecap="round"/><path d="M7.7 9.6h0M-12.6 3.4h0M-1.0 -13.3h0M-15.1 7.3h0M10.0 6.3h0M-5.3 -12.3h0M-8.2 6.0h0" stroke="rgb(196,196,196)" stroke-width="1.4" stroke-linecap="round"/><path d="M-0.3 -11.5h0M-11.8 4.1h0M-13.8 -5.7h0M-9.1 11.0h0M-4.5 12.8h0" stroke="rgb(196,196,196)" stroke-width="1.0" stroke-linecap="round"/><path d="M6.2 10.6h0" stroke="rgb(110,110,110)" stroke-width="1.3" stroke-linecap="round"/><path d="M0.7 -4.7h0M-8.4 -12.7h0" stroke="rgb(110,110,110)" stroke-width="1.0" stroke-linecap="round"/><path d="M-13.2 2.9h0" stroke="rgb(110,110,110)" stroke-width="0.7" stroke-linecap="round"/><path d="M-5.3 7.2h0M-5.7 14.6h0M13.4 4.9h0" stroke="rgb(70,70,70)" stroke-width="1.3" stroke-linecap="round"/><path d="M-3.4 16.5h0M6.2 15.0h0" stroke="rgb(70,70,70)" stroke-width="0.7" stroke-linecap="round"/><path d="M2.5 6.9h0M2.1 -8.8h0" stroke="rgb(40,40,40)" stroke-width="0.7" stroke-linecap="round"/><path d="M9.8 2.8h0" stroke="rgb(40,40,40)" stroke-width="1.3" stroke-linecap="round"/></g></g><circle r="17.6" fill="none" stroke="#000" stroke-width="1.9"/></g>
<text x="43.60" y="904.90" font-size="11" text-anchor="middle" fill="#111" stroke="#111" stroke-width="0.22">24</text>
<g transform="translate(70.10,901.50)"><circle r="17.9" fill="rgb(222,222,222)"/><g clip-path="url(#dc)"><g filter="url(#soft2)"><path d="M13.3 4.9h0M-14.3 8.8h0M-1.4 7.4h0M-1.1 -2.4h0M10.4 7.9h0M13.8 5.7h0M9.5 -6.9h0M-8.8 0.0h0M-12.9 3.3h0M-7.6 0.5h0" stroke="rgb(212,212,212)" stroke-width="1.0" stroke-linecap="round"/><path d="M5.4 15.8h0M-4.5 -14.9h0M8.2 -3.5h0M-15.5 4.0h0M14.7 -7.1h0M4.8 -0.8h0M10.4 -13.1h0M7.1 -5.1h0M0.3 -4.6h0M-5.6 9.6h0M12.5 6.5h0" stroke="rgb(212,212,212)" stroke-width="1.4" stroke-linecap="round"/><path d="M-13.3 -9.3h0M13.5 -0.4h0M6.3 -14.4h0M9.5 -3.3h0M9.4 -8.1h0M-9.5 -3.2h0M5.1 -6.3h0M-15.6 -5.0h0M3.0 -1.4h0" stroke="rgb(204,204,204)" stroke-width="1.4" stroke-linecap="round"/><path d="M8.7 -9.8h0M14.8 0.2h0M2.2 -12.1h0" stroke="rgb(204,204,204)" stroke-width="1.0" stroke-linecap="round"/><path d="M3.1 16.4h0M-1.1 16.1h0M-0.5 10.1h0M-15.2 -0.7h0M-5.3 -1.0h0M11.9 9.8h0" stroke="rgb(196,196,196)" stroke-width="1.0" stroke-linecap="round"/><path d="M-10.6 7.6h0M4.7 -13.4h0M9.8 13.6h0M-8.6 3.0h0M14.5 2.3h0M6.5 2.4h0" stroke="rgb(196,196,196)" stroke-width="1.4" stroke-linecap="round"/><path d="M10.7 -7.3h0M-2.2 -9.7h0M-4.7 -11.7h0M8.9 -14.0h0M4.4 -3.1h0M-8.8 -11.4h0M-7.1 -9.4h0M-1.3 9.6h0M-3.3 8.9h0M9.8 7.9h0M2.5 -3.0h0M0.0 11.1h0M5.6 6.0h0M-6.6 13.3h0" stroke="rgb(110,110,110)" stroke-width="2.0" stroke-linecap="round"/><path d="M-8.5 -8.8h0M3.6 2.9h0M-3.6 6.1h0M-5.2 -9.0h0M-8.2 6.2h0M-14.2 1.6h0M-3.0 5.8h0M-14.2 0.5h0M7.9 -14.2h0M4.4 -8.7h0M8.6 -13.2h0M12.6 1.3h0M0.9 -4.7h0M-6.1 10.4h0M-3.0 -14.9h0M-8.6 10.2h0M2.2 3.9h0M6.3 -13.7h0M-7.9 4.9h0M13.3 -2.6h0M-13.2 -1.7h0M5.0 6.5h0" stroke="rgb(110,110,110)" stroke-width="0.7" stroke-linecap="round"/><path d="M13.1 -0.3h0M1.9 -5.4h0M-10.3 2.4h0M-2.6 -7.2h0M8.2 -1.1h0M6.9 -12.3h0M-10.2 -4.4h0M-11.0 5.2h0M7.5 -9.9h0M4.0 2.2h0M-5.6 -6.6h0M1.9 1.5h0M8.1 0.9h0" stroke="rgb(110,110,110)" stroke-width="1.0" stroke-linecap="round"/><path d="M-7.5 -4.8h0M5.2 13.8h0M-6.3 -10.9h0M6.0 0.4h0M14.2 -9.0h0M11.6 -0.1h0M-11.7 10.6h0M4.2 -16.1h0M-6.7 -5.9h0M9.5 13.5h0M-8.9 -6.3h0" stroke="rgb(70,70,70)" stroke-width="1.0" stroke-linecap="round"/><path d="M-3.9 16.1h0M14.0 0.2h0M4.3 13.4h0M11.3 2.9h0M13.7 4.7h0M6.8 -3.3h0M-8.1 7.7h0M-3.5 11.8h0M11.0 -5.0h0M10.7 2.2h0M14.1 4.5h0M8.3 0.0h0M-13.3 4.2h0M0.1 -10.2h0M-11.1 8.3h0M0.5 16.2h0M-10.4 -11.4h0" stroke="rgb(70,70,70)" stroke-width="0.7" stroke-linecap="round"/><path d="M15.5 -5.3h0M-2.3 -1.2h0M11.2 6.1h0M8.3 13.6h0M-0.7 15.5h0M-11.9 -4.9h0M11.9 -11.5h0M0.5 -2.3h0M11.2 4.6h0M9.1 11.9h0M-5.6 13.9h0M6.5 13.5h0M2.3 -8.9h0M-7.0 10.6h0M-5.2 -8.8h0M-3.6 -5.3h0M7.4 9.3h0M14.5 -3.6h0M-9.9 11.7h0M-4.8 -11.0h0M-6.8 -5.3h0M13.7 -6.0h0M1.5 8.6h0M14.0 7.4h0M6.1 11.2h0M3.3 16.2h0M-10.0 12.5h0M10.2 -6.6h0" stroke="rgb(70,70,70)" stroke-width="2.0" stroke-linecap="round"/><path d="M9.1 -14.0h0M-3.0 6.6h0M15.5 -2.1h0M-1.9 8.8h0M-4.1 -5.9h0M4.8 -8.6h0M-10.1 -10.0h0M1.3 -10.0h0M0.3 -14.6h0M-2.0 2.2h0M-0.9 16.8h0M0.2 -9.6h0M11.0 8.8h0M10.0 4.0h0" stroke="rgb(40,40,40)" stroke-width="0.7" stroke-linecap="round"/><path d="M-2.4 14.8h0M-5.5 -8.8h0M-14.1 -6.7h0M9.9 2.2h0M-4.5 2.8h0M11.4 -2.2h0M7.1 7.8h0M11.7 -6.3h0M-7.4 -7.3h0M14.3 -7.9h0M12.6 -5.3h0M-10.7 -5.2h0M-0.7 14.1h0M3.1 -3.3h0M12.7 4.0h0M7.3 -12.7h0M7.4 11.6h0M-13.1 -1.7h0M-3.3 2.8h0M-2.9 -0.3h0" stroke="rgb(40,40,40)" stroke-width="1.0" stroke-linecap="round"/><path d="M-11.7 10.6h0M-3.0 11.4h0M7.3 -3.8h0M-3.4 -7.1h0M6.4 4.5h0M-10.2 4.6h0M8.7 -11.1h0M9.8 3.3h0M-10.1 -12.0h0M6.8 -9.7h0M-8.0 -12.1h0M2.7 2.0h0M-4.6 -3.1h0M1.3 -4.1h0M11.3 0.8h0M-3.8 15.7h0M-2.6 5.2h0M4.6 -0.7h0" stroke="rgb(40,40,40)" stroke-width="2.0" stroke-linecap="round"/><path d="M-4.7 3.2h0M2.3 4.3h0M-2.4 6.9h0" stroke="rgb(35,35,35)" stroke-width="1.8" stroke-linecap="round"/><path d="M-4.9 1.7h0" stroke="rgb(35,35,35)" stroke-width="3.2" stroke-linecap="round"/><path d="M-5.2 11.1h0M-13.3 -3.7h0M-12.1 1.9h0M5.8 3.5h0" stroke="rgb(35,35,35)" stroke-width="2.5" stroke-linecap="round"/><path d="M9.3 7.8h0" stroke="rgb(35,35,35)" stroke-width="6.3" stroke-linecap="round"/><path d="M1.0 3.3h0M-14.0 -4.3h0" stroke="rgb(15,15,15)" stroke-width="6.3" stroke-linecap="round"/><path d="M2.8 2.1h0M0.4 4.3h0" stroke="rgb(15,15,15)" stroke-width="1.8" stroke-linecap="round"/><path d="M-5.7 -8.5h0M7.5 5.5h0M-5.6 4.6h0M-0.9 4.9h0M-4.2 5.8h0" stroke="rgb(15,15,15)" stroke-width="3.2" stroke-linecap="round"/><path d="M-1.9 8.1h0M3.1 6.5h0M1.7 6.6h0" stroke="rgb(15,15,15)" stroke-width="2.5" stroke-linecap="round"/></g></g><circle r="17.6" fill="none" stroke="#000" stroke-width="1.9"/></g>
<g transform="translate(307.00,901.50)"><circle r="17.9" fill="rgb(222,222,222)"/><g clip-path="url(#dc)"><g filter="url(#soft2)"><path d="M9.1 -2.4h0M2.5 1.4h0M9.5 -6.2h0M-4.6 -3.8h0M8.1 7.5h0M11.7 -6.7h0M4.6 -11.6h0" stroke="rgb(212,212,212)" stroke-width="1.4" stroke-linecap="round"/><path d="M8.7 -4.2h0M12.1 8.8h0M9.3 3.8h0M15.0 -3.0h0M-5.8 -3.2h0M-3.6 -4.4h0M-2.1 -14.2h0M2.0 12.1h0" stroke="rgb(212,212,212)" stroke-width="1.0" stroke-linecap="round"/><path d="M-15.9 -5.3h0M3.4 -8.7h0M-2.9 2.8h0M8.9 -5.6h0M6.6 -1.1h0M-7.1 -13.5h0M4.5 15.1h0" stroke="rgb(204,204,204)" stroke-width="1.0" stroke-linecap="round"/><path d="M-5.2 2.8h0M5.3 12.7h0M14.4 6.3h0M12.4 7.2h0M7.2 6.5h0M14.1 -8.6h0" stroke="rgb(204,204,204)" stroke-width="1.4" stroke-linecap="round"/><path d="M-10.5 5.2h0M-12.3 4.3h0M-7.7 -1.0h0M6.2 -10.0h0M13.1 -4.5h0M-13.5 -0.1h0M-10.8 2.1h0" stroke="rgb(196,196,196)" stroke-width="1.0" stroke-linecap="round"/><path d="M5.9 -7.1h0M-2.5 -1.6h0M-3.5 -7.7h0M7.9 -4.6h0M-8.9 9.4h0M9.2 -9.5h0M1.9 -7.5h0M-12.1 -4.5h0M6.0 -2.0h0M-4.9 -5.2h0" stroke="rgb(196,196,196)" stroke-width="1.4" stroke-linecap="round"/><path d="M9.3 -7.3h0M5.0 -4.0h0M9.3 10.7h0M11.6 -5.7h0M7.6 5.2h0M-13.5 1.6h0M-12.0 -3.8h0M-6.7 -11.1h0M-4.5 -5.2h0M1.7 13.9h0M-3.1 2.3h0M-12.3 -5.5h0M8.7 -4.3h0M3.5 13.4h0M5.9 -6.1h0M8.4 10.7h0M-7.4 3.3h0M5.7 12.9h0M-1.7 -12.2h0M7.6 2.3h0M-3.4 -1.2h0M8.2 -8.9h0M-13.0 9.1h0M-8.7 -0.3h0M6.9 -2.0h0M-6.4 -15.0h0" stroke="rgb(110,110,110)" stroke-width="0.7" stroke-linecap="round"/><path d="M-11.2 5.7h0M14.4 3.0h0M-0.5 14.3h0M-4.0 0.3h0M-0.0 5.0h0M10.5 3.7h0M6.3 -14.2h0M1.0 -16.7h0M8.4 -8.8h0M-15.1 5.9h0M1.1 5.5h0M4.0 -15.5h0M11.9 8.2h0M-6.3 -0.3h0M-14.6 -0.2h0M-16.3 1.8h0M-7.3 -13.3h0M14.0 -9.3h0M-11.8 0.7h0M-16.0 0.9h0M-5.5 -15.4h0" stroke="rgb(110,110,110)" stroke-width="1.0" stroke-linecap="round"/><path d="M6.3 6.1h0M10.2 -0.4h0M-7.6 10.0h0M-3.8 -12.4h0M-8.2 9.6h0M6.9 -14.8h0M0.6 12.9h0M-1.8 -0.3h0M-13.1 2.7h0M-0.3 -9.7h0M0.0 12.8h0M-13.0 0.4h0M-8.8 -9.7h0M7.4 -10.6h0M4.5 9.2h0M-15.6 5.1h0M-7.7 -11.8h0M8.2 1.0h0" stroke="rgb(110,110,110)" stroke-width="2.1" stroke-linecap="round"/><path d="M-7.7 11.9h0M14.2 -8.0h0M13.1 -4.6h0M-0.3 4.8h0M10.5 3.9h0M-2.7 -10.9h0M-3.7 14.2h0M-11.0 -1.4h0M-1.6 13.6h0M-5.9 -10.4h0M5.9 5.4h0M9.6 8.4h0M-9.1 -5.2h0M-15.0 6.1h0M-7.0 2.6h0" stroke="rgb(70,70,70)" stroke-width="2.1" stroke-linecap="round"/><path d="M1.6 5.7h0M-12.8 7.5h0M-8.5 5.0h0M4.6 12.7h0M-6.1 0.3h0M-1.4 2.4h0M-15.0 -6.5h0M-4.5 0.9h0M-2.4 -16.0h0M13.7 2.8h0M4.6 -15.2h0M9.8 4.6h0M-11.9 4.3h0M4.3 -3.0h0M7.6 5.5h0M-3.3 3.5h0M-13.3 8.6h0M-2.2 6.0h0M-6.0 -4.9h0M-1.8 6.3h0" stroke="rgb(70,70,70)" stroke-width="1.0" stroke-linecap="round"/><path d="M-4.3 -7.8h0M6.3 4.1h0M-6.9 9.0h0M11.7 7.3h0M8.8 -13.6h0M-8.8 1.5h0M-5.5 5.2h0M-3.4 1.6h0M-0.9 -16.9h0M-2.1 -1.0h0M-10.4 7.8h0M-5.8 -8.5h0M-2.5 -2.6h0M9.6 0.2h0M8.6 -5.7h0M-5.9 9.9h0M-8.3 -5.8h0" stroke="rgb(70,70,70)" stroke-width="0.7" stroke-linecap="round"/><path d="M-0.5 0.0h0M13.9 -8.2h0M1.9 3.1h0M0.7 -7.2h0M15.1 -3.1h0M3.3 0.6h0M-13.9 4.6h0M-8.7 -6.4h0M-11.0 -1.6h0M-10.3 -9.9h0M-1.5 -10.2h0M11.9 9.5h0M-8.6 1.9h0M-11.8 -4.3h0M6.2 9.2h0M-4.4 1.0h0M2.9 -3.3h0M7.1 -3.5h0M-2.0 2.8h0" stroke="rgb(40,40,40)" stroke-width="0.7" stroke-linecap="round"/><path d="M-11.7 -4.1h0M11.4 -11.0h0M-15.1 -1.9h0M-5.5 -10.4h0M-13.6 6.7h0M9.9 1.9h0M-6.0 10.8h0M1.1 -5.9h0M-8.6 10.3h0M8.1 -3.8h0M-16.6 3.8h0M-12.1 11.4h0M8.7 -8.2h0M11.4 0.4h0M5.8 -2.9h0M-3.3 -13.5h0M-3.9 6.0h0M-9.2 2.0h0" stroke="rgb(40,40,40)" stroke-width="1.0" stroke-linecap="round"/><path d="M-0.9 -13.3h0M11.8 -7.8h0M-5.9 13.3h0M-16.5 -0.9h0M14.5 2.6h0M9.3 -3.0h0M-15.7 3.4h0M-4.8 5.9h0M2.8 15.7h0M-3.8 13.6h0M2.7 2.6h0M-6.3 2.9h0M3.3 -13.3h0M-9.1 -12.0h0M-11.7 -3.2h0M13.3 3.6h0M6.7 6.8h0M-14.2 8.2h0M-1.7 -3.4h0M12.8 6.0h0" stroke="rgb(40,40,40)" stroke-width="2.1" stroke-linecap="round"/><path d="M-5.3 2.5h0M0.8 6.6h0M1.0 -0.5h0M-5.3 4.7h0" stroke="rgb(35,35,35)" stroke-width="1.8" stroke-linecap="round"/><path d="M15.1 1.5h0M-4.9 6.3h0M3.0 -12.2h0M7.4 10.6h0M-0.2 -1.1h0" stroke="rgb(35,35,35)" stroke-width="2.5" stroke-linecap="round"/><path d="M-2.7 4.2h0M8.8 8.9h0M7.3 6.1h0M2.2 4.9h0" stroke="rgb(35,35,35)" stroke-width="6.7" stroke-linecap="round"/><path d="M3.5 13.4h0" stroke="rgb(35,35,35)" stroke-width="3.2" stroke-linecap="round"/><path d="M-1.2 2.7h0M0.1 15.1h0M-5.7 0.1h0M-1.4 10.7h0M7.6 2.4h0M12.6 -2.7h0M8.6 4.4h0" stroke="rgb(15,15,15)" stroke-width="6.7" stroke-linecap="round"/><path d="M9.2 7.7h0M7.2 -0.9h0M-2.2 8.6h0" stroke="rgb(15,15,15)" stroke-width="1.8" stroke-linecap="round"/><path d="M-0.9 -15.0h0M-1.7 -10.4h0" stroke="rgb(15,15,15)" stroke-width="2.5" stroke-linecap="round"/></g></g><circle r="17.6" fill="none" stroke="#000" stroke-width="1.9"/></g>
<g transform="translate(108.86,901.50)"><circle r="17.9" fill="rgb(222,222,222)"/><g clip-path="url(#dc)"><g filter="url(#soft2)"><path d="M-13.1 1.0h0M-7.1 -11.0h0M3.2 12.9h0M4.2 3.3h0M-8.8 11.4h0M-10.8 11.9h0M-3.6 9.0h0M-13.6 2.9h0M-1.0 5.2h0" stroke="rgb(212,212,212)" stroke-width="1.4" stroke-linecap="round"/><path d="M-14.9 0.6h0M4.9 6.6h0M2.3 -13.5h0M15.7 -5.7h0M-0.4 -8.8h0M-0.4 5.2h0" stroke="rgb(212,212,212)" stroke-width="1.0" stroke-linecap="round"/><path d="M-2.2 -15.8h0M5.6 7.7h0M13.2 -10.0h0M6.0 15.3h0M-15.9 4.9h0M4.2 7.0h0M7.9 10.9h0" stroke="rgb(204,204,204)" stroke-width="1.0" stroke-linecap="round"/><path d="M-8.7 -6.5h0M-8.6 3.2h0M0.1 -8.8h0M4.6 -5.8h0M-14.1 -6.7h0M-8.5 -10.9h0M-13.5 -4.7h0M12.0 11.8h0M-7.6 9.6h0M-2.2 -4.6h0" stroke="rgb(204,204,204)" stroke-width="1.4" stroke-linecap="round"/><path d="M-12.3 2.7h0M-2.3 6.3h0M-8.1 2.4h0M-11.4 1.5h0M-8.9 10.3h0" stroke="rgb(196,196,196)" stroke-width="1.0" stroke-linecap="round"/><path d="M8.8 -2.8h0M-5.9 4.3h0M10.0 1.2h0M-6.0 6.0h0M-10.2 2.8h0M-0.5 13.8h0M-0.0 -11.4h0M3.3 2.0h0" stroke="rgb(196,196,196)" stroke-width="1.4" stroke-linecap="round"/><path d="M11.2 -5.0h0M15.2 -6.8h0M11.6 4.3h0M15.7 -6.2h0M2.4 9.2h0M6.8 -13.0h0M-1.2 -8.2h0M10.8 4.5h0M-8.1 9.9h0M8.8 14.2h0M-1.6 8.7h0M13.2 6.1h0M-6.6 -8.5h0M-4.6 -14.4h0M10.3 -11.2h0M9.7 -9.6h0M5.8 7.4h0M-5.5 -13.3h0M2.7 -9.7h0M14.7 5.7h0" stroke="rgb(110,110,110)" stroke-width="0.7" stroke-linecap="round"/><path d="M-8.0 4.2h0M4.1 -15.2h0M2.3 2.0h0M-8.4 1.2h0M7.3 -2.5h0M2.9 1.8h0M-7.7 -3.1h0M-7.5 1.6h0M10.6 4.3h0M3.0 8.8h0M-16.0 -4.3h0M6.8 10.1h0M-7.7 2.8h0M13.2 -10.6h0M10.5 3.0h0M11.2 -2.4h0M-1.3 1.8h0M-0.4 -5.6h0" stroke="rgb(110,110,110)" stroke-width="1.9" stroke-linecap="round"/><path d="M6.8 -11.1h0M2.4 -16.2h0M0.7 11.1h0M3.5 12.9h0M4.4 2.1h0M3.1 1.1h0M4.8 6.7h0M-13.1 -6.0h0M8.7 1.1h0M8.6 -5.4h0M4.9 12.2h0M-14.9 -2.1h0M-8.3 -4.0h0M-3.4 5.4h0M-10.8 10.0h0" stroke="rgb(110,110,110)" stroke-width="1.0" stroke-linecap="round"/><path d="M5.0 -14.9h0M7.6 -11.2h0M8.7 -5.1h0M13.8 -8.2h0M2.7 -9.0h0M10.1 0.2h0M6.2 -5.2h0M-13.1 0.6h0M-6.8 12.7h0M-10.2 -6.1h0M-8.9 -1.6h0M-11.1 9.5h0" stroke="rgb(70,70,70)" stroke-width="0.7" stroke-linecap="round"/><path d="M-3.0 -5.8h0M-9.8 10.7h0M5.7 2.6h0M15.1 0.8h0M9.8 -7.7h0M-7.8 0.3h0M1.4 -15.3h0M8.8 -13.8h0M-7.9 11.5h0M10.8 12.1h0M0.4 3.3h0" stroke="rgb(70,70,70)" stroke-width="1.9" stroke-linecap="round"/><path d="M13.4 6.8h0M-7.4 -2.6h0M-1.9 8.1h0M1.4 -8.5h0M-6.9 7.4h0M-6.1 12.4h0M-14.0 1.4h0M-13.9 5.1h0M-6.5 -10.5h0M12.8 -11.1h0M-2.2 8.7h0" stroke="rgb(70,70,70)" stroke-width="1.0" stroke-linecap="round"/><path d="M-6.8 -13.8h0M-12.7 -7.4h0M7.4 -0.7h0M-10.6 -2.1h0M-7.0 -8.3h0M2.0 3.0h0M-3.1 -3.1h0M2.3 7.1h0M8.7 12.1h0" stroke="rgb(40,40,40)" stroke-width="1.9" stroke-linecap="round"/><path d="M-11.5 10.6h0M-7.5 -3.3h0M2.2 -13.4h0M1.5 15.1h0M5.8 -11.7h0M-7.2 7.2h0M-7.8 -1.7h0M2.4 -8.9h0M-1.3 10.8h0M6.2 -14.4h0M11.1 -10.0h0M-3.0 0.3h0M13.3 9.9h0" stroke="rgb(40,40,40)" stroke-width="0.7" stroke-linecap="round"/><path d="M14.2 4.3h0M9.9 6.4h0M-5.9 0.9h0M-5.9 4.9h0M10.9 -9.0h0M-3.8 11.2h0M-14.0 -8.1h0M-0.1 -11.4h0M-1.3 -2.4h0M-10.3 -9.6h0M-9.1 8.4h0M13.7 -7.6h0M-4.2 -5.5h0" stroke="rgb(40,40,40)" stroke-width="1.0" stroke-linecap="round"/><path d="M12.0 -8.9h0M9.0 5.4h0M-14.3 -4.6h0" stroke="rgb(35,35,35)" stroke-width="3.2" stroke-linecap="round"/><path d="M-8.7 -8.6h0M-4.1 -8.2h0" stroke="rgb(35,35,35)" stroke-width="1.8" stroke-linecap="round"/><path d="M8.0 6.6h0M-13.6 -1.0h0" stroke="rgb(15,15,15)" stroke-width="3.2" stroke-linecap="round"/><path d="M-1.6 9.4h0M-8.9 -3.3h0M13.7 4.6h0M2.1 -8.5h0" stroke="rgb(15,15,15)" stroke-width="2.5" stroke-linecap="round"/><path d="M7.0 9.4h0" stroke="rgb(15,15,15)" stroke-width="1.8" stroke-linecap="round"/></g></g><circle r="17.6" fill="none" stroke="#000" stroke-width="1.9"/></g>
<g transform="translate(345.90,901.50)"><circle r="17.9" fill="rgb(222,222,222)"/><g clip-path="url(#dc)"><g filter="url(#soft2)"><path d="M-4.0 -10.8h0M-6.9 -11.3h0M5.3 -3.1h0M8.8 12.7h0" stroke="rgb(212,212,212)" stroke-width="1.0" stroke-linecap="round"/><path d="M3.5 14.0h0M-8.0 -3.2h0M6.4 -11.1h0M-5.9 -15.4h0" stroke="rgb(212,212,212)" stroke-width="1.4" stroke-linecap="round"/><path d="M5.9 4.1h0M6.3 -4.6h0M7.7 -10.2h0M-9.7 9.4h0M-4.4 -12.4h0M-4.6 16.1h0M-3.0 -10.9h0M4.9 4.7h0M11.8 -9.9h0M-11.3 6.2h0M0.6 -4.5h0M-8.2 -7.5h0M11.6 10.0h0M8.5 7.1h0" stroke="rgb(204,204,204)" stroke-width="1.4" stroke-linecap="round"/><path d="M-13.5 -0.9h0M-1.8 -2.8h0M3.9 10.6h0M2.0 -7.4h0M-1.8 2.1h0M3.5 -10.2h0" stroke="rgb(204,204,204)" stroke-width="1.0" stroke-linecap="round"/><path d="M1.6 16.0h0M14.3 0.1h0M0.7 -8.4h0M-12.1 8.1h0M5.5 -11.6h0" stroke="rgb(196,196,196)" stroke-width="1.4" stroke-linecap="round"/><path d="M-10.2 1.5h0M-1.1 12.4h0M-6.3 -11.9h0M-0.6 -0.9h0M1.7 1.3h0M-4.7 -0.9h0M-12.6 -3.6h0M4.4 11.6h0M-12.0 5.6h0M4.4 -7.4h0M-14.8 2.8h0M-5.6 -13.7h0" stroke="rgb(196,196,196)" stroke-width="1.0" stroke-linecap="round"/><path d="M-0.2 7.7h0M-10.0 -12.8h0M4.7 2.6h0M-8.9 3.0h0M-10.9 10.3h0M-7.4 9.6h0M-6.3 1.1h0M2.8 1.9h0M-10.7 -0.1h0M-3.1 -10.4h0M-9.0 -9.4h0" stroke="rgb(110,110,110)" stroke-width="1.0" stroke-linecap="round"/><path d="M11.9 -8.9h0M12.2 5.6h0M-9.4 -12.4h0M15.9 0.9h0M-3.2 -5.2h0M-11.0 8.2h0M-8.1 3.5h0M2.6 -11.7h0M-6.3 8.3h0M-8.5 -7.5h0M2.8 -6.3h0M7.0 -4.5h0" stroke="rgb(110,110,110)" stroke-width="1.9" stroke-linecap="round"/><path d="M-14.5 1.3h0M-5.5 -1.2h0M-1.3 10.5h0M-2.4 5.5h0M1.5 -7.0h0M-6.3 13.5h0M2.1 12.4h0M14.4 -5.4h0M-10.3 9.7h0M-4.9 7.4h0M-1.6 8.3h0M-1.8 -8.2h0M-6.2 1.0h0M-9.0 -0.1h0M14.3 0.4h0M-4.2 -5.3h0" stroke="rgb(110,110,110)" stroke-width="0.7" stroke-linecap="round"/><path d="M-4.9 9.1h0M7.8 -4.1h0M-1.2 8.1h0M-14.9 -6.8h0M-6.1 8.7h0M-3.3 14.9h0M5.8 -3.9h0M9.9 0.8h0M0.0 -14.3h0M-12.2 6.1h0M-5.6 14.3h0M3.5 15.6h0M-12.7 10.1h0M-15.1 6.4h0M-12.8 2.4h0M-13.7 10.0h0" stroke="rgb(70,70,70)" stroke-width="1.0" stroke-linecap="round"/><path d="M-8.6 -14.6h0M8.4 13.0h0M-10.7 -9.9h0M9.8 -10.5h0M-14.4 -8.2h0M-14.0 0.5h0M8.2 14.1h0M-7.0 0.3h0M10.6 -3.0h0M9.9 -11.5h0M13.3 -2.3h0M-4.1 -12.1h0M4.4 -14.4h0M-7.4 6.8h0M16.9 0.6h0" stroke="rgb(70,70,70)" stroke-width="0.7" stroke-linecap="round"/><path d="M9.0 3.3h0M1.9 15.9h0M0.6 -1.5h0M-13.6 9.1h0M-4.0 0.9h0M12.5 -1.5h0M1.2 -2.5h0M-12.4 7.0h0M-7.5 12.1h0M7.7 -11.9h0M-9.3 7.2h0M7.8 11.2h0" stroke="rgb(70,70,70)" stroke-width="1.9" stroke-linecap="round"/><path d="M-11.6 -0.2h0M8.2 -12.0h0M9.8 -8.4h0M8.1 0.6h0M-4.9 14.8h0M6.6 9.1h0M-7.6 4.6h0M-2.3 7.4h0M-4.1 -14.4h0M12.2 -8.5h0M15.7 1.0h0M-13.0 9.6h0M1.6 5.8h0M5.0 -7.7h0M14.2 7.3h0M-11.3 -9.0h0M-11.2 6.2h0" stroke="rgb(40,40,40)" stroke-width="0.7" stroke-linecap="round"/><path d="M-11.9 0.4h0M10.9 7.9h0M15.3 -3.5h0M2.8 -6.5h0M-15.2 1.4h0" stroke="rgb(40,40,40)" stroke-width="1.0" stroke-linecap="round"/><path d="M-1.0 -7.4h0M-7.0 -9.0h0M5.2 2.6h0M-15.9 3.1h0M3.1 9.6h0M1.6 -3.0h0M-3.3 13.6h0M-12.6 4.7h0M6.9 1.7h0M3.8 -5.0h0M-13.8 -3.7h0M1.4 -12.0h0M0.1 0.4h0M-4.7 6.8h0M-16.6 1.6h0M-11.7 9.6h0M-11.6 -7.8h0M2.0 0.9h0" stroke="rgb(40,40,40)" stroke-width="1.9" stroke-linecap="round"/><path d="M4.7 0.8h0" stroke="rgb(35,35,35)" stroke-width="1.8" stroke-linecap="round"/><path d="M11.4 -4.9h0M7.3 2.8h0" stroke="rgb(35,35,35)" stroke-width="5.7" stroke-linecap="round"/><path d="M0.2 8.7h0M3.7 7.1h0" stroke="rgb(35,35,35)" stroke-width="2.5" stroke-linecap="round"/><path d="M0.3 -1.7h0M11.1 -0.5h0" stroke="rgb(15,15,15)" stroke-width="5.7" stroke-linecap="round"/><path d="M3.2 4.0h0M7.5 2.2h0M-9.8 -3.9h0" stroke="rgb(15,15,15)" stroke-width="2.5" stroke-linecap="round"/><path d="M-8.8 -1.6h0M10.5 -3.8h0" stroke="rgb(15,15,15)" stroke-width="3.2" stroke-linecap="round"/></g></g><circle r="17.6" fill="none" stroke="#000" stroke-width="1.9"/></g>
<g transform="translate(147.62,901.50)"><circle r="17.9" fill="rgb(222,222,222)"/><g clip-path="url(#dc)"><g filter="url(#soft2)"><path d="M10.7 11.8h0M-11.5 11.5h0M8.9 -8.5h0M4.6 -4.6h0M-4.4 11.8h0M4.8 -4.6h0" stroke="rgb(212,212,212)" stroke-width="1.0" stroke-linecap="round"/><path d="M-6.3 -11.0h0M7.1 -5.3h0M-7.3 14.0h0M14.9 2.0h0M8.4 10.4h0M0.7 13.8h0M4.2 -4.4h0M-6.4 -7.0h0M10.0 -2.0h0M7.4 -5.7h0M-8.4 13.4h0" stroke="rgb(212,212,212)" stroke-width="1.4" stroke-linecap="round"/><path d="M-4.7 -3.1h0M2.0 -2.1h0M-9.5 12.5h0M4.1 5.4h0M-2.2 -11.6h0M9.5 -0.3h0M6.1 12.8h0M3.4 -16.2h0" stroke="rgb(204,204,204)" stroke-width="1.0" stroke-linecap="round"/><path d="M9.5 -4.9h0M2.6 9.4h0M-0.2 -4.0h0M9.1 2.3h0M-1.8 15.7h0" stroke="rgb(204,204,204)" stroke-width="1.4" stroke-linecap="round"/><path d="M-4.1 3.4h0M-1.4 -14.3h0M4.2 -10.2h0M-6.4 1.2h0M11.0 4.4h0M-3.3 9.6h0M-6.2 15.0h0M-6.1 8.0h0" stroke="rgb(196,196,196)" stroke-width="1.0" stroke-linecap="round"/><path d="M13.3 -7.4h0M3.3 10.8h0M-10.1 -12.8h0M11.9 1.6h0M-9.1 -11.4h0M10.2 2.8h0M10.8 6.9h0" stroke="rgb(196,196,196)" stroke-width="1.4" stroke-linecap="round"/><path d="M-11.7 6.4h0M-16.0 -4.7h0M-15.0 4.6h0M-9.3 -13.5h0M-13.8 -3.0h0M-5.9 12.6h0M-6.6 -1.7h0M-3.3 -16.4h0M8.9 -5.0h0M-9.4 -11.1h0M-2.5 7.5h0M-7.3 -12.1h0M4.4 7.5h0" stroke="rgb(110,110,110)" stroke-width="0.7" stroke-linecap="round"/><path d="M-8.9 -4.7h0M0.3 6.6h0M-7.9 -4.2h0M8.5 -12.3h0M13.7 -5.3h0M-10.9 -5.9h0M-8.6 -5.3h0M-2.1 -0.8h0M0.7 -15.4h0M-15.4 3.0h0M12.4 -4.0h0M5.7 -12.6h0" stroke="rgb(110,110,110)" stroke-width="1.0" stroke-linecap="round"/><path d="M-7.0 5.0h0M-8.5 -12.4h0M5.8 15.2h0M7.8 12.4h0M-5.1 1.0h0M5.6 15.3h0M1.9 8.1h0M3.4 7.0h0M-6.3 -14.7h0M-0.7 -13.9h0M-3.6 11.8h0M-2.1 9.6h0M-11.1 -4.6h0M1.6 -6.0h0M4.7 9.5h0M-13.4 7.7h0" stroke="rgb(110,110,110)" stroke-width="1.9" stroke-linecap="round"/><path d="M-9.0 -5.0h0M0.2 -4.6h0M8.7 1.3h0M-14.6 -3.1h0M1.3 -14.9h0M-3.8 9.4h0M-3.6 13.8h0M-0.3 -7.9h0M11.2 2.7h0M9.3 -2.4h0M-12.8 6.0h0M8.1 -5.4h0M-0.2 1.4h0M-0.4 -8.2h0M15.5 -4.8h0M-6.5 -13.5h0M9.4 -13.2h0M-5.4 -10.2h0M4.5 3.8h0" stroke="rgb(70,70,70)" stroke-width="1.0" stroke-linecap="round"/><path d="M0.8 -9.3h0M12.7 6.5h0M12.6 -2.3h0M-7.4 -11.6h0M5.6 7.8h0M-1.9 6.7h0M10.7 -4.8h0M-5.2 1.2h0M-12.5 -0.3h0M-6.5 4.7h0M10.8 5.2h0M-2.9 2.1h0M-11.0 8.3h0M-3.4 -14.2h0M2.2 -6.1h0" stroke="rgb(70,70,70)" stroke-width="0.7" stroke-linecap="round"/><path d="M0.8 10.8h0M-9.0 -2.5h0M-4.4 -9.2h0M6.4 15.5h0M-11.8 -1.3h0M-5.2 3.9h0M-7.8 6.6h0M8.1 -13.2h0" stroke="rgb(70,70,70)" stroke-width="1.9" stroke-linecap="round"/><path d="M15.3 -4.2h0M6.0 1.2h0M4.1 -4.2h0M-11.1 3.8h0M-12.7 2.4h0M-5.7 13.3h0M13.2 4.3h0M-0.7 7.4h0M7.8 -13.9h0M-10.6 3.2h0M-6.8 -13.0h0M-15.6 1.0h0M-8.3 -8.4h0M-13.3 1.5h0" stroke="rgb(40,40,40)" stroke-width="1.9" stroke-linecap="round"/><path d="M10.0 -12.9h0M9.0 14.0h0M-7.3 11.6h0M8.6 -12.6h0M-14.2 -5.0h0M0.1 4.3h0M1.9 -10.2h0M4.8 -15.2h0M4.8 -8.6h0M7.8 12.6h0" stroke="rgb(40,40,40)" stroke-width="1.0" stroke-linecap="round"/><path d="M10.9 -2.2h0M7.4 5.7h0M6.5 9.1h0M4.8 9.5h0M-14.3 -4.2h0M-11.4 -4.4h0M-2.4 12.9h0M-5.5 -3.7h0M-3.5 6.8h0M8.8 -3.8h0M-6.2 -5.2h0M14.4 7.3h0M7.9 2.0h0M-12.8 -8.9h0M-10.9 7.2h0" stroke="rgb(40,40,40)" stroke-width="0.7" stroke-linecap="round"/><path d="M6.8 6.3h0M-4.1 -8.2h0M4.3 -13.1h0" stroke="rgb(35,35,35)" stroke-width="2.5" stroke-linecap="round"/><path d="M-15.6 -1.3h0M-8.0 2.5h0" stroke="rgb(35,35,35)" stroke-width="3.2" stroke-linecap="round"/><path d="M-3.3 -0.2h0" stroke="rgb(35,35,35)" stroke-width="5.7" stroke-linecap="round"/><path d="M-1.5 6.3h0M-5.0 -11.4h0" stroke="rgb(35,35,35)" stroke-width="1.8" stroke-linecap="round"/><path d="M8.5 -10.2h0M-1.3 2.7h0M6.8 -13.0h0" stroke="rgb(15,15,15)" stroke-width="5.7" stroke-linecap="round"/><path d="M-4.4 -0.1h0" stroke="rgb(15,15,15)" stroke-width="3.2" stroke-linecap="round"/></g></g><circle r="17.6" fill="none" stroke="#000" stroke-width="1.9"/></g>
<g transform="translate(384.80,901.50)"><circle r="17.9" fill="rgb(222,222,222)"/><g clip-path="url(#dc)"><g filter="url(#soft2)"><path d="M-4.0 -4.2h0M-12.2 8.8h0M-2.9 -1.2h0M-4.1 4.5h0M-11.0 -6.1h0M-5.3 15.8h0M9.5 9.1h0M5.9 -12.6h0" stroke="rgb(212,212,212)" stroke-width="1.0" stroke-linecap="round"/><path d="M7.4 5.3h0M-3.4 -10.3h0M-7.0 6.5h0M-4.5 11.3h0M-1.9 8.6h0M-5.9 2.6h0M0.1 -16.2h0M-15.3 -1.2h0M12.2 -8.7h0M1.7 -13.8h0M-6.8 -1.9h0" stroke="rgb(212,212,212)" stroke-width="1.4" stroke-linecap="round"/><path d="M5.3 -12.6h0M-6.4 -11.2h0M10.5 -4.7h0M4.2 8.1h0M0.9 -14.7h0M3.1 -3.2h0M-7.2 -3.1h0M-15.1 -3.3h0M-6.5 -3.4h0M-2.1 -1.6h0M6.1 -9.4h0" stroke="rgb(204,204,204)" stroke-width="1.0" stroke-linecap="round"/><path d="M-0.7 8.8h0M-8.9 5.5h0M10.9 10.1h0M-0.3 14.3h0" stroke="rgb(204,204,204)" stroke-width="1.4" stroke-linecap="round"/><path d="M11.4 2.9h0M-2.0 1.1h0M-5.5 6.7h0M0.5 16.3h0M9.1 5.4h0M16.6 0.6h0M-3.9 13.6h0M-7.6 12.5h0" stroke="rgb(196,196,196)" stroke-width="1.0" stroke-linecap="round"/><path d="M-14.9 6.3h0M13.0 -3.5h0M-3.3 -1.6h0" stroke="rgb(196,196,196)" stroke-width="1.4" stroke-linecap="round"/><path d="M-6.0 8.5h0M-6.7 10.4h0M-9.1 9.1h0M9.0 14.3h0M16.6 -3.5h0" stroke="rgb(110,110,110)" stroke-width="0.7" stroke-linecap="round"/><path d="M15.3 -0.2h0M-5.9 14.0h0M-6.1 2.9h0M-5.5 -0.4h0M-8.4 -8.0h0M14.3 -1.8h0M13.0 -6.4h0" stroke="rgb(110,110,110)" stroke-width="1.0" stroke-linecap="round"/><path d="M3.3 9.1h0M6.6 -13.1h0M5.4 11.8h0M-11.9 -11.8h0M-4.4 3.3h0M4.8 -11.0h0M1.3 16.3h0M-6.1 -5.9h0M-5.4 -0.6h0M-6.3 8.7h0M-14.1 4.4h0M-4.0 6.0h0M-1.4 -2.3h0" stroke="rgb(110,110,110)" stroke-width="1.7" stroke-linecap="round"/><path d="M13.8 3.4h0M-9.5 -9.2h0M3.0 14.4h0M2.8 -3.6h0M3.1 6.9h0M13.2 2.2h0M-0.7 -5.9h0M-3.6 9.4h0M6.8 6.4h0M-6.1 5.1h0M2.8 -0.7h0M-7.4 -10.4h0" stroke="rgb(70,70,70)" stroke-width="1.7" stroke-linecap="round"/><path d="M-2.5 10.3h0M-15.5 -4.0h0M3.8 -8.8h0M-8.1 -0.4h0M-1.0 0.1h0M-4.2 9.9h0M-0.6 -2.2h0M-5.4 12.8h0M-12.3 -8.1h0M-7.8 -10.8h0M-9.9 -10.0h0M5.9 -10.5h0" stroke="rgb(70,70,70)" stroke-width="0.7" stroke-linecap="round"/><path d="M12.4 7.7h0M-0.3 1.5h0M-6.4 4.4h0M-12.2 -7.8h0M7.5 11.6h0M1.5 -16.4h0M5.8 -15.8h0" stroke="rgb(70,70,70)" stroke-width="1.0" stroke-linecap="round"/><path d="M-4.2 10.4h0M2.7 14.5h0M4.4 -13.0h0M10.1 -10.8h0M2.6 -7.8h0M8.6 12.0h0" stroke="rgb(40,40,40)" stroke-width="1.7" stroke-linecap="round"/><path d="M-12.9 10.9h0M-12.9 -0.1h0M15.2 -3.4h0M-11.6 -11.9h0M-15.9 -2.0h0M8.8 -13.4h0M-7.4 6.4h0M-0.1 -11.0h0M8.6 8.4h0M-11.8 7.1h0M3.2 7.5h0M0.1 -6.7h0M15.8 6.1h0M-2.5 2.0h0" stroke="rgb(40,40,40)" stroke-width="1.0" stroke-linecap="round"/><path d="M2.7 -7.5h0M-13.5 -6.3h0M-2.9 -13.6h0M-1.7 7.8h0M14.2 -7.2h0M-6.7 9.2h0M10.0 -11.2h0M4.6 -0.6h0M-9.0 3.7h0M-6.2 2.0h0M-9.8 -13.0h0M16.5 -2.7h0M-6.5 -7.7h0" stroke="rgb(40,40,40)" stroke-width="0.7" stroke-linecap="round"/><path d="M2.4 -0.8h0" stroke="rgb(35,35,35)" stroke-width="3.2" stroke-linecap="round"/><path d="M-10.9 -10.1h0" stroke="rgb(35,35,35)" stroke-width="2.5" stroke-linecap="round"/><path d="M3.9 6.0h0" stroke="rgb(35,35,35)" stroke-width="1.8" stroke-linecap="round"/><path d="M4.5 -7.9h0M6.9 0.5h0" stroke="rgb(15,15,15)" stroke-width="3.2" stroke-linecap="round"/><path d="M10.9 8.0h0" stroke="rgb(15,15,15)" stroke-width="2.5" stroke-linecap="round"/></g></g><circle r="17.6" fill="none" stroke="#000" stroke-width="1.9"/></g>
<g transform="translate(186.38,901.50)"><circle r="17.9" fill="rgb(222,222,222)"/><g clip-path="url(#dc)"><g filter="url(#soft2)"><path d="M11.2 4.6h0M-6.0 2.4h0M1.1 14.6h0M-14.9 6.1h0M7.9 11.5h0M-12.7 -1.1h0M4.8 0.6h0" stroke="rgb(212,212,212)" stroke-width="1.0" stroke-linecap="round"/><path d="M4.3 -7.9h0M5.2 9.9h0M2.1 -1.3h0" stroke="rgb(212,212,212)" stroke-width="1.4" stroke-linecap="round"/><path d="M9.1 9.3h0M14.8 7.7h0M5.0 3.7h0M-6.3 -11.7h0M-7.5 -6.0h0M-10.1 -10.4h0M-9.4 5.3h0M-9.0 1.5h0M-13.1 7.6h0M-9.6 6.5h0" stroke="rgb(204,204,204)" stroke-width="1.0" stroke-linecap="round"/><path d="M-0.7 12.3h0M-3.0 -1.7h0M-4.4 -3.7h0M12.4 4.3h0M6.9 6.8h0M13.1 1.7h0M2.6 -8.8h0M15.6 4.1h0M-7.6 2.3h0M-0.8 -3.6h0" stroke="rgb(204,204,204)" stroke-width="1.4" stroke-linecap="round"/><path d="M11.5 -10.0h0M13.3 -6.4h0M11.0 2.0h0M-9.9 -3.7h0M-9.4 6.9h0M5.4 -13.2h0M-5.0 13.7h0" stroke="rgb(196,196,196)" stroke-width="1.4" stroke-linecap="round"/><path d="M5.1 -4.5h0M5.9 -8.7h0M6.3 -10.7h0M-4.4 -4.8h0M-2.3 16.5h0M4.7 9.0h0M10.0 -3.8h0M-13.9 8.3h0" stroke="rgb(196,196,196)" stroke-width="1.0" stroke-linecap="round"/><path d="M-13.7 -2.2h0M3.9 -15.2h0M4.2 -6.4h0M-7.8 6.1h0M-5.6 13.8h0" stroke="rgb(110,110,110)" stroke-width="0.7" stroke-linecap="round"/><path d="M8.1 5.1h0M0.4 -9.0h0M14.4 -8.2h0M5.5 4.7h0M-7.8 12.8h0M-4.7 4.2h0M6.2 10.9h0M-12.3 -1.8h0M-9.2 -10.8h0M-1.0 -7.3h0" stroke="rgb(110,110,110)" stroke-width="1.6" stroke-linecap="round"/><path d="M-2.5 11.5h0M-9.3 4.9h0" stroke="rgb(110,110,110)" stroke-width="1.0" stroke-linecap="round"/><path d="M-2.6 -1.2h0M2.3 -7.5h0M3.1 -8.1h0M9.0 11.5h0M-3.6 -10.9h0M-3.3 -7.3h0" stroke="rgb(70,70,70)" stroke-width="1.6" stroke-linecap="round"/><path d="M-9.7 7.6h0M9.3 -11.5h0M-13.9 1.8h0M-11.0 -7.1h0M-12.9 3.6h0M-5.7 -8.0h0M0.5 -13.2h0M1.3 6.4h0M-12.7 -5.4h0M-0.4 -6.5h0M-6.1 4.5h0M-13.9 -4.6h0M-3.8 -7.7h0" stroke="rgb(70,70,70)" stroke-width="0.7" stroke-linecap="round"/><path d="M-10.8 4.5h0M-6.8 2.6h0M-5.0 -15.2h0M1.2 4.7h0M-8.0 -2.6h0M4.3 14.8h0M0.3 8.0h0M-6.5 -8.2h0M-12.9 9.1h0M-5.3 -2.8h0M8.8 -5.3h0M11.3 4.8h0M-2.1 11.5h0M-8.6 9.4h0" stroke="rgb(70,70,70)" stroke-width="1.0" stroke-linecap="round"/><path d="M-0.1 -13.5h0M3.7 -10.2h0M0.9 3.1h0M8.5 12.5h0M7.9 12.6h0M10.0 -3.2h0M9.5 -1.3h0M-13.2 -6.6h0M-4.2 13.0h0" stroke="rgb(40,40,40)" stroke-width="1.0" stroke-linecap="round"/><path d="M5.6 10.7h0M-7.0 -13.4h0M-1.2 1.8h0M10.8 6.6h0" stroke="rgb(40,40,40)" stroke-width="1.6" stroke-linecap="round"/><path d="M-15.8 4.6h0M-8.7 13.6h0M4.0 -15.3h0M-10.4 5.1h0M-6.3 -7.9h0M6.7 -0.5h0M7.7 -2.6h0M0.2 -0.2h0M7.1 -4.9h0" stroke="rgb(40,40,40)" stroke-width="0.7" stroke-linecap="round"/><path d="M1.3 7.6h0M1.8 -14.7h0" stroke="rgb(35,35,35)" stroke-width="2.5" stroke-linecap="round"/><path d="M4.7 9.1h0M-10.6 1.8h0" stroke="rgb(35,35,35)" stroke-width="3.2" stroke-linecap="round"/></g></g><circle r="17.6" fill="none" stroke="#000" stroke-width="1.9"/></g>
<g transform="translate(423.70,901.50)"><circle r="17.9" fill="rgb(222,222,222)"/><g clip-path="url(#dc)"><g filter="url(#soft2)"><path d="M2.8 -10.2h0M-1.5 -9.7h0M11.5 11.4h0M-3.1 0.8h0M13.2 9.7h0M1.8 11.2h0M1.5 -9.7h0M7.2 -4.1h0M-13.5 5.1h0M9.3 -8.3h0" stroke="rgb(212,212,212)" stroke-width="1.4" stroke-linecap="round"/><path d="M-15.7 -3.7h0M-2.8 6.5h0M9.3 11.4h0M3.6 -2.8h0M12.7 7.4h0" stroke="rgb(212,212,212)" stroke-width="1.0" stroke-linecap="round"/><path d="M-12.1 -6.4h0M14.9 -6.7h0M1.0 -4.7h0M5.2 -11.1h0M13.6 -3.0h0M4.6 -7.8h0M-7.6 -0.5h0M6.1 7.7h0" stroke="rgb(204,204,204)" stroke-width="1.0" stroke-linecap="round"/><path d="M7.9 14.3h0M4.0 6.8h0M-9.7 -0.5h0M1.3 -3.6h0M-12.3 -7.8h0M-13.4 4.6h0M11.5 -11.1h0M4.0 -7.8h0M-4.2 8.0h0M-2.2 -1.6h0M-6.0 -13.4h0" stroke="rgb(204,204,204)" stroke-width="1.4" stroke-linecap="round"/><path d="M-7.1 -3.3h0M-6.4 -11.4h0M-10.5 5.4h0M2.6 12.6h0M0.8 16.6h0M2.8 -16.5h0M-5.6 -12.2h0M-5.8 -6.8h0" stroke="rgb(196,196,196)" stroke-width="1.0" stroke-linecap="round"/><path d="M0.5 14.3h0M-3.8 -8.5h0M-9.9 -10.1h0" stroke="rgb(196,196,196)" stroke-width="1.4" stroke-linecap="round"/><path d="M10.7 -3.3h0M-4.6 -15.9h0M-12.8 7.7h0M-3.6 7.8h0M-11.9 -6.1h0M5.7 4.7h0M9.8 -0.4h0M14.1 0.1h0M1.9 14.0h0" stroke="rgb(110,110,110)" stroke-width="1.0" stroke-linecap="round"/><path d="M-7.5 -12.9h0M-1.1 13.8h0M2.7 -0.9h0M0.7 -6.1h0" stroke="rgb(110,110,110)" stroke-width="0.7" stroke-linecap="round"/><path d="M6.5 15.1h0M0.8 -11.6h0M11.6 -5.3h0M-9.3 8.6h0M13.5 -0.8h0" stroke="rgb(110,110,110)" stroke-width="1.6" stroke-linecap="round"/><path d="M-13.7 9.5h0M-3.3 -9.5h0M11.6 -11.0h0M3.3 12.4h0M5.1 -2.1h0M2.6 -9.6h0" stroke="rgb(70,70,70)" stroke-width="1.6" stroke-linecap="round"/><path d="M5.1 -15.2h0M8.5 -9.0h0M-11.1 -10.5h0M13.6 -9.6h0M2.5 16.4h0M-7.0 -13.0h0M-12.3 -7.8h0" stroke="rgb(70,70,70)" stroke-width="0.7" stroke-linecap="round"/><path d="M13.5 9.9h0M-12.1 5.3h0M5.1 -7.4h0" stroke="rgb(70,70,70)" stroke-width="1.0" stroke-linecap="round"/><path d="M-5.0 -1.0h0M-9.1 3.2h0M-12.4 -10.0h0M13.1 0.2h0M-0.3 -15.1h0M-9.4 5.4h0M10.5 -4.7h0M13.1 -3.3h0M11.7 -0.6h0M-5.5 -11.4h0M-1.3 -11.6h0M-7.2 5.9h0M13.3 -9.3h0" stroke="rgb(40,40,40)" stroke-width="1.6" stroke-linecap="round"/><path d="M4.0 9.8h0M-5.2 -2.0h0M11.3 -4.4h0M-11.7 -7.6h0M-0.8 5.4h0M5.7 -9.1h0M12.9 5.2h0M6.0 10.0h0" stroke="rgb(40,40,40)" stroke-width="1.0" stroke-linecap="round"/><path d="M-8.5 12.0h0M12.0 -10.3h0M-5.2 12.8h0M11.4 -1.2h0M-4.5 -15.7h0M4.1 5.0h0M5.0 4.1h0M0.6 -14.6h0" stroke="rgb(40,40,40)" stroke-width="0.7" stroke-linecap="round"/><path d="M-3.7 8.2h0" stroke="rgb(35,35,35)" stroke-width="3.2" stroke-linecap="round"/><path d="M-7.1 -10.7h0M-8.9 -10.6h0" stroke="rgb(15,15,15)" stroke-width="4.4" stroke-linecap="round"/></g></g><circle r="17.6" fill="none" stroke="#000" stroke-width="1.9"/></g>
<g transform="translate(225.14,901.50)"><circle r="17.9" fill="rgb(222,222,222)"/><g clip-path="url(#dc)"><g filter="url(#soft2)"><path d="M4.2 -7.2h0M10.7 -0.0h0M7.9 8.8h0M7.5 -7.2h0M9.9 -4.0h0M1.5 -4.4h0M-9.6 5.8h0M1.2 6.1h0" stroke="rgb(212,212,212)" stroke-width="1.4" stroke-linecap="round"/><path d="M-7.7 12.9h0M9.4 -3.6h0M11.9 -10.6h0M10.7 5.5h0M-14.5 -1.7h0M13.7 -3.4h0M-1.4 13.7h0M3.2 12.5h0M7.4 -14.3h0M-3.3 -9.3h0M-11.9 9.8h0M15.0 -1.1h0M-8.5 -12.0h0" stroke="rgb(212,212,212)" stroke-width="1.0" stroke-linecap="round"/><path d="M-14.6 -1.7h0M9.6 1.6h0M8.8 -6.8h0M0.5 -8.7h0M-12.7 -6.9h0M10.0 12.3h0M12.9 2.1h0M-9.6 5.8h0" stroke="rgb(204,204,204)" stroke-width="1.4" stroke-linecap="round"/><path d="M-12.8 10.5h0M3.5 15.3h0M16.3 -3.7h0M1.1 0.0h0M-10.7 -7.2h0M-5.5 -0.7h0M-4.7 6.9h0" stroke="rgb(204,204,204)" stroke-width="1.0" stroke-linecap="round"/><path d="M8.6 -5.5h0M9.5 4.6h0M6.5 -3.1h0M-9.2 0.5h0M-7.2 1.0h0" stroke="rgb(196,196,196)" stroke-width="1.4" stroke-linecap="round"/><path d="M-12.1 10.1h0M0.7 -15.6h0M-3.4 -7.2h0M-11.7 10.5h0" stroke="rgb(196,196,196)" stroke-width="1.0" stroke-linecap="round"/><path d="M3.3 -12.1h0M6.3 -9.2h0" stroke="rgb(110,110,110)" stroke-width="1.0" stroke-linecap="round"/><path d="M15.8 -4.3h0M-11.2 1.3h0M-11.3 1.6h0M-1.1 -8.1h0" stroke="rgb(110,110,110)" stroke-width="0.7" stroke-linecap="round"/><path d="M-5.6 5.2h0M-10.9 -7.3h0M-2.0 -15.6h0M-2.6 -16.4h0M-4.3 0.9h0" stroke="rgb(110,110,110)" stroke-width="1.5" stroke-linecap="round"/><path d="M-3.8 -16.3h0M8.3 0.2h0M0.8 0.1h0M0.2 14.1h0" stroke="rgb(70,70,70)" stroke-width="0.7" stroke-linecap="round"/><path d="M-11.1 10.8h0M9.7 -12.5h0M6.1 4.1h0M11.3 7.1h0M12.2 -5.7h0" stroke="rgb(70,70,70)" stroke-width="1.5" stroke-linecap="round"/><path d="M12.1 -10.7h0M1.3 -10.0h0M-1.8 -0.7h0" stroke="rgb(70,70,70)" stroke-width="1.0" stroke-linecap="round"/><path d="M1.2 -10.6h0M-4.2 -7.9h0M6.9 13.0h0M9.3 -7.8h0M-0.2 -2.0h0M-2.8 11.0h0" stroke="rgb(40,40,40)" stroke-width="1.5" stroke-linecap="round"/><path d="M9.2 3.6h0M0.4 2.3h0M-14.9 2.7h0M9.2 6.1h0" stroke="rgb(40,40,40)" stroke-width="1.0" stroke-linecap="round"/><path d="M9.2 -2.7h0M-8.8 10.8h0M5.3 -6.7h0M-5.9 14.2h0M-8.3 -7.0h0" stroke="rgb(40,40,40)" stroke-width="0.7" stroke-linecap="round"/><path d="M3.5 -5.7h0" stroke="rgb(15,15,15)" stroke-width="3.2" stroke-linecap="round"/></g></g><circle r="17.6" fill="none" stroke="#000" stroke-width="1.9"/></g>
<g transform="translate(462.60,901.50)"><circle r="17.9" fill="rgb(222,222,222)"/><g clip-path="url(#dc)"><g filter="url(#soft2)"><path d="M-12.8 -0.5h0M-5.2 -14.7h0M-2.3 12.4h0M-10.3 1.9h0M10.0 -1.2h0M2.1 -13.1h0M12.6 0.2h0M-4.4 6.2h0" stroke="rgb(212,212,212)" stroke-width="1.4" stroke-linecap="round"/><path d="M8.1 -2.7h0M0.2 9.2h0M-9.8 -2.4h0M5.4 12.3h0M6.5 9.0h0M11.3 7.3h0M15.6 -3.6h0M-8.5 -13.5h0" stroke="rgb(212,212,212)" stroke-width="1.0" stroke-linecap="round"/><path d="M11.5 11.8h0M-0.1 -9.0h0M-6.0 -11.4h0M-0.5 -3.2h0M-0.6 15.4h0M-2.9 11.8h0M2.4 -14.1h0" stroke="rgb(204,204,204)" stroke-width="1.0" stroke-linecap="round"/><path d="M12.3 -9.7h0M7.9 -3.2h0M-2.9 -15.7h0M-9.7 -13.2h0M12.2 9.8h0M3.3 -6.3h0" stroke="rgb(204,204,204)" stroke-width="1.4" stroke-linecap="round"/><path d="M-2.4 15.6h0M1.0 -5.6h0M11.3 11.1h0M9.5 7.5h0M-8.5 6.6h0M-0.5 9.1h0M6.3 -1.2h0" stroke="rgb(196,196,196)" stroke-width="1.0" stroke-linecap="round"/><path d="M-6.5 -7.2h0M8.5 -4.6h0M11.2 -7.4h0M3.7 -6.1h0M6.2 -10.7h0M-12.2 -0.4h0M-6.8 -8.9h0M-3.8 8.7h0M5.4 -8.1h0" stroke="rgb(196,196,196)" stroke-width="1.4" stroke-linecap="round"/><path d="M13.0 6.3h0M-2.9 -14.5h0M-5.0 15.9h0" stroke="rgb(110,110,110)" stroke-width="1.5" stroke-linecap="round"/><path d="M-6.3 5.6h0M-4.0 -5.3h0M-2.6 9.8h0M-3.2 -16.2h0M16.2 0.5h0M9.5 -3.5h0" stroke="rgb(110,110,110)" stroke-width="1.0" stroke-linecap="round"/><path d="M-7.0 4.3h0M2.3 9.5h0M1.8 -6.5h0M9.3 -0.6h0M2.8 6.7h0" stroke="rgb(110,110,110)" stroke-width="0.7" stroke-linecap="round"/><path d="M13.7 -6.8h0M17.0 0.5h0M9.2 -11.3h0" stroke="rgb(70,70,70)" stroke-width="1.5" stroke-linecap="round"/><path d="M9.0 13.0h0M9.0 -12.5h0M5.9 -14.4h0M-4.0 0.3h0M-2.7 4.1h0" stroke="rgb(70,70,70)" stroke-width="0.7" stroke-linecap="round"/><path d="M-5.9 -9.5h0M12.6 3.9h0M6.7 1.7h0M9.4 -12.3h0M0.5 -8.7h0M11.8 -1.9h0" stroke="rgb(70,70,70)" stroke-width="1.0" stroke-linecap="round"/><path d="M3.3 -15.7h0M-0.3 -5.3h0M-3.2 -8.5h0M-12.3 10.2h0M-11.5 2.4h0M-16.9 -1.3h0" stroke="rgb(40,40,40)" stroke-width="1.0" stroke-linecap="round"/><path d="M-8.0 -14.6h0M4.2 -15.1h0M-5.8 -10.5h0M8.3 3.3h0" stroke="rgb(40,40,40)" stroke-width="0.7" stroke-linecap="round"/><path d="M-8.9 2.3h0" stroke="rgb(15,15,15)" stroke-width="1.8" stroke-linecap="round"/></g></g><circle r="17.6" fill="none" stroke="#000" stroke-width="1.9"/></g>
<g transform="translate(263.90,901.50)"><circle r="17.9" fill="rgb(225,225,225)"/><g clip-path="url(#dc)"><g filter="url(#soft2)"><path d="M9.9 -11.8h0M4.8 -13.9h0M-6.2 -7.7h0M5.7 9.1h0M13.1 -8.5h0M-0.4 8.1h0M6.6 -3.7h0M-4.4 -15.4h0M9.7 2.4h0M-1.1 1.0h0M7.6 7.7h0M-12.6 -3.0h0" stroke="rgb(215,215,215)" stroke-width="1.4" stroke-linecap="round"/><path d="M-11.5 0.7h0M4.5 10.3h0M12.7 1.3h0M12.0 -0.0h0M-5.3 -1.1h0M-9.1 -10.4h0" stroke="rgb(215,215,215)" stroke-width="1.0" stroke-linecap="round"/><path d="M10.0 -2.0h0M-0.3 -6.0h0M-0.7 9.4h0M0.9 -13.9h0M15.0 3.6h0M-1.1 9.5h0" stroke="rgb(207,207,207)" stroke-width="1.4" stroke-linecap="round"/><path d="M-3.9 3.8h0M-8.7 -10.1h0M-9.1 10.0h0M8.6 -3.5h0" stroke="rgb(207,207,207)" stroke-width="1.0" stroke-linecap="round"/><path d="M2.3 5.9h0M-2.9 -3.7h0M6.1 3.4h0M5.3 -8.8h0M-8.2 -8.5h0M6.2 4.5h0" stroke="rgb(199,199,199)" stroke-width="1.0" stroke-linecap="round"/><path d="M-8.2 -14.5h0M-4.8 -7.5h0M-6.8 10.0h0M8.8 -10.1h0M-10.5 -6.1h0M-8.1 -6.2h0M-12.0 -7.7h0M-14.8 5.9h0M-5.3 12.4h0M4.9 15.0h0M-6.4 -7.2h0" stroke="rgb(199,199,199)" stroke-width="1.4" stroke-linecap="round"/><path d="M4.1 -10.1h0M14.4 -1.6h0M9.3 -8.0h0" stroke="rgb(110,110,110)" stroke-width="0.7" stroke-linecap="round"/><path d="M8.8 -5.0h0M-1.1 -2.1h0M10.8 7.9h0M-0.9 8.4h0M3.2 -14.0h0" stroke="rgb(110,110,110)" stroke-width="1.4" stroke-linecap="round"/><path d="M-14.5 6.5h0" stroke="rgb(110,110,110)" stroke-width="1.0" stroke-linecap="round"/><path d="M-7.3 -0.3h0M7.3 4.9h0M-3.1 11.4h0M5.0 9.8h0" stroke="rgb(70,70,70)" stroke-width="0.7" stroke-linecap="round"/><path d="M3.1 -3.7h0M-4.7 -4.0h0" stroke="rgb(70,70,70)" stroke-width="1.4" stroke-linecap="round"/><path d="M-9.1 -10.0h0M-12.9 3.5h0M4.9 10.5h0" stroke="rgb(70,70,70)" stroke-width="1.0" stroke-linecap="round"/><path d="M7.4 14.6h0M4.7 -9.6h0M7.4 -13.1h0M1.0 -10.8h0" stroke="rgb(40,40,40)" stroke-width="1.4" stroke-linecap="round"/><path d="M-1.8 -15.5h0" stroke="rgb(40,40,40)" stroke-width="1.0" stroke-linecap="round"/><path d="M-0.3 16.2h0M10.2 -0.4h0M6.8 -5.7h0M4.4 14.9h0M13.9 1.4h0M-13.4 -7.7h0" stroke="rgb(40,40,40)" stroke-width="0.7" stroke-linecap="round"/></g></g><circle r="17.6" fill="none" stroke="#000" stroke-width="1.9"/></g>
<g transform="translate(501.50,901.50)"><circle r="17.9" fill="rgb(225,225,225)"/><g clip-path="url(#dc)"><g filter="url(#soft2)"><path d="M-11.0 -10.9h0M14.9 0.9h0M-7.8 -2.0h0M-10.6 7.9h0M13.9 6.4h0M-10.6 11.5h0M3.2 -11.2h0" stroke="rgb(215,215,215)" stroke-width="1.4" stroke-linecap="round"/><path d="M-15.8 3.3h0M3.7 1.1h0M6.0 2.7h0M-3.1 -15.8h0M9.4 5.5h0M5.0 -13.4h0" stroke="rgb(215,215,215)" stroke-width="1.0" stroke-linecap="round"/><path d="M9.3 10.7h0M0.0 7.2h0M8.5 -2.5h0M2.7 -14.9h0M-16.0 4.5h0M-5.4 -11.9h0M-7.3 0.3h0" stroke="rgb(207,207,207)" stroke-width="1.4" stroke-linecap="round"/><path d="M-1.2 6.3h0M14.8 6.2h0M1.6 -3.8h0M-0.9 15.7h0M5.9 14.2h0M-13.4 5.9h0M1.1 10.1h0M-7.6 -2.5h0M8.7 1.6h0M9.1 -7.0h0M1.7 -1.1h0M4.4 1.0h0M12.1 0.1h0M-8.4 -3.8h0" stroke="rgb(207,207,207)" stroke-width="1.0" stroke-linecap="round"/><path d="M-4.9 -14.8h0M2.6 -7.3h0M-4.8 -10.7h0M-9.8 12.5h0" stroke="rgb(199,199,199)" stroke-width="1.4" stroke-linecap="round"/><path d="M6.4 -1.9h0M-11.3 8.8h0M-10.5 4.7h0M-4.3 -0.8h0M2.6 12.1h0M2.3 -14.0h0M-8.7 -13.7h0" stroke="rgb(199,199,199)" stroke-width="1.0" stroke-linecap="round"/><path d="M6.1 7.6h0M15.3 -1.7h0M12.6 6.6h0" stroke="rgb(110,110,110)" stroke-width="1.4" stroke-linecap="round"/><path d="M11.6 -3.2h0" stroke="rgb(110,110,110)" stroke-width="0.7" stroke-linecap="round"/><path d="M-9.1 -13.8h0M16.1 3.1h0" stroke="rgb(110,110,110)" stroke-width="1.0" stroke-linecap="round"/><path d="M-6.5 -15.2h0M2.6 13.5h0" stroke="rgb(70,70,70)" stroke-width="0.7" stroke-linecap="round"/><path d="M4.2 -13.5h0M9.8 -0.6h0" stroke="rgb(70,70,70)" stroke-width="1.4" stroke-linecap="round"/><path d="M1.9 15.8h0M2.7 -0.6h0" stroke="rgb(40,40,40)" stroke-width="0.7" stroke-linecap="round"/><path d="M14.2 8.8h0M-13.9 0.7h0M-14.9 3.7h0M1.1 -12.7h0" stroke="rgb(40,40,40)" stroke-width="1.0" stroke-linecap="round"/><path d="M9.1 3.7h0" stroke="rgb(40,40,40)" stroke-width="1.4" stroke-linecap="round"/></g></g><circle r="17.6" fill="none" stroke="#000" stroke-width="1.9"/></g>
<text x="43.60" y="948.20" font-size="11" text-anchor="middle" fill="#111" stroke="#111" stroke-width="0.22">25</text>
<g transform="translate(70.10,944.80)"><circle r="17.9" fill="rgb(223,223,223)"/><g clip-path="url(#dc)"><g filter="url(#soft2)"><path d="M-2.5 -13.3h0M-0.7 4.8h0M-4.6 -5.6h0M5.5 6.0h0M-8.7 2.1h0M5.6 -3.6h0" stroke="rgb(213,213,213)" stroke-width="1.4" stroke-linecap="round"/><path d="M2.1 7.1h0M0.0 14.4h0M7.1 4.4h0M11.2 10.2h0M-0.9 14.1h0M-6.3 -12.6h0M14.3 -5.6h0M-4.8 -2.9h0M2.5 -13.9h0M-12.3 -8.0h0M1.9 -13.3h0" stroke="rgb(213,213,213)" stroke-width="1.0" stroke-linecap="round"/><path d="M-0.6 -5.1h0M5.9 2.1h0M-2.9 6.5h0M12.0 8.4h0M-0.1 -10.1h0M6.3 6.2h0M2.8 -13.1h0" stroke="rgb(205,205,205)" stroke-width="1.0" stroke-linecap="round"/><path d="M-5.6 -11.0h0M-3.6 1.7h0M1.0 -5.3h0M2.1 -7.0h0M-6.8 10.3h0M7.9 -8.3h0M9.5 -1.0h0M5.3 1.6h0M-3.1 3.1h0M12.6 3.4h0" stroke="rgb(205,205,205)" stroke-width="1.4" stroke-linecap="round"/><path d="M5.0 -15.9h0M-13.7 -3.7h0M-0.1 5.3h0M-2.2 2.4h0M-1.2 -12.5h0" stroke="rgb(197,197,197)" stroke-width="1.4" stroke-linecap="round"/><path d="M-12.6 -0.6h0M-13.4 -3.5h0M4.5 -2.9h0M6.1 -1.9h0M-14.4 -6.6h0M-4.1 -12.2h0" stroke="rgb(197,197,197)" stroke-width="1.0" stroke-linecap="round"/><path d="M5.2 -2.8h0M-7.6 -2.7h0M-7.9 12.0h0M-1.1 -1.9h0M7.9 -14.6h0M-12.2 -9.6h0M2.2 6.3h0M0.0 -15.4h0M-10.0 -0.2h0M6.4 -6.6h0M-2.6 1.7h0M-4.9 8.2h0M-14.3 -0.5h0M5.6 -5.1h0M-8.4 -5.4h0M-10.8 7.7h0M1.3 -3.9h0M9.1 6.3h0M3.6 -8.4h0M3.1 8.9h0M-12.1 -2.7h0M4.3 5.7h0M0.0 -4.1h0M-11.9 -3.1h0M-9.2 -5.5h0" stroke="rgb(110,110,110)" stroke-width="2.1" stroke-linecap="round"/><path d="M11.4 -7.6h0M13.9 6.8h0M-7.3 15.0h0M0.5 3.2h0M-0.1 7.2h0M13.4 9.8h0M8.2 -2.7h0M-5.4 6.4h0M-0.6 -12.1h0M14.5 -3.2h0M8.0 6.6h0M10.0 2.4h0M8.5 13.6h0M4.1 -0.1h0M1.6 13.2h0M12.5 2.9h0M-6.2 -0.5h0M-8.7 12.0h0M2.3 4.3h0" stroke="rgb(110,110,110)" stroke-width="0.7" stroke-linecap="round"/><path d="M-3.1 -10.9h0M3.0 16.3h0M-1.7 -4.7h0M-9.4 -13.0h0M-8.2 -7.3h0M16.0 -2.0h0M-2.2 15.7h0M7.3 -12.6h0M-6.9 7.5h0M-10.2 3.5h0M6.8 13.6h0M-9.0 -14.0h0M-12.8 3.8h0M-15.2 4.0h0M9.2 2.3h0M11.8 -5.9h0M5.5 -8.4h0" stroke="rgb(110,110,110)" stroke-width="1.0" stroke-linecap="round"/><path d="M-11.9 -5.8h0M15.0 -7.5h0M5.9 13.4h0M-11.6 10.2h0M-6.0 3.0h0M12.9 10.7h0M10.1 -3.1h0M1.6 4.1h0M-6.3 5.2h0M6.3 -7.8h0M-9.3 12.4h0M-6.2 0.2h0M12.0 -0.6h0M-10.1 3.7h0M11.1 11.4h0M8.8 11.3h0M0.9 -13.9h0M-14.9 2.5h0" stroke="rgb(70,70,70)" stroke-width="1.0" stroke-linecap="round"/><path d="M12.5 -9.6h0M-1.4 14.5h0M0.1 -12.4h0M-10.6 -1.0h0M10.8 8.5h0M12.6 3.5h0M12.4 -7.5h0M-13.5 -8.6h0M7.7 0.4h0M-1.3 6.5h0M-5.1 -12.6h0M2.0 -14.0h0M1.9 12.0h0M1.4 -8.0h0M-15.6 -5.1h0M-1.2 1.4h0M11.9 -5.1h0M-5.1 7.6h0M-7.2 -6.1h0M-0.6 16.0h0M2.7 -6.7h0M-0.2 -15.6h0M6.8 5.0h0M9.9 -7.8h0M1.2 -8.5h0M2.7 0.3h0M10.2 -4.9h0" stroke="rgb(70,70,70)" stroke-width="2.1" stroke-linecap="round"/><path d="M-1.9 -11.9h0M-8.3 -11.2h0M1.5 15.0h0M-9.1 -10.8h0M-2.9 12.7h0M-10.4 -0.8h0M14.1 0.1h0M11.8 6.8h0M13.0 5.4h0M-6.9 6.7h0M8.7 11.4h0M15.0 -5.6h0M-7.7 2.0h0M8.4 -9.5h0M-15.0 3.3h0M2.4 -12.0h0M7.6 -5.3h0" stroke="rgb(70,70,70)" stroke-width="0.7" stroke-linecap="round"/><path d="M10.0 0.3h0M10.4 -12.5h0M-4.1 14.5h0M5.7 12.7h0M-9.9 -6.9h0M9.6 -6.9h0M6.4 7.8h0M13.1 -8.6h0M4.6 -14.7h0M-3.1 12.7h0M-10.3 -7.8h0M-3.4 8.9h0M-0.1 13.3h0" stroke="rgb(40,40,40)" stroke-width="2.1" stroke-linecap="round"/><path d="M5.9 0.2h0M-12.6 8.8h0M9.6 11.1h0M-6.1 7.6h0M9.5 1.2h0M-1.3 -4.5h0M16.2 1.5h0M5.8 -9.1h0M5.2 -12.9h0M1.4 -11.8h0M-5.2 -0.7h0M4.5 -7.9h0M14.3 -0.0h0M1.9 12.2h0M-6.2 -13.4h0M3.4 9.7h0M-14.9 -1.1h0M-10.9 -8.5h0M8.1 1.9h0M-3.9 14.4h0" stroke="rgb(40,40,40)" stroke-width="0.7" stroke-linecap="round"/><path d="M13.3 9.4h0M-5.8 4.7h0M-2.8 11.3h0M-7.8 -4.8h0M-14.0 -2.3h0M-7.3 -15.1h0M13.9 2.2h0M-11.7 -9.3h0M2.6 10.5h0M-13.1 1.6h0M-4.5 -8.6h0M0.1 3.2h0M0.7 12.2h0M7.4 -13.7h0M13.6 -5.4h0M-7.4 -10.2h0M5.5 0.4h0M-14.6 -3.3h0" stroke="rgb(40,40,40)" stroke-width="1.0" stroke-linecap="round"/><path d="M6.6 8.0h0M10.7 -4.6h0M0.1 9.0h0" stroke="rgb(35,35,35)" stroke-width="6.7" stroke-linecap="round"/><path d="M6.3 -11.5h0M-4.3 2.5h0M10.9 1.9h0M11.0 6.5h0" stroke="rgb(35,35,35)" stroke-width="3.2" stroke-linecap="round"/><path d="M9.2 -2.2h0M-7.6 -0.3h0" stroke="rgb(35,35,35)" stroke-width="2.5" stroke-linecap="round"/><path d="M0.0 -0.3h0M11.7 -2.9h0M-4.2 4.1h0" stroke="rgb(35,35,35)" stroke-width="1.8" stroke-linecap="round"/><path d="M11.2 1.6h0M-5.9 2.7h0M9.7 5.0h0" stroke="rgb(15,15,15)" stroke-width="3.2" stroke-linecap="round"/><path d="M-0.7 -4.6h0M-5.4 6.2h0M9.1 -2.1h0M6.9 3.6h0M5.0 1.5h0" stroke="rgb(15,15,15)" stroke-width="6.7" stroke-linecap="round"/><path d="M14.5 -0.3h0M-6.7 2.7h0M5.1 -11.0h0M-13.0 -5.4h0" stroke="rgb(15,15,15)" stroke-width="2.5" stroke-linecap="round"/><path d="M2.4 10.1h0M10.3 2.9h0" stroke="rgb(15,15,15)" stroke-width="1.8" stroke-linecap="round"/></g></g><circle r="17.6" fill="none" stroke="#000" stroke-width="1.9"/></g>
<g transform="translate(307.00,944.80)"><circle r="17.9" fill="rgb(223,223,223)"/><g clip-path="url(#dc)"><g filter="url(#soft2)"><path d="M-13.1 3.1h0M-6.2 12.7h0M-9.2 13.4h0M-0.3 2.8h0M-10.4 -8.2h0M-8.6 -7.7h0M14.0 -0.7h0" stroke="rgb(213,213,213)" stroke-width="1.0" stroke-linecap="round"/><path d="M14.0 -7.2h0M-8.1 -5.3h0M5.6 -8.1h0M-4.5 -13.0h0M0.6 5.6h0" stroke="rgb(213,213,213)" stroke-width="1.4" stroke-linecap="round"/><path d="M-12.0 7.2h0M-7.7 -5.1h0M-13.8 -3.1h0M-2.9 7.2h0M6.9 -13.1h0M4.3 -15.4h0M-14.0 2.7h0M-8.9 4.6h0M9.8 -2.3h0M-9.0 -2.1h0" stroke="rgb(205,205,205)" stroke-width="1.4" stroke-linecap="round"/><path d="M4.6 -4.3h0M9.5 7.1h0M-3.5 -13.9h0M5.0 -10.7h0M10.5 3.6h0" stroke="rgb(205,205,205)" stroke-width="1.0" stroke-linecap="round"/><path d="M-6.2 13.0h0M4.9 -1.3h0M2.7 5.5h0M3.8 -6.1h0M-0.9 -4.3h0M7.0 -11.9h0M13.0 8.7h0M10.9 -8.7h0M10.1 -9.4h0" stroke="rgb(197,197,197)" stroke-width="1.0" stroke-linecap="round"/><path d="M8.8 -0.9h0M-7.8 -14.6h0M11.9 -5.6h0M3.7 10.5h0M-13.6 2.2h0M-9.1 -2.4h0M-15.5 -5.5h0M4.2 12.0h0M8.0 3.3h0" stroke="rgb(197,197,197)" stroke-width="1.4" stroke-linecap="round"/><path d="M2.3 10.8h0M4.1 1.5h0M9.7 13.6h0M12.8 11.1h0M-7.7 -1.7h0M-9.6 -13.3h0M-5.9 -8.6h0M-0.2 4.9h0M-3.5 15.7h0M-7.6 -14.9h0M11.9 -3.5h0M-11.6 2.9h0M-2.9 3.0h0M-7.6 -11.3h0M-11.0 -11.6h0M-4.8 1.3h0M2.2 -2.2h0M-7.5 6.2h0M8.1 6.0h0M15.1 -1.3h0M-4.8 11.9h0" stroke="rgb(110,110,110)" stroke-width="0.7" stroke-linecap="round"/><path d="M-8.1 -9.6h0M5.6 0.2h0M6.5 -10.4h0M6.9 -1.0h0M1.5 -12.9h0M12.0 9.2h0M5.7 10.8h0M-8.4 -5.7h0M1.9 6.2h0M-10.8 -8.3h0M-10.1 -6.1h0M-1.5 -14.3h0M12.2 -11.0h0M5.9 0.4h0M16.6 -3.5h0M-1.6 -10.6h0M-1.0 3.3h0M-11.3 -12.7h0M-6.7 -6.8h0M8.9 -5.0h0" stroke="rgb(110,110,110)" stroke-width="1.0" stroke-linecap="round"/><path d="M5.4 13.8h0M-8.8 -10.4h0M8.3 -5.9h0M10.5 4.8h0M-8.4 2.5h0M3.2 0.2h0M-10.0 11.9h0M2.5 -6.4h0M-3.3 8.6h0M6.9 -13.3h0M-13.1 4.1h0M10.9 -10.8h0M9.2 -9.9h0M-1.6 -12.2h0M5.2 6.0h0M-10.2 -2.5h0M-1.3 2.3h0M-11.6 1.6h0M5.9 -3.6h0M-5.0 14.3h0M5.3 -4.7h0M10.6 -8.7h0M-12.3 6.8h0" stroke="rgb(110,110,110)" stroke-width="2.1" stroke-linecap="round"/><path d="M-12.0 7.8h0M2.4 8.0h0M8.1 9.1h0M3.2 -9.4h0M-6.6 6.9h0M8.8 12.4h0M6.9 0.5h0M15.1 -2.3h0M14.1 -8.1h0M1.5 2.2h0M1.7 -2.6h0M-16.3 0.8h0M-13.7 3.0h0M0.5 -5.7h0M8.4 14.3h0M-6.3 -7.8h0M-0.6 14.8h0M6.4 0.1h0M-11.1 2.1h0M10.1 2.5h0M8.7 9.6h0M11.5 6.5h0" stroke="rgb(70,70,70)" stroke-width="2.1" stroke-linecap="round"/><path d="M10.9 -7.0h0M-11.8 -1.1h0M0.8 4.6h0M-13.0 -0.6h0M-1.3 14.7h0M10.2 4.4h0M8.9 3.2h0M11.9 2.1h0M-5.4 0.8h0M-0.7 -11.7h0M13.7 -1.2h0M6.8 -9.6h0M-16.2 2.6h0M-2.4 15.9h0M9.3 -8.8h0M3.1 8.0h0M5.5 -7.0h0M-12.9 -5.3h0M8.6 9.5h0" stroke="rgb(70,70,70)" stroke-width="0.7" stroke-linecap="round"/><path d="M-3.0 13.2h0M-7.3 12.2h0M-0.4 0.2h0M9.3 -7.3h0M11.0 -0.4h0M-8.6 9.0h0M-11.8 6.6h0M5.5 -1.8h0M7.2 6.9h0M4.7 -11.5h0M-3.0 -5.7h0M-1.3 -16.7h0M15.1 2.3h0M1.2 8.4h0M8.5 7.6h0" stroke="rgb(70,70,70)" stroke-width="1.0" stroke-linecap="round"/><path d="M7.2 12.2h0M-13.5 -9.2h0M15.5 -3.1h0M2.3 -14.8h0M-4.3 -10.8h0M9.7 -12.6h0M3.9 4.1h0M-3.5 -15.7h0M-0.7 -15.6h0M-4.5 10.3h0M16.4 -3.4h0M-10.0 2.1h0M10.3 -11.8h0M3.6 16.0h0M-2.4 13.6h0M13.6 -4.8h0M3.8 11.9h0M-6.7 -12.1h0M-1.7 4.2h0M-7.0 -9.1h0M-14.8 4.1h0M12.8 -0.2h0M2.1 3.2h0M1.8 9.4h0M-11.6 2.0h0" stroke="rgb(40,40,40)" stroke-width="0.7" stroke-linecap="round"/><path d="M10.5 -5.9h0M-1.2 1.7h0M-3.3 8.2h0M-3.0 0.4h0M6.1 -12.2h0M-9.6 -8.9h0M-9.7 11.6h0M-1.7 2.0h0M-2.7 -7.5h0M-9.5 -5.4h0M15.4 -5.4h0" stroke="rgb(40,40,40)" stroke-width="1.0" stroke-linecap="round"/><path d="M12.2 -7.2h0M4.1 3.4h0M-13.0 -5.4h0M-0.4 -15.1h0M11.2 -6.6h0M-15.0 0.8h0M-10.5 -13.0h0M-4.9 0.2h0M9.5 8.4h0M-8.5 -9.7h0M-0.7 4.9h0M-7.2 -11.2h0M6.9 -14.1h0M8.8 -10.7h0M-7.9 8.0h0M5.0 7.8h0M-2.0 8.3h0M5.7 0.9h0" stroke="rgb(40,40,40)" stroke-width="2.1" stroke-linecap="round"/><path d="M13.3 6.3h0" stroke="rgb(35,35,35)" stroke-width="1.8" stroke-linecap="round"/><path d="M-8.7 -6.5h0M-0.7 2.7h0M4.7 -3.5h0M6.1 3.2h0" stroke="rgb(35,35,35)" stroke-width="2.5" stroke-linecap="round"/><path d="M-10.4 -9.3h0" stroke="rgb(35,35,35)" stroke-width="6.7" stroke-linecap="round"/><path d="M-9.6 -6.8h0M5.6 3.4h0M7.0 8.0h0" stroke="rgb(15,15,15)" stroke-width="1.8" stroke-linecap="round"/><path d="M-2.8 8.9h0M2.4 6.2h0M-2.0 3.4h0M-13.8 6.8h0" stroke="rgb(15,15,15)" stroke-width="2.5" stroke-linecap="round"/><path d="M-4.3 5.5h0M2.2 4.9h0M2.6 -1.7h0M0.2 7.8h0M0.3 8.3h0M8.8 2.5h0M1.4 4.6h0M8.7 -8.7h0M6.7 13.6h0" stroke="rgb(15,15,15)" stroke-width="6.7" stroke-linecap="round"/><path d="M2.2 3.2h0M11.9 5.2h0M-2.9 7.6h0M7.9 4.4h0" stroke="rgb(15,15,15)" stroke-width="3.2" stroke-linecap="round"/></g></g><circle r="17.6" fill="none" stroke="#000" stroke-width="1.9"/></g>
<g transform="translate(108.86,944.80)"><circle r="17.9" fill="rgb(223,223,223)"/><g clip-path="url(#dc)"><g filter="url(#soft2)"><path d="M8.9 10.7h0M-5.5 -4.0h0M-0.7 -2.3h0M1.6 6.5h0M4.0 -5.0h0M-4.3 15.5h0M2.7 -7.6h0" stroke="rgb(213,213,213)" stroke-width="1.4" stroke-linecap="round"/><path d="M0.1 14.5h0M5.4 3.1h0M-2.5 -3.0h0M3.9 5.3h0M3.2 -16.4h0M1.2 4.6h0M-4.9 -4.6h0M-8.1 -11.5h0M-10.8 5.7h0" stroke="rgb(213,213,213)" stroke-width="1.0" stroke-linecap="round"/><path d="M-0.4 -15.0h0M-7.0 5.2h0M-4.2 14.3h0M6.7 6.1h0M-5.8 -10.1h0M6.1 -0.4h0M-9.9 9.2h0" stroke="rgb(205,205,205)" stroke-width="1.0" stroke-linecap="round"/><path d="M-5.0 -10.6h0M-4.5 -13.2h0M12.6 10.5h0M2.3 10.6h0M12.3 -2.8h0M-3.8 15.0h0M9.0 5.2h0M13.4 8.5h0" stroke="rgb(205,205,205)" stroke-width="1.4" stroke-linecap="round"/><path d="M-9.0 2.2h0M-3.7 3.6h0M-4.9 1.3h0M-0.4 -2.8h0M2.1 -13.2h0M12.5 -10.3h0M-9.8 -7.6h0M-2.9 0.4h0" stroke="rgb(197,197,197)" stroke-width="1.4" stroke-linecap="round"/><path d="M2.6 14.1h0M4.7 5.3h0M-6.3 0.5h0M-8.9 -5.4h0M14.0 -4.9h0M0.8 -7.0h0" stroke="rgb(197,197,197)" stroke-width="1.0" stroke-linecap="round"/><path d="M3.6 -8.9h0M5.8 13.1h0M0.5 -5.1h0M8.1 -14.8h0M9.0 -12.6h0M-9.2 9.3h0M3.4 -14.3h0M4.1 15.8h0M10.1 -7.8h0M-5.3 -15.4h0M-8.3 -6.5h0M-4.8 13.8h0M7.6 -3.9h0M-3.5 -11.4h0" stroke="rgb(110,110,110)" stroke-width="1.9" stroke-linecap="round"/><path d="M-5.7 11.2h0M13.8 -0.0h0M-6.8 13.8h0M13.4 -1.2h0M13.8 7.3h0M11.3 -10.8h0M2.5 15.3h0M12.2 4.8h0M9.2 -8.2h0M-7.4 15.3h0M11.4 -6.1h0M-5.9 -3.8h0" stroke="rgb(110,110,110)" stroke-width="0.7" stroke-linecap="round"/><path d="M10.0 -3.0h0M-9.7 8.6h0M-1.9 16.6h0M13.6 -9.4h0M-12.5 7.5h0M6.3 6.4h0M7.6 -1.7h0M7.2 -2.3h0M-10.9 2.5h0M3.0 3.0h0M-12.9 9.2h0M-5.7 -2.5h0M5.1 -3.3h0M-5.8 13.2h0M0.2 -2.9h0M9.9 8.3h0" stroke="rgb(110,110,110)" stroke-width="1.0" stroke-linecap="round"/><path d="M6.8 14.5h0M3.4 5.9h0M-8.9 -1.0h0M-11.3 -5.8h0M9.4 10.3h0M-11.2 -9.8h0M5.7 5.3h0M-9.8 -3.9h0M-0.9 -9.3h0M5.5 13.7h0" stroke="rgb(70,70,70)" stroke-width="1.0" stroke-linecap="round"/><path d="M-10.8 -5.2h0M-14.1 8.5h0M-10.3 -8.4h0M3.5 9.6h0M-6.3 14.1h0M1.7 3.7h0M-9.3 14.0h0M-6.6 -15.5h0M-7.5 -11.5h0M-10.0 -2.3h0M-6.3 -4.5h0M5.6 13.7h0M0.1 -2.9h0M-8.3 -14.7h0M-0.6 -8.9h0M-4.8 11.8h0" stroke="rgb(70,70,70)" stroke-width="1.9" stroke-linecap="round"/><path d="M-3.2 -10.0h0M-9.8 -13.0h0M0.4 -4.8h0M-5.1 -15.8h0M-9.0 -10.8h0M-1.0 6.9h0M-8.5 1.9h0M-14.9 -2.0h0M-8.9 -3.5h0M12.3 4.0h0M12.1 1.8h0M7.4 -0.6h0M11.3 9.5h0M-6.0 -10.9h0M0.3 3.1h0M13.7 -5.9h0M-3.7 5.7h0M-9.9 1.4h0M10.4 -13.2h0M-10.4 9.0h0M7.7 -11.8h0M-7.1 -0.8h0M-2.3 4.9h0" stroke="rgb(70,70,70)" stroke-width="0.7" stroke-linecap="round"/><path d="M9.3 -7.9h0M-4.6 -7.2h0M-13.9 -6.4h0M9.5 0.4h0M-11.6 6.8h0M2.6 -2.6h0M7.0 6.6h0M1.9 -10.9h0M-9.8 5.7h0M-8.3 -7.7h0M-2.9 2.7h0M11.3 -2.0h0M-2.5 -8.0h0M3.2 -15.7h0" stroke="rgb(40,40,40)" stroke-width="0.7" stroke-linecap="round"/><path d="M11.3 8.4h0M-9.7 11.8h0M0.9 -3.0h0M-10.2 1.7h0M12.4 2.8h0M-6.9 -13.5h0M7.9 12.9h0M8.7 -0.3h0M7.9 -7.1h0M2.4 5.5h0M-4.2 -1.0h0M-7.8 -11.4h0M15.6 -4.4h0M1.4 -1.8h0M3.9 -15.4h0M11.3 1.5h0M10.3 5.2h0M-12.1 -6.7h0M9.2 -8.7h0M0.2 6.1h0" stroke="rgb(40,40,40)" stroke-width="1.0" stroke-linecap="round"/><path d="M2.8 -10.9h0M6.2 -6.0h0M9.5 -8.0h0M2.6 6.5h0M15.4 -2.5h0M-11.8 -6.4h0M-2.9 -6.7h0M1.4 7.9h0M-6.1 15.8h0M-0.7 12.1h0M-5.8 10.4h0M-10.0 -6.3h0M-3.5 -9.0h0M-7.1 -4.0h0M-6.7 -6.2h0" stroke="rgb(40,40,40)" stroke-width="1.9" stroke-linecap="round"/><path d="M1.9 -5.8h0M3.2 -1.1h0M9.7 -0.8h0M13.1 -0.8h0" stroke="rgb(35,35,35)" stroke-width="2.5" stroke-linecap="round"/><path d="M2.2 -2.5h0M-2.8 -4.5h0" stroke="rgb(35,35,35)" stroke-width="6.0" stroke-linecap="round"/><path d="M-1.4 -1.1h0" stroke="rgb(35,35,35)" stroke-width="3.2" stroke-linecap="round"/><path d="M-8.7 1.8h0" stroke="rgb(35,35,35)" stroke-width="1.8" stroke-linecap="round"/><path d="M-2.8 -8.7h0M11.5 -1.5h0" stroke="rgb(15,15,15)" stroke-width="2.5" stroke-linecap="round"/><path d="M-4.8 -12.0h0M-0.5 -6.1h0M10.4 2.8h0" stroke="rgb(15,15,15)" stroke-width="1.8" stroke-linecap="round"/><path d="M-13.2 4.2h0M2.1 -4.6h0" stroke="rgb(15,15,15)" stroke-width="3.2" stroke-linecap="round"/><path d="M-1.2 1.2h0" stroke="rgb(15,15,15)" stroke-width="6.0" stroke-linecap="round"/></g></g><circle r="17.6" fill="none" stroke="#000" stroke-width="1.9"/></g>
<g transform="translate(345.90,944.80)"><circle r="17.9" fill="rgb(223,223,223)"/><g clip-path="url(#dc)"><g filter="url(#soft2)"><path d="M11.1 -0.1h0M1.6 -6.6h0M6.9 -14.9h0M4.4 -10.2h0M-3.7 -7.1h0M0.7 8.8h0M3.8 -0.4h0" stroke="rgb(213,213,213)" stroke-width="1.0" stroke-linecap="round"/><path d="M-5.4 -13.2h0M1.2 3.5h0M6.5 2.4h0M12.8 1.3h0M13.0 -8.0h0" stroke="rgb(213,213,213)" stroke-width="1.4" stroke-linecap="round"/><path d="M11.6 5.3h0M7.1 -11.6h0M1.0 -1.7h0M9.7 -1.2h0M-14.7 -1.3h0M-13.6 -9.0h0" stroke="rgb(205,205,205)" stroke-width="1.0" stroke-linecap="round"/><path d="M15.6 -1.6h0M1.7 4.4h0M11.9 -3.3h0M-2.4 -14.9h0M3.7 9.2h0M-10.5 3.0h0M-6.9 -11.7h0M-5.1 2.8h0M-3.7 -5.4h0" stroke="rgb(205,205,205)" stroke-width="1.4" stroke-linecap="round"/><path d="M-7.8 6.9h0M-14.2 -8.0h0M-7.1 9.3h0M7.0 -2.0h0M-3.4 7.1h0M1.2 -2.4h0M8.9 -2.9h0M-3.2 11.4h0M-2.2 11.8h0" stroke="rgb(197,197,197)" stroke-width="1.4" stroke-linecap="round"/><path d="M-13.5 -8.1h0M-4.2 -4.3h0M15.8 1.6h0M14.8 4.1h0M4.2 12.0h0M-8.8 -13.3h0M-11.5 -5.1h0M-2.4 11.4h0M-5.7 -2.6h0" stroke="rgb(197,197,197)" stroke-width="1.0" stroke-linecap="round"/><path d="M-6.8 15.5h0M11.2 -11.7h0M-3.7 14.3h0M-3.9 10.3h0M-6.9 -4.6h0M7.2 1.9h0M-2.4 16.5h0M10.3 7.3h0M5.7 -6.2h0M-8.8 -11.0h0M-5.4 6.1h0M-2.5 15.4h0" stroke="rgb(110,110,110)" stroke-width="2.0" stroke-linecap="round"/><path d="M-14.3 2.1h0M14.1 9.5h0M-1.1 7.5h0M11.9 -6.0h0M-10.2 10.1h0M-13.2 -6.2h0M-13.9 6.9h0M9.9 -11.4h0M1.6 0.9h0M-12.8 -7.2h0M4.7 8.5h0M6.9 -13.7h0M-13.9 -4.8h0M12.8 3.4h0M6.3 -15.4h0M11.7 -5.3h0" stroke="rgb(110,110,110)" stroke-width="0.7" stroke-linecap="round"/><path d="M-13.6 -10.1h0M8.2 5.9h0M10.4 10.4h0M5.5 -5.9h0M-0.6 -14.3h0M-3.7 -4.5h0M-4.5 4.2h0M0.3 10.2h0M4.6 15.5h0M-12.2 5.0h0M-14.2 9.1h0M-3.8 -12.3h0M2.9 -7.6h0M7.1 -4.7h0M15.8 3.8h0M-13.9 -8.8h0M-1.0 -4.2h0" stroke="rgb(110,110,110)" stroke-width="1.0" stroke-linecap="round"/><path d="M-15.3 6.7h0M-9.9 5.5h0M-6.7 -7.1h0M-7.7 7.4h0M-1.6 -2.0h0M0.3 7.3h0M-7.2 15.4h0M16.2 -2.9h0M-2.0 6.6h0M3.9 -15.5h0M-3.2 5.5h0M-2.5 0.9h0M-4.5 -13.6h0M-2.6 4.3h0M-10.4 1.4h0M7.7 -2.9h0M5.2 -14.3h0M-8.1 -4.2h0M5.6 -15.6h0M-1.8 16.3h0" stroke="rgb(70,70,70)" stroke-width="1.0" stroke-linecap="round"/><path d="M9.9 -3.7h0M3.1 16.1h0M1.6 -13.0h0M4.3 -14.0h0M7.9 5.9h0M0.3 9.3h0M-1.6 -1.2h0M1.5 -7.2h0M-6.3 -12.2h0M14.1 -3.9h0M1.1 5.4h0M-4.6 -12.1h0M-6.3 7.1h0M3.3 5.2h0M-12.3 5.4h0M-1.4 14.4h0" stroke="rgb(70,70,70)" stroke-width="0.7" stroke-linecap="round"/><path d="M-5.0 -15.8h0M-12.2 10.6h0M7.6 9.0h0M8.7 9.4h0M2.7 -7.3h0M11.4 -0.5h0M-5.5 3.9h0M2.5 8.8h0M6.9 -8.3h0M11.5 12.5h0M12.0 7.3h0M6.7 0.7h0M11.1 9.2h0" stroke="rgb(70,70,70)" stroke-width="2.0" stroke-linecap="round"/><path d="M16.2 -1.5h0M-6.8 3.8h0M-5.0 2.3h0M-11.1 -5.2h0M4.8 6.2h0M13.3 7.3h0M-8.8 12.5h0M-2.6 -4.8h0M2.3 -0.1h0M6.5 8.0h0M16.0 -1.2h0M4.9 -15.6h0M-5.5 1.5h0M-11.3 -10.8h0M9.9 7.2h0M-13.0 -8.1h0M5.8 -12.1h0M-3.6 13.7h0M-1.6 -9.3h0M8.3 -4.1h0M1.6 -2.8h0M-11.1 -5.2h0M-4.6 -7.1h0M5.3 -7.9h0" stroke="rgb(40,40,40)" stroke-width="1.0" stroke-linecap="round"/><path d="M6.3 -5.5h0M-1.1 -3.7h0M-14.1 6.2h0M-0.7 -8.9h0M10.9 3.6h0M7.3 8.7h0M6.8 -13.3h0M-8.9 12.7h0M10.4 -13.5h0M3.6 13.1h0M11.3 -3.7h0M-14.5 6.3h0M3.7 1.1h0M5.9 2.3h0M-4.7 5.8h0M-12.3 -1.6h0M3.5 -14.5h0M13.1 -10.8h0M2.0 -9.1h0" stroke="rgb(40,40,40)" stroke-width="0.7" stroke-linecap="round"/><path d="M-1.0 -2.1h0M2.9 -0.5h0M-5.8 3.4h0M13.2 5.2h0M9.5 1.5h0M3.3 14.0h0M1.8 4.4h0M10.6 0.7h0M-2.2 5.6h0M0.8 -12.5h0M-3.5 -3.5h0M-3.2 0.1h0M9.9 -13.6h0M6.1 -4.0h0M-11.1 -1.5h0M3.8 -13.8h0M-16.2 5.0h0M9.5 6.4h0M5.8 -3.5h0M1.5 -5.6h0" stroke="rgb(40,40,40)" stroke-width="2.0" stroke-linecap="round"/><path d="M-2.4 0.1h0M-0.2 2.1h0M6.6 2.1h0M-13.4 7.6h0M2.7 0.0h0" stroke="rgb(35,35,35)" stroke-width="3.2" stroke-linecap="round"/><path d="M-6.7 -1.9h0M-3.2 1.6h0" stroke="rgb(35,35,35)" stroke-width="1.8" stroke-linecap="round"/><path d="M-6.8 -0.3h0M-9.4 3.5h0M-1.7 -4.5h0M-5.2 1.2h0M-3.0 -4.7h0M-9.3 5.0h0" stroke="rgb(35,35,35)" stroke-width="6.3" stroke-linecap="round"/><path d="M3.1 0.2h0" stroke="rgb(35,35,35)" stroke-width="2.5" stroke-linecap="round"/><path d="M2.3 -5.1h0" stroke="rgb(15,15,15)" stroke-width="1.8" stroke-linecap="round"/><path d="M4.3 -10.0h0" stroke="rgb(15,15,15)" stroke-width="6.3" stroke-linecap="round"/><path d="M2.2 -7.7h0M-9.3 0.9h0" stroke="rgb(15,15,15)" stroke-width="2.5" stroke-linecap="round"/><path d="M-12.7 0.2h0M-11.3 2.7h0M-8.8 -4.3h0" stroke="rgb(15,15,15)" stroke-width="3.2" stroke-linecap="round"/></g></g><circle r="17.6" fill="none" stroke="#000" stroke-width="1.9"/></g>
<g transform="translate(147.62,944.80)"><circle r="17.9" fill="rgb(223,223,223)"/><g clip-path="url(#dc)"><g filter="url(#soft2)"><path d="M0.6 11.2h0M7.9 -7.6h0M11.5 -6.1h0M-4.3 9.1h0M0.9 12.8h0M-5.4 14.8h0M-6.0 14.0h0" stroke="rgb(213,213,213)" stroke-width="1.0" stroke-linecap="round"/><path d="M-11.9 -6.1h0M7.9 11.5h0M11.4 7.5h0M3.3 -12.1h0M0.4 8.9h0M3.4 -12.9h0" stroke="rgb(213,213,213)" stroke-width="1.4" stroke-linecap="round"/><path d="M9.3 -1.8h0M-15.3 -5.0h0M-3.3 -11.8h0M3.7 6.6h0M-12.6 -7.5h0M-12.7 9.7h0M-11.3 2.8h0M1.6 9.1h0" stroke="rgb(205,205,205)" stroke-width="1.0" stroke-linecap="round"/><path d="M8.6 13.8h0M2.4 1.3h0M10.3 1.4h0M5.0 -14.4h0M-4.6 -12.6h0" stroke="rgb(205,205,205)" stroke-width="1.4" stroke-linecap="round"/><path d="M3.4 8.3h0M2.2 7.7h0M0.2 3.0h0M-6.3 -6.8h0M5.2 3.0h0M1.3 -7.3h0M4.3 0.9h0" stroke="rgb(197,197,197)" stroke-width="1.0" stroke-linecap="round"/><path d="M-10.1 -2.8h0M10.1 -12.5h0M-4.5 -7.9h0M5.2 9.1h0M0.1 8.4h0M4.4 -8.7h0M-6.9 8.6h0M13.2 10.3h0M-13.5 3.7h0M1.3 0.1h0M0.7 16.0h0M6.8 -13.6h0" stroke="rgb(197,197,197)" stroke-width="1.4" stroke-linecap="round"/><path d="M-7.1 9.6h0M-9.4 -1.3h0M-1.6 11.9h0M-9.3 -12.6h0M-0.6 -14.7h0M-11.6 5.9h0M15.9 4.0h0M-13.4 0.8h0M14.6 0.0h0M-9.0 3.1h0M-8.8 3.9h0M4.4 -4.0h0" stroke="rgb(110,110,110)" stroke-width="1.0" stroke-linecap="round"/><path d="M11.2 -2.6h0M-15.3 7.3h0M-10.2 8.9h0M10.9 -11.8h0M-11.2 -7.3h0M-9.2 13.1h0M6.6 -7.5h0" stroke="rgb(110,110,110)" stroke-width="1.8" stroke-linecap="round"/><path d="M11.9 0.1h0M10.9 -5.4h0M0.3 2.8h0M9.3 6.4h0M-2.1 -9.0h0M-4.0 -0.3h0M5.8 -15.4h0M4.3 3.3h0M3.0 -9.8h0M-9.5 5.4h0M-9.6 3.8h0M-8.2 2.6h0M-4.5 -11.9h0" stroke="rgb(110,110,110)" stroke-width="0.7" stroke-linecap="round"/><path d="M-12.0 11.5h0M-8.0 -7.0h0M9.4 -9.0h0M7.3 2.1h0M13.3 9.2h0M-0.9 -0.8h0M-1.3 -7.4h0M-8.0 4.8h0M0.4 6.1h0M6.3 2.2h0M-8.9 -13.1h0M4.9 15.2h0M-10.3 10.4h0" stroke="rgb(70,70,70)" stroke-width="1.0" stroke-linecap="round"/><path d="M-5.0 15.0h0M-0.9 -12.3h0M2.3 16.5h0M2.2 5.0h0M1.4 -14.2h0M-13.4 -9.0h0M3.4 -15.1h0M-7.0 -6.9h0M3.4 -9.8h0M8.7 10.1h0" stroke="rgb(70,70,70)" stroke-width="1.8" stroke-linecap="round"/><path d="M1.9 7.4h0M1.5 11.1h0M-15.7 5.6h0M-5.8 -7.5h0M-3.1 5.7h0M-4.5 11.2h0M8.8 -5.8h0" stroke="rgb(70,70,70)" stroke-width="0.7" stroke-linecap="round"/><path d="M5.3 -0.8h0M9.9 -12.7h0M-7.0 -8.4h0M-7.4 7.8h0M0.9 -7.2h0M10.5 -2.8h0M8.4 -9.3h0M-4.3 3.3h0M-9.6 13.1h0M-0.3 17.0h0M9.7 -3.8h0M-12.5 11.3h0M14.5 7.6h0" stroke="rgb(40,40,40)" stroke-width="0.7" stroke-linecap="round"/><path d="M2.2 -1.4h0M5.9 -2.9h0M-5.8 -2.4h0M-2.8 -16.3h0M12.7 5.4h0M11.4 12.4h0M-9.3 7.5h0M-9.0 9.2h0M14.5 -3.7h0M4.5 2.4h0M-14.5 8.1h0M-9.1 3.7h0M3.7 6.9h0M13.2 -10.4h0M9.6 4.3h0M-4.4 1.8h0M-10.3 -9.8h0" stroke="rgb(40,40,40)" stroke-width="1.0" stroke-linecap="round"/><path d="M-10.9 -6.1h0M0.4 4.3h0M10.4 0.9h0M-10.8 -10.7h0M-5.3 8.0h0M4.7 5.7h0M7.0 -4.4h0M-15.5 0.4h0M-8.9 -13.7h0M5.5 7.0h0M2.1 -10.3h0M5.8 -7.6h0M-0.8 11.8h0M12.4 9.2h0" stroke="rgb(40,40,40)" stroke-width="1.8" stroke-linecap="round"/><path d="M-2.6 6.7h0M3.8 5.7h0" stroke="rgb(35,35,35)" stroke-width="5.3" stroke-linecap="round"/><path d="M-5.5 6.1h0" stroke="rgb(35,35,35)" stroke-width="2.5" stroke-linecap="round"/><path d="M-2.7 8.2h0M-1.7 5.7h0" stroke="rgb(35,35,35)" stroke-width="3.2" stroke-linecap="round"/><path d="M-1.6 1.3h0M-8.9 -4.5h0M12.5 8.8h0" stroke="rgb(15,15,15)" stroke-width="3.2" stroke-linecap="round"/><path d="M-5.0 9.3h0" stroke="rgb(15,15,15)" stroke-width="2.5" stroke-linecap="round"/></g></g><circle r="17.6" fill="none" stroke="#000" stroke-width="1.9"/></g>
<g transform="translate(384.80,944.80)"><circle r="17.9" fill="rgb(223,223,223)"/><g clip-path="url(#dc)"><g filter="url(#soft2)"><path d="M-9.1 -1.1h0M10.2 -4.1h0M-7.3 6.2h0M8.9 9.8h0M-12.1 11.7h0M12.9 -4.3h0M1.2 -11.4h0M8.6 -8.4h0" stroke="rgb(213,213,213)" stroke-width="1.0" stroke-linecap="round"/><path d="M-5.5 6.4h0M9.9 10.1h0M-14.9 4.6h0M4.8 -2.3h0" stroke="rgb(213,213,213)" stroke-width="1.4" stroke-linecap="round"/><path d="M0.9 -15.3h0M-1.4 0.8h0M4.8 1.5h0M-0.1 14.9h0M-1.8 -15.7h0M12.1 -4.3h0" stroke="rgb(205,205,205)" stroke-width="1.0" stroke-linecap="round"/><path d="M-1.9 13.5h0M0.4 9.9h0M-1.6 -1.6h0M-1.4 7.8h0M-13.1 6.3h0M-9.3 12.0h0M1.1 12.8h0M-4.2 5.5h0" stroke="rgb(205,205,205)" stroke-width="1.4" stroke-linecap="round"/><path d="M14.2 4.8h0M0.2 13.8h0M-14.5 -4.0h0M-5.9 -11.8h0M11.2 -11.8h0M10.1 1.8h0M-1.8 -12.0h0M-12.8 -3.6h0M-16.2 3.1h0M-4.4 -7.3h0M-1.9 0.8h0M5.8 -15.4h0M-1.7 -13.5h0M-13.2 -5.8h0" stroke="rgb(197,197,197)" stroke-width="1.4" stroke-linecap="round"/><path d="M-5.2 -4.2h0M-6.7 12.7h0M-8.6 3.6h0M-15.9 0.9h0M-12.8 3.8h0" stroke="rgb(197,197,197)" stroke-width="1.0" stroke-linecap="round"/><path d="M-12.1 -5.3h0M11.8 -8.1h0M-5.0 -15.9h0M3.5 13.8h0M-0.6 -13.5h0M4.1 3.1h0M11.5 -11.6h0M-14.1 -9.4h0M5.9 2.8h0M12.9 5.5h0M-8.8 2.2h0M-7.2 -7.0h0M-4.8 -3.9h0M-12.2 4.3h0M-1.1 -5.2h0M-6.1 -7.6h0M-10.4 -8.1h0M-13.4 2.7h0" stroke="rgb(110,110,110)" stroke-width="0.7" stroke-linecap="round"/><path d="M12.5 5.1h0M-2.6 7.5h0M-6.0 -2.0h0M-7.9 11.3h0M3.8 -1.5h0M4.4 0.9h0M3.5 0.5h0M-6.2 -5.8h0M-3.7 -10.2h0M-13.0 -4.8h0M-7.7 1.6h0M-11.2 -4.2h0M8.3 7.0h0M-10.7 -4.5h0M12.6 -5.1h0M8.1 -5.3h0M-0.7 8.1h0" stroke="rgb(110,110,110)" stroke-width="1.9" stroke-linecap="round"/><path d="M3.1 -10.8h0M-4.7 9.5h0M-9.1 -8.4h0M-6.7 7.3h0M-4.4 -13.0h0M-0.4 -9.3h0M-2.9 -13.6h0M-6.1 -15.7h0M-10.9 -11.7h0M3.4 4.7h0M0.3 -0.8h0M-5.8 -14.6h0M-6.7 -3.1h0M-3.0 8.1h0M7.2 -5.7h0M11.7 5.3h0" stroke="rgb(110,110,110)" stroke-width="1.0" stroke-linecap="round"/><path d="M-15.0 -2.5h0M-8.8 5.3h0M13.6 2.6h0M-10.0 1.7h0M-0.3 -2.7h0M4.7 10.8h0M-8.9 7.0h0M-6.3 8.2h0M0.1 13.4h0M-5.5 -12.5h0M-16.0 5.7h0M-3.7 -2.0h0" stroke="rgb(70,70,70)" stroke-width="0.7" stroke-linecap="round"/><path d="M0.6 1.7h0M2.6 -13.8h0M-7.3 -14.0h0M-5.6 -5.0h0M-13.1 8.5h0M-13.4 -3.1h0M-12.1 1.8h0M14.6 7.1h0M-14.4 3.8h0M3.4 -13.7h0M1.1 8.7h0M4.8 2.7h0M-11.0 -7.3h0" stroke="rgb(70,70,70)" stroke-width="1.9" stroke-linecap="round"/><path d="M5.9 0.0h0M10.6 -9.8h0M14.8 5.9h0M-2.4 3.5h0M11.0 3.2h0M-1.6 6.9h0M-8.4 -1.3h0M-10.2 -8.0h0M-11.2 6.8h0M-10.8 6.5h0M-15.7 3.7h0M-16.4 -2.6h0M6.4 15.1h0" stroke="rgb(70,70,70)" stroke-width="1.0" stroke-linecap="round"/><path d="M-11.1 7.1h0M-10.3 4.2h0M-8.9 4.2h0M-7.7 9.5h0M1.5 8.3h0M-16.0 -0.3h0M-8.5 -12.1h0M11.2 -2.0h0M-0.5 13.3h0M14.4 7.9h0M4.7 3.8h0" stroke="rgb(40,40,40)" stroke-width="1.9" stroke-linecap="round"/><path d="M-14.6 -3.7h0M-7.0 2.0h0M-6.4 -11.7h0M7.6 6.9h0M-9.0 2.7h0M0.8 13.2h0M0.6 -14.0h0M2.4 5.4h0M9.1 7.9h0M-6.9 0.9h0M1.9 1.7h0M3.4 11.9h0M5.5 -2.0h0" stroke="rgb(40,40,40)" stroke-width="1.0" stroke-linecap="round"/><path d="M-6.9 -12.4h0M-3.2 1.9h0M2.9 -2.3h0M-3.5 8.9h0M-13.9 6.0h0M-15.6 6.1h0M-2.6 -4.4h0M9.1 4.0h0M14.5 -3.9h0" stroke="rgb(40,40,40)" stroke-width="0.7" stroke-linecap="round"/><path d="M5.4 -5.7h0M14.7 -0.5h0M7.1 8.3h0M1.1 -0.9h0" stroke="rgb(35,35,35)" stroke-width="2.5" stroke-linecap="round"/><path d="M-9.2 10.3h0" stroke="rgb(35,35,35)" stroke-width="3.2" stroke-linecap="round"/><path d="M5.1 -12.7h0" stroke="rgb(35,35,35)" stroke-width="5.7" stroke-linecap="round"/><path d="M4.6 4.5h0M10.9 -4.2h0" stroke="rgb(15,15,15)" stroke-width="3.2" stroke-linecap="round"/><path d="M8.9 -1.7h0M9.0 -3.7h0" stroke="rgb(15,15,15)" stroke-width="5.7" stroke-linecap="round"/><path d="M7.0 -3.0h0" stroke="rgb(15,15,15)" stroke-width="1.8" stroke-linecap="round"/><path d="M7.8 -0.7h0" stroke="rgb(15,15,15)" stroke-width="2.5" stroke-linecap="round"/></g></g><circle r="17.6" fill="none" stroke="#000" stroke-width="1.9"/></g>
<g transform="translate(186.38,944.80)"><circle r="17.9" fill="rgb(223,223,223)"/><g clip-path="url(#dc)"><g filter="url(#soft2)"><path d="M16.0 -3.3h0M-0.5 3.6h0M-0.0 10.9h0M-9.9 8.1h0M-0.5 0.4h0M12.6 0.1h0M-15.6 -5.6h0M-12.2 3.9h0M1.2 -13.1h0M9.2 6.5h0" stroke="rgb(213,213,213)" stroke-width="1.0" stroke-linecap="round"/><path d="M4.4 14.7h0M-4.1 4.2h0M-5.4 -11.5h0M-8.1 12.5h0M-3.2 2.5h0M10.7 -12.6h0M-10.9 -3.8h0" stroke="rgb(213,213,213)" stroke-width="1.4" stroke-linecap="round"/><path d="M-9.7 -0.3h0M1.9 1.7h0M7.0 12.5h0M7.8 -9.8h0M-2.8 12.0h0" stroke="rgb(205,205,205)" stroke-width="1.4" stroke-linecap="round"/><path d="M7.0 -4.9h0M7.7 -13.6h0M3.4 -12.1h0M6.0 4.6h0M9.5 -12.7h0" stroke="rgb(205,205,205)" stroke-width="1.0" stroke-linecap="round"/><path d="M2.9 0.8h0M-5.2 -5.3h0M-7.6 10.3h0M2.1 12.7h0M-0.8 -11.9h0M6.6 8.8h0M0.4 7.1h0M2.4 4.3h0M-4.2 13.6h0M1.4 4.3h0M4.8 -1.5h0" stroke="rgb(197,197,197)" stroke-width="1.4" stroke-linecap="round"/><path d="M-5.1 -7.3h0M0.0 5.8h0M-8.2 -7.9h0M-1.4 11.7h0M-15.0 -3.6h0M8.0 14.3h0M-4.7 -10.6h0" stroke="rgb(197,197,197)" stroke-width="1.0" stroke-linecap="round"/><path d="M4.0 -1.9h0M9.1 4.0h0M9.4 -13.0h0M-9.2 3.7h0M7.8 -8.5h0M11.5 6.8h0M0.2 2.2h0M14.9 -5.0h0M13.0 4.5h0M-2.4 16.3h0M-0.7 -0.6h0M-4.9 -7.0h0M10.9 7.0h0M-11.4 -7.5h0M-1.4 -11.6h0M-4.0 -12.8h0M12.9 -3.0h0M0.3 -10.6h0M12.5 7.6h0M12.6 2.2h0" stroke="rgb(110,110,110)" stroke-width="1.7" stroke-linecap="round"/><path d="M-4.0 6.2h0M-13.4 2.9h0M-3.7 -6.7h0M-3.6 3.4h0M-8.3 -7.3h0" stroke="rgb(110,110,110)" stroke-width="0.7" stroke-linecap="round"/><path d="M-11.9 4.8h0M-10.8 -11.0h0M2.3 -14.2h0M4.8 7.5h0M11.0 -4.4h0M3.1 -0.2h0M5.6 -4.5h0M13.1 2.7h0M7.8 8.1h0M10.5 8.7h0M6.8 -9.6h0" stroke="rgb(110,110,110)" stroke-width="1.0" stroke-linecap="round"/><path d="M14.9 4.7h0M-0.1 -11.8h0M8.4 1.3h0M5.9 -15.9h0M-9.4 -12.0h0M-11.1 4.6h0" stroke="rgb(70,70,70)" stroke-width="0.7" stroke-linecap="round"/><path d="M0.7 16.1h0M8.4 -11.8h0M-1.7 4.9h0M-12.2 -3.8h0M5.5 -8.6h0M0.8 -16.8h0M-4.1 10.2h0M-12.9 -4.0h0" stroke="rgb(70,70,70)" stroke-width="1.0" stroke-linecap="round"/><path d="M-16.5 -1.4h0M3.3 7.0h0M8.0 -8.6h0M0.7 0.5h0M11.9 2.1h0M7.3 -11.1h0M-8.0 3.9h0M7.0 -8.6h0M1.7 16.7h0M-11.4 -11.8h0" stroke="rgb(70,70,70)" stroke-width="1.7" stroke-linecap="round"/><path d="M8.3 -0.8h0M7.7 14.0h0M9.9 -9.7h0M10.5 2.2h0M2.3 -7.6h0M-11.2 5.7h0M-15.7 2.6h0M-8.2 -5.3h0M-16.7 1.6h0M-3.8 8.6h0M12.1 4.6h0" stroke="rgb(40,40,40)" stroke-width="1.7" stroke-linecap="round"/><path d="M-3.9 -6.5h0M-4.8 -4.7h0M9.3 11.8h0M6.5 -11.1h0M10.6 -12.7h0M3.3 -9.3h0M8.1 -1.6h0M5.9 -14.7h0M12.5 -7.0h0M-12.8 -8.2h0M8.6 1.8h0" stroke="rgb(40,40,40)" stroke-width="0.7" stroke-linecap="round"/><path d="M11.1 12.4h0M8.4 4.4h0M3.8 -3.0h0M14.7 -2.1h0M6.7 -6.7h0M-13.7 -7.8h0M-0.2 7.0h0" stroke="rgb(40,40,40)" stroke-width="1.0" stroke-linecap="round"/><path d="M-6.1 3.3h0" stroke="rgb(35,35,35)" stroke-width="2.5" stroke-linecap="round"/><path d="M-9.1 -4.4h0" stroke="rgb(35,35,35)" stroke-width="1.8" stroke-linecap="round"/><path d="M-2.0 7.7h0" stroke="rgb(35,35,35)" stroke-width="5.0" stroke-linecap="round"/><path d="M10.4 9.1h0M-0.3 0.5h0" stroke="rgb(15,15,15)" stroke-width="2.5" stroke-linecap="round"/><path d="M-2.1 3.4h0" stroke="rgb(15,15,15)" stroke-width="5.0" stroke-linecap="round"/></g></g><circle r="17.6" fill="none" stroke="#000" stroke-width="1.9"/></g>
<g transform="translate(423.70,944.80)"><circle r="17.9" fill="rgb(223,223,223)"/><g clip-path="url(#dc)"><g filter="url(#soft2)"><path d="M-8.8 -11.8h0M10.2 0.1h0M0.6 -2.0h0M-8.0 6.0h0M10.1 -4.0h0M9.8 9.9h0M-4.0 1.5h0M2.9 -12.8h0M-5.4 13.2h0M5.5 0.3h0M7.4 7.9h0" stroke="rgb(213,213,213)" stroke-width="1.4" stroke-linecap="round"/><path d="M-7.2 6.3h0M-14.9 7.7h0M14.1 7.4h0" stroke="rgb(213,213,213)" stroke-width="1.0" stroke-linecap="round"/><path d="M-6.8 12.8h0M9.6 -6.9h0M-4.0 0.6h0M-10.0 6.0h0M15.2 -4.8h0M-4.1 -11.9h0" stroke="rgb(205,205,205)" stroke-width="1.0" stroke-linecap="round"/><path d="M-0.6 -14.1h0M-9.8 -2.6h0M-1.3 6.4h0M-5.1 15.1h0M-0.5 -13.6h0M-1.9 -10.5h0M-0.6 -6.9h0" stroke="rgb(205,205,205)" stroke-width="1.4" stroke-linecap="round"/><path d="M-10.6 7.2h0M-14.3 1.2h0M-5.0 -12.0h0M9.7 12.3h0M13.1 -1.7h0M-9.7 8.2h0M15.3 7.0h0M4.9 -12.7h0" stroke="rgb(197,197,197)" stroke-width="1.0" stroke-linecap="round"/><path d="M2.8 -10.5h0M-14.7 -0.2h0M15.5 -5.6h0M7.9 -9.4h0M-4.3 9.4h0M11.4 6.3h0M-0.3 -12.7h0M6.0 -1.3h0M4.2 -8.7h0M-3.3 2.2h0" stroke="rgb(197,197,197)" stroke-width="1.4" stroke-linecap="round"/><path d="M9.9 3.6h0M-4.6 13.0h0M7.2 -5.9h0M0.6 8.8h0M-9.9 2.6h0M1.3 -8.6h0M-5.8 9.3h0M9.5 -6.3h0M-6.0 -1.7h0M-8.0 8.3h0M-14.9 8.2h0M-9.8 -6.8h0" stroke="rgb(110,110,110)" stroke-width="0.7" stroke-linecap="round"/><path d="M-8.2 -1.2h0M-16.2 -4.6h0M2.1 10.2h0M14.0 -9.1h0M-6.6 -4.4h0M-7.9 10.9h0M-1.8 -16.4h0M3.3 -16.2h0M-6.3 7.6h0M-3.4 -5.9h0M-10.8 -13.1h0M4.7 9.0h0M9.4 -1.8h0" stroke="rgb(110,110,110)" stroke-width="1.8" stroke-linecap="round"/><path d="M7.0 8.9h0M-1.0 5.9h0M-8.9 -3.2h0M7.1 -0.4h0M7.5 5.4h0M-7.9 -2.4h0M8.9 -3.2h0M10.6 1.7h0M-12.2 10.5h0M-5.6 0.9h0M2.8 5.3h0" stroke="rgb(110,110,110)" stroke-width="1.0" stroke-linecap="round"/><path d="M-0.3 9.6h0M1.6 -7.6h0M-10.7 -0.2h0M-14.9 -0.6h0M-4.5 16.2h0M14.2 0.4h0M-10.5 -8.8h0M-16.0 3.4h0M9.9 3.3h0" stroke="rgb(70,70,70)" stroke-width="1.8" stroke-linecap="round"/><path d="M-4.3 -12.8h0M-0.8 -12.4h0M10.6 -6.9h0M-11.1 -9.2h0M15.5 4.4h0M-4.5 -12.0h0M9.9 11.4h0M10.6 11.2h0M-5.2 -11.9h0M7.7 -13.5h0M-15.9 2.6h0M-8.3 12.2h0M-6.5 -8.8h0M-1.2 3.7h0M-2.5 -11.4h0M-12.1 -6.2h0" stroke="rgb(70,70,70)" stroke-width="1.0" stroke-linecap="round"/><path d="M12.0 -1.7h0M-0.3 0.4h0M5.3 8.5h0M7.1 2.3h0M-8.2 2.0h0M11.6 -4.6h0M9.2 -5.3h0M-10.9 -8.1h0M-4.0 15.1h0M-13.8 -1.4h0M-13.1 -2.5h0M9.7 11.8h0M5.8 -2.8h0M0.8 -6.4h0M-5.0 -0.8h0M-10.4 4.5h0" stroke="rgb(70,70,70)" stroke-width="0.7" stroke-linecap="round"/><path d="M-1.0 -10.9h0M6.7 -1.6h0M12.5 6.4h0M8.5 7.5h0M-0.1 6.8h0M-10.2 -10.5h0M-8.1 3.5h0M-14.3 4.9h0" stroke="rgb(40,40,40)" stroke-width="1.0" stroke-linecap="round"/><path d="M-3.3 -9.8h0M-14.0 -7.7h0M-6.0 13.8h0M-1.7 -4.5h0M3.3 7.1h0M-3.0 -16.7h0M2.6 -15.2h0M13.8 8.4h0M14.6 -6.7h0M-1.9 -3.7h0M7.6 -0.5h0" stroke="rgb(40,40,40)" stroke-width="1.8" stroke-linecap="round"/><path d="M-11.8 -5.8h0M-6.4 12.7h0M-9.0 1.4h0M-1.0 -13.0h0M-0.3 0.1h0M4.5 -13.0h0M-12.3 1.7h0M10.3 12.8h0M5.1 -12.7h0M-6.0 -3.8h0" stroke="rgb(40,40,40)" stroke-width="0.7" stroke-linecap="round"/><path d="M-2.8 7.8h0" stroke="rgb(35,35,35)" stroke-width="3.2" stroke-linecap="round"/><path d="M-5.1 -4.0h0" stroke="rgb(35,35,35)" stroke-width="5.3" stroke-linecap="round"/><path d="M9.1 2.0h0M-2.8 3.1h0M13.3 2.2h0" stroke="rgb(15,15,15)" stroke-width="5.3" stroke-linecap="round"/><path d="M12.3 7.2h0M-3.6 1.7h0M1.7 -4.5h0" stroke="rgb(15,15,15)" stroke-width="1.8" stroke-linecap="round"/><path d="M-5.0 7.7h0" stroke="rgb(15,15,15)" stroke-width="2.5" stroke-linecap="round"/></g></g><circle r="17.6" fill="none" stroke="#000" stroke-width="1.9"/></g>
<g transform="translate(225.14,944.80)"><circle r="17.9" fill="rgb(223,223,223)"/><g clip-path="url(#dc)"><g filter="url(#soft2)"><path d="M-3.0 -4.8h0M13.5 -7.2h0M15.2 -4.9h0" stroke="rgb(213,213,213)" stroke-width="1.4" stroke-linecap="round"/><path d="M-3.7 4.6h0M-3.7 11.9h0M12.7 -7.8h0" stroke="rgb(213,213,213)" stroke-width="1.0" stroke-linecap="round"/><path d="M-11.2 3.8h0M8.5 -7.4h0M11.4 -12.1h0M-6.9 -15.0h0M1.8 3.4h0M9.7 8.0h0M-8.9 5.9h0M-7.1 2.4h0M10.6 12.1h0M-10.4 -5.0h0M3.9 6.6h0" stroke="rgb(205,205,205)" stroke-width="1.0" stroke-linecap="round"/><path d="M-10.2 -11.1h0M9.6 8.8h0M13.6 -9.7h0M-9.8 1.7h0M4.1 -7.3h0M9.9 8.9h0M1.1 -10.0h0M-12.6 -9.9h0" stroke="rgb(205,205,205)" stroke-width="1.4" stroke-linecap="round"/><path d="M-6.1 -14.1h0M-6.2 -6.4h0M-4.6 -9.5h0M12.9 2.6h0M0.2 -1.9h0M5.5 9.2h0M-5.0 -14.5h0M11.6 -1.2h0M-1.6 -11.5h0M6.2 -10.2h0M13.7 0.7h0M4.0 8.0h0M-1.2 -15.7h0" stroke="rgb(197,197,197)" stroke-width="1.4" stroke-linecap="round"/><path d="M-6.4 7.6h0M9.5 12.2h0M-8.8 -13.8h0M7.2 -13.2h0M11.5 -6.9h0M7.0 -5.9h0M-5.0 -10.8h0" stroke="rgb(197,197,197)" stroke-width="1.0" stroke-linecap="round"/><path d="M2.4 2.4h0M-8.0 -8.4h0M-3.0 14.1h0M5.9 -9.9h0M4.5 -4.2h0M14.9 6.7h0M16.1 1.2h0M8.3 -5.2h0M8.2 -4.7h0M10.1 5.5h0" stroke="rgb(110,110,110)" stroke-width="0.7" stroke-linecap="round"/><path d="M-1.6 4.7h0M11.3 10.6h0M8.0 -5.5h0M6.6 -8.0h0M8.2 5.9h0M-6.9 10.4h0M-7.9 3.6h0M-0.7 10.4h0M15.2 -0.9h0M0.0 -14.6h0M-11.0 9.5h0M-8.0 -13.0h0" stroke="rgb(110,110,110)" stroke-width="1.6" stroke-linecap="round"/><path d="M-5.9 9.8h0M10.7 3.8h0M-15.4 5.1h0M-0.4 -1.9h0M-8.0 -10.4h0" stroke="rgb(110,110,110)" stroke-width="1.0" stroke-linecap="round"/><path d="M6.6 -14.3h0M2.5 -7.2h0M5.6 9.6h0M-14.4 -2.5h0" stroke="rgb(70,70,70)" stroke-width="0.7" stroke-linecap="round"/><path d="M-9.5 8.7h0M-8.3 7.9h0M-7.3 9.7h0M-3.9 -9.8h0M3.1 6.2h0M-8.5 -5.1h0M-12.1 -11.4h0M-4.1 2.5h0" stroke="rgb(70,70,70)" stroke-width="1.6" stroke-linecap="round"/><path d="M5.2 1.9h0M-8.2 -14.2h0M-13.9 -4.9h0M-5.9 9.7h0M-6.9 -8.4h0M16.3 -3.7h0M6.4 -13.7h0M10.0 11.4h0M-2.0 -0.5h0M9.8 -8.6h0M-12.1 0.1h0M10.9 3.5h0M10.7 -0.2h0M8.2 -8.1h0M-4.7 5.5h0" stroke="rgb(70,70,70)" stroke-width="1.0" stroke-linecap="round"/><path d="M-6.2 15.7h0M9.9 -4.6h0M-12.0 -11.1h0M12.5 -0.4h0M-5.1 6.8h0" stroke="rgb(40,40,40)" stroke-width="0.7" stroke-linecap="round"/><path d="M-7.9 11.4h0M3.8 -11.0h0M-10.4 10.7h0M-3.5 -16.6h0M3.2 8.2h0M-6.5 -11.1h0M11.0 -8.2h0M13.2 -8.0h0M1.5 15.1h0" stroke="rgb(40,40,40)" stroke-width="1.0" stroke-linecap="round"/><path d="M-14.1 -2.7h0M1.9 2.5h0M-15.8 2.3h0M6.6 -2.8h0" stroke="rgb(40,40,40)" stroke-width="1.6" stroke-linecap="round"/><path d="M-0.3 -1.2h0" stroke="rgb(35,35,35)" stroke-width="1.8" stroke-linecap="round"/><path d="M0.7 1.5h0" stroke="rgb(15,15,15)" stroke-width="2.5" stroke-linecap="round"/><path d="M5.5 4.5h0" stroke="rgb(15,15,15)" stroke-width="4.6" stroke-linecap="round"/><path d="M6.6 2.0h0" stroke="rgb(15,15,15)" stroke-width="3.2" stroke-linecap="round"/></g></g><circle r="17.6" fill="none" stroke="#000" stroke-width="1.9"/></g>
<g transform="translate(462.60,944.80)"><circle r="17.9" fill="rgb(223,223,223)"/><g clip-path="url(#dc)"><g filter="url(#soft2)"><path d="M-5.9 9.2h0M-12.0 -8.0h0M7.9 -8.2h0M-11.6 -7.5h0M12.3 1.5h0M12.7 10.8h0M1.9 -1.0h0" stroke="rgb(213,213,213)" stroke-width="1.0" stroke-linecap="round"/><path d="M10.8 10.0h0M12.6 -5.9h0M-4.6 7.3h0M5.3 11.7h0M-2.6 -14.8h0M-2.0 -6.2h0M3.3 14.6h0M12.4 -9.6h0M-7.5 5.2h0" stroke="rgb(213,213,213)" stroke-width="1.4" stroke-linecap="round"/><path d="M8.4 -2.6h0M0.0 -11.3h0M-15.4 -3.3h0M-1.8 -9.9h0M5.7 -4.3h0M-8.2 -11.6h0" stroke="rgb(205,205,205)" stroke-width="1.0" stroke-linecap="round"/><path d="M-4.2 15.3h0M15.1 -2.2h0M7.6 -6.6h0M5.9 8.0h0M7.9 6.4h0M-9.3 13.6h0M-12.8 -6.1h0M13.7 3.8h0M-3.3 -7.4h0M-4.7 -10.9h0M-13.1 9.2h0" stroke="rgb(205,205,205)" stroke-width="1.4" stroke-linecap="round"/><path d="M8.3 7.8h0M3.7 -10.2h0M-5.2 8.0h0M-3.5 15.3h0M6.2 -12.4h0M5.3 -4.1h0M15.9 -2.7h0M13.8 0.6h0" stroke="rgb(197,197,197)" stroke-width="1.4" stroke-linecap="round"/><path d="M-7.6 -9.6h0M-3.2 5.9h0M-0.1 8.2h0M1.7 5.1h0" stroke="rgb(197,197,197)" stroke-width="1.0" stroke-linecap="round"/><path d="M1.6 -10.4h0M-12.1 -11.5h0M-13.3 -3.2h0M-1.5 16.9h0M-5.8 0.6h0" stroke="rgb(110,110,110)" stroke-width="0.7" stroke-linecap="round"/><path d="M0.3 -12.0h0M2.6 -14.3h0M-9.4 8.6h0M-12.5 -10.2h0M-4.9 10.5h0" stroke="rgb(110,110,110)" stroke-width="1.0" stroke-linecap="round"/><path d="M-9.1 -9.9h0M9.7 1.8h0M10.6 -12.8h0M-6.8 -14.2h0M-8.2 -13.1h0M0.8 16.0h0" stroke="rgb(110,110,110)" stroke-width="1.5" stroke-linecap="round"/><path d="M8.9 11.2h0M10.2 -12.6h0M-1.7 -14.9h0M-0.0 7.6h0M4.4 15.8h0M-13.0 3.6h0M9.5 10.6h0" stroke="rgb(70,70,70)" stroke-width="1.0" stroke-linecap="round"/><path d="M-6.3 4.2h0M11.8 10.9h0M-0.1 10.4h0M-3.6 12.1h0M-11.9 -2.5h0" stroke="rgb(70,70,70)" stroke-width="1.5" stroke-linecap="round"/><path d="M0.0 -8.3h0M7.3 -14.2h0M12.8 7.8h0" stroke="rgb(70,70,70)" stroke-width="0.7" stroke-linecap="round"/><path d="M2.1 -11.0h0M3.3 -1.9h0M-5.8 -11.7h0M14.4 6.0h0" stroke="rgb(40,40,40)" stroke-width="1.5" stroke-linecap="round"/><path d="M-10.5 -8.8h0M10.4 1.3h0M1.3 -16.6h0M11.2 -0.3h0M13.1 9.6h0M-6.4 4.2h0M-0.1 -5.8h0M-12.5 9.0h0" stroke="rgb(40,40,40)" stroke-width="1.0" stroke-linecap="round"/><path d="M-9.3 -6.9h0M-1.5 -9.0h0M-0.4 10.1h0" stroke="rgb(40,40,40)" stroke-width="0.7" stroke-linecap="round"/><path d="M9.2 -0.5h0" stroke="rgb(15,15,15)" stroke-width="1.8" stroke-linecap="round"/></g></g><circle r="17.6" fill="none" stroke="#000" stroke-width="1.9"/></g>
<g transform="translate(263.90,944.80)"><circle r="17.9" fill="rgb(223,223,223)"/><g clip-path="url(#dc)"><g filter="url(#soft2)"><path d="M-14.8 2.7h0M-5.8 -10.4h0M3.7 14.2h0M7.9 6.8h0M4.5 1.4h0M5.6 -13.7h0M-1.3 -0.8h0M2.8 12.8h0M-16.8 -0.2h0" stroke="rgb(213,213,213)" stroke-width="1.4" stroke-linecap="round"/><path d="M-11.8 7.8h0M0.2 8.0h0M-5.6 10.3h0M8.9 5.5h0M-12.0 11.4h0M6.0 -4.7h0M14.2 6.0h0" stroke="rgb(213,213,213)" stroke-width="1.0" stroke-linecap="round"/><path d="M9.9 -0.3h0M-8.8 -2.4h0M-1.1 -7.1h0M-6.6 10.8h0M-9.8 -11.2h0M-7.7 7.8h0M-4.3 0.6h0M7.0 -13.5h0M-0.0 -8.6h0M5.5 13.7h0M7.5 -1.8h0" stroke="rgb(205,205,205)" stroke-width="1.0" stroke-linecap="round"/><path d="M5.7 -1.1h0M-4.6 6.1h0M9.2 11.1h0" stroke="rgb(205,205,205)" stroke-width="1.4" stroke-linecap="round"/><path d="M-9.2 -11.0h0M-0.7 12.9h0M-5.9 -15.3h0M-3.5 -10.6h0M5.7 -14.8h0M-1.9 -4.0h0M-16.0 -4.2h0M4.7 -12.2h0M-1.5 1.2h0" stroke="rgb(197,197,197)" stroke-width="1.0" stroke-linecap="round"/><path d="M11.8 -9.5h0M3.5 -2.4h0M-10.8 -11.5h0M-15.7 -5.8h0M4.1 2.4h0M7.3 13.8h0" stroke="rgb(197,197,197)" stroke-width="1.4" stroke-linecap="round"/><path d="M5.8 -6.4h0M-8.8 8.5h0M11.1 -0.9h0M-4.9 11.6h0M-6.5 12.4h0M10.4 -10.4h0" stroke="rgb(110,110,110)" stroke-width="1.5" stroke-linecap="round"/><path d="M13.4 3.3h0M-0.9 -3.1h0M-11.7 -11.5h0M-5.4 3.5h0M-10.7 4.9h0M-9.4 6.4h0" stroke="rgb(110,110,110)" stroke-width="0.7" stroke-linecap="round"/><path d="M-6.0 -9.0h0M0.7 -5.2h0" stroke="rgb(110,110,110)" stroke-width="1.0" stroke-linecap="round"/><path d="M-10.1 -5.3h0M-11.4 6.3h0M4.2 -7.3h0M5.4 12.4h0" stroke="rgb(70,70,70)" stroke-width="1.0" stroke-linecap="round"/><path d="M5.3 5.3h0M-10.9 -2.0h0M15.7 2.9h0M8.4 2.9h0M4.9 2.6h0" stroke="rgb(70,70,70)" stroke-width="1.5" stroke-linecap="round"/><path d="M4.6 -2.9h0M9.7 13.2h0M12.4 4.4h0M7.7 -14.8h0" stroke="rgb(70,70,70)" stroke-width="0.7" stroke-linecap="round"/><path d="M9.6 5.8h0M0.0 9.0h0M6.0 -14.6h0M-5.2 -1.5h0M-9.5 10.0h0M4.5 -11.8h0M11.9 9.0h0M0.8 2.9h0M-2.1 -6.2h0" stroke="rgb(40,40,40)" stroke-width="1.0" stroke-linecap="round"/><path d="M13.5 -8.9h0M-0.5 -1.7h0M-3.8 4.9h0M8.0 -9.5h0M-10.5 -3.0h0" stroke="rgb(40,40,40)" stroke-width="1.5" stroke-linecap="round"/><path d="M-10.9 -4.7h0M-9.9 -0.4h0M14.4 2.8h0M-11.9 -9.1h0M-5.8 7.2h0" stroke="rgb(40,40,40)" stroke-width="0.7" stroke-linecap="round"/><path d="M4.7 5.5h0" stroke="rgb(15,15,15)" stroke-width="2.5" stroke-linecap="round"/></g></g><circle r="17.6" fill="none" stroke="#000" stroke-width="1.9"/></g>
<g transform="translate(501.50,944.80)"><circle r="17.9" fill="rgb(226,226,226)"/><g clip-path="url(#dc)"><g filter="url(#soft2)"><path d="M9.7 -11.3h0M-13.2 0.2h0M7.8 -8.1h0" stroke="rgb(216,216,216)" stroke-width="1.4" stroke-linecap="round"/><path d="M8.7 -1.3h0M7.4 5.3h0M8.7 -13.5h0M-11.5 6.8h0M-4.6 7.4h0M-3.2 13.3h0M-5.6 -8.3h0M-10.8 10.1h0M-11.0 -10.8h0M-2.7 -3.7h0" stroke="rgb(216,216,216)" stroke-width="1.0" stroke-linecap="round"/><path d="M8.1 6.6h0M-8.1 -3.3h0M-2.2 11.5h0M3.3 -5.1h0M-12.2 -8.1h0M10.5 2.5h0M5.1 -12.3h0M4.2 -2.5h0M-0.6 -12.9h0M-11.3 -10.8h0M0.5 -6.3h0M2.9 7.8h0M-2.8 -5.0h0" stroke="rgb(208,208,208)" stroke-width="1.4" stroke-linecap="round"/><path d="M2.8 -7.9h0M0.3 -15.8h0M-2.7 2.6h0M-4.1 15.8h0M-11.2 4.6h0" stroke="rgb(208,208,208)" stroke-width="1.0" stroke-linecap="round"/><path d="M0.4 11.8h0M11.5 -3.9h0M13.1 -3.1h0M-4.6 8.9h0M-11.3 6.0h0M0.5 8.0h0M-0.7 -8.2h0M-5.9 5.4h0" stroke="rgb(200,200,200)" stroke-width="1.4" stroke-linecap="round"/><path d="M-1.5 8.3h0M-9.7 9.2h0M10.2 13.0h0M-1.9 -2.3h0M2.8 -15.9h0M-7.7 -9.9h0" stroke="rgb(200,200,200)" stroke-width="1.0" stroke-linecap="round"/><path d="M9.5 12.7h0M-9.1 -1.4h0M-0.2 9.6h0M-7.5 5.3h0M5.2 -6.9h0" stroke="rgb(110,110,110)" stroke-width="0.7" stroke-linecap="round"/><path d="M-1.0 -1.6h0M-10.2 -2.4h0M0.6 9.2h0M-6.5 14.5h0" stroke="rgb(110,110,110)" stroke-width="1.4" stroke-linecap="round"/><path d="M-2.0 -15.1h0M1.7 3.9h0" stroke="rgb(110,110,110)" stroke-width="1.0" stroke-linecap="round"/><path d="M1.9 -3.0h0M1.3 11.3h0M-5.2 12.8h0M7.7 3.0h0" stroke="rgb(70,70,70)" stroke-width="1.0" stroke-linecap="round"/><path d="M8.4 -6.3h0M-13.3 -3.8h0" stroke="rgb(70,70,70)" stroke-width="0.7" stroke-linecap="round"/><path d="M-5.6 5.3h0M-3.3 -13.5h0M-10.4 -2.5h0" stroke="rgb(70,70,70)" stroke-width="1.4" stroke-linecap="round"/><path d="M12.9 -10.7h0M13.7 -7.1h0M-14.3 4.4h0M-4.9 12.4h0M-12.1 -2.2h0" stroke="rgb(40,40,40)" stroke-width="1.4" stroke-linecap="round"/><path d="M-0.1 0.8h0M-14.8 1.7h0M-8.1 3.4h0" stroke="rgb(40,40,40)" stroke-width="0.7" stroke-linecap="round"/><path d="M-7.7 0.5h0" stroke="rgb(40,40,40)" stroke-width="1.0" stroke-linecap="round"/></g></g><circle r="17.6" fill="none" stroke="#000" stroke-width="1.9"/></g>
<text x="70.10" y="974.80" font-size="11" text-anchor="middle" fill="#111" stroke="#111" stroke-width="0.22">5</text>
<text x="307.00" y="974.80" font-size="11" text-anchor="middle" fill="#111" stroke="#111" stroke-width="0.22">5</text>
<text x="108.86" y="974.80" font-size="11" text-anchor="middle" fill="#111" stroke="#111" stroke-width="0.22">6</text>
<text x="345.90" y="974.80" font-size="11" text-anchor="middle" fill="#111" stroke="#111" stroke-width="0.22">6</text>
<text x="147.62" y="974.80" font-size="11" text-anchor="middle" fill="#111" stroke="#111" stroke-width="0.22">7</text>
<text x="384.80" y="974.80" font-size="11" text-anchor="middle" fill="#111" stroke="#111" stroke-width="0.22">7</text>
<text x="186.38" y="974.80" font-size="11" text-anchor="middle" fill="#111" stroke="#111" stroke-width="0.22">8</text>
<text x="423.70" y="974.80" font-size="11" text-anchor="middle" fill="#111" stroke="#111" stroke-width="0.22">8</text>
<text x="225.14" y="974.80" font-size="11" text-anchor="middle" fill="#111" stroke="#111" stroke-width="0.22">9</text>
<text x="462.60" y="974.80" font-size="11" text-anchor="middle" fill="#111" stroke="#111" stroke-width="0.22">9</text>
<text x="263.90" y="974.80" font-size="11" text-anchor="middle" fill="#111" stroke="#111" stroke-width="0.22">10</text>
<text x="501.50" y="974.80" font-size="11" text-anchor="middle" fill="#111" stroke="#111" stroke-width="0.22">10</text>
<defs><linearGradient id="cb" x1="0" x2="1" y1="0" y2="0"><stop offset="0" stop-color="#4574b4"/><stop offset="0.1" stop-color="#5f93c6"/><stop offset="0.2" stop-color="#93c0da"/><stop offset="0.27" stop-color="#cfe6df"/><stop offset="0.33" stop-color="#fbfbbf"/><stop offset="0.45" stop-color="#fee39a"/><stop offset="0.6" stop-color="#fdbf73"/><stop offset="0.72" stop-color="#fb9a5a"/><stop offset="0.86" stop-color="#f06a43"/><stop offset="1" stop-color="#d73027"/></linearGradient></defs>
<text x="653.80" y="328.50" font-size="12.6" text-anchor="middle" fill="#111" stroke="#111" stroke-width="0.22">HONE1 TRE-SOX1</text>
<rect x="572.70" y="333.40" width="27.28" height="27.73" fill="#4a7fbf"/>
<rect x="599.68" y="333.40" width="27.28" height="27.73" fill="#4a7fbf"/>
<rect x="626.67" y="333.40" width="27.28" height="27.73" fill="#4b7dbc"/>
<rect x="653.65" y="333.40" width="27.28" height="27.73" fill="#4a7bba"/>
<rect x="680.63" y="333.40" width="27.28" height="27.73" fill="#5a90c4"/>
<rect x="707.62" y="333.40" width="27.28" height="27.73" fill="#6399c9"/>
<text x="565.30" y="351.02" font-size="10.6" text-anchor="middle" fill="#111" stroke="#111" stroke-width="0.22">17</text>
<rect x="572.70" y="360.83" width="27.28" height="27.73" fill="#6aa3cf"/>
<rect x="599.68" y="360.83" width="27.28" height="27.73" fill="#4b80bd"/>
<rect x="626.67" y="360.83" width="27.28" height="27.73" fill="#4b7dbc"/>
<rect x="653.65" y="360.83" width="27.28" height="27.73" fill="#3f6fb5"/>
<rect x="680.63" y="360.83" width="27.28" height="27.73" fill="#5f95c7"/>
<rect x="707.62" y="360.83" width="27.28" height="27.73" fill="#4b80bd"/>
<text x="565.30" y="378.45" font-size="10.6" text-anchor="middle" fill="#111" stroke="#111" stroke-width="0.22">18</text>
<rect x="572.70" y="388.27" width="27.28" height="27.73" fill="#80b5d3"/>
<rect x="599.68" y="388.27" width="27.28" height="27.73" fill="#5189c2"/>
<rect x="626.67" y="388.27" width="27.28" height="27.73" fill="#558dc3"/>
<rect x="653.65" y="388.27" width="27.28" height="27.73" fill="#4a7fbc"/>
<rect x="680.63" y="388.27" width="27.28" height="27.73" fill="#6399c9"/>
<rect x="707.62" y="388.27" width="27.28" height="27.73" fill="#4f85bf"/>
<text x="565.30" y="405.88" font-size="10.6" text-anchor="middle" fill="#111" stroke="#111" stroke-width="0.22">19</text>
<rect x="572.70" y="415.70" width="27.28" height="27.73" fill="#a3c9cf"/>
<rect x="599.68" y="415.70" width="27.28" height="27.73" fill="#76aed3"/>
<rect x="626.67" y="415.70" width="27.28" height="27.73" fill="#5f96c8"/>
<rect x="653.65" y="415.70" width="27.28" height="27.73" fill="#4c82be"/>
<rect x="680.63" y="415.70" width="27.28" height="27.73" fill="#5a90c5"/>
<rect x="707.62" y="415.70" width="27.28" height="27.73" fill="#4777b9"/>
<text x="565.30" y="433.32" font-size="10.6" text-anchor="middle" fill="#111" stroke="#111" stroke-width="0.22">20</text>
<rect x="572.70" y="443.13" width="27.28" height="27.73" fill="#fdf2ab"/>
<rect x="599.68" y="443.13" width="27.28" height="27.73" fill="#b8d5c9"/>
<rect x="626.67" y="443.13" width="27.28" height="27.73" fill="#70a8d0"/>
<rect x="653.65" y="443.13" width="27.28" height="27.73" fill="#4c82be"/>
<rect x="680.63" y="443.13" width="27.28" height="27.73" fill="#72abd2"/>
<rect x="707.62" y="443.13" width="27.28" height="27.73" fill="#5a90c5"/>
<text x="565.30" y="460.75" font-size="10.6" text-anchor="middle" fill="#111" stroke="#111" stroke-width="0.22">21</text>
<rect x="572.70" y="470.57" width="27.28" height="27.73" fill="#fefbbd"/>
<rect x="599.68" y="470.57" width="27.28" height="27.73" fill="#c2dbc7"/>
<rect x="626.67" y="470.57" width="27.28" height="27.73" fill="#79b0d1"/>
<rect x="653.65" y="470.57" width="27.28" height="27.73" fill="#5b91c6"/>
<rect x="680.63" y="470.57" width="27.28" height="27.73" fill="#64a0cd"/>
<rect x="707.62" y="470.57" width="27.28" height="27.73" fill="#4c80bd"/>
<text x="565.30" y="488.18" font-size="10.6" text-anchor="middle" fill="#111" stroke="#111" stroke-width="0.22">22</text>
<rect x="572.70" y="498.00" width="27.28" height="27.73" fill="#f99d58"/>
<rect x="599.68" y="498.00" width="27.28" height="27.73" fill="#fdd58a"/>
<rect x="626.67" y="498.00" width="27.28" height="27.73" fill="#f5f7c4"/>
<rect x="653.65" y="498.00" width="27.28" height="27.73" fill="#a7cbcd"/>
<rect x="680.63" y="498.00" width="27.28" height="27.73" fill="#6fa8d1"/>
<rect x="707.62" y="498.00" width="27.28" height="27.73" fill="#5d93c6"/>
<text x="565.30" y="515.62" font-size="10.6" text-anchor="middle" fill="#111" stroke="#111" stroke-width="0.22">23</text>
<rect x="572.70" y="525.43" width="27.28" height="27.73" fill="#ec5f3c"/>
<rect x="599.68" y="525.43" width="27.28" height="27.73" fill="#f88a4e"/>
<rect x="626.67" y="525.43" width="27.28" height="27.73" fill="#f9a35c"/>
<rect x="653.65" y="525.43" width="27.28" height="27.73" fill="#fefbbb"/>
<rect x="680.63" y="525.43" width="27.28" height="27.73" fill="#a9cbcc"/>
<rect x="707.62" y="525.43" width="27.28" height="27.73" fill="#8fbcd3"/>
<text x="565.30" y="543.05" font-size="10.6" text-anchor="middle" fill="#111" stroke="#111" stroke-width="0.22">24</text>
<rect x="572.70" y="552.87" width="27.28" height="27.73" fill="#d63527"/>
<rect x="599.68" y="552.87" width="27.28" height="27.73" fill="#f26b3e"/>
<rect x="626.67" y="552.87" width="27.28" height="27.73" fill="#f47b46"/>
<rect x="653.65" y="552.87" width="27.28" height="27.73" fill="#fdb468"/>
<rect x="680.63" y="552.87" width="27.28" height="27.73" fill="#fec278"/>
<rect x="707.62" y="552.87" width="27.28" height="27.73" fill="#fdf0a6"/>
<text x="565.30" y="570.48" font-size="10.6" text-anchor="middle" fill="#111" stroke="#111" stroke-width="0.22">25</text>
<rect x="573.40" y="334.10" width="160.50" height="245.50" fill="none" stroke="#000" stroke-width="1.5"/>
<line x1="555.80" y1="333.90" x2="555.80" y2="579.80" stroke="#111" stroke-width="1.6"/>
<text transform="translate(551.70,453.85) rotate(-90)" x="0" y="0" font-size="10.8" text-anchor="middle" fill="#111" stroke="#111" stroke-width="0.22">End point of observation (days)</text>
<text x="586.19" y="592.00" font-size="11.2" text-anchor="middle" fill="#111" stroke="#111" stroke-width="0.22">5</text>
<text x="613.18" y="592.00" font-size="11.2" text-anchor="middle" fill="#111" stroke="#111" stroke-width="0.22">6</text>
<text x="640.16" y="592.00" font-size="11.2" text-anchor="middle" fill="#111" stroke="#111" stroke-width="0.22">7</text>
<text x="667.14" y="592.00" font-size="11.2" text-anchor="middle" fill="#111" stroke="#111" stroke-width="0.22">8</text>
<text x="694.12" y="592.00" font-size="11.2" text-anchor="middle" fill="#111" stroke="#111" stroke-width="0.22">9</text>
<text x="721.11" y="592.00" font-size="11.2" text-anchor="middle" fill="#111" stroke="#111" stroke-width="0.22">10</text>
<line x1="573.20" y1="596.10" x2="734.60" y2="596.10" stroke="#111" stroke-width="1.5"/>
<text x="653.90" y="607.60" font-size="11.2" text-anchor="middle" fill="#111" stroke="#111" stroke-width="0.22">Paclitaxel clearance time (days)</text>
<text x="655.50" y="622.60" font-size="11.2" text-anchor="middle" fill="#111" stroke="#111" stroke-width="0.22">Log2(Average cell area)</text>
<rect x="573.7" y="628.70" width="160.8" height="10.8" fill="url(#cb)" stroke="#111" stroke-width="1"/>
<text x="584.90" y="651.30" font-size="11.2" text-anchor="middle" fill="#111" stroke="#111" stroke-width="0.22">2</text>
<text x="617.50" y="651.30" font-size="11.2" text-anchor="middle" fill="#111" stroke="#111" stroke-width="0.22">3</text>
<text x="650.70" y="651.30" font-size="11.2" text-anchor="middle" fill="#111" stroke="#111" stroke-width="0.22">4</text>
<text x="684.10" y="651.30" font-size="11.2" text-anchor="middle" fill="#111" stroke="#111" stroke-width="0.22">5</text>
<text x="716.70" y="651.30" font-size="11.2" text-anchor="middle" fill="#111" stroke="#111" stroke-width="0.22">6</text>
<text x="653.80" y="669.70" font-size="12.6" text-anchor="middle" fill="#111" stroke="#111" stroke-width="0.22">CNE2 TRE-SOX1</text>
<rect x="572.70" y="673.00" width="27.28" height="27.83" fill="#64a0cd"/>
<rect x="599.68" y="673.00" width="27.28" height="27.83" fill="#88bad0"/>
<rect x="626.67" y="673.00" width="27.28" height="27.83" fill="#5e96c8"/>
<rect x="653.65" y="673.00" width="27.28" height="27.83" fill="#8dbdd0"/>
<rect x="680.63" y="673.00" width="27.28" height="27.83" fill="#5a90c5"/>
<rect x="707.62" y="673.00" width="27.28" height="27.83" fill="#8cbcd0"/>
<text x="565.30" y="690.67" font-size="10.6" text-anchor="middle" fill="#111" stroke="#111" stroke-width="0.22">17</text>
<rect x="572.70" y="700.53" width="27.28" height="27.83" fill="#4d83bf"/>
<rect x="599.68" y="700.53" width="27.28" height="27.83" fill="#6aa5d0"/>
<rect x="626.67" y="700.53" width="27.28" height="27.83" fill="#4f84bf"/>
<rect x="653.65" y="700.53" width="27.28" height="27.83" fill="#4374b7"/>
<rect x="680.63" y="700.53" width="27.28" height="27.83" fill="#4e83bf"/>
<rect x="707.62" y="700.53" width="27.28" height="27.83" fill="#5086c0"/>
<text x="565.30" y="718.20" font-size="10.6" text-anchor="middle" fill="#111" stroke="#111" stroke-width="0.22">18</text>
<rect x="572.70" y="728.07" width="27.28" height="27.83" fill="#5890c6"/>
<rect x="599.68" y="728.07" width="27.28" height="27.83" fill="#66a2ce"/>
<rect x="626.67" y="728.07" width="27.28" height="27.83" fill="#4374b7"/>
<rect x="653.65" y="728.07" width="27.28" height="27.83" fill="#558bc3"/>
<rect x="680.63" y="728.07" width="27.28" height="27.83" fill="#4778b9"/>
<rect x="707.62" y="728.07" width="27.28" height="27.83" fill="#4f84bf"/>
<text x="565.30" y="745.73" font-size="10.6" text-anchor="middle" fill="#111" stroke="#111" stroke-width="0.22">19</text>
<rect x="572.70" y="755.60" width="27.28" height="27.83" fill="#cde2c8"/>
<rect x="599.68" y="755.60" width="27.28" height="27.83" fill="#66a2ce"/>
<rect x="626.67" y="755.60" width="27.28" height="27.83" fill="#4777b9"/>
<rect x="653.65" y="755.60" width="27.28" height="27.83" fill="#4c80bd"/>
<rect x="680.63" y="755.60" width="27.28" height="27.83" fill="#4c80bd"/>
<rect x="707.62" y="755.60" width="27.28" height="27.83" fill="#5a90c5"/>
<text x="565.30" y="773.27" font-size="10.6" text-anchor="middle" fill="#111" stroke="#111" stroke-width="0.22">20</text>
<rect x="572.70" y="783.13" width="27.28" height="27.83" fill="#9fc7ce"/>
<rect x="599.68" y="783.13" width="27.28" height="27.83" fill="#6fa9d1"/>
<rect x="626.67" y="783.13" width="27.28" height="27.83" fill="#6aa5d0"/>
<rect x="653.65" y="783.13" width="27.28" height="27.83" fill="#5b92c6"/>
<rect x="680.63" y="783.13" width="27.28" height="27.83" fill="#5a90c5"/>
<rect x="707.62" y="783.13" width="27.28" height="27.83" fill="#72acd2"/>
<text x="565.30" y="800.80" font-size="10.6" text-anchor="middle" fill="#111" stroke="#111" stroke-width="0.22">21</text>
<rect x="572.70" y="810.67" width="27.28" height="27.83" fill="#fde298"/>
<rect x="599.68" y="810.67" width="27.28" height="27.83" fill="#e5f0c8"/>
<rect x="626.67" y="810.67" width="27.28" height="27.83" fill="#cbe0c8"/>
<rect x="653.65" y="810.67" width="27.28" height="27.83" fill="#5d94c7"/>
<rect x="680.63" y="810.67" width="27.28" height="27.83" fill="#5890c5"/>
<rect x="707.62" y="810.67" width="27.28" height="27.83" fill="#5187c1"/>
<text x="565.30" y="828.33" font-size="10.6" text-anchor="middle" fill="#111" stroke="#111" stroke-width="0.22">22</text>
<rect x="572.70" y="838.20" width="27.28" height="27.83" fill="#fba85f"/>
<rect x="599.68" y="838.20" width="27.28" height="27.83" fill="#fdc67e"/>
<rect x="626.67" y="838.20" width="27.28" height="27.83" fill="#fde195"/>
<rect x="653.65" y="838.20" width="27.28" height="27.83" fill="#6ea8d1"/>
<rect x="680.63" y="838.20" width="27.28" height="27.83" fill="#69a3cf"/>
<rect x="707.62" y="838.20" width="27.28" height="27.83" fill="#5890c5"/>
<text x="565.30" y="855.87" font-size="10.6" text-anchor="middle" fill="#111" stroke="#111" stroke-width="0.22">23</text>
<rect x="572.70" y="865.73" width="27.28" height="27.83" fill="#e84f35"/>
<rect x="599.68" y="865.73" width="27.28" height="27.83" fill="#fca862"/>
<rect x="626.67" y="865.73" width="27.28" height="27.83" fill="#fdd588"/>
<rect x="653.65" y="865.73" width="27.28" height="27.83" fill="#fefcbf"/>
<rect x="680.63" y="865.73" width="27.28" height="27.83" fill="#e2efc6"/>
<rect x="707.62" y="865.73" width="27.28" height="27.83" fill="#6aa3cf"/>
<text x="565.30" y="883.40" font-size="10.6" text-anchor="middle" fill="#111" stroke="#111" stroke-width="0.22">24</text>
<rect x="572.70" y="893.27" width="27.28" height="27.83" fill="#d52e26"/>
<rect x="599.68" y="893.27" width="27.28" height="27.83" fill="#d83326"/>
<rect x="626.67" y="893.27" width="27.28" height="27.83" fill="#f98b4f"/>
<rect x="653.65" y="893.27" width="27.28" height="27.83" fill="#fca65e"/>
<rect x="680.63" y="893.27" width="27.28" height="27.83" fill="#fef3ae"/>
<rect x="707.62" y="893.27" width="27.28" height="27.83" fill="#a1c7cc"/>
<text x="565.30" y="910.93" font-size="10.6" text-anchor="middle" fill="#111" stroke="#111" stroke-width="0.22">25</text>
<rect x="573.40" y="673.70" width="160.50" height="246.40" fill="none" stroke="#000" stroke-width="1.5"/>
<line x1="555.80" y1="673.50" x2="555.80" y2="920.30" stroke="#111" stroke-width="1.6"/>
<text transform="translate(551.70,793.90) rotate(-90)" x="0" y="0" font-size="10.8" text-anchor="middle" fill="#111" stroke="#111" stroke-width="0.22">End point of observation (days)</text>
<text x="586.19" y="932.50" font-size="11.2" text-anchor="middle" fill="#111" stroke="#111" stroke-width="0.22">5</text>
<text x="613.18" y="932.50" font-size="11.2" text-anchor="middle" fill="#111" stroke="#111" stroke-width="0.22">6</text>
<text x="640.16" y="932.50" font-size="11.2" text-anchor="middle" fill="#111" stroke="#111" stroke-width="0.22">7</text>
<text x="667.14" y="932.50" font-size="11.2" text-anchor="middle" fill="#111" stroke="#111" stroke-width="0.22">8</text>
<text x="694.12" y="932.50" font-size="11.2" text-anchor="middle" fill="#111" stroke="#111" stroke-width="0.22">9</text>
<text x="721.11" y="932.50" font-size="11.2" text-anchor="middle" fill="#111" stroke="#111" stroke-width="0.22">10</text>
<line x1="573.20" y1="936.60" x2="734.60" y2="936.60" stroke="#111" stroke-width="1.5"/>
<text x="653.90" y="948.10" font-size="11.2" text-anchor="middle" fill="#111" stroke="#111" stroke-width="0.22">Paclitaxel clearance time (days)</text>
<text x="655.50" y="963.10" font-size="11.2" text-anchor="middle" fill="#111" stroke="#111" stroke-width="0.22">Log2(Average cell area)</text>
<rect x="573.7" y="969.20" width="160.8" height="10.8" fill="url(#cb)" stroke="#111" stroke-width="1"/>
<text x="591.70" y="991.80" font-size="11.2" text-anchor="middle" fill="#111" stroke="#111" stroke-width="0.22">2</text>
<text x="624.30" y="991.80" font-size="11.2" text-anchor="middle" fill="#111" stroke="#111" stroke-width="0.22">4</text>
<text x="657.50" y="991.80" font-size="11.2" text-anchor="middle" fill="#111" stroke="#111" stroke-width="0.22">6</text>
<text x="690.10" y="991.80" font-size="11.2" text-anchor="middle" fill="#111" stroke="#111" stroke-width="0.22">8</text>
<text x="723.50" y="991.80" font-size="11.2" text-anchor="middle" fill="#111" stroke="#111" stroke-width="0.22">10</text>
</svg></body></html>
